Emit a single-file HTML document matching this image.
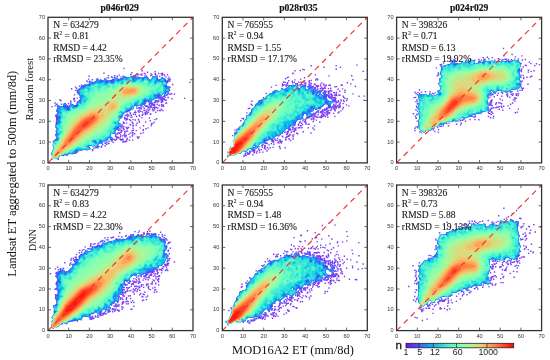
<!DOCTYPE html><html><head><meta charset="utf-8"><style>html,body{margin:0;padding:0;background:#fff;}svg{display:block}</style></head><body>
<svg width="550" height="360" viewBox="0 0 550 360">
<rect width="550" height="360" fill="#fff"/>
<defs><filter id="bl" x="-5%" y="-5%" width="110%" height="110%"><feGaussianBlur stdDeviation="0.45"/></filter><linearGradient id="cb" x1="0" x2="1" y1="0" y2="0"><stop offset="0.00" stop-color="#8000ff"/><stop offset="0.10" stop-color="#4e4dfc"/><stop offset="0.20" stop-color="#1996f3"/><stop offset="0.30" stop-color="#18cde4"/><stop offset="0.40" stop-color="#4df3ce"/><stop offset="0.50" stop-color="#80ffb4"/><stop offset="0.60" stop-color="#b2f396"/><stop offset="0.70" stop-color="#e6cd73"/><stop offset="0.80" stop-color="#ff964f"/><stop offset="0.90" stop-color="#ff4d27"/><stop offset="1.00" stop-color="#ff0000"/></linearGradient></defs>
<g filter="url(#bl)">
<path fill="#5a58f2" d="M165.4 94.4h1.4v1.4h-1.4zM119.5 124.7h1.4v1.4h-1.4zM119.2 127.5h1.4v1.4h-1.4zM127.1 113.9h1.4v1.4h-1.4zM104.7 142.6h1.4v1.4h-1.4zM94.9 146.8h1.4v1.4h-1.4zM154.7 100.1h1.4v1.4h-1.4zM105.1 142.4h1.4v1.4h-1.4zM109.7 139.1h1.4v1.4h-1.4zM154.5 101.3h1.4v1.4h-1.4zM114.9 133.9h1.4v1.4h-1.4zM97.4 145.5h1.4v1.4h-1.4zM145.6 105.3h1.4v1.4h-1.4zM138.9 107.2h1.4v1.4h-1.4zM158.3 98.3h1.4v1.4h-1.4zM104.3 142.4h1.4v1.4h-1.4zM148.6 103.8h1.4v1.4h-1.4zM140.3 106.1h1.4v1.4h-1.4zM159.0 97.5h1.4v1.4h-1.4zM116.2 133.2h1.4v1.4h-1.4zM160.3 96.4h1.4v1.4h-1.4zM108.1 140.8h1.4v1.4h-1.4zM166.8 93.8h1.4v1.4h-1.4zM106.1 141.4h1.4v1.4h-1.4zM166.0 93.9h1.4v1.4h-1.4zM111.0 140.0h1.4v1.4h-1.4zM161.7 97.1h1.4v1.4h-1.4zM116.8 133.4h1.4v1.4h-1.4zM124.6 114.7h1.4v1.4h-1.4zM93.3 147.6h1.4v1.4h-1.4zM98.4 145.9h1.4v1.4h-1.4zM160.2 97.1h1.4v1.4h-1.4zM129.4 111.9h1.4v1.4h-1.4zM145.1 105.8h1.4v1.4h-1.4zM161.0 97.2h1.4v1.4h-1.4zM118.1 129.6h1.4v1.4h-1.4zM124.5 114.8h1.4v1.4h-1.4zM114.9 135.2h1.4v1.4h-1.4zM154.3 101.8h1.4v1.4h-1.4zM162.7 95.7h1.4v1.4h-1.4zM111.8 138.9h1.4v1.4h-1.4zM144.1 104.5h1.4v1.4h-1.4zM150.4 103.2h1.4v1.4h-1.4zM167.7 93.2h1.4v1.4h-1.4zM123.9 116.7h1.4v1.4h-1.4zM140.3 107.4h1.4v1.4h-1.4zM142.5 106.2h1.4v1.4h-1.4zM118.5 129.6h1.4v1.4h-1.4zM105.0 142.3h1.4v1.4h-1.4zM120.3 126.1h1.4v1.4h-1.4zM138.4 107.0h1.4v1.4h-1.4zM160.1 98.1h1.4v1.4h-1.4zM117.0 132.7h1.4v1.4h-1.4zM111.0 140.0h1.4v1.4h-1.4zM153.5 102.1h1.4v1.4h-1.4zM114.8 135.8h1.4v1.4h-1.4zM167.4 92.8h1.4v1.4h-1.4zM95.3 146.9h1.4v1.4h-1.4zM160.5 96.7h1.4v1.4h-1.4zM155.4 99.9h1.4v1.4h-1.4zM91.8 148.9h1.4v1.4h-1.4zM96.6 145.7h1.4v1.4h-1.4zM110.6 138.5h1.4v1.4h-1.4zM126.4 113.6h1.4v1.4h-1.4zM166.0 94.5h1.4v1.4h-1.4zM96.2 146.8h1.4v1.4h-1.4zM149.1 103.1h1.4v1.4h-1.4zM161.9 96.6h1.4v1.4h-1.4zM102.1 143.8h1.4v1.4h-1.4zM155.0 100.9h1.4v1.4h-1.4zM117.7 129.1h1.4v1.4h-1.4zM145.7 75.6h1.4v1.4h-1.4zM155.2 74.2h1.4v1.4h-1.4zM169.3 86.5h1.4v1.4h-1.4zM168.9 89.9h1.4v1.4h-1.4zM158.9 75.7h1.4v1.4h-1.4zM113.8 76.8h1.4v1.4h-1.4zM56.4 103.5h1.4v1.4h-1.4zM155.4 101.1h1.4v1.4h-1.4zM163.5 95.7h1.4v1.4h-1.4zM148.6 103.4h1.4v1.4h-1.4zM161.3 74.5h1.4v1.4h-1.4zM153.8 101.8h1.4v1.4h-1.4zM74.0 100.5h1.4v1.4h-1.4zM161.6 74.1h1.4v1.4h-1.4zM70.2 102.6h1.4v1.4h-1.4zM123.6 76.3h1.4v1.4h-1.4zM152.6 75.9h1.4v1.4h-1.4zM96.5 77.9h1.4v1.4h-1.4zM120.2 76.4h1.4v1.4h-1.4zM87.2 81.2h1.4v1.4h-1.4zM75.2 89.7h1.4v1.4h-1.4zM63.5 103.2h1.4v1.4h-1.4zM122.6 75.8h1.4v1.4h-1.4zM97.4 78.8h1.4v1.4h-1.4zM144.2 75.3h1.4v1.4h-1.4zM141.2 74.6h1.4v1.4h-1.4zM164.1 94.3h1.4v1.4h-1.4zM145.5 105.7h1.4v1.4h-1.4zM150.2 102.6h1.4v1.4h-1.4zM67.8 103.1h1.4v1.4h-1.4zM130.6 75.5h1.4v1.4h-1.4zM168.3 78.3h1.4v1.4h-1.4zM116.5 76.1h1.4v1.4h-1.4zM107.9 77.2h1.4v1.4h-1.4zM114.4 76.9h1.4v1.4h-1.4zM111.7 76.8h1.4v1.4h-1.4zM156.6 75.2h1.4v1.4h-1.4zM167.7 92.6h1.4v1.4h-1.4zM168.2 80.0h1.4v1.4h-1.4zM168.5 89.0h1.4v1.4h-1.4zM130.4 75.8h1.4v1.4h-1.4zM55.5 103.7h1.4v1.4h-1.4zM106.3 77.2h1.4v1.4h-1.4zM139.1 107.2h1.4v1.4h-1.4zM104.1 78.0h1.4v1.4h-1.4zM63.4 103.7h1.4v1.4h-1.4zM64.7 103.0h1.4v1.4h-1.4zM138.0 107.4h1.4v1.4h-1.4zM163.0 95.4h1.4v1.4h-1.4zM168.8 87.4h1.4v1.4h-1.4zM89.0 80.6h1.4v1.4h-1.4zM168.8 86.8h1.4v1.4h-1.4zM156.8 100.1h1.4v1.4h-1.4zM75.4 89.8h1.4v1.4h-1.4zM64.1 102.9h1.4v1.4h-1.4zM91.6 79.0h1.4v1.4h-1.4zM95.7 79.3h1.4v1.4h-1.4zM124.7 76.2h1.4v1.4h-1.4zM146.0 75.9h1.4v1.4h-1.4zM64.4 103.0h1.4v1.4h-1.4zM167.4 78.2h1.4v1.4h-1.4zM168.9 86.9h1.4v1.4h-1.4zM75.9 87.9h1.4v1.4h-1.4zM60.9 103.5h1.4v1.4h-1.4zM79.0 85.5h1.4v1.4h-1.4zM76.0 87.6h1.4v1.4h-1.4zM133.2 75.1h1.4v1.4h-1.4zM150.4 102.6h1.4v1.4h-1.4zM169.3 78.9h1.4v1.4h-1.4zM80.8 84.4h1.4v1.4h-1.4zM169.5 78.5h1.4v1.4h-1.4zM150.1 74.9h1.4v1.4h-1.4zM54.4 105.2h1.4v1.4h-1.4zM165.3 76.4h1.4v1.4h-1.4zM136.2 107.6h1.4v1.4h-1.4zM169.1 80.4h1.4v1.4h-1.4zM139.3 107.7h1.4v1.4h-1.4zM89.1 81.0h1.4v1.4h-1.4zM160.6 96.8h1.4v1.4h-1.4zM163.9 74.9h1.4v1.4h-1.4zM70.0 102.2h1.4v1.4h-1.4zM79.2 96.7h1.4v1.4h-1.4zM151.7 103.3h1.4v1.4h-1.4zM122.3 75.6h1.4v1.4h-1.4zM110.8 76.1h1.4v1.4h-1.4zM167.9 92.2h1.4v1.4h-1.4zM77.3 93.3h1.4v1.4h-1.4z"/>
<path fill="#7e3cf4" d="M126.8 130.4h1.4v1.4h-1.4zM115.8 138.6h1.4v1.4h-1.4zM116.6 137.0h1.4v1.4h-1.4zM141.8 111.3h1.4v1.4h-1.4zM121.7 124.4h1.4v1.4h-1.4zM120.4 139.6h1.4v1.4h-1.4zM135.2 111.9h1.4v1.4h-1.4zM122.9 141.0h1.4v1.4h-1.4zM149.3 107.0h1.4v1.4h-1.4zM154.4 106.5h1.4v1.4h-1.4zM144.4 111.6h1.4v1.4h-1.4zM146.3 109.3h1.4v1.4h-1.4zM125.8 117.7h1.4v1.4h-1.4zM121.4 125.6h1.4v1.4h-1.4zM139.5 127.2h1.4v1.4h-1.4zM116.0 136.3h1.4v1.4h-1.4zM138.4 136.3h1.4v1.4h-1.4zM142.8 125.1h1.4v1.4h-1.4zM141.3 117.2h1.4v1.4h-1.4zM138.5 120.4h1.4v1.4h-1.4zM144.7 113.8h1.4v1.4h-1.4zM143.5 107.6h1.4v1.4h-1.4zM149.8 105.7h1.4v1.4h-1.4zM138.6 114.6h1.4v1.4h-1.4zM126.8 115.8h1.4v1.4h-1.4zM122.8 122.7h1.4v1.4h-1.4zM120.8 129.4h1.4v1.4h-1.4zM138.3 111.6h1.4v1.4h-1.4zM132.4 125.4h1.4v1.4h-1.4zM122.2 141.3h1.4v1.4h-1.4zM158.4 104.4h1.4v1.4h-1.4zM142.4 132.2h1.4v1.4h-1.4zM146.0 113.0h1.4v1.4h-1.4zM159.9 109.8h1.4v1.4h-1.4zM134.5 110.4h1.4v1.4h-1.4zM121.2 127.2h1.4v1.4h-1.4zM132.8 129.5h1.4v1.4h-1.4zM129.7 132.2h1.4v1.4h-1.4zM161.9 101.0h1.4v1.4h-1.4zM119.9 135.6h1.4v1.4h-1.4zM158.8 104.9h1.4v1.4h-1.4zM153.2 121.9h1.4v1.4h-1.4zM120.9 139.1h1.4v1.4h-1.4zM139.0 115.3h1.4v1.4h-1.4zM108.1 142.8h1.4v1.4h-1.4zM156.0 106.8h1.4v1.4h-1.4zM126.1 117.8h1.4v1.4h-1.4zM164.9 99.7h1.4v1.4h-1.4zM142.2 113.6h1.4v1.4h-1.4zM127.9 126.8h1.4v1.4h-1.4zM160.9 103.7h1.4v1.4h-1.4zM152.4 110.0h1.4v1.4h-1.4zM117.2 137.2h1.4v1.4h-1.4zM132.0 139.4h1.4v1.4h-1.4zM148.8 108.7h1.4v1.4h-1.4zM132.3 122.5h1.4v1.4h-1.4zM132.3 127.5h1.4v1.4h-1.4zM126.2 128.0h1.4v1.4h-1.4zM147.6 106.2h1.4v1.4h-1.4zM154.3 118.9h1.4v1.4h-1.4zM124.3 136.1h1.4v1.4h-1.4zM151.4 123.2h1.4v1.4h-1.4zM138.3 109.8h1.4v1.4h-1.4zM124.4 131.4h1.4v1.4h-1.4zM126.1 118.9h1.4v1.4h-1.4zM133.9 133.0h1.4v1.4h-1.4zM147.2 127.2h1.4v1.4h-1.4zM123.2 125.8h1.4v1.4h-1.4zM146.7 105.3h1.4v1.4h-1.4zM150.9 105.2h1.4v1.4h-1.4zM150.3 105.2h1.4v1.4h-1.4zM162.2 109.9h1.4v1.4h-1.4zM153.9 104.1h1.4v1.4h-1.4zM130.7 114.5h1.4v1.4h-1.4zM129.9 124.0h1.4v1.4h-1.4zM117.8 136.8h1.4v1.4h-1.4zM140.1 132.8h1.4v1.4h-1.4zM132.8 113.7h1.4v1.4h-1.4zM150.6 125.2h1.4v1.4h-1.4zM112.5 141.5h1.4v1.4h-1.4zM111.3 139.9h1.4v1.4h-1.4zM150.7 123.6h1.4v1.4h-1.4zM158.0 100.2h1.4v1.4h-1.4zM131.5 121.6h1.4v1.4h-1.4zM132.4 118.9h1.4v1.4h-1.4zM124.1 135.8h1.4v1.4h-1.4zM124.0 118.1h1.4v1.4h-1.4zM132.3 132.1h1.4v1.4h-1.4zM101.0 145.6h1.4v1.4h-1.4zM119.3 137.6h1.4v1.4h-1.4zM123.5 122.5h1.4v1.4h-1.4zM159.0 109.8h1.4v1.4h-1.4zM160.2 98.7h1.4v1.4h-1.4zM161.3 98.3h1.4v1.4h-1.4zM125.8 122.4h1.4v1.4h-1.4zM131.4 116.4h1.4v1.4h-1.4zM124.7 117.8h1.4v1.4h-1.4zM152.2 106.9h1.4v1.4h-1.4zM113.9 139.2h1.4v1.4h-1.4zM129.5 123.8h1.4v1.4h-1.4zM131.6 132.6h1.4v1.4h-1.4zM132.5 124.4h1.4v1.4h-1.4zM125.3 140.6h1.4v1.4h-1.4zM146.5 112.5h1.4v1.4h-1.4zM164.3 96.9h1.4v1.4h-1.4zM117.0 136.4h1.4v1.4h-1.4zM129.3 136.4h1.4v1.4h-1.4zM125.5 130.6h1.4v1.4h-1.4zM140.8 108.2h1.4v1.4h-1.4zM125.4 134.5h1.4v1.4h-1.4zM157.1 107.4h1.4v1.4h-1.4zM167.7 96.8h1.4v1.4h-1.4zM123.2 129.2h1.4v1.4h-1.4zM126.4 137.5h1.4v1.4h-1.4zM147.7 111.7h1.4v1.4h-1.4zM135.9 115.8h1.4v1.4h-1.4zM119.8 131.6h1.4v1.4h-1.4zM152.9 106.9h1.4v1.4h-1.4zM145.2 128.0h1.4v1.4h-1.4zM144.9 121.3h1.4v1.4h-1.4zM125.6 126.7h1.4v1.4h-1.4zM142.0 113.7h1.4v1.4h-1.4zM139.0 109.6h1.4v1.4h-1.4zM154.5 107.2h1.4v1.4h-1.4zM97.1 147.1h1.4v1.4h-1.4zM138.6 121.3h1.4v1.4h-1.4zM134.7 113.8h1.4v1.4h-1.4zM150.1 113.3h1.4v1.4h-1.4zM129.9 119.9h1.4v1.4h-1.4zM135.6 129.9h1.4v1.4h-1.4zM150.1 106.7h1.4v1.4h-1.4zM154.0 107.5h1.4v1.4h-1.4zM137.8 118.8h1.4v1.4h-1.4zM157.0 109.8h1.4v1.4h-1.4zM135.5 124.6h1.4v1.4h-1.4zM167.2 96.7h1.4v1.4h-1.4zM120.3 131.7h1.4v1.4h-1.4zM122.3 139.0h1.4v1.4h-1.4zM125.1 141.2h1.4v1.4h-1.4zM128.8 139.5h1.4v1.4h-1.4zM124.0 133.0h1.4v1.4h-1.4zM165.7 99.4h1.4v1.4h-1.4zM165.9 102.3h1.4v1.4h-1.4zM91.9 149.8h1.4v1.4h-1.4zM153.7 105.1h1.4v1.4h-1.4zM146.1 110.9h1.4v1.4h-1.4zM151.2 122.8h1.4v1.4h-1.4zM120.5 131.4h1.4v1.4h-1.4zM141.8 111.3h1.4v1.4h-1.4zM136.7 136.3h1.4v1.4h-1.4zM137.4 110.5h1.4v1.4h-1.4zM148.7 117.3h1.4v1.4h-1.4zM131.4 130.1h1.4v1.4h-1.4zM128.3 133.7h1.4v1.4h-1.4zM161.1 105.5h1.4v1.4h-1.4zM142.6 129.1h1.4v1.4h-1.4zM143.3 109.7h1.4v1.4h-1.4zM126.4 138.1h1.4v1.4h-1.4zM160.6 101.6h1.4v1.4h-1.4zM129.7 113.0h1.4v1.4h-1.4zM149.6 113.5h1.4v1.4h-1.4zM118.7 132.6h1.4v1.4h-1.4zM100.6 146.4h1.4v1.4h-1.4zM124.2 135.2h1.4v1.4h-1.4zM117.8 132.0h1.4v1.4h-1.4zM113.2 138.7h1.4v1.4h-1.4zM147.3 107.4h1.4v1.4h-1.4zM125.6 135.2h1.4v1.4h-1.4zM137.3 137.5h1.4v1.4h-1.4zM130.1 116.4h1.4v1.4h-1.4zM162.7 98.7h1.4v1.4h-1.4zM144.5 113.0h1.4v1.4h-1.4zM140.1 110.7h1.4v1.4h-1.4zM151.8 108.6h1.4v1.4h-1.4zM155.9 118.0h1.4v1.4h-1.4zM122.7 121.4h1.4v1.4h-1.4zM115.8 136.8h1.4v1.4h-1.4zM160.7 100.0h1.4v1.4h-1.4zM122.7 127.5h1.4v1.4h-1.4zM164.4 96.3h1.4v1.4h-1.4zM163.2 98.1h1.4v1.4h-1.4zM121.2 130.1h1.4v1.4h-1.4zM136.4 122.5h1.4v1.4h-1.4zM114.9 139.6h1.4v1.4h-1.4zM104.5 145.0h1.4v1.4h-1.4zM107.5 142.8h1.4v1.4h-1.4zM129.1 119.0h1.4v1.4h-1.4zM125.4 119.4h1.4v1.4h-1.4zM162.8 105.5h1.4v1.4h-1.4zM122.0 138.2h1.4v1.4h-1.4zM105.9 143.7h1.4v1.4h-1.4zM132.1 124.5h1.4v1.4h-1.4zM163.9 99.0h1.4v1.4h-1.4zM127.3 126.8h1.4v1.4h-1.4zM141.7 114.5h1.4v1.4h-1.4zM124.5 135.7h1.4v1.4h-1.4zM119.8 129.4h1.4v1.4h-1.4zM126.2 138.9h1.4v1.4h-1.4zM123.5 128.7h1.4v1.4h-1.4zM160.8 108.6h1.4v1.4h-1.4zM134.6 119.3h1.4v1.4h-1.4zM126.8 128.0h1.4v1.4h-1.4zM126.9 118.6h1.4v1.4h-1.4zM144.9 111.9h1.4v1.4h-1.4zM162.1 97.6h1.4v1.4h-1.4zM126.0 140.4h1.4v1.4h-1.4zM134.4 111.9h1.4v1.4h-1.4zM153.3 109.6h1.4v1.4h-1.4zM151.2 103.7h1.4v1.4h-1.4zM144.5 109.4h1.4v1.4h-1.4zM150.2 106.6h1.4v1.4h-1.4zM154.0 108.0h1.4v1.4h-1.4zM123.0 140.7h1.4v1.4h-1.4zM132.1 134.2h1.4v1.4h-1.4zM155.1 111.6h1.4v1.4h-1.4zM157.1 101.3h1.4v1.4h-1.4zM123.8 131.2h1.4v1.4h-1.4zM164.3 96.3h1.4v1.4h-1.4zM119.6 138.7h1.4v1.4h-1.4zM162.7 104.2h1.4v1.4h-1.4zM123.2 134.4h1.4v1.4h-1.4zM164.9 102.4h1.4v1.4h-1.4zM133.7 111.9h1.4v1.4h-1.4zM156.5 103.5h1.4v1.4h-1.4zM119.9 133.8h1.4v1.4h-1.4zM148.0 109.8h1.4v1.4h-1.4zM131.6 135.3h1.4v1.4h-1.4zM128.2 115.0h1.4v1.4h-1.4zM162.0 99.9h1.4v1.4h-1.4zM126.2 114.7h1.4v1.4h-1.4zM124.5 141.0h1.4v1.4h-1.4zM161.0 104.1h1.4v1.4h-1.4zM149.5 120.0h1.4v1.4h-1.4zM153.3 121.8h1.4v1.4h-1.4zM123.0 122.3h1.4v1.4h-1.4zM121.9 135.2h1.4v1.4h-1.4zM142.7 129.8h1.4v1.4h-1.4zM147.7 105.9h1.4v1.4h-1.4zM161.7 98.8h1.4v1.4h-1.4zM154.6 72.9h1.4v1.4h-1.4zM152.5 103.6h1.4v1.4h-1.4zM143.6 72.7h1.4v1.4h-1.4zM116.6 75.4h1.4v1.4h-1.4zM131.2 71.9h1.4v1.4h-1.4zM73.9 94.2h1.4v1.4h-1.4zM88.4 75.6h1.4v1.4h-1.4zM144.8 73.4h1.4v1.4h-1.4zM70.9 88.1h1.4v1.4h-1.4zM74.8 86.4h1.4v1.4h-1.4zM152.5 104.7h1.4v1.4h-1.4zM150.4 73.3h1.4v1.4h-1.4zM163.4 73.7h1.4v1.4h-1.4zM70.2 100.6h1.4v1.4h-1.4zM118.6 74.4h1.4v1.4h-1.4zM168.3 76.4h1.4v1.4h-1.4zM139.5 73.9h1.4v1.4h-1.4zM170.9 93.0h1.4v1.4h-1.4zM76.7 97.4h1.4v1.4h-1.4zM103.3 72.5h1.4v1.4h-1.4zM158.2 100.4h1.4v1.4h-1.4zM149.3 104.9h1.4v1.4h-1.4zM158.0 72.8h1.4v1.4h-1.4zM73.0 98.3h1.4v1.4h-1.4zM141.6 70.1h1.4v1.4h-1.4zM73.7 97.5h1.4v1.4h-1.4zM169.4 93.5h1.4v1.4h-1.4zM146.8 71.5h1.4v1.4h-1.4zM59.3 99.1h1.4v1.4h-1.4zM86.1 80.3h1.4v1.4h-1.4zM161.7 72.6h1.4v1.4h-1.4zM137.3 74.1h1.4v1.4h-1.4zM141.0 73.2h1.4v1.4h-1.4zM152.0 103.5h1.4v1.4h-1.4zM135.2 74.5h1.4v1.4h-1.4zM113.9 75.1h1.4v1.4h-1.4zM87.9 78.4h1.4v1.4h-1.4zM51.1 105.9h1.4v1.4h-1.4zM73.5 99.0h1.4v1.4h-1.4zM166.8 74.0h1.4v1.4h-1.4zM107.7 74.9h1.4v1.4h-1.4zM150.5 106.3h1.4v1.4h-1.4zM154.6 74.0h1.4v1.4h-1.4zM171.3 98.1h1.4v1.4h-1.4zM136.9 73.3h1.4v1.4h-1.4zM60.3 100.1h1.4v1.4h-1.4zM130.2 73.6h1.4v1.4h-1.4zM54.4 102.3h1.4v1.4h-1.4zM151.3 74.2h1.4v1.4h-1.4zM123.3 67.7h1.4v1.4h-1.4zM160.5 73.0h1.4v1.4h-1.4zM70.1 100.4h1.4v1.4h-1.4zM154.5 71.0h1.4v1.4h-1.4zM172.0 83.8h1.4v1.4h-1.4zM189.2 81.7h1.4v1.4h-1.4zM173.7 93.6h1.4v1.4h-1.4zM184.0 97.7h1.4v1.4h-1.4z"/>
<path fill="#5e35fe" fill-rule="evenodd" d="M58.4,160.3 59.0,160.3 58.4,158.7 58.8,157.7 59.9,156.3 61.5,155.4 62.6,155.6 63.0,156.7 63.3,156.1 65.1,155.2 65.6,155.2 66.6,156.1 69.8,153.8 72.3,154.4 73.9,153.8 76.0,153.7 77.5,152.7 78.6,151.3 79.6,150.8 82.2,150.6 83.7,149.4 86.8,150.5 89.9,149.6 90.7,148.9 90.6,148.3 89.2,146.8 89.4,146.3 91.0,145.3 92.5,146.4 96.2,146.3 97.7,146.9 97.7,145.7 99.3,143.8 100.8,143.4 102.4,144.3 102.7,142.6 103.4,141.8 106.5,141.2 108.5,139.5 108.3,138.5 109.1,137.7 110.1,139.1 114.0,140.0 114.1,139.5 112.7,138.5 112.4,137.4 111.0,136.4 110.8,134.8 111.7,134.1 115.8,133.4 116.0,132.7 115.3,131.7 115.6,130.7 116.4,130.2 117.4,130.2 117.9,129.2 118.8,128.6 119.1,127.0 121.0,126.0 121.5,124.9 121.4,123.9 119.5,123.3 118.8,122.3 118.8,121.8 120.0,119.2 122.2,117.7 123.2,114.5 125.7,112.2 127.2,112.6 128.8,111.4 129.8,111.4 131.4,109.6 133.4,109.2 133.8,108.8 134.1,106.7 135.0,105.8 136.0,105.9 136.8,106.7 136.8,107.3 136.2,108.3 136.6,108.5 137.2,106.7 137.8,106.2 139.7,105.5 141.7,105.8 144.3,104.8 145.9,103.7 146.1,102.6 146.9,101.9 147.9,101.8 149.5,103.4 151.1,103.9 152.1,103.8 152.8,103.1 152.0,102.1 152.0,101.0 153.1,99.7 159.3,98.0 161.2,96.9 161.6,95.3 162.4,94.5 163.5,94.0 165.0,94.6 166.6,93.0 168.7,91.9 169.1,90.6 168.5,88.5 169.2,86.5 167.1,85.8 166.6,84.9 167.1,83.6 168.4,82.8 168.3,81.8 169.4,80.2 169.2,79.2 168.7,79.0 167.1,80.6 166.6,80.6 166.1,80.2 165.6,78.7 164.5,78.6 162.4,77.1 161.4,77.5 160.4,79.0 158.8,79.5 157.9,78.7 157.8,76.6 156.2,76.7 153.1,75.9 152.1,76.7 151.4,79.2 150.0,79.8 148.7,78.7 147.9,77.0 146.4,77.4 144.8,76.8 142.8,77.4 140.2,77.4 138.6,76.4 137.1,76.7 134.0,75.5 132.9,76.1 131.4,76.3 130.3,77.1 127.2,76.9 125.7,77.6 124.1,77.2 121.1,78.1 119.5,79.1 115.8,77.8 114.8,78.5 112.2,79.1 111.2,80.0 109.6,80.0 108.1,80.6 105.5,78.8 102.9,80.3 101.9,80.1 100.8,79.0 99.8,79.8 97.2,79.9 95.1,81.4 92.5,82.0 91.0,81.3 89.9,81.3 89.3,81.8 89.5,82.8 88.9,83.8 86.3,84.6 84.8,84.2 81.7,85.8 80.0,88.0 78.2,89.1 77.0,90.6 77.1,91.7 76.5,92.7 78.0,93.3 78.9,94.3 79.4,95.8 80.4,96.9 80.7,97.9 78.6,100.8 76.8,102.1 76.0,104.9 74.4,105.0 72.3,103.9 70.8,103.9 68.7,105.9 66.6,104.5 64.1,103.6 63.0,105.7 62.0,106.4 60.9,106.4 58.4,105.3 56.2,105.7 57.0,106.7 57.1,107.8 56.1,111.4 57.3,112.5 57.3,113.0 56.8,114.1 55.8,114.5 54.7,115.6 56.1,117.7 55.4,127.0 55.7,128.1 56.7,129.1 56.7,129.6 55.4,131.2 56.0,132.2 56.0,133.3 55.0,134.8 56.6,137.9 56.4,138.5 54.6,139.5 52.6,141.6 53.2,143.7 52.5,145.7 53.7,147.8 51.3,153.5 52.1,157.2 51.2,158.7 51.6,159.2 52.7,159.3 55.2,158.7 57.3,159.3ZM53.3,121.3 53.8,121.3 53.7,120.7 53.2,120.8Z"/>
<path fill="#4062fa" fill-rule="evenodd" d="M58.8,160.3 58.3,158.7 58.6,157.7 59.8,156.1 61.5,155.3 63.5,155.3 65.6,154.8 66.6,155.7 68.0,155.1 69.2,153.7 70.8,153.6 72.3,154.2 73.4,153.6 76.0,153.6 77.3,152.5 77.8,151.5 79.6,150.6 82.2,150.5 83.7,149.2 86.8,150.2 89.9,149.5 90.5,148.3 89.2,147.3 88.6,146.3 91.0,145.2 92.5,146.3 94.6,146.0 97.7,146.5 97.5,145.7 99.3,143.7 100.8,143.2 101.9,143.6 103.9,141.3 106.5,140.9 107.9,139.5 108.3,137.9 109.1,137.3 109.6,137.4 110.1,138.7 113.8,139.8 113.9,139.5 112.4,138.5 112.2,137.5 111.1,136.9 110.6,134.8 111.7,134.0 115.8,133.3 115.1,131.2 115.8,130.2 117.2,129.6 117.0,127.5 117.4,127.0 117.9,127.1 118.4,128.6 118.5,127.5 119.0,127.0 121.0,125.7 121.2,123.9 118.9,123.2 118.6,121.8 120.0,118.9 122.1,117.6 122.7,114.5 125.2,112.3 125.7,111.9 127.2,112.3 127.6,111.9 127.1,110.9 128.3,110.3 129.8,110.4 130.9,108.8 131.4,109.3 132.4,109.5 133.4,109.1 134.2,106.2 135.5,105.0 137.1,106.2 139.7,105.3 141.7,105.5 144.2,104.7 145.6,103.6 146.4,102.1 148.5,101.1 149.1,101.5 149.2,103.1 152.1,103.6 152.6,103.1 151.7,102.1 151.7,101.0 153.6,99.2 157.0,98.4 157.8,97.8 159.1,97.9 161.0,96.9 161.1,95.8 163.0,94.0 164.0,93.9 165.0,94.3 166.6,92.8 168.7,91.7 168.9,90.1 168.3,88.5 168.9,87.0 168.8,86.5 167.1,86.2 166.4,85.4 167.1,83.1 167.5,82.8 164.8,81.3 164.6,80.7 165.5,79.7 165.6,79.1 164.5,79.0 163.1,77.6 162.4,77.4 161.6,77.6 160.4,79.1 158.8,80.2 157.3,79.7 157.1,79.2 157.2,78.1 157.8,77.1 153.1,76.1 152.1,77.1 151.9,78.7 150.5,80.0 149.4,79.7 147.9,77.3 146.4,77.6 144.8,77.0 143.4,77.6 143.3,79.6 142.8,79.4 142.5,77.6 139.7,77.6 138.6,76.9 137.1,76.9 134.0,75.8 132.9,76.4 131.4,76.5 129.8,77.3 127.8,77.0 125.7,77.8 124.6,77.4 123.6,77.6 122.5,78.1 122.2,79.2 121.0,79.6 118.9,79.8 117.5,78.7 115.8,78.0 114.3,79.3 112.6,79.2 113.1,81.3 111.7,82.4 111.2,82.2 110.7,80.4 109.6,80.2 108.1,81.3 107.0,82.7 106.0,82.8 105.5,81.8 105.8,81.3 107.4,80.7 105.5,78.9 102.9,80.6 101.9,80.4 100.8,79.4 99.8,80.0 97.2,80.1 95.1,81.8 93.6,81.7 92.5,82.3 91.0,81.4 89.9,81.4 89.4,81.8 89.8,82.8 89.4,84.2 86.3,84.9 84.8,84.4 83.7,85.2 81.9,85.9 81.7,87.5 80.1,88.2 78.6,90.1 77.5,90.6 76.9,92.7 78.3,93.2 80.9,97.4 80.2,100.5 79.1,100.6 77.0,102.3 76.8,104.1 77.5,105.7 77.0,106.6 75.6,106.7 75.1,105.7 73.4,105.0 72.5,104.1 70.8,104.1 69.0,106.2 68.9,108.3 69.7,109.3 69.2,110.2 68.1,109.9 66.1,107.5 64.6,107.4 63.4,106.2 60.9,106.6 58.9,105.6 56.6,105.7 57.2,106.7 57.2,108.3 56.3,111.0 57.8,111.4 58.4,111.9 58.4,112.5 56.8,114.5 55.8,114.9 55.1,115.6 56.3,116.7 57.8,116.5 58.6,116.6 58.8,117.1 57.8,118.9 56.3,119.6 56.0,121.8 57.3,122.9 57.4,123.4 56.8,123.9 55.8,124.1 55.6,127.0 55.8,127.7 57.3,129.1 57.3,129.6 55.8,130.8 56.2,133.3 55.2,134.8 56.3,137.1 58.0,139.0 57.6,139.5 56.1,139.5 52.9,141.6 52.7,142.1 53.4,143.7 52.6,145.7 53.9,147.3 53.9,147.8 51.5,153.0 52.1,157.2 51.4,158.7 52.7,159.3 55.2,158.6 57.3,159.1ZM76.0,151.5 75.9,150.4 76.5,150.4 76.8,151.5ZM92.5,83.4 92.5,82.4 93.0,82.8ZM94.6,141.7 94.0,141.1 94.6,140.6 95.8,141.6 95.6,141.9ZM100.3,142.0 99.9,141.1 100.3,140.5 100.8,140.4 101.0,141.6ZM133.4,79.5 132.9,78.5 134.0,77.6 134.5,78.1ZM143.8,103.4 143.5,102.6 143.8,101.6 145.4,99.6 145.9,100.0 145.7,100.5 144.7,101.5 144.3,103.4ZM155.2,82.4 155.2,82.0 155.5,82.3ZM158.3,96.9 157.8,96.8 157.5,95.3 158.3,94.4 158.8,94.3 159.8,95.8ZM165.6,91.3 165.6,90.9 166.3,91.1 166.1,91.5ZM100.3,81.8 100.5,80.7 101.3,80.7 101.6,81.8 101.3,82.1ZM165.6,87.0 165.3,86.5 166.1,86.3 166.3,87.0 166.1,87.3ZM66.6,106.7 67.7,107.1 68.4,106.7 68.6,106.2 66.5,104.7 64.1,103.9 63.6,104.7 63.8,105.2 65.6,105.9ZM167.6,80.7 168.1,81.2 168.7,81.0 169.2,80.2 169.2,79.5 168.7,79.1Z"/>
<path fill="#2884f6" fill-rule="evenodd" d="M57.7,159.3 58.4,159.5 58.5,157.7 59.7,156.1 61.5,155.2 64.1,155.0 65.6,154.4 66.6,155.4 67.2,155.4 69.2,153.6 70.8,153.4 72.4,154.1 73.9,152.7 74.5,153.5 75.8,153.5 76.6,152.5 75.2,151.5 76.0,149.8 76.8,149.9 77.5,151.2 79.6,150.5 81.9,150.4 83.7,149.1 86.8,149.9 89.9,149.4 90.4,148.9 90.3,148.3 88.3,146.8 88.1,146.3 88.4,145.7 91.0,145.1 92.5,146.2 94.6,145.9 97.2,146.3 98.4,144.2 99.8,143.2 100.6,143.1 100.8,142.6 99.8,142.0 99.9,140.5 100.8,140.2 101.3,140.5 101.4,141.6 100.8,142.6 100.9,143.1 101.9,143.3 103.4,141.4 105.5,140.4 106.5,140.6 107.0,140.1 108.0,137.9 109.1,137.1 110.3,137.4 110.2,138.5 111.0,139.0 113.8,139.7 111.7,137.5 110.7,136.9 110.4,134.8 111.2,134.0 115.5,133.3 115.6,132.7 115.0,131.2 115.8,130.1 116.8,129.6 116.8,127.0 117.4,126.7 118.4,127.0 121.0,125.6 121.1,123.9 118.9,123.6 118.5,121.8 120.0,118.7 122.1,117.2 122.2,115.1 123.1,113.4 124.1,113.1 126.9,110.4 129.8,109.6 130.9,108.0 131.9,109.3 133.4,109.0 134.0,106.4 135.5,104.5 137.6,105.9 141.2,104.8 141.7,103.5 142.3,103.6 142.3,104.1 141.5,105.2 143.9,104.7 144.1,104.1 143.3,103.5 143.2,102.6 144.8,99.3 145.4,99.1 146.7,100.0 144.9,102.1 144.8,103.7 145.4,103.6 146.4,101.8 148.5,100.6 149.5,101.5 149.5,103.1 151.5,103.6 152.1,103.3 152.3,103.1 151.5,101.5 151.9,100.5 153.6,99.1 156.5,98.4 157.1,97.9 157.4,96.9 157.1,95.3 158.3,94.1 158.8,94.0 160.4,95.7 160.9,95.8 163.0,93.9 165.0,93.9 166.6,92.5 168.7,91.6 168.8,90.1 168.1,88.0 168.7,86.9 168.0,86.5 167.1,86.5 167.1,87.2 168.0,88.0 167.1,88.3 165.6,87.7 164.6,86.5 164.6,85.9 166.1,85.6 166.9,82.8 164.5,81.3 164.5,79.7 162.6,77.6 161.9,77.7 159.7,79.7 159.4,80.7 158.8,80.9 156.7,80.2 156.6,79.2 157.1,77.1 153.1,76.2 152.5,76.6 151.7,79.2 150.0,80.2 149.0,79.6 147.9,77.5 146.4,77.8 144.3,77.2 143.9,77.6 143.8,79.4 142.8,80.2 142.4,78.1 141.7,77.6 138.1,78.1 137.4,77.1 134.0,76.0 133.4,76.4 131.4,76.5 129.8,77.4 127.7,77.1 125.7,78.0 124.6,77.5 123.6,77.6 122.1,79.6 117.9,80.9 117.2,80.7 117.7,79.2 115.8,78.1 114.6,79.7 114.5,81.3 113.8,82.6 111.2,82.7 110.7,82.4 110.2,80.7 109.6,80.6 107.0,83.2 106.0,83.2 105.3,82.3 105.1,81.3 106.8,80.7 106.8,80.2 105.5,79.0 104.9,79.2 103.4,80.6 102.2,80.7 101.9,82.3 101.3,82.5 99.8,82.2 99.6,81.8 100.1,80.2 99.3,80.1 97.2,80.2 96.1,81.3 95.7,82.3 94.1,82.3 92.8,83.9 92.0,83.8 91.7,83.3 92.0,82.3 91.6,81.8 90.5,81.4 89.5,81.8 90.0,83.9 89.9,85.4 89.5,85.9 87.9,84.5 85.8,85.5 84.2,87.4 82.7,86.9 82.2,87.2 81.7,88.1 80.1,88.7 78.0,91.1 77.8,91.7 78.9,92.7 78.9,93.7 80.7,96.3 81.0,97.9 80.6,100.9 80.1,101.4 79.1,101.2 77.2,102.6 77.1,104.1 77.8,105.7 77.2,106.7 75.4,107.0 72.0,104.1 70.8,104.2 69.3,107.3 69.9,109.9 69.2,110.4 67.6,109.9 66.1,108.0 64.6,107.7 63.0,106.5 60.9,106.7 58.9,106.2 58.6,105.7 57.0,105.7 57.4,107.3 57.1,110.4 58.9,111.9 57.3,114.5 55.5,115.6 55.8,116.1 59.4,116.2 59.7,117.1 59.4,118.2 57.8,119.7 56.6,120.3 56.4,121.3 57.9,122.9 57.9,123.4 55.8,124.9 55.7,125.5 55.8,127.3 56.8,127.9 57.7,129.1 57.3,130.0 55.8,131.2 56.5,132.2 56.7,133.8 56.0,135.3 56.4,136.9 57.8,138.1 58.3,139.0 57.8,139.8 54.2,140.7 52.9,142.1 53.4,143.7 52.7,145.7 54.0,147.3 54.0,147.8 51.6,153.0 52.2,157.2 51.4,158.7 52.7,159.2 55.2,158.5ZM58.9,122.1 58.9,121.3 59.4,121.2 59.9,121.8 59.4,122.3ZM80.6,102.7 80.3,102.6 80.6,102.2ZM95.1,142.3 93.7,141.1 94.1,140.5 95.1,140.5 96.2,141.6 96.2,142.6ZM114.3,129.3 114.1,128.6 115.0,128.6 114.8,129.5ZM119.5,116.8 119.5,116.0 120.5,116.6ZM133.4,80.3 132.8,79.7 132.7,78.1 133.4,77.2 134.5,76.8 135.0,78.1ZM155.2,96.4 154.2,95.4 154.2,94.8 155.7,95.3 156.2,95.8ZM165.6,91.8 165.1,91.1 165.3,90.6 166.1,90.4 166.6,91.4 166.1,91.9ZM155.2,82.9 154.9,81.8 155.7,81.6 156.0,82.3 155.7,82.8ZM66.7,106.2 67.2,106.5 67.8,106.2 66.6,105.0 64.6,103.9 63.9,104.1 64.1,104.9 65.6,105.4ZM158.7,97.4 159.3,97.5 160.5,96.9 160.4,96.5 159.9,96.4ZM83.1,85.4 83.2,85.8 84.3,85.4ZM168.3,80.7 169.1,80.2 169.2,79.7 168.7,79.3 168.0,80.2Z"/>
<path fill="#0ea5ef" fill-rule="evenodd" d="M51.5,158.7 52.7,159.1 55.2,158.4 57.8,159.2 58.4,157.7 59.9,155.9 62.0,155.0 64.6,154.6 65.3,154.1 67.2,155.1 69.8,153.3 72.3,153.6 75.5,149.9 76.5,149.3 77.2,149.4 77.4,150.4 78.0,150.9 81.7,150.2 83.7,149.0 86.3,149.7 89.9,149.4 90.0,148.3 87.5,146.3 88.4,145.4 91.0,145.0 93.1,146.1 94.1,145.8 96.7,146.0 99.5,143.1 99.5,141.1 100.2,140.0 101.2,140.0 101.7,140.5 101.9,142.7 105.5,139.9 107.0,139.5 108.1,137.4 110.3,136.4 110.3,134.8 110.7,134.1 115.2,132.7 114.8,131.7 115.2,130.1 113.8,129.2 113.8,128.4 115.8,128.0 116.2,127.0 116.9,126.5 118.9,126.5 121.0,125.3 121.0,124.0 118.9,124.0 118.4,123.4 118.4,121.8 120.6,117.7 118.9,116.8 118.9,116.0 120.0,115.8 121.5,116.5 122.8,113.0 124.1,112.7 126.7,110.0 129.3,109.3 131.4,107.0 131.9,108.9 132.4,109.3 133.4,108.9 133.7,106.7 135.0,103.5 135.9,103.6 136.7,105.2 137.6,105.8 140.6,104.7 141.2,103.6 142.8,102.9 143.3,101.0 144.8,98.8 147.9,100.2 149.0,100.2 150.5,102.6 151.6,100.3 154.2,98.6 156.2,98.2 156.9,97.4 156.8,96.6 154.7,96.8 153.7,94.8 154.2,94.5 156.8,95.0 158.8,93.6 160.9,95.5 162.4,94.1 165.2,92.7 164.8,91.1 165.6,90.1 166.7,90.6 167.0,91.1 166.7,92.2 168.3,91.7 168.8,90.6 168.1,89.0 165.3,88.0 164.1,85.9 164.1,85.4 166.1,85.1 166.6,83.9 166.5,82.8 164.1,81.3 164.0,79.7 163.0,78.3 162.4,78.1 161.4,78.6 160.1,79.7 159.9,81.1 158.8,81.3 156.2,80.5 156.5,77.1 153.1,76.4 152.6,76.6 151.9,79.2 149.5,80.7 147.9,78.2 146.9,78.4 144.8,77.4 144.3,77.6 144.2,79.2 142.8,80.7 141.7,77.9 137.6,78.9 137.2,78.7 137.4,77.6 136.0,76.9 135.6,77.1 135.4,78.7 134.0,81.5 132.5,80.2 132.6,76.6 131.9,76.5 130.3,77.4 126.9,77.6 126.6,78.1 126.8,79.2 126.2,79.5 125.6,78.1 124.8,77.6 124.0,77.6 122.4,79.7 117.9,81.4 117.4,81.4 116.8,80.7 117.3,79.2 117.0,78.7 115.8,78.3 115.2,79.2 114.3,82.7 113.8,83.1 110.7,83.0 110.1,81.5 109.6,81.1 107.0,83.5 106.5,83.6 105.5,83.2 104.4,81.3 103.9,81.2 102.9,81.4 101.9,82.7 99.3,82.8 98.8,81.8 99.4,80.7 98.8,80.2 97.2,80.4 96.5,81.3 96.4,82.3 95.6,82.8 94.1,83.3 93.6,83.9 92.0,84.1 91.0,83.9 91.7,82.3 91.4,81.8 89.6,81.8 90.9,83.9 89.9,86.1 89.4,86.3 87.9,85.3 86.8,85.4 85.8,86.2 84.8,87.7 83.7,88.0 82.7,87.7 80.6,89.1 78.8,91.1 79.5,92.7 79.3,93.7 79.6,94.6 81.4,96.3 80.9,101.5 81.3,102.6 80.6,103.2 79.1,101.9 77.5,102.5 77.4,104.1 78.1,105.7 77.5,106.7 76.0,107.3 75.0,107.3 71.8,104.5 70.8,104.6 69.5,107.8 70.1,109.9 69.2,110.6 67.0,109.9 66.1,109.3 65.8,108.3 64.6,108.1 62.7,106.7 59.9,107.1 59.7,109.3 58.9,109.7 57.8,109.3 59.0,107.8 57.8,106.7 57.8,106.0 57.7,106.2 57.8,110.4 58.9,111.2 59.7,112.5 58.2,113.5 57.2,115.1 57.3,115.6 59.4,115.8 60.5,117.1 60.0,118.7 59.0,119.7 60.5,122.3 58.9,123.0 58.0,123.9 56.3,124.9 55.8,125.9 56.2,127.0 58.0,129.1 57.8,129.9 56.4,131.2 57.7,134.3 56.5,136.4 58.1,137.9 58.6,139.0 57.8,140.1 54.2,141.0 53.1,142.1 53.5,143.7 52.8,145.7 54.0,147.3 54.1,147.8 51.7,153.0 52.2,157.2ZM82.7,96.1 82.4,95.8 82.7,95.6 83.3,95.8ZM95.1,142.7 93.4,141.1 93.7,140.5 95.1,140.4 96.4,141.6 96.7,142.7 95.6,143.1ZM136.6,79.9 136.2,79.7 136.5,79.2 137.1,79.1ZM150.5,99.8 150.2,99.5 150.5,98.9 151.2,99.5ZM155.2,83.2 154.5,81.8 155.7,81.0 156.2,82.3 155.7,83.1ZM161.4,82.0 161.1,81.8 161.2,81.3 162.5,81.3 162.4,81.9ZM60.4,113.2 60.4,112.5 61.1,113.0 60.9,113.5ZM75.4,153.5 76.1,153.0 76.0,152.5 74.9,152.2 74.7,153.0ZM112.7,139.5 113.8,139.5 112.7,139.2ZM111.2,139.0 112.6,139.0 111.2,137.7 110.6,138.5ZM115.5,129.6 116.1,129.6 115.8,128.6ZM57.6,121.8 58.0,121.8 58.1,121.3 57.3,120.7 57.1,121.3ZM64.4,104.7 65.2,104.7 64.6,104.0 64.0,104.1ZM142.7,104.7 143.3,104.7 143.3,104.2ZM145.3,102.6 145.9,102.1 146.0,101.5ZM104.3,80.2 105.0,80.7 106.6,80.2 105.5,79.1 104.4,79.7ZM168.4,80.2 168.8,80.2 168.7,79.6Z"/>
<path fill="#0dc2e8" fill-rule="evenodd" d="M51.6,158.7 53.2,159.0 55.2,158.4 57.8,159.0 58.2,157.7 59.9,155.8 62.0,154.8 64.1,154.5 65.1,153.8 67.2,154.5 69.2,153.0 72.3,153.0 75.4,149.6 77.0,148.7 77.7,148.9 78.0,150.5 81.1,149.3 82.2,149.5 83.7,148.9 86.3,149.4 89.6,149.4 90.0,148.9 89.6,148.3 86.7,146.8 86.8,146.3 88.4,145.1 91.0,144.9 93.1,146.0 96.8,145.7 97.7,144.2 99.1,143.1 99.4,140.5 99.8,140.0 100.8,139.7 101.7,140.0 102.4,141.8 104.5,140.5 108.6,136.6 110.1,135.9 110.1,134.8 110.7,133.8 113.3,133.3 114.2,132.7 114.6,130.7 113.3,128.6 115.0,127.5 115.3,126.4 118.9,126.1 120.9,124.9 120.5,124.4 118.9,124.7 118.2,123.9 118.2,121.8 119.3,120.3 119.6,118.7 120.0,118.2 119.9,117.7 118.5,116.6 118.6,116.1 119.5,115.5 121.1,115.6 122.6,112.6 124.1,112.4 126.1,110.4 126.7,108.9 127.8,109.5 128.8,109.2 131.4,106.2 132.1,106.7 131.9,108.3 132.2,108.8 133.2,108.8 133.6,106.2 135.0,103.0 137.6,102.7 137.8,103.1 136.8,104.7 137.6,105.5 140.0,104.7 141.2,103.3 142.5,102.6 142.8,101.0 144.8,98.4 148.5,99.7 150.5,98.2 151.1,98.3 152.1,99.5 152.6,99.4 154.4,97.9 153.5,95.3 153.6,94.4 156.8,94.6 158.8,93.2 160.9,95.2 164.3,92.2 164.3,91.1 165.0,89.8 166.1,89.8 167.6,91.6 168.6,91.1 168.7,90.1 168.1,89.3 165.0,88.8 163.3,84.9 163.5,84.6 165.0,85.1 165.9,84.9 166.5,83.9 166.2,82.8 163.5,81.3 163.6,79.7 162.4,78.6 160.9,79.3 160.4,80.2 160.9,80.9 162.4,80.8 163.5,81.3 162.4,82.4 156.8,81.2 156.4,82.8 155.2,83.5 154.3,81.8 155.8,80.2 156.1,77.6 155.8,77.1 153.6,76.6 153.0,76.6 152.7,77.1 152.5,78.7 150.6,80.7 150.4,81.8 150.0,81.9 147.1,79.2 144.8,77.7 144.2,79.7 142.8,81.2 142.1,80.7 141.9,78.7 141.2,78.2 137.6,79.4 136.6,80.6 134.0,82.0 132.0,80.7 132.1,78.1 131.4,77.0 128.8,77.8 128.3,78.1 128.3,78.7 126.2,80.1 125.1,79.2 124.9,78.1 124.1,78.0 123.7,79.2 122.9,79.7 117.9,81.8 116.7,81.3 116.5,80.2 116.9,79.2 116.6,78.7 115.8,78.6 114.5,82.8 113.2,83.6 110.4,83.3 109.6,81.7 108.6,82.2 107.0,83.9 105.2,83.9 104.6,82.3 103.9,81.8 101.9,83.1 100.3,83.1 99.3,83.5 96.7,82.7 93.6,84.3 91.0,84.6 89.9,86.5 89.4,86.7 87.9,85.8 86.8,85.9 84.8,88.2 81.1,89.2 79.4,91.1 80.2,92.2 79.8,94.3 81.1,95.2 83.2,95.2 84.1,96.3 83.2,97.3 82.2,97.0 81.9,97.4 81.9,98.9 81.3,101.5 81.5,103.1 80.6,103.6 78.6,102.4 77.7,103.1 78.4,106.2 76.5,107.4 73.4,108.1 72.3,107.3 71.3,105.1 69.7,107.8 70.3,109.3 69.8,110.6 68.7,110.7 65.1,110.1 64.4,108.8 62.5,107.1 60.9,107.5 60.5,109.9 59.4,110.4 59.9,111.6 61.3,112.5 61.5,113.5 60.9,114.0 59.9,113.2 58.9,113.2 57.8,115.1 59.9,115.5 61.1,117.1 59.8,120.3 61.0,122.3 59.1,123.4 58.4,124.4 56.7,124.9 56.1,126.0 58.3,129.1 58.0,130.1 56.9,131.2 57.5,132.7 58.8,134.3 56.8,136.4 58.4,137.9 58.8,139.0 57.8,140.4 55.2,141.2 54.2,141.2 53.3,142.1 53.6,143.7 52.9,145.7 54.1,147.8 51.8,153.0 52.3,157.2ZM84.2,101.3 84.1,100.5 84.8,100.1 85.2,100.5 85.1,101.0 84.8,101.5ZM95.1,143.3 92.8,141.1 93.0,140.5 95.1,140.2 96.3,141.1 96.9,142.1 96.9,143.1 95.6,143.5ZM114.8,122.9 114.7,122.3 115.6,121.8 115.8,122.9 115.3,123.2ZM121.5,83.6 121.3,83.3 121.5,82.4 122.6,82.3 122.4,83.3ZM111.6,139.0 112.3,139.0 111.2,138.3ZM155.6,97.9 156.3,97.4 155.7,97.4ZM89.9,82.3 90.5,82.8 91.3,82.3 91.2,81.8 90.5,81.6 89.8,81.8ZM97.2,81.3 97.7,81.6 97.9,81.3ZM105.1,80.2 106.1,80.2 106.1,79.7 105.5,79.2 104.8,79.7ZM136.0,78.1 136.6,78.3 136.8,77.6 136.0,77.6Z"/>
<path fill="#27dade" fill-rule="evenodd" d="M51.7,158.7 53.2,159.0 55.2,158.3 57.8,158.8 58.0,157.7 59.4,156.0 61.5,154.9 64.1,154.3 65.1,153.5 67.7,153.8 68.7,152.4 71.8,152.9 75.3,149.4 77.5,148.0 81.1,148.2 82.2,149.1 83.7,148.7 88.9,149.0 89.5,148.9 89.0,148.3 87.9,147.5 86.3,147.2 86.1,146.8 86.3,146.1 87.9,145.0 91.0,144.8 93.1,145.9 94.6,145.3 95.6,145.7 96.7,145.5 97.3,144.7 97.2,144.0 95.1,143.9 94.1,142.3 92.5,141.5 92.2,140.5 94.6,140.0 95.6,140.2 96.9,141.6 97.7,143.3 98.8,143.0 99.1,140.5 99.8,139.7 101.9,139.7 102.4,140.9 102.9,141.0 103.9,140.5 106.5,137.7 109.7,135.9 110.0,134.3 110.7,133.4 112.5,133.3 113.3,132.7 114.2,130.7 113.0,128.6 114.4,127.5 115.1,126.0 118.3,125.5 117.8,124.4 117.7,122.3 119.1,120.3 119.4,118.2 118.4,117.1 118.3,116.1 118.9,115.5 121.0,115.0 122.0,113.5 121.5,112.5 119.5,112.6 119.5,111.9 121.0,111.5 123.1,112.2 124.1,112.1 125.7,110.4 126.2,108.5 126.7,108.1 127.8,108.8 128.8,108.7 130.3,107.4 131.4,105.5 131.9,105.5 132.7,106.7 132.2,108.3 132.9,108.7 133.4,108.3 133.1,106.7 134.5,103.0 135.0,102.5 136.6,102.5 137.2,102.1 137.6,101.0 138.1,101.0 138.4,102.6 137.4,104.7 138.1,105.2 139.5,104.7 142.5,102.1 142.2,99.6 143.3,99.9 144.8,98.0 146.4,98.9 148.5,99.3 149.1,98.9 150.3,96.3 151.1,95.7 151.3,96.3 150.8,96.9 151.0,97.4 152.6,98.9 153.5,97.9 153.6,96.3 153.1,94.8 153.6,94.1 156.4,94.3 158.8,92.6 160.9,92.2 159.9,92.8 159.7,93.7 160.4,94.7 161.4,94.7 163.4,92.7 163.5,91.1 164.4,89.6 163.5,85.9 162.3,84.4 162.4,83.5 165.6,84.8 166.1,84.4 166.3,83.3 164.0,81.8 163.5,81.8 162.4,83.2 160.4,82.1 157.3,81.8 156.4,83.3 155.2,83.8 154.7,83.6 153.9,81.8 154.2,81.1 155.3,80.2 155.6,78.1 155.2,77.6 154.2,78.4 153.1,78.6 151.8,80.2 151.2,81.8 150.0,82.6 145.4,78.5 142.8,81.6 141.6,81.3 141.8,79.2 141.2,78.5 137.8,79.7 135.5,81.8 133.4,82.3 131.7,81.3 131.5,80.2 131.9,78.7 131.4,77.6 130.9,77.5 129.3,78.1 128.8,79.4 127.8,79.6 126.7,80.5 124.1,79.6 121.5,80.9 119.5,81.2 117.9,82.2 116.9,81.9 116.2,81.3 115.9,80.2 116.4,79.2 115.8,79.2 115.7,80.7 114.8,82.8 114.3,83.6 113.2,84.0 110.1,83.6 109.1,82.4 108.1,83.2 107.6,84.2 105.0,84.9 103.9,84.4 104.5,83.3 103.9,82.3 102.4,83.5 100.8,83.3 99.3,84.2 96.2,83.3 94.1,84.6 91.4,84.9 89.9,86.8 86.8,86.4 85.5,88.0 83.2,89.7 81.1,89.7 80.0,90.6 80.0,91.1 81.0,92.2 80.3,93.7 80.4,94.3 81.1,94.6 82.7,94.5 85.1,96.3 81.9,100.5 81.7,103.5 80.6,104.0 79.1,103.1 78.2,103.1 78.0,104.1 78.6,105.2 78.7,106.2 74.4,108.4 72.9,108.4 71.3,106.7 70.8,106.7 70.0,107.8 70.5,109.9 69.2,110.9 65.1,110.6 63.3,109.3 62.5,108.1 61.8,107.8 61.3,108.3 61.3,109.9 60.4,111.4 61.7,112.5 61.5,114.3 60.9,114.7 60.4,114.4 59.4,113.4 58.4,114.2 58.4,114.9 60.4,115.2 61.6,117.1 60.2,120.3 61.4,122.3 61.1,122.9 59.4,123.7 58.9,125.4 57.8,124.8 57.3,124.9 56.4,126.0 58.7,129.1 58.4,130.1 57.3,131.2 57.8,132.6 58.4,133.1 59.9,132.4 60.3,132.7 58.9,135.2 57.4,136.4 59.0,138.5 58.4,140.3 55.8,141.4 54.2,141.4 53.5,142.1 53.6,144.2 53.0,145.7 54.0,146.8 54.2,147.8 51.9,153.0 52.4,157.2ZM55.2,143.7 55.8,143.3 56.1,143.7 55.8,144.2ZM84.2,102.7 83.6,100.5 84.2,99.7 85.3,99.7 85.6,101.0 84.8,102.6ZM88.9,90.4 86.9,88.0 87.0,87.5 87.9,87.4 89.6,89.1 89.4,89.9ZM110.7,131.9 110.7,131.4 111.2,131.4 111.2,131.9ZM115.8,124.0 113.8,122.9 115.3,121.4 116.2,121.8 116.3,123.9ZM121.5,84.0 120.8,83.3 121.5,81.8 123.4,81.8 123.4,82.3 122.6,83.6ZM78.5,149.9 79.1,149.9 79.6,149.2 78.6,149.4ZM167.4,90.6 168.1,90.9 168.1,89.7 166.6,89.3 166.3,89.6ZM90.4,82.3 91.0,81.8 89.9,81.8ZM161.3,80.2 163.0,80.4 163.1,79.7 162.4,79.1 161.4,79.7Z"/>
<path fill="#40ecd4" fill-rule="evenodd" d="M51.8,158.7 53.2,158.9 55.2,158.2 57.3,158.6 59.4,155.8 64.0,154.1 65.1,153.2 67.7,153.3 68.7,151.9 70.3,152.5 71.8,152.4 73.4,150.7 77.5,147.4 81.1,147.6 82.2,148.5 87.9,148.5 88.1,148.3 87.6,147.8 86.3,147.8 85.8,147.3 85.8,146.3 86.3,145.6 88.4,144.6 91.5,144.8 93.1,145.7 94.4,144.7 94.1,142.7 92.5,142.4 92.0,141.7 91.8,140.5 92.5,139.9 95.6,139.9 98.2,142.8 98.8,141.9 98.8,140.0 99.3,139.6 100.3,139.2 102.4,139.3 104.4,138.9 104.9,138.5 104.6,137.4 104.9,136.9 107.0,137.0 109.3,135.3 110.3,133.3 110.0,131.2 110.3,130.7 111.2,130.6 111.8,131.2 112.1,131.7 111.7,132.9 112.4,132.7 112.5,132.2 113.8,131.2 113.7,130.1 112.4,128.6 114.3,127.1 114.8,125.8 116.5,124.9 114.8,123.8 113.2,123.5 112.9,122.9 115.3,121.1 116.8,121.8 116.9,123.2 117.1,121.8 118.9,120.3 119.0,118.2 118.2,117.1 118.1,116.1 118.9,115.3 121.0,114.5 121.7,113.5 121.5,112.9 121.0,112.8 119.4,113.0 119.1,112.5 119.5,111.5 121.5,111.1 123.1,112.0 123.7,111.9 125.2,110.4 125.5,108.8 126.2,107.8 126.7,107.5 128.8,107.9 129.8,107.6 130.4,106.7 130.9,104.8 131.4,104.4 132.9,105.6 133.7,104.7 134.3,102.6 136.0,101.8 138.1,99.9 139.2,100.5 138.9,102.6 137.9,104.1 138.0,104.7 138.6,104.8 140.0,104.1 140.7,103.1 142.0,102.1 141.7,99.5 143.3,99.2 144.8,97.5 145.4,97.5 146.9,98.8 148.5,98.8 149.6,95.8 151.6,94.8 152.1,95.3 152.6,97.9 153.2,96.3 152.7,94.8 153.1,93.8 156.0,93.7 158.4,92.2 160.9,91.5 161.4,92.7 160.1,93.7 160.9,94.6 161.4,94.4 163.0,92.7 163.4,89.6 163.3,86.5 163.0,85.7 161.8,84.9 161.9,83.3 160.4,82.4 158.3,83.0 157.8,82.8 154.7,84.9 154.2,84.9 153.9,84.4 154.2,83.3 153.5,81.3 154.7,79.9 154.2,79.3 153.0,79.7 152.2,81.8 147.9,84.4 147.7,83.9 148.8,82.8 148.8,81.8 145.9,79.3 145.4,79.3 142.8,82.0 139.7,81.8 139.3,81.3 140.2,79.7 141.2,80.2 141.2,79.0 140.2,79.7 138.1,79.9 135.5,82.3 133.4,82.6 131.4,81.6 131.0,80.2 131.6,78.7 130.9,77.8 130.3,77.9 129.7,78.1 129.3,79.6 128.4,80.2 128.7,81.3 128.3,82.2 127.3,82.3 127.0,81.3 124.1,80.1 123.5,80.7 124.0,82.3 122.1,84.2 120.7,83.9 120.4,83.3 120.8,81.8 120.5,81.4 119.5,81.7 117.9,82.9 117.4,82.9 115.8,81.6 114.4,83.9 113.2,84.4 110.1,83.9 109.1,83.0 108.6,83.1 108.0,84.4 108.1,85.4 109.1,86.5 108.6,86.9 107.6,86.6 108.0,85.4 107.0,84.9 105.0,85.3 103.4,85.1 101.9,85.6 100.9,85.4 101.8,84.4 100.8,83.8 99.9,84.9 100.4,85.4 100.6,87.0 100.4,88.0 99.8,88.6 99.2,88.5 98.2,86.5 98.7,84.9 96.7,83.5 94.1,85.1 91.5,85.3 90.5,86.8 89.0,87.5 90.4,89.1 90.1,90.1 88.4,91.9 87.7,91.1 87.9,89.6 86.3,88.3 84.2,89.3 83.7,90.6 84.2,92.2 82.9,93.7 86.0,96.3 85.5,97.9 84.1,98.9 85.8,99.1 87.4,97.8 87.7,98.4 87.4,99.4 86.5,100.0 85.1,103.1 83.6,103.1 82.7,100.2 82.1,101.0 82.1,103.6 80.6,104.5 79.1,103.8 78.8,104.1 79.2,105.7 78.6,106.7 73.9,108.9 72.3,108.5 71.3,107.2 70.8,107.2 70.2,107.8 70.8,109.9 69.8,111.0 67.2,111.3 65.1,111.0 63.5,110.2 62.1,112.5 61.4,115.6 61.9,117.7 60.4,120.3 61.8,122.3 61.6,122.9 59.9,123.8 59.7,124.4 60.9,126.5 59.4,127.6 57.8,125.1 56.9,125.5 56.7,126.0 59.1,128.6 58.6,130.7 57.9,131.2 58.1,132.2 58.9,132.5 59.8,131.2 60.9,130.9 61.6,131.2 61.6,131.7 58.5,136.4 59.2,139.0 58.4,140.7 53.8,142.1 53.9,143.7 53.1,145.7 54.1,146.8 54.4,147.8 53.2,150.9 52.1,152.5 52.1,153.5 53.0,154.1 52.2,155.1 52.4,157.2ZM55.2,144.2 54.8,143.7 54.9,143.1 55.8,142.8 56.3,143.3 56.3,144.2ZM71.3,151.0 71.1,150.4 72.0,150.4 72.1,150.9ZM91.0,89.1 90.7,89.1 91.5,88.2 92.0,88.3 91.8,89.1ZM157.3,90.3 157.2,89.6 158.0,89.6ZM158.8,89.0 158.8,88.0 159.3,87.9 159.3,88.6ZM95.4,145.2 96.2,145.4 96.9,144.7 96.2,144.3 95.3,144.7ZM132.7,108.3 133.0,108.3 132.9,107.5ZM81.4,91.7 82.2,91.8 82.5,91.1 81.7,90.0 80.6,90.6ZM165.0,84.4 165.7,84.4 166.0,83.3 164.0,82.1 163.5,82.2 163.3,83.3Z"/>
<path fill="#58f8c9" fill-rule="evenodd" d="M52.0,158.7 53.2,158.9 55.2,158.1 57.3,158.1 59.4,155.7 63.6,154.1 64.6,153.2 67.2,153.1 68.7,151.6 70.9,152.0 70.2,150.4 70.8,149.9 73.4,149.8 77.5,146.9 81.1,147.2 82.7,148.0 84.8,147.9 85.2,146.3 84.3,145.2 84.3,144.7 84.8,144.3 86.8,144.9 88.4,144.0 89.4,144.7 91.5,144.6 93.2,145.2 93.3,144.7 92.0,142.7 91.4,141.1 92.0,139.8 95.6,139.3 97.2,138.3 98.8,139.1 99.8,138.1 101.3,138.7 103.8,138.5 104.0,137.9 103.5,137.4 102.4,137.5 101.9,136.9 103.9,135.1 105.0,136.1 107.3,136.4 109.0,134.8 109.8,132.7 109.1,131.8 107.6,132.0 107.3,131.2 107.6,130.8 110.1,129.5 111.2,129.8 112.7,131.1 113.2,131.0 113.2,130.1 111.7,129.1 111.5,127.0 111.7,126.7 112.7,127.4 113.8,127.1 114.2,126.0 115.3,124.9 114.8,124.2 113.8,124.2 112.7,123.6 112.4,122.3 114.8,120.9 116.9,121.0 118.4,120.2 118.6,118.2 117.8,117.1 117.9,116.1 118.9,115.0 121.0,114.1 121.3,113.5 121.0,113.2 119.5,113.4 118.8,113.0 118.7,112.5 119.5,111.2 121.5,110.8 123.6,111.7 124.6,109.9 124.6,108.6 124.1,107.7 125.2,107.3 125.7,106.5 128.8,107.4 129.8,107.3 130.2,105.7 129.4,104.1 129.8,103.6 131.4,102.7 132.1,104.1 132.9,104.7 133.4,104.2 134.0,102.3 138.1,99.3 139.1,99.6 139.8,100.5 139.6,101.5 140.0,102.6 138.6,103.5 138.4,104.1 139.6,104.1 140.2,102.7 141.6,101.5 141.4,100.0 141.6,98.9 143.3,98.4 145.9,96.5 148.5,96.1 151.1,94.0 152.1,93.7 152.1,91.7 152.6,90.9 153.6,90.8 153.9,91.1 153.6,92.7 153.9,93.2 155.2,93.2 155.9,92.2 156.2,89.5 157.9,88.5 159.4,85.9 161.4,84.3 161.4,83.3 160.4,82.8 158.3,84.1 156.8,84.0 154.7,85.9 152.3,84.9 153.0,83.9 153.1,82.8 151.6,82.7 149.1,84.4 147.9,86.0 147.1,83.9 148.4,82.3 145.9,79.7 144.3,80.6 142.8,82.4 139.1,82.2 138.6,80.2 137.6,80.6 136.0,82.5 134.0,82.9 131.9,82.7 131.3,82.3 130.4,80.2 131.1,78.7 130.3,78.3 130.0,78.7 130.2,79.7 129.3,80.4 129.0,81.8 128.3,82.7 127.2,82.8 124.6,80.7 124.2,82.8 122.1,84.5 120.5,84.3 119.5,83.3 116.9,84.0 116.5,82.8 115.8,82.3 114.3,84.4 112.7,85.0 111.7,84.3 110.1,84.3 109.1,83.6 108.6,83.7 108.6,84.6 109.8,86.5 109.6,87.0 109.1,87.4 106.5,87.5 106.2,85.9 102.9,86.0 101.3,86.8 100.0,89.1 99.9,90.1 99.3,90.4 97.7,89.6 98.0,88.5 97.7,87.6 96.7,87.6 95.9,87.0 96.4,85.9 97.8,85.4 98.0,84.9 97.2,84.1 96.2,84.2 95.6,85.7 94.1,86.5 92.0,85.7 91.5,86.8 93.5,88.5 93.3,89.1 89.6,91.7 89.8,92.7 89.4,93.2 87.4,92.2 86.3,92.9 84.8,92.9 84.0,93.7 84.5,94.8 86.8,95.6 86.6,96.9 87.9,97.1 88.3,97.9 88.1,99.5 85.9,102.1 85.4,103.6 83.8,104.1 83.7,105.5 82.2,105.0 80.1,105.4 79.3,106.7 74.4,109.2 72.3,109.1 71.3,107.7 70.8,107.7 70.6,108.3 71.5,109.3 71.3,109.9 70.3,111.0 68.2,111.7 67.3,113.0 66.1,111.7 64.1,111.1 62.5,112.5 62.2,114.5 62.8,116.1 62.3,118.2 60.8,120.3 62.3,122.9 60.3,124.4 61.7,126.0 61.8,126.5 61.2,128.6 59.9,129.0 59.4,129.6 59.4,130.2 59.9,130.5 61.5,130.4 62.1,131.2 62.1,131.7 59.7,134.8 59.1,136.4 59.5,139.0 58.4,141.1 56.0,142.1 56.5,144.2 55.8,144.7 54.2,143.8 53.4,145.2 54.5,147.8 53.4,150.9 52.3,152.5 52.2,153.0 53.2,153.4 53.3,154.1 52.3,155.6 52.5,157.2ZM63.5,117.8 64.1,117.0 64.7,117.1 64.6,117.9 64.1,118.1ZM87.9,143.5 87.4,142.6 87.9,142.0 88.4,143.1ZM93.6,90.9 93.6,90.0 94.3,90.6ZM113.8,87.5 112.2,86.5 112.7,85.7 114.3,86.6 114.3,87.3ZM137.6,84.3 137.6,83.6 138.1,83.6 138.1,84.2ZM87.4,95.5 87.0,95.3 87.9,94.3 88.4,93.9 88.8,94.3 88.4,95.4ZM54.2,142.6 54.7,142.6 54.7,142.2ZM97.7,141.6 98.2,141.8 98.3,141.1 97.2,139.9 97.1,140.5ZM57.3,126.5 57.8,126.8 58.2,126.5 57.8,125.5 57.3,125.5ZM161.9,92.2 162.4,92.6 162.6,92.2 162.9,89.6 162.7,88.0 163.0,86.5 162.4,85.8 161.4,87.0 160.4,87.1 159.8,89.1 158.5,90.1 158.0,91.1 159.3,91.6 161.4,91.1ZM84.6,91.1 84.8,91.5 85.8,90.9 86.8,91.0 87.4,90.5 87.4,89.6 86.8,89.0 85.8,89.0 84.5,90.1ZM165.0,83.9 165.6,84.0 165.4,83.3 164.0,82.4 163.6,82.8 163.8,83.3Z"/>
<path fill="#72febb" fill-rule="evenodd" d="M52.2,158.7 56.8,158.0 58.4,156.9 59.4,155.6 63.2,154.1 64.6,152.9 67.2,152.8 68.2,151.6 69.7,150.9 69.6,150.4 70.3,149.7 74.9,148.5 77.5,146.4 79.1,146.1 80.6,146.8 82.7,146.8 84.2,143.8 86.8,144.2 86.6,141.6 86.8,141.1 87.9,140.6 88.5,140.5 88.8,141.1 89.6,144.2 91.8,144.2 90.8,140.5 91.5,139.6 95.6,138.5 96.7,137.5 98.8,137.9 99.8,136.5 100.8,136.4 102.4,135.7 103.4,134.5 105.4,133.8 106.6,132.2 106.9,130.7 110.1,127.9 110.6,126.0 113.2,125.9 113.8,125.5 113.8,124.9 112.0,123.4 112.1,121.8 114.3,120.6 116.4,120.5 117.9,119.4 118.1,118.2 117.4,116.6 119.5,114.0 118.3,113.0 118.6,111.9 119.5,110.8 121.5,110.3 123.1,111.4 123.6,111.3 123.9,109.9 122.6,107.8 122.7,107.3 124.3,105.7 127.2,103.4 129.8,102.7 131.9,100.9 132.4,102.2 132.9,102.5 134.7,101.0 133.1,100.0 134.0,99.1 136.0,100.1 137.6,98.9 139.4,98.9 140.5,100.5 140.4,101.5 140.7,101.7 140.9,99.5 139.7,98.4 140.2,97.5 140.7,97.3 141.7,98.4 142.3,98.4 144.9,96.3 144.6,94.8 145.4,94.7 146.9,95.5 148.9,94.8 150.1,93.7 149.9,92.2 150.0,91.8 150.6,91.7 150.6,90.1 151.0,89.6 151.6,89.3 153.1,89.9 153.9,89.6 154.3,88.5 157.3,87.9 158.4,85.9 160.7,83.9 159.9,83.8 157.8,85.0 156.4,84.9 155.7,86.8 152.6,86.1 151.1,87.4 150.4,87.0 150.1,85.9 151.3,84.4 151.4,83.9 151.1,83.7 149.8,84.9 149.0,86.6 147.4,86.7 146.9,86.1 146.1,83.3 147.2,81.8 145.9,80.3 144.2,81.3 143.9,82.3 145.2,83.3 144.3,84.4 143.3,84.7 140.7,83.2 139.1,83.5 138.5,84.4 137.6,84.7 136.9,83.3 137.1,83.0 138.5,82.8 138.1,80.9 137.4,81.3 136.6,83.0 132.9,83.1 131.9,84.0 131.4,83.7 130.3,81.2 129.8,81.1 129.6,81.8 128.3,83.2 125.2,82.5 122.6,84.8 120.5,84.9 118.4,84.3 116.9,85.0 115.8,84.9 115.3,85.9 115.6,87.0 114.3,88.1 113.2,87.9 111.3,86.5 112.0,85.4 111.7,84.7 110.0,84.9 110.4,87.0 109.6,87.8 107.6,87.8 106.6,88.5 107.2,89.6 106.5,90.6 105.5,90.4 102.9,88.8 102.4,87.7 101.9,87.5 100.6,89.1 100.3,90.9 97.2,91.3 96.6,89.1 95.6,88.2 95.1,88.4 94.6,89.1 95.4,91.1 95.1,91.5 93.6,92.2 93.1,92.7 92.9,93.7 89.9,94.0 88.8,96.3 90.7,96.9 90.2,98.4 90.5,100.2 88.9,100.3 87.9,102.0 86.8,102.1 86.3,103.7 85.3,104.8 83.7,107.6 81.7,108.4 80.1,107.5 78.6,107.4 76.0,109.1 74.9,109.6 72.9,109.7 68.9,111.9 68.2,113.5 67.7,113.9 66.1,114.0 64.6,113.0 63.5,112.8 63.0,112.8 62.5,113.3 63.0,114.8 64.6,115.7 65.6,115.7 66.1,117.7 65.6,118.3 62.0,119.2 61.1,120.3 62.6,121.8 63.0,122.9 62.7,123.9 61.6,124.4 62.5,126.0 62.9,128.1 62.9,128.6 62.1,129.6 62.6,131.7 61.7,133.3 59.9,135.1 59.8,139.0 58.4,141.6 56.8,142.3 56.9,143.7 56.3,145.0 54.2,144.4 53.7,145.0 53.6,145.7 54.5,146.8 54.7,147.8 53.3,151.5 52.6,152.5 53.4,154.1 52.4,155.6 52.5,157.2ZM98.2,135.6 97.9,135.3 98.2,134.8 99.0,135.3ZM101.9,134.4 101.3,133.8 101.9,133.1 102.3,133.8ZM121.0,107.5 120.5,107.3 120.5,106.7 121.2,106.7 121.4,107.3ZM127.6,106.7 129.3,107.1 129.8,106.7 129.8,106.1 129.3,105.4 127.2,105.0 126.5,105.7ZM85.2,94.8 86.3,94.9 87.3,93.7 86.8,93.3 85.1,93.7 84.8,94.3ZM154.5,92.2 154.7,92.5 155.2,92.2 155.2,90.1 154.5,90.1 155.1,91.1ZM158.8,91.1 159.9,91.3 160.9,90.3 161.9,90.4 162.5,89.1 161.9,87.7 160.5,88.0 160.4,89.6 159.0,90.1 158.6,90.6ZM104.9,88.0 105.5,88.4 106.0,88.0 105.5,87.4 104.9,87.5ZM115.6,83.9 115.8,84.2 115.8,83.2Z"/>
<path fill="#8cfead" fill-rule="evenodd" d="M52.5,158.7 57.3,157.5 59.1,155.6 63.0,153.9 64.6,152.6 67.1,152.5 69.8,149.7 75.0,147.8 77.0,145.9 79.9,144.7 80.6,143.4 81.7,143.3 82.7,143.9 85.3,142.9 85.7,142.6 85.2,141.1 85.8,140.2 86.8,139.7 89.4,139.5 90.1,138.5 92.7,136.9 93.6,135.9 95.6,135.8 97.7,133.9 99.8,133.6 101.3,132.1 101.9,131.9 103.4,132.7 103.9,132.2 103.3,130.1 103.9,129.2 105.5,128.5 106.0,129.7 106.5,129.8 108.1,128.6 109.1,124.9 111.8,120.8 111.6,118.7 112.0,118.2 115.3,116.3 116.4,117.9 116.9,117.9 117.0,116.6 118.0,114.5 117.2,113.0 120.5,109.3 120.5,108.3 119.9,106.7 120.5,106.0 122.1,106.1 123.1,104.7 125.2,104.3 126.5,103.1 127.3,101.5 129.8,101.6 130.6,100.0 133.4,98.6 134.5,98.5 136.0,99.1 138.3,97.9 138.9,97.4 137.8,96.9 137.5,96.3 138.0,95.8 140.7,96.1 141.2,96.3 141.7,97.5 142.2,97.6 142.3,93.2 142.8,92.9 144.3,93.6 145.9,93.8 148.5,92.9 149.3,89.1 147.9,87.6 146.9,87.3 145.9,86.2 144.8,86.1 144.0,85.4 142.6,85.4 141.2,86.2 140.6,85.9 139.7,84.5 137.6,85.1 135.5,83.5 133.4,83.6 131.9,84.6 129.8,83.0 128.3,83.8 125.2,83.7 123.6,85.1 120.0,85.7 118.4,85.6 117.4,88.3 115.3,88.3 114.3,89.1 111.7,87.8 109.1,88.7 108.1,88.2 107.6,88.7 109.0,89.6 107.3,91.7 101.9,92.1 100.3,93.4 99.3,92.2 97.7,93.4 96.7,92.8 95.6,94.0 94.6,94.3 94.1,96.3 91.0,98.4 91.7,100.5 90.2,103.1 89.8,103.6 87.9,104.1 85.3,106.2 85.1,108.3 83.2,109.3 81.1,109.5 79.6,110.6 77.0,109.5 76.6,109.9 76.6,111.4 76.0,111.9 73.4,112.2 71.8,113.2 69.8,113.5 69.2,114.8 67.2,115.2 67.0,118.2 66.0,119.7 66.2,121.8 65.6,122.7 64.1,122.9 63.9,123.9 63.1,124.9 64.2,126.5 64.7,128.1 63.4,130.1 63.2,132.7 62.3,134.3 60.4,135.3 60.4,138.5 58.9,141.6 57.3,142.7 56.5,146.8 56.1,146.8 55.2,145.3 54.2,145.5 54.9,147.8 53.0,152.5 53.6,154.1 52.5,155.6ZM89.9,142.1 90.5,142.4 90.5,142.0ZM111.2,124.9 112.1,124.9 112.1,124.4 111.2,123.9 110.8,124.4ZM114.7,119.7 115.9,119.7 115.3,119.1 114.7,119.2ZM122.8,110.4 123.1,110.7 123.3,110.4 123.1,109.5 122.6,109.7ZM127.5,106.2 128.3,106.5 129.1,106.2 127.8,105.6 127.4,105.7ZM159.2,90.6 160.0,90.6 159.9,90.3ZM95.5,90.1 96.2,90.5 96.3,90.1 95.6,89.0 95.2,89.6ZM161.7,89.1 161.9,88.7 161.4,88.4Z"/>
<path fill="#a6f89d" fill-rule="evenodd" d="M52.5,158.2 53.2,158.7 57.3,157.3 58.9,155.6 63.3,153.5 64.6,152.3 67.1,152.0 69.8,149.3 74.4,147.1 76.0,145.3 77.9,144.7 79.6,141.8 80.6,141.7 81.7,142.1 82.7,141.9 85.3,139.6 86.3,137.3 90.5,137.0 93.1,134.9 97.0,133.3 99.3,131.7 102.9,128.2 105.1,127.0 108.3,123.9 110.0,120.8 110.1,118.2 112.3,116.6 112.7,114.5 115.3,113.4 118.2,110.9 119.3,108.3 119.5,106.2 120.9,103.6 122.1,103.0 123.6,103.5 124.3,103.1 124.3,102.6 123.3,101.5 124.9,100.0 126.2,99.6 128.3,99.9 129.8,98.5 131.9,98.6 134.0,97.7 136.0,97.5 136.8,95.8 137.5,95.3 140.6,94.8 142.2,91.8 143.8,91.3 144.3,90.6 144.2,89.6 143.0,87.5 141.2,87.2 139.1,86.1 137.1,85.5 135.5,84.4 131.9,85.2 130.3,84.8 126.7,85.0 119.5,86.8 117.4,89.6 115.8,89.4 111.9,91.1 111.1,92.7 108.2,96.3 104.8,98.9 99.8,101.2 93.1,103.6 89.1,105.7 87.9,107.7 84.5,110.4 82.2,110.5 80.6,111.6 79.1,112.1 77.1,114.5 76.0,114.8 74.9,115.7 71.3,116.3 69.0,119.2 68.9,120.8 68.0,122.3 67.9,123.9 66.5,128.6 64.8,130.7 64.8,132.2 63.7,134.8 60.4,139.5 59.2,142.1 57.8,143.7 56.8,147.4 55.2,148.0 54.2,149.5 54.1,151.5 53.5,152.5 53.8,154.1 52.7,155.6Z"/>
<path fill="#c0eb8d" fill-rule="evenodd" d="M52.6,158.2 53.2,158.5 57.2,157.2 58.9,155.3 62.8,153.5 64.1,152.3 66.3,151.5 73.9,145.8 75.4,144.2 77.0,143.8 79.6,140.7 81.7,140.6 83.7,139.3 85.8,136.3 88.3,135.9 91.5,133.8 102.4,125.5 108.0,120.3 109.3,117.1 111.1,115.6 111.7,113.9 113.8,113.0 117.4,110.6 119.7,103.6 121.3,100.5 125.4,98.4 127.8,98.3 129.3,97.6 131.9,97.4 134.5,96.6 136.2,95.3 139.2,94.3 140.4,92.7 140.7,91.1 139.7,87.9 136.6,86.0 134.5,85.5 123.5,86.5 120.0,88.9 117.9,91.1 115.3,91.7 112.3,97.4 104.4,103.5 101.9,104.7 97.2,105.8 89.9,108.4 87.9,110.1 80.6,113.7 75.4,117.7 71.4,121.8 68.7,125.6 66.1,131.1 65.9,132.7 63.4,137.4 60.9,139.9 60.2,142.1 58.1,145.2 56.8,148.3 55.2,148.8 54.7,149.4 53.9,154.1 52.9,155.6Z"/>
<path fill="#d9da7d" fill-rule="evenodd" d="M52.9,158.2 53.7,158.3 57.7,156.7 58.9,155.1 60.5,154.6 66.6,149.7 69.8,147.8 74.3,143.7 77.5,141.4 79.6,139.3 81.1,138.9 84.8,135.3 91.0,131.3 100.0,124.4 104.9,119.7 107.7,116.1 110.1,114.3 113.5,110.9 116.4,110.1 118.4,104.7 116.9,100.6 114.8,100.1 112.2,100.8 109.1,102.7 105.5,106.5 103.9,107.5 98.8,108.2 90.5,110.2 79.6,116.6 72.9,123.3 67.3,131.2 66.7,133.3 58.9,145.5 57.5,148.3 55.1,150.4 54.0,154.6 53.1,155.6ZM122.4,96.9 126.2,97.0 130.3,96.3 137.0,94.3 137.8,93.7 138.8,92.2 139.1,90.6 138.7,89.1 136.6,87.0 134.0,86.1 130.3,86.7 124.1,86.8 120.0,90.4 119.2,92.2 119.3,93.7 120.0,95.3 121.0,96.3Z"/>
<path fill="#f2c26b" fill-rule="evenodd" d="M53.1,157.7 53.2,158.0 53.7,158.0 57.2,156.7 58.4,154.9 60.3,154.1 67.7,147.4 69.2,146.9 71.3,145.4 72.9,143.4 74.9,142.2 76.3,140.5 77.5,140.0 80.1,137.7 83.7,134.0 90.5,129.7 98.2,123.7 103.8,116.6 104.3,114.5 103.7,112.5 102.4,111.4 100.3,110.8 92.0,111.4 89.9,112.2 80.8,117.7 73.9,124.4 68.2,132.2 63.8,139.5 62.8,142.1 59.5,146.3 57.8,149.3 54.7,153.0 54.2,154.6 53.2,155.9ZM109.5,111.4 110.7,111.3 111.8,110.4 114.8,109.2 116.8,106.7 116.9,105.5 115.3,102.9 113.8,102.6 111.9,103.1 110.3,104.1 108.9,105.7 108.0,107.8 107.9,109.3 108.3,110.4ZM123.7,95.3 126.2,95.6 135.5,93.9 137.4,92.2 137.8,90.6 137.5,89.6 136.0,87.7 134.0,86.9 130.3,87.7 128.3,87.3 126.2,87.7 124.5,87.5 123.2,88.5 121.1,91.7 121.8,93.7Z"/>
<path fill="#ffa558" fill-rule="evenodd" d="M53.6,157.2 53.7,157.5 55.3,156.7 57.3,154.1 58.5,153.5 64.9,148.3 66.1,146.4 68.2,145.9 69.2,145.0 70.8,144.4 72.3,142.6 74.3,141.6 75.4,139.9 78.1,137.9 82.7,133.0 89.9,128.3 97.2,122.5 98.6,120.8 99.6,118.2 99.7,116.1 98.8,114.5 96.2,113.1 94.1,112.7 92.0,113.0 82.7,117.9 79.4,120.8 74.9,125.2 67.3,135.9 64.7,140.0 63.1,143.7 60.5,146.8 59.9,148.9 57.3,151.4 54.8,155.1 53.7,156.1ZM111.3,108.8 112.7,108.6 113.3,107.2 114.9,106.2 114.7,105.7 112.7,105.2 111.7,105.8 110.9,107.3ZM123.9,93.7 125.7,94.2 134.5,92.9 136.1,91.7 136.3,90.1 135.8,89.1 135.0,88.4 133.4,88.2 129.8,88.8 127.8,88.2 124.1,89.6 122.7,91.7 123.0,92.7Z"/>
<path fill="#ff8444" fill-rule="evenodd" d="M63.0,148.3 64.1,147.8 65.1,145.6 67.2,145.1 68.2,144.2 70.3,143.2 71.8,141.6 73.7,140.5 81.7,132.1 89.4,127.1 96.3,121.3 97.6,118.7 97.5,117.1 96.6,115.6 94.6,114.4 92.0,114.6 83.7,118.7 79.6,122.3 75.6,126.5 65.1,141.7 62.2,147.3 62.2,147.8ZM128.5,91.7 132.1,91.1 133.3,90.6 133.2,90.1 130.9,89.9 129.1,90.6Z"/>
<path fill="#ff5f30" fill-rule="evenodd" d="M67.1,142.1 67.2,142.6 70.3,141.1 80.6,130.9 89.2,125.5 95.1,119.5 95.6,118.2 95.1,117.0 94.1,116.4 92.5,116.5 85.8,119.2 83.3,120.8 77.0,127.3Z"/>
<path fill="#ff3b1e" fill-rule="evenodd" d="M81.3,127.0 82.2,127.2 83.7,126.7 87.4,124.7 89.2,122.3 89.4,121.1 88.9,120.7 87.4,120.8 84.8,121.8 81.9,124.9 81.1,126.5Z"/>
</g>
<line x1="48.0" y1="162.9" x2="193.0" y2="17.3" stroke="#f33535" stroke-width="1.2" stroke-dasharray="5.6 4.5"/>
<rect x="48.0" y="17.3" width="145.0" height="145.6" fill="none" stroke="#333" stroke-width="1.3"/>
<path stroke="#444" stroke-width="0.8" fill="none" d="M68.7 162.9v-3M68.7 17.3v3M48.0 142.1h3M193.0 142.1h-3M89.4 162.9v-3M89.4 17.3v3M48.0 121.3h3M193.0 121.3h-3M110.1 162.9v-3M110.1 17.3v3M48.0 100.5h3M193.0 100.5h-3M130.9 162.9v-3M130.9 17.3v3M48.0 79.7h3M193.0 79.7h-3M151.6 162.9v-3M151.6 17.3v3M48.0 58.9h3M193.0 58.9h-3M172.3 162.9v-3M172.3 17.3v3M48.0 38.1h3M193.0 38.1h-3"/>
<g font-family="Liberation Sans, sans-serif" font-size="5.6" fill="#333"><text x="45.0" y="164.4" text-anchor="end">0</text><text x="48.0" y="170.4" text-anchor="middle">0</text><text x="45.0" y="143.6" text-anchor="end">10</text><text x="68.7" y="170.4" text-anchor="middle">10</text><text x="45.0" y="122.8" text-anchor="end">20</text><text x="89.4" y="170.4" text-anchor="middle">20</text><text x="45.0" y="102.0" text-anchor="end">30</text><text x="110.1" y="170.4" text-anchor="middle">30</text><text x="45.0" y="81.2" text-anchor="end">40</text><text x="130.9" y="170.4" text-anchor="middle">40</text><text x="45.0" y="60.4" text-anchor="end">50</text><text x="151.6" y="170.4" text-anchor="middle">50</text><text x="45.0" y="39.6" text-anchor="end">60</text><text x="172.3" y="170.4" text-anchor="middle">60</text><text x="45.0" y="18.8" text-anchor="end">70</text><text x="193.0" y="170.4" text-anchor="middle">70</text></g>
<g font-family="Liberation Serif, serif" font-size="9.5" fill="#1a1a1a" stroke="#1a1a1a" stroke-width="0.12"><text x="53.2" y="27.9">N = 634279</text><text x="53.2" y="39.2">R<tspan font-size="5.4" dy="-3.8">2</tspan><tspan dy="3.8"> = 0.81</tspan></text><text x="53.2" y="50.5">RMSD = 4.42</text><text x="53.2" y="61.8">rRMSD = 23.35%</text></g>
<text x="119.7" y="10.7" text-anchor="middle" font-family="Liberation Serif, serif" font-weight="bold" font-size="9.6" fill="#111" stroke="#111" stroke-width="0.15">p046r029</text>
<g filter="url(#bl)">
<path fill="#5a58f2" d="M329.8 106.8h1.4v1.4h-1.4zM266.7 142.8h1.4v1.4h-1.4zM328.0 107.0h1.4v1.4h-1.4zM270.9 139.3h1.4v1.4h-1.4zM288.2 129.1h1.4v1.4h-1.4zM321.5 110.3h1.4v1.4h-1.4zM329.3 96.7h1.4v1.4h-1.4zM325.9 107.2h1.4v1.4h-1.4zM249.6 150.8h1.4v1.4h-1.4zM315.7 111.6h1.4v1.4h-1.4zM271.1 138.8h1.4v1.4h-1.4zM316.6 110.8h1.4v1.4h-1.4zM328.3 106.3h1.4v1.4h-1.4zM246.5 152.1h1.4v1.4h-1.4zM293.3 125.1h1.4v1.4h-1.4zM293.8 124.4h1.4v1.4h-1.4zM288.9 128.7h1.4v1.4h-1.4zM274.2 138.6h1.4v1.4h-1.4zM262.2 143.8h1.4v1.4h-1.4zM253.5 149.2h1.4v1.4h-1.4zM320.4 90.6h1.4v1.4h-1.4zM310.7 113.4h1.4v1.4h-1.4zM313.9 113.4h1.4v1.4h-1.4zM328.5 106.9h1.4v1.4h-1.4zM310.0 114.3h1.4v1.4h-1.4zM244.7 153.4h1.4v1.4h-1.4zM284.8 131.3h1.4v1.4h-1.4zM307.2 115.4h1.4v1.4h-1.4zM326.1 95.1h1.4v1.4h-1.4zM333.7 104.8h1.4v1.4h-1.4zM251.4 150.3h1.4v1.4h-1.4zM279.7 133.9h1.4v1.4h-1.4zM291.5 126.4h1.4v1.4h-1.4zM324.9 109.2h1.4v1.4h-1.4zM313.0 112.4h1.4v1.4h-1.4zM323.2 91.9h1.4v1.4h-1.4zM265.7 142.6h1.4v1.4h-1.4zM326.0 108.5h1.4v1.4h-1.4zM333.1 103.9h1.4v1.4h-1.4zM253.1 148.8h1.4v1.4h-1.4zM324.2 93.4h1.4v1.4h-1.4zM292.2 126.8h1.4v1.4h-1.4zM265.4 142.5h1.4v1.4h-1.4zM310.5 114.7h1.4v1.4h-1.4zM326.5 94.0h1.4v1.4h-1.4zM326.3 95.2h1.4v1.4h-1.4zM258.1 146.2h1.4v1.4h-1.4zM249.0 150.6h1.4v1.4h-1.4zM328.1 95.1h1.4v1.4h-1.4zM332.4 99.5h1.4v1.4h-1.4zM309.8 115.4h1.4v1.4h-1.4zM244.8 152.6h1.4v1.4h-1.4zM302.2 120.0h1.4v1.4h-1.4zM329.9 97.7h1.4v1.4h-1.4zM287.6 130.3h1.4v1.4h-1.4zM315.1 112.3h1.4v1.4h-1.4zM258.2 145.9h1.4v1.4h-1.4zM303.2 118.6h1.4v1.4h-1.4zM324.9 93.0h1.4v1.4h-1.4zM332.1 105.7h1.4v1.4h-1.4zM274.2 138.2h1.4v1.4h-1.4zM329.6 106.0h1.4v1.4h-1.4zM322.3 92.2h1.4v1.4h-1.4zM328.0 96.2h1.4v1.4h-1.4zM330.5 97.7h1.4v1.4h-1.4zM299.7 120.7h1.4v1.4h-1.4zM328.7 95.5h1.4v1.4h-1.4zM305.7 117.4h1.4v1.4h-1.4zM333.1 99.7h1.4v1.4h-1.4zM332.1 100.6h1.4v1.4h-1.4zM277.6 135.0h1.4v1.4h-1.4zM326.6 94.8h1.4v1.4h-1.4zM261.3 145.1h1.4v1.4h-1.4zM311.2 114.6h1.4v1.4h-1.4zM324.6 94.1h1.4v1.4h-1.4zM312.0 113.5h1.4v1.4h-1.4zM328.6 96.0h1.4v1.4h-1.4zM324.3 108.3h1.4v1.4h-1.4zM325.2 94.3h1.4v1.4h-1.4zM271.7 138.7h1.4v1.4h-1.4zM262.4 143.8h1.4v1.4h-1.4zM294.3 124.0h1.4v1.4h-1.4zM254.2 149.2h1.4v1.4h-1.4zM261.0 144.7h1.4v1.4h-1.4zM326.9 94.5h1.4v1.4h-1.4zM271.9 139.6h1.4v1.4h-1.4zM306.3 116.8h1.4v1.4h-1.4zM318.0 110.0h1.4v1.4h-1.4zM328.6 107.2h1.4v1.4h-1.4zM319.1 90.1h1.4v1.4h-1.4zM253.0 150.0h1.4v1.4h-1.4zM298.9 122.0h1.4v1.4h-1.4zM299.4 121.3h1.4v1.4h-1.4zM328.4 106.1h1.4v1.4h-1.4zM326.5 107.7h1.4v1.4h-1.4zM309.7 114.7h1.4v1.4h-1.4zM264.4 142.9h1.4v1.4h-1.4zM261.5 145.1h1.4v1.4h-1.4zM313.0 113.0h1.4v1.4h-1.4zM322.2 108.9h1.4v1.4h-1.4zM330.8 98.0h1.4v1.4h-1.4zM305.6 117.6h1.4v1.4h-1.4zM317.3 110.7h1.4v1.4h-1.4zM324.0 93.9h1.4v1.4h-1.4zM306.6 117.3h1.4v1.4h-1.4zM323.8 92.8h1.4v1.4h-1.4zM251.7 149.3h1.4v1.4h-1.4zM284.0 131.7h1.4v1.4h-1.4zM278.3 135.0h1.4v1.4h-1.4zM295.1 84.3h1.4v1.4h-1.4zM231.9 134.9h1.4v1.4h-1.4zM243.0 117.7h1.4v1.4h-1.4zM251.4 104.5h1.4v1.4h-1.4zM243.0 118.4h1.4v1.4h-1.4zM302.8 84.7h1.4v1.4h-1.4zM240.1 120.1h1.4v1.4h-1.4zM285.6 84.8h1.4v1.4h-1.4zM292.6 84.4h1.4v1.4h-1.4zM234.0 132.3h1.4v1.4h-1.4zM236.4 128.6h1.4v1.4h-1.4zM248.9 107.6h1.4v1.4h-1.4zM285.5 85.6h1.4v1.4h-1.4zM262.8 96.9h1.4v1.4h-1.4zM246.1 112.2h1.4v1.4h-1.4zM234.2 129.4h1.4v1.4h-1.4zM258.1 100.5h1.4v1.4h-1.4zM241.5 117.8h1.4v1.4h-1.4zM290.7 85.1h1.4v1.4h-1.4zM309.5 87.0h1.4v1.4h-1.4zM304.7 85.6h1.4v1.4h-1.4zM301.6 84.1h1.4v1.4h-1.4zM297.3 84.8h1.4v1.4h-1.4zM299.3 84.5h1.4v1.4h-1.4zM300.1 84.0h1.4v1.4h-1.4zM296.7 83.7h1.4v1.4h-1.4zM287.3 84.8h1.4v1.4h-1.4zM329.2 96.0h1.4v1.4h-1.4zM317.4 110.1h1.4v1.4h-1.4zM330.3 97.4h1.4v1.4h-1.4zM324.1 93.4h1.4v1.4h-1.4zM326.3 108.4h1.4v1.4h-1.4zM321.4 109.9h1.4v1.4h-1.4zM330.9 98.0h1.4v1.4h-1.4zM329.6 105.6h1.4v1.4h-1.4zM320.0 110.9h1.4v1.4h-1.4zM327.5 95.2h1.4v1.4h-1.4zM322.7 92.6h1.4v1.4h-1.4zM331.6 106.0h1.4v1.4h-1.4zM313.7 113.0h1.4v1.4h-1.4zM331.4 98.4h1.4v1.4h-1.4zM326.4 107.9h1.4v1.4h-1.4zM309.3 115.3h1.4v1.4h-1.4zM316.4 88.8h1.4v1.4h-1.4zM323.5 93.7h1.4v1.4h-1.4zM327.7 106.8h1.4v1.4h-1.4zM310.4 115.2h1.4v1.4h-1.4zM307.0 86.1h1.4v1.4h-1.4zM316.6 111.0h1.4v1.4h-1.4zM323.9 109.5h1.4v1.4h-1.4zM319.2 90.4h1.4v1.4h-1.4zM319.7 91.5h1.4v1.4h-1.4zM330.9 97.5h1.4v1.4h-1.4zM328.0 96.5h1.4v1.4h-1.4zM314.1 87.9h1.4v1.4h-1.4zM319.0 90.6h1.4v1.4h-1.4zM322.8 91.7h1.4v1.4h-1.4zM332.4 105.4h1.4v1.4h-1.4zM308.9 115.8h1.4v1.4h-1.4zM309.3 115.1h1.4v1.4h-1.4zM310.2 115.4h1.4v1.4h-1.4zM313.7 88.4h1.4v1.4h-1.4zM305.1 84.9h1.4v1.4h-1.4zM333.6 104.9h1.4v1.4h-1.4zM333.3 103.9h1.4v1.4h-1.4zM308.3 115.7h1.4v1.4h-1.4zM332.1 99.5h1.4v1.4h-1.4zM332.5 100.6h1.4v1.4h-1.4zM314.6 87.8h1.4v1.4h-1.4zM326.7 95.1h1.4v1.4h-1.4zM318.1 90.5h1.4v1.4h-1.4zM309.5 85.5h1.4v1.4h-1.4zM323.8 109.7h1.4v1.4h-1.4zM329.0 97.1h1.4v1.4h-1.4zM333.3 103.6h1.4v1.4h-1.4zM310.5 86.6h1.4v1.4h-1.4zM313.2 88.6h1.4v1.4h-1.4zM310.5 86.2h1.4v1.4h-1.4zM311.9 114.2h1.4v1.4h-1.4zM314.9 89.6h1.4v1.4h-1.4zM332.7 99.4h1.4v1.4h-1.4zM313.8 88.0h1.4v1.4h-1.4zM317.3 90.6h1.4v1.4h-1.4z"/>
<path fill="#7e3cf4" d="M312.2 127.3h1.4v1.4h-1.4zM288.1 135.1h1.4v1.4h-1.4zM305.3 121.4h1.4v1.4h-1.4zM334.4 104.9h1.4v1.4h-1.4zM337.5 112.2h1.4v1.4h-1.4zM335.1 97.8h1.4v1.4h-1.4zM294.0 128.4h1.4v1.4h-1.4zM243.2 155.7h1.4v1.4h-1.4zM253.0 151.1h1.4v1.4h-1.4zM292.7 127.3h1.4v1.4h-1.4zM321.5 113.3h1.4v1.4h-1.4zM342.4 95.4h1.4v1.4h-1.4zM295.3 127.3h1.4v1.4h-1.4zM285.4 138.7h1.4v1.4h-1.4zM313.8 125.2h1.4v1.4h-1.4zM267.7 148.4h1.4v1.4h-1.4zM333.7 108.6h1.4v1.4h-1.4zM287.3 132.0h1.4v1.4h-1.4zM333.0 91.9h1.4v1.4h-1.4zM266.8 146.8h1.4v1.4h-1.4zM268.3 144.2h1.4v1.4h-1.4zM293.1 134.2h1.4v1.4h-1.4zM320.1 116.9h1.4v1.4h-1.4zM335.3 103.4h1.4v1.4h-1.4zM287.1 130.9h1.4v1.4h-1.4zM326.9 110.7h1.4v1.4h-1.4zM297.7 127.1h1.4v1.4h-1.4zM317.1 88.3h1.4v1.4h-1.4zM249.4 152.1h1.4v1.4h-1.4zM288.1 137.9h1.4v1.4h-1.4zM333.0 112.7h1.4v1.4h-1.4zM278.2 142.4h1.4v1.4h-1.4zM328.5 90.3h1.4v1.4h-1.4zM333.0 97.1h1.4v1.4h-1.4zM326.0 111.1h1.4v1.4h-1.4zM253.9 150.4h1.4v1.4h-1.4zM330.0 87.6h1.4v1.4h-1.4zM305.0 122.7h1.4v1.4h-1.4zM286.6 132.9h1.4v1.4h-1.4zM245.5 154.7h1.4v1.4h-1.4zM243.3 155.2h1.4v1.4h-1.4zM286.3 133.9h1.4v1.4h-1.4zM293.9 128.8h1.4v1.4h-1.4zM300.7 125.2h1.4v1.4h-1.4zM260.5 148.9h1.4v1.4h-1.4zM337.5 106.4h1.4v1.4h-1.4zM319.7 88.0h1.4v1.4h-1.4zM334.4 110.0h1.4v1.4h-1.4zM264.5 146.1h1.4v1.4h-1.4zM270.6 142.9h1.4v1.4h-1.4zM288.7 134.4h1.4v1.4h-1.4zM271.3 140.9h1.4v1.4h-1.4zM322.9 114.0h1.4v1.4h-1.4zM334.2 100.3h1.4v1.4h-1.4zM320.8 116.9h1.4v1.4h-1.4zM335.1 105.4h1.4v1.4h-1.4zM319.1 121.3h1.4v1.4h-1.4zM313.9 115.6h1.4v1.4h-1.4zM307.9 117.0h1.4v1.4h-1.4zM248.6 153.3h1.4v1.4h-1.4zM323.7 111.9h1.4v1.4h-1.4zM284.9 137.1h1.4v1.4h-1.4zM289.3 129.4h1.4v1.4h-1.4zM329.0 112.0h1.4v1.4h-1.4zM292.4 136.1h1.4v1.4h-1.4zM312.5 120.9h1.4v1.4h-1.4zM252.8 150.2h1.4v1.4h-1.4zM321.4 116.0h1.4v1.4h-1.4zM256.0 152.3h1.4v1.4h-1.4zM324.5 87.6h1.4v1.4h-1.4zM331.3 108.2h1.4v1.4h-1.4zM286.7 132.7h1.4v1.4h-1.4zM286.1 136.0h1.4v1.4h-1.4zM286.5 132.4h1.4v1.4h-1.4zM244.3 154.2h1.4v1.4h-1.4zM245.4 154.9h1.4v1.4h-1.4zM334.5 99.7h1.4v1.4h-1.4zM321.1 111.0h1.4v1.4h-1.4zM264.0 145.2h1.4v1.4h-1.4zM272.6 141.3h1.4v1.4h-1.4zM290.5 131.6h1.4v1.4h-1.4zM305.4 123.4h1.4v1.4h-1.4zM248.5 152.3h1.4v1.4h-1.4zM333.5 99.1h1.4v1.4h-1.4zM304.5 120.1h1.4v1.4h-1.4zM301.3 127.1h1.4v1.4h-1.4zM305.0 118.9h1.4v1.4h-1.4zM334.2 101.0h1.4v1.4h-1.4zM272.5 139.8h1.4v1.4h-1.4zM325.6 84.6h1.4v1.4h-1.4zM278.6 145.7h1.4v1.4h-1.4zM299.2 127.0h1.4v1.4h-1.4zM289.4 133.8h1.4v1.4h-1.4zM331.1 94.6h1.4v1.4h-1.4zM308.5 123.4h1.4v1.4h-1.4zM327.9 91.7h1.4v1.4h-1.4zM324.9 115.8h1.4v1.4h-1.4zM290.1 129.3h1.4v1.4h-1.4zM323.0 87.9h1.4v1.4h-1.4zM253.3 150.1h1.4v1.4h-1.4zM284.9 139.0h1.4v1.4h-1.4zM263.8 147.6h1.4v1.4h-1.4zM311.3 115.4h1.4v1.4h-1.4zM297.7 124.6h1.4v1.4h-1.4zM321.8 87.7h1.4v1.4h-1.4zM289.2 134.3h1.4v1.4h-1.4zM258.7 149.6h1.4v1.4h-1.4zM286.8 135.7h1.4v1.4h-1.4zM300.9 122.5h1.4v1.4h-1.4zM261.7 146.3h1.4v1.4h-1.4zM318.4 116.5h1.4v1.4h-1.4zM334.6 99.0h1.4v1.4h-1.4zM247.1 153.0h1.4v1.4h-1.4zM253.8 152.0h1.4v1.4h-1.4zM278.1 140.7h1.4v1.4h-1.4zM292.3 130.4h1.4v1.4h-1.4zM297.8 123.6h1.4v1.4h-1.4zM247.1 153.6h1.4v1.4h-1.4zM292.4 138.3h1.4v1.4h-1.4zM338.3 111.4h1.4v1.4h-1.4zM313.5 128.8h1.4v1.4h-1.4zM317.3 114.1h1.4v1.4h-1.4zM327.1 116.6h1.4v1.4h-1.4zM325.6 113.4h1.4v1.4h-1.4zM279.1 146.3h1.4v1.4h-1.4zM264.0 146.1h1.4v1.4h-1.4zM293.8 130.6h1.4v1.4h-1.4zM330.0 89.4h1.4v1.4h-1.4zM291.8 134.4h1.4v1.4h-1.4zM340.2 99.3h1.4v1.4h-1.4zM338.8 105.8h1.4v1.4h-1.4zM328.0 92.8h1.4v1.4h-1.4zM289.9 139.9h1.4v1.4h-1.4zM274.7 139.3h1.4v1.4h-1.4zM269.5 147.1h1.4v1.4h-1.4zM334.4 96.8h1.4v1.4h-1.4zM339.3 104.7h1.4v1.4h-1.4zM313.1 114.1h1.4v1.4h-1.4zM326.6 112.9h1.4v1.4h-1.4zM272.5 146.7h1.4v1.4h-1.4zM329.4 109.4h1.4v1.4h-1.4zM277.2 141.9h1.4v1.4h-1.4zM336.8 104.9h1.4v1.4h-1.4zM264.5 144.9h1.4v1.4h-1.4zM320.8 86.8h1.4v1.4h-1.4zM262.2 151.4h1.4v1.4h-1.4zM286.7 136.4h1.4v1.4h-1.4zM279.8 141.3h1.4v1.4h-1.4zM310.3 132.3h1.4v1.4h-1.4zM328.3 84.6h1.4v1.4h-1.4zM335.6 93.2h1.4v1.4h-1.4zM334.0 94.8h1.4v1.4h-1.4zM334.4 86.1h1.4v1.4h-1.4zM279.5 139.8h1.4v1.4h-1.4zM334.6 109.2h1.4v1.4h-1.4zM337.9 106.8h1.4v1.4h-1.4zM302.5 131.0h1.4v1.4h-1.4zM256.4 150.5h1.4v1.4h-1.4zM329.1 91.1h1.4v1.4h-1.4zM252.2 154.0h1.4v1.4h-1.4zM281.3 140.4h1.4v1.4h-1.4zM335.7 101.8h1.4v1.4h-1.4zM334.1 115.7h1.4v1.4h-1.4zM327.9 111.7h1.4v1.4h-1.4zM279.2 138.9h1.4v1.4h-1.4zM324.3 90.0h1.4v1.4h-1.4zM301.8 123.9h1.4v1.4h-1.4zM325.9 90.7h1.4v1.4h-1.4zM286.9 131.2h1.4v1.4h-1.4zM315.7 119.4h1.4v1.4h-1.4zM276.3 139.8h1.4v1.4h-1.4zM307.6 127.0h1.4v1.4h-1.4zM280.7 142.3h1.4v1.4h-1.4zM276.9 137.8h1.4v1.4h-1.4zM342.6 106.8h1.4v1.4h-1.4zM279.5 147.9h1.4v1.4h-1.4zM293.5 131.2h1.4v1.4h-1.4zM333.1 107.6h1.4v1.4h-1.4zM307.5 123.7h1.4v1.4h-1.4zM258.9 151.5h1.4v1.4h-1.4zM337.5 88.6h1.4v1.4h-1.4zM338.4 106.8h1.4v1.4h-1.4zM296.0 132.5h1.4v1.4h-1.4zM330.5 96.1h1.4v1.4h-1.4zM285.9 133.6h1.4v1.4h-1.4zM292.0 128.4h1.4v1.4h-1.4zM303.8 121.0h1.4v1.4h-1.4zM264.9 148.6h1.4v1.4h-1.4zM282.0 136.0h1.4v1.4h-1.4zM327.6 91.8h1.4v1.4h-1.4zM288.2 135.6h1.4v1.4h-1.4zM322.0 110.3h1.4v1.4h-1.4zM327.9 90.8h1.4v1.4h-1.4zM295.1 129.3h1.4v1.4h-1.4zM333.8 92.1h1.4v1.4h-1.4zM327.6 109.9h1.4v1.4h-1.4zM310.1 116.2h1.4v1.4h-1.4zM294.6 127.9h1.4v1.4h-1.4zM281.0 140.9h1.4v1.4h-1.4zM281.6 135.4h1.4v1.4h-1.4zM299.7 125.0h1.4v1.4h-1.4zM343.4 100.9h1.4v1.4h-1.4zM273.1 143.5h1.4v1.4h-1.4zM327.7 87.9h1.4v1.4h-1.4zM273.1 141.2h1.4v1.4h-1.4zM328.6 93.9h1.4v1.4h-1.4zM323.0 115.3h1.4v1.4h-1.4zM288.8 138.7h1.4v1.4h-1.4zM297.0 133.0h1.4v1.4h-1.4zM284.5 147.0h1.4v1.4h-1.4zM322.1 88.0h1.4v1.4h-1.4zM334.8 106.5h1.4v1.4h-1.4zM339.0 90.6h1.4v1.4h-1.4zM312.3 114.4h1.4v1.4h-1.4zM335.5 93.3h1.4v1.4h-1.4zM330.6 94.6h1.4v1.4h-1.4zM312.7 118.2h1.4v1.4h-1.4zM258.0 148.3h1.4v1.4h-1.4zM326.6 114.3h1.4v1.4h-1.4zM331.0 93.9h1.4v1.4h-1.4zM266.3 150.3h1.4v1.4h-1.4zM303.7 82.3h1.4v1.4h-1.4zM281.7 85.2h1.4v1.4h-1.4zM247.6 107.9h1.4v1.4h-1.4zM270.7 86.4h1.4v1.4h-1.4zM308.3 81.1h1.4v1.4h-1.4zM265.5 92.8h1.4v1.4h-1.4zM251.2 100.6h1.4v1.4h-1.4zM282.5 84.6h1.4v1.4h-1.4zM281.9 84.1h1.4v1.4h-1.4zM294.9 83.0h1.4v1.4h-1.4zM282.8 81.6h1.4v1.4h-1.4zM305.1 82.5h1.4v1.4h-1.4zM250.5 103.6h1.4v1.4h-1.4zM291.6 80.6h1.4v1.4h-1.4zM275.5 84.7h1.4v1.4h-1.4zM304.0 80.2h1.4v1.4h-1.4zM286.5 82.8h1.4v1.4h-1.4zM286.5 76.9h1.4v1.4h-1.4zM309.3 82.2h1.4v1.4h-1.4zM316.2 77.9h1.4v1.4h-1.4zM323.2 84.3h1.4v1.4h-1.4zM287.7 76.4h1.4v1.4h-1.4zM299.6 69.8h1.4v1.4h-1.4zM296.5 83.0h1.4v1.4h-1.4zM314.7 74.2h1.4v1.4h-1.4zM286.5 83.7h1.4v1.4h-1.4zM287.0 82.1h1.4v1.4h-1.4zM284.8 78.0h1.4v1.4h-1.4zM281.8 83.3h1.4v1.4h-1.4zM314.7 86.8h1.4v1.4h-1.4zM294.3 70.0h1.4v1.4h-1.4zM321.2 82.2h1.4v1.4h-1.4zM292.4 72.4h1.4v1.4h-1.4zM298.1 81.6h1.4v1.4h-1.4zM314.5 83.9h1.4v1.4h-1.4zM300.4 81.6h1.4v1.4h-1.4zM291.9 82.1h1.4v1.4h-1.4zM320.0 85.0h1.4v1.4h-1.4zM316.5 85.5h1.4v1.4h-1.4zM308.6 80.1h1.4v1.4h-1.4zM313.8 83.3h1.4v1.4h-1.4zM319.8 83.4h1.4v1.4h-1.4zM317.8 85.5h1.4v1.4h-1.4zM316.7 86.3h1.4v1.4h-1.4zM302.7 80.9h1.4v1.4h-1.4zM291.9 72.9h1.4v1.4h-1.4zM284.5 81.5h1.4v1.4h-1.4zM284.1 84.0h1.4v1.4h-1.4zM315.8 85.1h1.4v1.4h-1.4zM303.6 69.2h1.4v1.4h-1.4zM317.0 79.1h1.4v1.4h-1.4zM303.8 77.0h1.4v1.4h-1.4zM310.6 82.9h1.4v1.4h-1.4zM288.0 80.0h1.4v1.4h-1.4zM302.2 68.7h1.4v1.4h-1.4zM299.9 78.4h1.4v1.4h-1.4zM294.2 79.2h1.4v1.4h-1.4zM293.6 81.5h1.4v1.4h-1.4zM310.0 85.3h1.4v1.4h-1.4zM328.6 112.0h1.4v1.4h-1.4zM320.2 115.9h1.4v1.4h-1.4zM334.1 100.4h1.4v1.4h-1.4zM330.5 107.0h1.4v1.4h-1.4zM319.8 111.8h1.4v1.4h-1.4zM321.1 89.8h1.4v1.4h-1.4zM330.4 95.8h1.4v1.4h-1.4zM325.8 109.0h1.4v1.4h-1.4zM332.5 106.2h1.4v1.4h-1.4zM330.3 109.8h1.4v1.4h-1.4zM310.6 118.2h1.4v1.4h-1.4zM314.6 83.9h1.4v1.4h-1.4zM304.6 83.9h1.4v1.4h-1.4zM333.4 108.5h1.4v1.4h-1.4zM308.4 83.6h1.4v1.4h-1.4zM334.4 98.8h1.4v1.4h-1.4zM322.9 83.6h1.4v1.4h-1.4zM316.4 85.7h1.4v1.4h-1.4zM332.7 97.4h1.4v1.4h-1.4zM316.4 116.4h1.4v1.4h-1.4zM320.9 87.2h1.4v1.4h-1.4zM333.7 94.4h1.4v1.4h-1.4zM311.3 115.0h1.4v1.4h-1.4zM316.9 85.0h1.4v1.4h-1.4zM309.1 84.5h1.4v1.4h-1.4zM332.9 112.7h1.4v1.4h-1.4zM342.0 108.4h1.4v1.4h-1.4zM336.1 94.8h1.4v1.4h-1.4zM333.7 108.3h1.4v1.4h-1.4zM335.8 106.1h1.4v1.4h-1.4zM314.8 113.4h1.4v1.4h-1.4zM321.4 87.9h1.4v1.4h-1.4zM321.2 111.5h1.4v1.4h-1.4zM310.3 85.3h1.4v1.4h-1.4zM315.2 79.4h1.4v1.4h-1.4zM335.4 107.6h1.4v1.4h-1.4zM328.1 113.2h1.4v1.4h-1.4zM323.7 86.7h1.4v1.4h-1.4zM313.3 117.6h1.4v1.4h-1.4zM324.1 109.6h1.4v1.4h-1.4zM334.8 94.3h1.4v1.4h-1.4zM336.6 101.4h1.4v1.4h-1.4zM313.9 87.3h1.4v1.4h-1.4zM331.6 96.6h1.4v1.4h-1.4zM331.5 94.9h1.4v1.4h-1.4zM322.1 112.8h1.4v1.4h-1.4zM333.2 106.2h1.4v1.4h-1.4zM324.7 91.5h1.4v1.4h-1.4zM324.3 112.2h1.4v1.4h-1.4zM337.1 104.9h1.4v1.4h-1.4zM334.3 97.2h1.4v1.4h-1.4zM323.9 90.8h1.4v1.4h-1.4zM312.5 118.1h1.4v1.4h-1.4zM313.1 119.2h1.4v1.4h-1.4zM320.4 111.6h1.4v1.4h-1.4zM330.9 90.3h1.4v1.4h-1.4zM310.9 118.8h1.4v1.4h-1.4zM322.1 89.7h1.4v1.4h-1.4zM315.5 116.0h1.4v1.4h-1.4zM324.5 85.6h1.4v1.4h-1.4zM324.0 114.8h1.4v1.4h-1.4zM330.4 93.1h1.4v1.4h-1.4zM311.9 86.2h1.4v1.4h-1.4zM310.3 83.2h1.4v1.4h-1.4zM334.3 105.3h1.4v1.4h-1.4zM330.1 89.4h1.4v1.4h-1.4zM326.4 111.6h1.4v1.4h-1.4zM321.7 115.4h1.4v1.4h-1.4zM325.9 113.4h1.4v1.4h-1.4zM320.7 114.7h1.4v1.4h-1.4zM335.4 100.6h1.4v1.4h-1.4zM340.4 100.0h1.4v1.4h-1.4zM344.1 91.5h1.4v1.4h-1.4zM334.6 98.4h1.4v1.4h-1.4zM338.9 103.5h1.4v1.4h-1.4zM312.4 116.5h1.4v1.4h-1.4zM338.3 94.3h1.4v1.4h-1.4zM339.5 102.3h1.4v1.4h-1.4zM316.7 116.7h1.4v1.4h-1.4zM314.7 115.3h1.4v1.4h-1.4zM324.9 91.4h1.4v1.4h-1.4zM343.0 96.6h1.4v1.4h-1.4zM308.5 116.6h1.4v1.4h-1.4zM322.5 110.8h1.4v1.4h-1.4zM334.1 99.4h1.4v1.4h-1.4zM309.9 115.7h1.4v1.4h-1.4zM337.6 99.9h1.4v1.4h-1.4zM329.8 54.4h1.4v1.4h-1.4zM310.5 65.1h1.4v1.4h-1.4zM324.3 111.7h1.4v1.4h-1.4zM341.5 84.5h1.4v1.4h-1.4zM339.6 106.0h1.4v1.4h-1.4zM339.3 94.7h1.4v1.4h-1.4zM345.8 104.2h1.4v1.4h-1.4zM335.9 85.9h1.4v1.4h-1.4zM351.0 75.0h1.4v1.4h-1.4zM338.1 111.3h1.4v1.4h-1.4zM334.7 100.8h1.4v1.4h-1.4zM338.0 101.2h1.4v1.4h-1.4zM323.5 91.9h1.4v1.4h-1.4zM342.5 102.9h1.4v1.4h-1.4zM338.6 103.8h1.4v1.4h-1.4zM335.8 91.7h1.4v1.4h-1.4zM344.4 89.6h1.4v1.4h-1.4zM352.3 93.2h1.4v1.4h-1.4zM312.3 86.6h1.4v1.4h-1.4zM363.4 95.4h1.4v1.4h-1.4zM328.9 90.8h1.4v1.4h-1.4zM340.2 110.2h1.4v1.4h-1.4zM312.6 85.5h1.4v1.4h-1.4zM317.4 85.0h1.4v1.4h-1.4zM328.2 75.2h1.4v1.4h-1.4zM348.2 105.2h1.4v1.4h-1.4zM315.1 78.9h1.4v1.4h-1.4zM335.5 65.0h1.4v1.4h-1.4zM329.5 84.5h1.4v1.4h-1.4zM342.9 99.6h1.4v1.4h-1.4zM344.3 97.7h1.4v1.4h-1.4zM341.9 88.2h1.4v1.4h-1.4zM340.6 84.3h1.4v1.4h-1.4zM323.3 66.6h1.4v1.4h-1.4zM310.6 79.8h1.4v1.4h-1.4zM328.7 84.4h1.4v1.4h-1.4zM363.4 99.7h1.4v1.4h-1.4zM317.8 111.9h1.4v1.4h-1.4zM346.6 98.1h1.4v1.4h-1.4zM346.7 82.0h1.4v1.4h-1.4zM354.7 85.8h1.4v1.4h-1.4zM339.7 66.5h1.4v1.4h-1.4zM345.9 99.8h1.4v1.4h-1.4zM350.0 83.2h1.4v1.4h-1.4zM356.2 64.4h1.4v1.4h-1.4zM362.5 70.7h1.4v1.4h-1.4zM358.3 95.6h1.4v1.4h-1.4zM352.1 79.0h1.4v1.4h-1.4zM335.5 68.6h1.4v1.4h-1.4z"/>
<path fill="#5e35fe" fill-rule="evenodd" d="M226.8,157.2 227.0,157.4 227.8,157.2 229.6,155.2 231.5,156.1 233.2,156.1 235.2,154.7 236.8,154.2 238.9,153.6 240.4,153.9 243.0,151.2 245.6,151.7 247.2,151.2 248.3,149.4 249.2,148.7 250.3,148.7 251.5,149.9 253.9,150.4 254.2,149.9 253.9,148.9 254.3,148.3 256.0,148.8 257.0,148.4 260.1,143.6 265.3,142.9 266.8,140.9 270.5,139.7 272.5,138.5 273.8,138.5 275.6,136.6 278.2,136.0 279.8,134.0 282.8,133.8 283.6,131.7 286.5,129.0 287.6,129.0 288.6,129.6 289.6,129.3 291.5,129.6 289.9,127.5 290.2,127.0 293.8,124.8 295.8,124.1 296.0,122.3 297.9,119.9 302.7,119.2 303.1,118.7 303.3,116.1 304.2,114.0 305.2,113.8 306.2,114.5 306.8,117.1 307.7,117.7 308.8,116.6 310.9,116.1 311.3,115.6 310.9,114.0 311.1,112.5 311.4,111.9 313.4,110.9 314.0,109.2 315.0,109.1 315.5,109.9 316.0,110.0 318.6,108.9 320.7,109.5 320.9,107.8 323.1,106.7 323.9,105.2 325.4,104.3 326.9,104.4 327.8,105.2 327.9,107.8 330.5,106.8 331.1,105.2 330.8,104.1 333.8,102.1 334.7,100.5 329.0,101.0 327.2,98.9 326.4,95.2 324.8,94.5 322.8,94.9 321.7,94.6 320.4,93.2 320.2,91.3 318.1,91.8 316.6,90.4 314.0,90.5 312.9,88.0 312.4,87.6 310.3,87.3 309.3,85.3 308.8,85.2 308.3,85.9 308.5,88.0 307.7,89.0 306.7,89.3 305.9,89.1 305.4,88.0 306.0,85.4 304.6,84.5 303.6,85.6 300.5,86.3 300.0,87.7 298.9,88.4 298.3,87.5 297.9,85.3 296.4,85.9 294.8,85.1 293.8,85.6 290.7,85.6 289.1,84.7 288.1,86.6 285.0,88.8 283.9,89.2 282.4,87.8 281.3,87.8 281.0,90.1 280.3,91.1 278.7,91.2 277.7,90.2 276.2,89.7 275.1,90.1 272.5,91.8 271.5,93.1 269.6,93.2 268.9,94.5 267.4,95.2 266.1,96.3 265.3,98.2 263.2,98.5 261.7,99.6 259.7,100.0 257.0,103.4 255.9,103.6 253.9,107.4 251.1,109.3 251.0,111.9 249.6,112.5 249.4,114.0 248.7,114.6 247.2,114.9 246.4,115.6 246.2,118.2 242.4,123.9 242.3,124.9 238.9,127.0 238.1,129.1 235.8,131.2 235.4,132.7 234.4,134.3 233.8,137.4 234.2,139.0 232.7,141.1 234.0,145.7 232.1,147.2 230.6,146.6 229.8,146.8 229.6,149.9 227.5,152.0 228.0,153.0 227.9,154.6ZM253.9,147.4 253.3,146.8 253.3,146.3 254.4,145.5 255.1,146.3ZM265.3,140.3 264.9,140.0 265.8,139.6 265.8,140.3ZM311.9,91.8 311.2,91.1 311.9,90.6 312.7,91.1ZM317.1,94.8 317.1,94.3 318.1,93.4 318.6,93.2 319.1,93.7 318.1,94.9ZM326.4,102.3 326.1,102.1 326.4,101.9ZM323.9,109.9 324.3,110.1 325.2,109.3 324.8,108.8 324.0,108.8ZM326.3,109.3 327.4,109.5 327.6,108.3ZM331.8,96.9 332.2,96.9 332.1,96.6Z"/>
<path fill="#4062fa" fill-rule="evenodd" d="M226.9,157.2 227.6,157.2 229.6,155.1 231.6,156.1 233.2,156.0 235.2,154.6 236.8,154.1 238.9,153.6 240.4,153.7 243.0,151.0 246.3,151.5 247.3,150.9 248.0,149.4 249.2,148.6 250.3,148.5 251.8,149.8 253.9,150.1 253.6,148.9 253.9,148.3 254.4,147.9 256.5,148.6 260.1,143.3 263.2,143.2 265.4,142.6 265.8,142.1 265.8,141.2 264.2,141.3 264.0,140.5 264.8,139.2 265.8,139.0 266.8,140.6 270.5,139.5 271.5,138.7 274.1,138.1 274.9,136.9 276.2,136.1 278.2,135.8 280.3,133.5 282.5,133.8 283.1,132.2 286.0,129.0 287.0,128.7 288.6,129.3 290.9,129.1 290.1,128.9 289.6,128.1 289.6,127.0 295.1,123.9 295.5,123.4 295.3,121.8 296.9,120.9 297.4,119.9 302.6,119.0 303.1,117.1 303.1,112.4 304.0,113.5 306.7,113.6 307.1,117.1 307.7,117.3 308.8,116.4 311.1,115.6 310.8,114.0 311.0,111.9 311.4,111.5 312.5,111.4 313.2,110.9 313.8,108.8 315.0,108.6 316.0,109.6 317.6,109.3 318.3,108.8 318.6,107.6 322.8,106.8 323.6,105.2 324.8,104.2 327.9,104.0 329.5,105.7 329.7,106.2 329.1,106.7 330.0,106.7 330.6,106.2 330.9,103.6 332.3,103.1 333.6,102.1 334.2,101.0 332.6,100.8 329.0,101.4 327.0,98.9 326.4,96.9 325.9,96.5 324.8,98.2 323.8,98.4 323.5,97.9 323.8,96.7 324.8,96.0 325.9,96.1 326.0,95.3 324.8,94.7 322.2,95.1 320.3,93.2 320.2,91.5 318.1,92.0 317.3,91.7 316.6,90.6 314.0,91.0 313.4,91.7 314.2,93.2 313.6,94.3 312.9,94.3 312.3,92.2 311.2,91.7 310.9,91.1 311.4,90.5 312.9,90.5 313.2,90.1 312.7,88.0 310.3,87.5 309.3,85.6 308.8,85.3 308.5,85.9 308.8,88.5 307.2,89.4 306.2,89.5 305.3,88.5 305.2,87.0 305.8,85.4 304.6,84.7 303.6,85.9 300.6,86.5 298.9,90.1 298.2,89.1 297.9,85.6 296.4,86.1 294.8,85.3 293.8,85.9 290.7,85.8 289.1,85.1 287.9,87.0 284.4,89.3 283.4,89.1 282.4,87.9 281.3,88.0 281.0,90.6 280.3,91.3 278.7,91.4 276.9,90.1 275.4,90.1 272.5,92.1 271.9,93.2 271.0,93.5 269.9,93.2 268.9,94.8 267.4,95.3 266.3,96.3 265.5,98.4 263.2,98.7 261.7,99.8 260.0,100.0 257.0,103.6 256.0,103.9 253.9,107.7 251.3,109.3 251.4,112.5 250.8,112.8 249.7,112.7 250.2,114.0 250.0,114.5 247.2,115.0 246.5,115.6 246.5,118.2 244.6,120.5 242.8,123.9 242.7,124.9 239.7,126.5 238.7,127.5 238.9,129.1 236.2,130.7 235.7,133.3 234.7,133.8 234.5,134.3 234.0,137.4 234.2,139.0 232.8,141.1 234.1,145.7 232.1,147.2 230.1,146.8 229.7,149.9 227.6,152.0 228.1,154.1ZM236.3,133.3 235.9,133.3 236.3,133.0ZM253.9,147.7 253.1,146.8 253.1,146.3 253.9,145.4 254.9,145.4 255.4,146.3ZM261.1,103.2 261.1,102.3 261.7,102.4 261.7,103.2ZM269.4,138.5 268.8,137.9 268.9,137.3 269.6,137.4 269.8,137.9ZM286.5,90.9 286.2,90.6 286.5,90.4 287.2,90.6ZM308.3,111.8 308.3,110.2 308.8,109.7 309.3,109.8 309.3,111.1 308.8,111.8ZM310.9,107.8 310.9,107.2 311.4,107.0 312.3,107.3 312.5,107.8 311.9,108.3ZM317.1,95.6 316.3,94.8 316.4,94.3 317.1,93.5 318.6,92.9 319.4,93.7 319.3,94.3 318.1,95.6ZM325.9,103.0 325.4,102.1 325.9,101.0 326.9,101.5 327.6,102.6 326.9,103.1ZM324.3,109.9 324.9,109.3 324.3,108.8ZM320.1,109.3 320.7,108.8 320.2,108.5 319.8,108.8ZM326.7,109.3 327.4,109.3 327.4,108.6Z"/>
<path fill="#2884f6" fill-rule="evenodd" d="M227.1,157.2 228.0,156.8 228.7,155.6 229.6,155.1 231.6,156.0 233.2,155.9 236.8,154.1 238.9,153.5 240.4,153.6 243.0,150.9 246.1,151.4 247.2,150.9 247.8,149.4 249.2,148.5 250.8,148.6 251.8,149.6 253.4,149.6 253.6,147.8 253.0,146.3 254.4,145.0 254.9,145.0 255.7,146.3 254.5,147.8 256.5,148.5 260.1,143.2 265.3,142.6 265.3,141.6 264.2,141.9 263.7,141.1 264.0,139.5 264.7,139.0 265.8,138.7 267.4,140.3 270.2,139.5 272.5,138.2 274.1,137.9 274.7,136.9 276.2,136.0 277.7,135.9 278.6,135.3 279.8,133.6 282.4,133.6 283.2,131.7 285.5,129.1 287.0,128.7 288.7,129.1 289.2,128.6 289.1,127.5 289.6,126.0 290.1,126.3 291.5,126.0 294.3,123.9 294.8,121.3 295.3,120.8 296.4,120.9 297.4,119.4 299.5,119.5 302.6,118.0 302.8,115.6 302.4,114.0 302.6,112.5 303.1,111.9 304.6,113.2 307.7,113.2 306.9,115.1 307.2,116.9 307.7,117.0 308.8,116.3 311.0,115.6 310.6,114.0 310.9,111.5 311.4,110.9 312.4,111.3 313.1,110.9 313.4,108.6 315.0,108.4 316.3,109.3 317.2,109.3 318.1,108.8 318.6,107.3 322.2,106.6 324.3,104.4 326.6,103.6 325.9,103.4 325.1,102.6 325.4,99.5 327.4,101.7 328.2,102.1 328.2,103.6 330.0,105.7 330.5,105.7 330.7,103.6 332.2,103.1 334.0,101.0 328.6,101.5 327.9,100.0 326.8,98.9 326.4,97.6 325.9,97.6 324.8,99.1 323.2,98.4 323.0,97.9 323.3,95.8 324.4,94.8 322.8,95.3 321.7,94.9 319.9,92.7 320.2,91.6 317.6,92.1 316.6,90.8 316.0,90.7 314.5,91.4 314.1,91.7 314.5,92.7 314.2,93.7 313.4,94.6 312.9,94.6 312.3,92.7 310.7,91.1 311.4,90.3 312.9,90.2 312.9,88.8 312.4,87.9 310.3,87.8 308.8,85.4 308.8,87.6 309.5,88.0 309.6,88.5 307.2,89.5 306.2,89.6 305.5,89.1 304.8,86.5 305.7,86.0 305.8,85.4 304.6,84.8 304.1,85.9 303.6,86.2 301.0,86.5 298.9,90.5 297.7,89.1 297.9,85.8 296.4,86.2 294.8,85.4 293.2,86.2 289.1,85.4 286.3,88.5 284.4,89.6 283.4,89.3 282.4,88.0 281.5,88.0 281.1,90.6 280.3,91.4 278.7,91.5 276.7,90.1 275.6,90.1 272.7,92.2 272.0,93.5 269.9,93.4 269.1,94.8 267.0,95.8 266.2,96.9 266.3,97.9 265.8,98.6 263.2,98.8 262.2,99.7 260.1,100.3 257.0,103.9 256.0,104.0 255.2,106.2 253.9,107.8 251.6,109.3 251.7,112.5 250.7,113.5 250.3,114.9 247.5,115.1 246.6,115.6 246.6,118.2 244.5,120.8 243.1,123.9 243.0,125.1 239.8,126.5 238.8,127.5 239.4,129.1 236.2,130.7 235.8,132.3 236.8,132.6 236.8,133.2 236.3,133.8 235.2,133.6 234.7,134.0 234.0,137.4 234.3,139.0 232.8,141.1 234.1,145.7 233.7,146.4 232.1,147.3 230.1,146.9 229.7,149.9 227.6,152.0 228.2,154.1ZM259.1,104.3 258.6,104.1 259.1,103.9ZM261.1,103.8 260.4,103.1 260.4,102.6 260.6,101.6 261.1,101.4 262.2,102.6 261.8,103.6ZM268.9,138.6 268.6,137.4 268.9,136.8 269.4,136.8 270.2,138.5 269.4,138.9ZM274.6,92.5 274.2,92.2 274.3,91.7 275.3,91.7 275.4,92.2ZM275.6,135.1 275.3,134.3 275.6,133.6 276.2,133.8 276.5,134.8 276.2,135.2ZM285.0,126.6 284.5,126.0 285.0,125.5 285.5,125.6 286.0,126.5ZM292.7,121.9 292.7,120.9 293.1,121.8ZM308.3,112.7 307.9,112.5 307.9,110.4 308.3,109.7 309.3,109.2 309.9,110.4 309.3,111.7ZM310.9,108.5 310.5,107.8 310.9,106.7 313.1,107.3 312.9,108.4ZM313.4,106.9 314.0,105.8 314.3,106.2 314.0,106.7ZM317.1,96.0 316.3,95.3 316.0,94.3 317.1,93.1 318.6,92.8 319.5,93.7 319.5,94.3 318.1,96.0ZM320.7,98.5 319.3,97.9 319.0,97.4 320.7,97.5 321.3,97.9ZM286.0,91.2 285.7,90.6 286.0,90.0 287.8,90.1 287.5,91.1ZM324.2,109.3 324.3,109.7 324.7,109.3 324.3,108.9Z"/>
<path fill="#0ea5ef" fill-rule="evenodd" d="M227.5,157.2 229.6,155.0 231.6,155.9 233.7,155.8 235.2,154.6 238.9,153.5 240.4,153.5 243.0,150.7 245.6,151.3 246.6,151.1 247.5,150.4 247.7,149.3 249.2,148.4 250.8,148.4 251.8,149.5 252.8,149.4 252.9,146.3 254.9,144.5 256.1,146.3 255.0,147.8 256.5,148.4 257.2,146.8 258.4,145.7 260.1,143.0 262.2,142.8 263.2,142.1 263.5,140.0 264.2,138.9 265.8,138.5 267.4,140.0 268.9,139.5 268.3,137.4 268.9,136.4 269.9,136.9 271.0,138.6 274.1,137.5 276.0,135.9 275.0,134.8 275.2,133.3 276.2,133.3 277.2,135.5 278.3,135.3 279.8,133.4 282.3,133.3 282.4,131.7 284.2,130.7 285.0,129.1 286.5,128.5 288.5,128.6 288.6,125.5 289.1,124.5 289.6,124.3 290.4,126.0 291.2,126.0 293.4,123.9 293.6,123.4 292.7,123.0 292.2,122.1 292.1,120.8 292.4,120.3 293.2,120.1 294.3,120.8 296.4,120.0 296.7,119.2 296.3,117.7 298.4,115.4 299.2,115.6 299.2,116.1 298.0,118.2 298.1,118.7 299.5,119.2 302.1,117.7 302.5,115.6 301.8,114.5 302.6,111.9 303.6,111.5 304.6,112.4 307.2,112.3 307.7,109.9 308.8,108.9 309.8,108.7 310.3,106.8 310.9,106.3 312.9,106.4 314.5,105.4 314.5,106.7 313.7,107.8 317.1,109.2 317.8,108.8 318.6,107.1 320.2,107.0 322.2,106.2 322.8,105.0 325.1,103.6 325.0,101.0 324.3,99.5 322.8,98.5 320.7,98.8 319.6,98.4 318.7,97.9 318.1,96.6 316.0,95.5 315.7,94.3 317.4,92.2 316.6,91.1 315.0,92.0 314.1,94.3 312.9,94.8 312.0,92.7 310.4,91.1 310.9,90.2 312.9,89.9 312.4,88.0 306.2,89.9 305.3,89.1 304.6,87.5 303.1,86.4 301.9,86.5 300.5,87.7 299.6,90.1 298.9,91.0 297.4,89.1 297.9,86.2 297.4,86.0 296.4,86.4 294.8,85.7 292.7,86.9 291.7,86.2 289.1,85.8 287.0,87.9 286.5,89.1 287.0,89.5 288.1,89.6 288.3,90.1 288.1,91.0 287.2,91.7 286.0,91.5 285.0,89.9 283.4,89.5 281.9,88.0 281.2,90.6 280.3,91.5 278.7,91.6 275.9,90.1 275.0,90.6 276.0,92.2 274.1,93.6 273.6,93.8 273.1,93.4 272.0,94.0 269.9,93.6 269.4,94.8 267.9,95.3 266.6,96.3 266.3,98.6 265.8,99.0 263.0,98.9 262.0,101.0 262.5,102.6 261.7,104.1 260.1,104.2 258.6,105.0 257.0,104.2 256.0,104.5 255.1,106.7 252.0,109.3 251.9,112.5 251.1,113.5 250.5,115.1 247.7,115.2 246.6,115.7 246.5,118.7 244.6,120.8 243.0,125.6 240.0,126.5 238.9,127.5 239.6,128.6 239.4,129.5 236.3,130.8 236.1,131.7 237.2,132.7 236.3,134.0 234.7,134.2 234.1,137.4 234.4,139.0 232.9,141.1 234.1,145.7 233.7,146.4 232.1,147.3 230.1,147.0 229.8,149.9 227.7,152.0 228.3,153.5 227.2,156.7ZM279.3,131.5 279.3,130.8 280.1,131.2 279.8,131.6ZM286.0,127.1 284.1,126.5 284.1,126.0 285.0,125.0 285.5,125.1 286.2,126.0 286.4,126.5ZM294.3,91.2 294.1,90.6 294.8,90.3 295.2,90.6 294.9,91.1ZM307.2,116.1 307.7,116.5 310.9,115.6 310.5,114.0 310.3,111.1 307.2,114.9ZM312.0,110.9 313.0,110.9 312.9,109.3 312.4,109.1 311.6,109.3ZM329.7,104.7 330.0,104.8 330.4,103.6 332.1,103.0 333.0,102.1 333.1,101.2 329.9,101.5 328.9,102.1 328.7,103.6ZM257.9,103.6 259.6,102.7 259.6,101.8 259.1,101.7ZM326.9,101.0 327.4,101.4 328.1,101.0 327.9,100.2 326.9,99.5 326.5,100.0ZM321.3,97.4 322.2,97.8 322.7,97.4 322.6,95.8 320.2,93.6 319.9,93.7 318.6,96.3ZM319.5,93.2 319.7,93.6 319.8,93.2 319.7,91.6 318.9,92.2ZM308.7,87.0 309.3,87.4 309.6,87.0 309.3,85.9 308.8,85.5ZM304.6,85.4 305.2,85.8 305.5,85.4Z"/>
<path fill="#0dc2e8" fill-rule="evenodd" d="M227.3,156.7 227.5,157.0 228.0,156.7 228.6,155.6 229.6,155.0 231.6,155.9 233.7,155.7 235.2,154.6 238.9,153.4 239.9,153.4 241.5,152.5 243.0,150.6 246.6,151.1 247.4,150.4 247.7,149.0 249.2,148.4 251.2,148.3 252.3,149.1 253.0,145.7 254.9,143.7 255.6,145.2 256.7,146.3 255.3,147.8 256.5,148.4 256.9,147.3 256.7,146.8 258.2,145.7 260.0,142.6 262.2,142.5 262.6,142.1 263.2,139.5 263.7,139.0 265.8,138.0 267.4,139.6 268.3,139.5 268.1,136.9 268.9,136.0 269.9,136.6 271.0,138.4 272.6,137.9 272.8,137.4 271.5,135.3 272.5,134.5 274.1,136.9 275.1,136.4 275.3,135.9 274.8,134.8 274.6,132.7 276.2,132.8 277.2,134.8 277.7,135.2 278.6,134.8 279.8,133.1 281.3,133.2 281.7,132.7 281.9,131.0 282.4,130.3 283.9,130.7 284.4,130.1 284.8,128.6 286.5,128.1 283.7,126.5 285.0,124.2 285.5,124.0 286.0,124.7 286.9,126.5 286.8,127.5 287.1,128.1 287.7,128.1 288.6,124.4 288.3,123.4 288.6,122.7 290.1,122.0 290.0,123.9 291.2,124.8 291.9,123.9 291.5,121.3 292.2,120.0 293.2,119.7 294.8,120.1 295.6,119.7 295.5,118.2 296.0,117.1 298.4,115.0 300.0,115.1 301.5,114.0 302.3,111.9 303.1,111.2 306.8,111.9 307.3,109.9 308.2,108.8 309.4,108.3 310.3,106.2 310.9,105.9 312.4,106.2 314.5,105.0 314.9,105.7 315.0,107.8 317.1,109.0 317.6,108.8 318.1,106.9 320.2,106.8 321.8,105.7 322.3,104.7 323.8,104.3 324.6,103.6 324.8,101.5 323.9,99.5 322.5,98.9 320.7,100.2 320.9,99.5 318.6,98.2 315.5,95.4 315.3,94.3 315.9,92.7 315.5,92.6 314.0,94.7 312.9,95.0 312.2,94.3 311.8,92.7 310.2,91.1 310.8,89.6 309.3,89.4 305.7,90.3 304.6,88.0 302.6,86.7 300.6,88.0 299.5,91.1 298.9,91.6 297.1,89.1 297.4,86.5 296.4,86.6 295.3,86.1 292.7,87.4 291.2,86.4 289.1,86.3 287.1,88.5 287.6,89.2 288.6,87.9 289.4,88.5 288.4,91.1 287.0,92.0 286.0,91.9 285.0,90.6 282.4,88.8 280.3,91.6 278.2,91.6 276.2,90.3 275.3,90.6 276.6,92.2 274.7,93.2 274.1,94.2 272.0,94.5 270.4,93.7 269.4,95.1 267.9,95.5 266.8,96.3 266.7,98.4 266.3,99.0 265.8,99.3 264.2,98.9 263.2,99.2 262.7,103.1 262.2,104.2 258.6,105.3 256.5,105.2 255.4,106.7 252.5,109.3 252.6,110.4 252.1,111.4 252.1,112.5 250.8,115.3 250.3,115.5 247.2,115.5 246.6,115.9 246.8,118.7 244.6,121.0 243.9,124.4 243.0,126.0 241.5,126.0 240.2,126.5 239.3,127.5 239.9,128.6 239.6,129.6 236.8,130.5 236.3,131.0 236.3,131.7 237.3,132.2 237.4,132.7 236.3,134.2 235.2,134.1 234.7,134.5 234.1,137.4 234.5,139.0 233.0,141.1 234.1,145.7 233.7,146.5 232.1,147.3 230.1,147.1 229.9,149.9 227.7,152.0 228.3,153.5ZM277.7,127.3 277.5,126.5 277.7,126.0 278.2,126.5ZM279.3,132.0 278.7,131.2 278.6,130.1 278.0,129.6 278.2,128.9 278.8,130.1 280.3,130.6 280.7,131.2 280.3,131.8ZM285.0,123.6 284.0,122.9 283.9,122.3 284.4,122.2 286.7,122.9 287.1,123.4ZM294.3,91.4 293.8,90.6 294.1,90.1 294.8,90.0 295.4,90.6 295.2,91.1ZM307.7,92.4 307.7,92.0 308.0,92.2ZM314.5,99.9 314.1,99.5 314.5,98.5 315.1,99.5ZM315.0,98.2 314.7,97.4 315.5,96.7 316.0,97.4ZM298.7,118.2 298.9,118.5 300.0,117.7 301.7,117.1 302.1,116.6 302.1,115.5 300.0,115.9ZM307.6,116.1 310.9,115.6 309.8,112.3 308.7,114.0 307.4,115.1ZM312.3,110.4 312.4,110.7 312.9,110.4 312.4,109.8ZM329.2,103.6 329.5,103.9 332.1,102.7 332.5,102.1 332.1,101.6 329.5,102.0 329.0,103.1ZM327.3,101.0 327.9,100.5 327.4,99.9 327.0,100.0 326.9,100.5ZM320.8,96.9 322.2,96.9 322.2,96.3 321.2,94.9 320.2,94.4 319.2,95.8 319.4,96.3ZM311.0,89.6 312.9,89.6 312.4,88.4ZM308.7,86.5 309.3,87.0 309.0,85.9 308.8,85.8Z"/>
<path fill="#27dade" fill-rule="evenodd" d="M227.4,156.7 228.0,156.5 229.6,154.9 231.6,155.8 233.7,155.7 235.2,154.5 239.9,153.3 241.5,152.4 243.0,150.4 246.8,150.9 247.2,150.4 247.4,148.9 249.7,148.1 252.3,148.0 252.9,145.7 255.4,143.0 255.8,143.1 255.9,145.2 257.5,146.0 258.0,145.6 259.6,142.4 262.2,142.0 262.6,141.1 262.5,139.0 264.8,138.1 265.8,136.9 266.7,137.4 267.4,139.1 267.9,139.1 267.6,136.9 268.4,135.4 269.9,136.1 271.0,138.0 272.1,137.9 272.2,136.9 271.0,135.3 272.0,133.8 271.9,133.3 271.0,132.7 271.2,132.2 272.0,131.8 276.7,132.1 277.2,134.3 278.2,134.8 278.7,134.3 279.1,132.7 277.5,130.1 276.7,127.5 276.7,126.5 277.7,125.0 278.2,125.0 278.9,126.0 278.3,128.1 279.1,129.6 279.8,130.0 280.8,129.7 281.3,128.0 281.9,127.4 282.9,127.4 284.0,124.9 284.0,123.9 283.1,122.9 283.9,121.3 286.0,121.6 287.6,120.2 290.7,120.8 292.7,119.3 294.8,119.5 295.3,117.0 296.9,116.2 298.4,114.5 300.0,114.6 301.0,114.0 302.6,111.2 303.6,110.7 305.2,110.9 306.3,109.3 309.3,107.8 309.3,106.9 306.5,105.7 306.4,105.2 307.7,105.1 309.3,106.4 310.9,105.4 312.4,105.8 314.5,104.7 315.1,105.2 315.2,107.3 317.1,108.7 317.6,108.3 317.7,106.7 318.1,106.4 319.7,106.6 322.2,104.1 323.3,104.2 324.1,103.6 324.5,101.5 323.8,100.0 323.3,99.4 322.5,99.5 321.4,101.0 321.7,102.9 320.2,104.4 319.7,104.3 319.1,103.5 318.0,103.1 317.7,102.1 319.7,101.9 320.0,99.5 317.1,97.4 315.9,98.9 316.0,100.2 317.1,100.5 317.1,101.5 315.5,102.4 315.3,101.5 315.9,100.5 314.0,100.3 312.9,98.4 314.0,97.7 314.9,96.3 315.0,95.1 314.5,94.6 313.4,95.2 312.4,94.9 311.5,92.7 310.1,91.7 309.8,89.8 308.6,90.1 308.8,92.5 308.3,93.5 307.7,93.5 306.9,92.2 307.7,90.6 307.2,90.4 305.7,90.9 303.6,89.8 303.2,89.6 303.4,88.0 302.6,87.2 302.1,87.3 301.0,88.0 299.9,90.6 299.9,91.1 300.7,92.2 298.9,93.8 298.4,91.7 296.8,89.1 296.4,87.0 295.3,86.3 294.8,86.4 293.2,87.9 291.7,87.8 291.2,86.9 290.3,86.5 289.6,86.5 289.1,87.0 290.1,88.3 293.2,88.5 294.0,89.6 295.3,90.0 295.5,91.1 294.8,91.6 293.8,91.4 293.2,90.2 291.7,89.9 290.1,88.9 289.2,89.6 288.8,91.1 288.1,92.0 286.0,92.3 282.4,89.4 280.3,91.7 278.7,92.0 277.2,91.6 277.3,92.2 275.0,93.2 274.1,95.0 273.1,95.2 271.0,96.9 270.6,95.8 271.3,94.8 270.5,94.2 269.9,95.3 267.9,95.8 267.2,96.3 267.0,98.4 265.8,99.7 264.2,99.3 263.5,99.5 263.2,102.6 262.2,104.6 258.6,105.6 257.0,105.5 253.5,108.8 253.0,109.3 252.9,110.9 252.4,111.4 252.2,113.0 250.8,115.7 247.2,115.6 246.7,116.1 247.0,118.7 244.6,121.3 244.3,124.4 243.0,126.4 241.5,126.2 240.5,126.5 239.9,127.5 240.2,128.6 239.9,129.6 238.9,130.3 236.8,130.6 236.4,131.2 237.6,132.2 237.6,132.7 236.8,134.0 236.3,134.4 235.2,134.3 234.8,134.8 234.2,137.4 234.5,139.0 233.0,141.1 234.2,145.7 233.7,146.5 232.1,147.4 230.1,147.1 229.9,149.9 227.8,152.0 228.4,153.5ZM268.9,134.1 268.9,132.7 269.4,132.4 270.4,132.7 269.4,134.0ZM285.0,95.4 284.4,95.0 282.9,95.2 282.4,94.3 282.8,93.2 284.4,92.2 285.2,92.7 285.0,93.3 284.4,93.5 284.4,94.1 285.5,94.0 286.4,94.8 286.0,95.7ZM291.7,93.4 291.6,92.7 292.2,92.4 293.3,93.2 292.2,93.6ZM302.6,94.8 301.9,94.3 302.0,93.7 303.1,92.6 303.6,94.3 303.4,94.8ZM304.6,108.5 304.1,107.8 304.6,107.7 305.2,108.3ZM304.6,99.2 304.3,98.9 304.6,98.5 305.3,98.9ZM255.7,147.8 256.5,148.0 256.6,147.3 256.0,147.3ZM273.9,135.3 274.1,135.8 274.3,135.3 274.4,133.8 273.6,133.2 273.1,133.8ZM283.9,130.1 283.9,127.9 283.4,128.1 283.0,129.1 283.4,130.0ZM287.1,126.0 287.6,126.2 287.9,124.9 288.0,124.4 287.6,124.2 286.7,124.9ZM290.5,123.4 290.7,123.7 291.2,123.6 291.2,122.6ZM300.3,116.6 301.0,116.9 301.6,116.1ZM307.6,115.6 308.3,115.8 310.2,115.1 309.3,114.4 307.8,115.1ZM329.5,103.1 330.0,103.2 331.6,102.1 329.9,102.1ZM320.1,96.3 321.4,96.3 321.2,95.3 320.7,94.9 320.2,95.0 319.7,95.8ZM303.7,88.5 304.1,88.9 304.4,88.5Z"/>
<path fill="#40ecd4" fill-rule="evenodd" d="M227.5,156.1 228.0,156.4 229.6,154.9 231.6,155.8 233.7,155.6 235.2,154.4 239.9,153.1 241.5,152.2 242.5,150.5 243.0,150.3 246.6,150.9 247.1,150.4 247.2,148.8 249.2,148.1 252.0,147.8 252.7,145.7 254.7,143.1 255.4,142.7 256.0,142.6 256.4,143.1 255.8,144.2 256.0,144.9 256.5,145.4 257.5,145.6 258.2,143.7 257.9,142.6 259.6,141.7 261.7,141.7 261.7,139.0 262.1,138.5 264.4,137.9 264.8,136.8 267.1,135.9 267.5,134.8 267.0,133.3 267.4,132.0 270.5,131.2 273.6,131.3 274.6,130.8 276.4,130.7 276.2,126.5 277.6,123.9 279.8,124.7 281.3,124.9 282.4,125.5 283.4,124.9 282.4,122.9 283.1,121.3 283.9,120.5 285.5,121.1 286.0,120.9 286.6,120.3 286.6,119.2 287.0,119.0 289.6,120.3 290.7,120.3 292.2,119.1 294.3,118.8 294.4,116.6 294.8,116.2 296.9,115.8 297.5,114.5 296.4,112.2 294.8,112.3 294.2,111.9 294.3,111.4 295.3,111.1 297.9,111.4 298.6,111.9 298.9,113.5 299.4,114.0 300.5,113.8 301.7,111.4 304.0,109.9 304.2,109.3 302.0,106.7 301.9,106.2 302.6,105.7 303.6,105.8 305.7,107.9 306.7,108.3 307.6,107.3 307.2,106.6 305.4,105.7 305.7,104.6 307.7,104.2 309.3,105.3 310.9,104.4 312.4,104.9 313.4,103.9 315.1,104.7 315.5,105.2 315.5,107.0 317.1,108.3 317.2,106.7 316.2,105.2 316.6,104.2 318.0,105.7 319.1,106.2 319.7,106.2 319.9,105.7 318.6,103.8 317.1,103.6 316.6,103.9 315.0,102.9 314.3,101.0 313.3,100.5 311.9,98.9 312.4,97.6 314.2,96.9 314.5,95.5 312.4,95.3 311.0,92.7 309.8,91.8 309.0,93.7 307.7,94.4 306.1,91.7 304.6,90.7 302.5,90.1 302.6,88.2 301.9,88.0 300.7,90.1 303.8,92.2 304.5,94.8 305.6,96.3 305.0,97.4 307.2,99.2 309.3,98.8 310.0,99.5 309.3,100.4 307.6,100.5 306.7,101.7 306.2,101.7 306.2,100.0 304.1,99.6 302.1,97.9 302.4,95.8 301.0,93.9 300.5,93.8 298.4,95.4 297.9,94.9 297.6,93.7 298.0,92.2 296.5,89.1 296.0,87.0 295.3,86.6 294.5,87.0 293.9,88.0 294.3,89.2 295.7,90.1 295.7,91.1 293.5,92.2 293.9,93.2 293.8,93.8 293.2,94.0 291.7,94.0 290.7,93.2 290.8,92.7 291.7,92.0 293.2,91.9 292.8,90.6 291.7,90.6 289.6,89.7 289.4,92.2 286.1,93.2 286.8,94.8 286.5,95.8 286.0,96.2 283.9,95.8 281.9,96.1 281.3,94.9 279.3,94.6 278.7,94.3 278.8,93.7 279.7,93.2 280.8,92.7 282.4,92.6 283.5,91.7 283.4,90.6 282.4,89.8 280.3,92.0 275.4,93.2 275.0,93.7 275.1,94.6 276.7,94.7 277.2,95.8 275.6,97.7 274.6,97.5 274.1,96.6 273.1,96.3 271.0,97.7 269.7,95.8 267.9,96.1 267.4,96.9 267.3,98.4 266.3,99.6 265.3,100.2 264.1,100.0 263.2,105.1 261.7,105.3 260.1,106.0 257.0,105.9 256.1,107.3 256.6,108.3 256.0,109.6 255.5,109.3 255.7,107.8 254.9,107.8 254.4,108.2 251.2,115.6 250.3,116.2 247.7,115.9 247.0,116.1 247.4,118.7 245.0,120.8 244.7,124.4 243.2,126.5 240.8,126.5 240.4,127.0 240.6,128.6 240.1,129.6 238.9,130.5 237.3,130.7 236.8,131.1 237.8,132.2 237.8,132.7 236.8,134.2 235.1,134.8 234.3,137.4 234.6,139.0 233.1,141.1 234.2,145.7 234.0,146.3 232.1,147.4 230.1,147.2 230.0,149.9 227.8,152.0 228.5,153.5ZM270.5,99.5 269.8,98.9 270.5,98.2 270.8,98.9ZM273.1,129.2 272.5,128.6 272.8,127.0 273.6,126.3 273.5,128.6ZM279.8,123.2 279.2,122.3 279.8,121.8 280.3,122.0 280.7,122.9ZM283.9,119.0 283.6,118.7 284.2,117.7 285.0,117.0 285.5,117.2 285.5,118.5ZM290.7,117.5 289.9,115.6 290.1,115.1 290.7,115.1 291.8,116.6ZM293.8,115.2 293.4,114.5 294.3,114.5 294.3,115.1ZM295.3,108.4 295.8,107.0 297.4,107.3 296.9,108.5 295.8,108.8ZM299.5,102.3 298.8,101.5 298.9,101.2 299.8,101.5 300.0,102.1ZM300.0,108.9 300.2,107.3 301.2,107.3 301.0,109.3ZM273.6,125.8 272.7,124.9 272.8,124.4 274.1,123.9 274.7,124.4 274.6,124.9ZM293.8,96.0 293.8,95.3 294.6,95.3 294.6,95.8ZM270.9,137.4 271.5,137.8 271.9,137.4 271.0,136.3ZM277.6,134.3 278.2,134.4 278.6,133.8 278.4,132.2 277.7,131.8 277.2,133.3ZM279.2,129.1 279.8,129.5 280.3,129.3 280.7,128.6 281.2,126.5 280.3,125.6 278.8,128.1ZM322.7,103.1 323.3,103.6 324.1,102.1 324.0,101.0 323.3,99.9 322.8,100.0 322.2,101.0ZM318.2,101.0 319.3,101.0 319.1,99.3 318.1,99.2 317.9,99.5ZM290.1,87.5 290.3,87.0 290.0,87.0Z"/>
<path fill="#58f8c9" fill-rule="evenodd" d="M227.9,156.1 229.6,154.8 231.6,155.7 232.7,155.3 233.7,155.5 235.2,154.4 239.8,153.0 241.5,152.0 242.5,150.3 246.6,150.6 246.8,148.9 247.2,148.6 251.8,147.6 252.5,145.7 254.9,142.6 258.6,141.8 260.1,140.0 260.6,139.9 260.7,139.0 259.6,138.4 259.6,137.4 260.6,137.3 261.1,138.5 263.1,137.4 263.5,136.9 262.8,135.9 262.9,135.3 263.7,134.7 264.2,134.6 265.3,135.8 266.3,135.7 266.6,134.8 266.0,133.3 266.8,131.6 269.4,130.8 269.9,129.5 271.5,130.5 273.3,130.7 273.7,130.1 272.5,129.9 271.6,129.1 271.8,127.5 270.7,126.5 271.0,125.9 271.5,126.0 272.5,123.9 273.6,123.4 274.6,123.6 275.5,124.4 275.6,125.6 276.5,124.9 277.0,123.4 278.4,122.9 279.8,121.2 280.3,121.1 281.9,122.1 282.6,120.8 282.7,119.7 280.3,118.8 280.3,118.2 281.7,117.7 282.9,117.8 283.9,117.2 284.3,116.6 283.9,115.0 284.4,114.9 285.5,115.9 286.0,115.9 286.8,115.1 287.0,113.3 288.6,114.9 290.2,114.0 291.2,112.5 292.7,112.4 294.7,109.3 295.3,104.7 297.9,103.8 298.9,106.7 299.5,106.8 300.7,106.2 301.5,105.0 302.6,104.7 303.9,103.1 305.0,101.0 304.9,100.5 302.1,99.2 301.4,98.4 301.0,95.2 300.5,95.0 297.9,96.4 296.9,93.7 297.0,91.1 296.4,89.8 296.1,91.1 294.3,92.2 294.2,92.7 295.4,95.8 294.8,96.6 292.2,98.3 291.7,98.4 291.3,97.9 291.2,96.9 291.7,96.2 292.7,96.3 292.7,95.0 289.1,93.0 287.0,93.2 286.7,93.7 287.1,95.3 286.5,96.4 286.0,96.7 283.4,96.6 281.9,97.4 280.8,98.9 279.6,97.4 280.8,96.9 281.1,96.3 280.8,95.3 280.3,95.2 278.2,95.7 277.8,96.9 278.2,97.9 277.7,99.0 277.2,99.2 275.6,98.3 272.0,97.4 271.0,99.9 270.5,100.3 269.3,99.5 269.3,98.4 270.1,97.4 269.7,96.3 268.9,96.0 268.1,96.3 267.7,98.4 264.9,101.0 263.9,103.1 264.2,105.2 263.7,106.2 261.7,106.0 260.1,107.4 259.6,107.4 259.1,106.4 257.5,106.2 257.0,106.6 257.5,110.0 256.0,110.4 254.4,110.2 252.9,113.4 251.8,114.5 251.7,115.6 250.8,116.5 247.7,116.2 247.2,116.6 247.7,118.7 247.1,119.7 245.1,121.3 245.1,124.4 243.0,126.9 241.5,126.6 240.9,126.8 240.4,129.6 237.7,131.2 238.1,132.2 237.7,133.3 236.8,134.5 235.2,135.0 234.4,137.4 234.7,139.0 233.1,141.1 234.0,146.3 232.1,147.5 230.1,147.3 230.1,149.9 227.9,152.0 228.5,153.5ZM261.7,136.1 261.5,135.9 262.0,135.9ZM265.8,102.1 266.3,101.6 267.4,101.8 268.4,101.2 269.0,101.5 268.4,102.3 266.3,102.6ZM294.8,103.1 294.3,103.1 294.1,102.6 294.3,101.5 295.4,99.5 296.4,98.7 296.9,99.2 297.2,100.5ZM299.5,103.2 298.9,103.1 297.6,101.5 297.5,101.0 297.9,100.6 299.5,100.2 300.8,101.0 300.8,102.6ZM256.9,145.2 257.3,144.2 257.0,143.5 256.2,144.2 256.2,144.7ZM275.1,130.1 275.6,130.2 276.0,129.6 275.6,127.0 275.1,126.3 274.0,128.1 274.3,129.6ZM279.4,128.6 279.8,128.9 280.0,128.6 279.8,127.9ZM285.1,120.3 285.7,120.3 285.5,119.7 285.1,119.7ZM289.5,119.7 290.6,119.7 291.3,118.7 289.1,118.7 288.8,119.2ZM287.2,118.2 288.1,118.4 289.1,118.0 289.6,117.4 289.6,116.6 288.6,115.7 288.1,115.8 286.5,117.1 286.5,117.7ZM291.5,118.2 291.7,118.5 293.2,118.2 293.3,116.6ZM295.5,115.6 296.4,115.6 296.8,115.1 295.8,113.4 295.0,114.0ZM298.7,110.9 299.5,111.4 300.1,110.4 299.5,109.2 298.4,108.3 295.6,109.9ZM305.6,107.3 306.2,107.7 307.0,107.3 306.2,106.5 305.4,106.7ZM308.7,104.1 309.3,104.6 309.8,104.1 310.3,102.5 311.9,104.0 312.9,103.0 314.0,103.1 314.0,102.2 313.4,101.5 311.8,101.0 310.9,100.0 309.8,100.8 307.7,101.0 307.2,102.2 306.0,103.1 306.7,103.7 307.5,103.1 308.3,103.1ZM322.8,102.1 323.3,102.3 323.8,101.5 323.3,100.7 322.7,101.0ZM307.1,98.4 307.7,98.6 309.3,97.9 309.3,96.5 310.3,95.8 310.9,95.8 310.2,97.4 310.9,98.3 312.4,97.0 313.7,96.9 314.0,95.8 312.4,95.7 311.4,94.6 309.8,94.3 308.3,95.0 307.2,94.8 305.7,92.0 304.6,91.3 304.3,91.7 304.6,93.2 306.7,96.9ZM276.7,94.3 277.7,94.6 277.8,93.2 275.6,93.4 275.6,94.2ZM281.9,91.7 282.8,91.7 282.9,90.6 282.1,90.6ZM290.6,91.7 291.0,91.1 290.6,91.1ZM295.7,89.6 296.1,89.6 295.9,87.5 295.3,86.9 294.8,87.0 294.4,88.0 294.6,89.1Z"/>
<path fill="#72febb" fill-rule="evenodd" d="M231.5,155.6 232.1,155.2 233.7,155.4 235.2,154.3 239.5,153.0 241.5,151.9 242.5,150.1 246.6,150.4 246.5,148.9 247.2,148.4 251.8,147.3 252.0,146.3 254.4,142.6 256.3,141.6 257.0,140.0 257.5,139.7 258.6,140.4 258.9,140.0 259.1,139.5 258.7,137.4 260.6,135.0 262.2,134.3 263.6,132.7 266.8,130.9 268.7,130.7 269.0,130.1 268.4,129.1 268.5,128.6 268.9,127.0 269.9,125.5 273.1,123.0 275.6,123.2 276.1,122.9 275.4,120.8 277.2,119.6 277.8,117.7 279.8,116.8 280.3,115.9 280.8,115.8 282.9,116.8 283.3,116.6 282.9,115.1 285.0,111.3 286.5,112.0 287.6,111.4 287.8,108.8 286.0,107.5 284.9,107.3 284.9,106.7 286.0,106.9 288.6,105.2 290.1,103.1 290.4,102.1 290.1,101.5 289.1,100.9 288.1,101.9 287.6,101.9 287.2,101.0 290.3,98.4 290.4,97.9 289.6,96.9 291.2,95.3 291.1,94.8 289.1,93.5 287.4,93.7 287.5,95.8 286.6,97.4 287.8,98.4 287.8,98.9 287.0,99.4 285.8,98.9 285.0,97.4 284.4,97.2 282.4,97.8 280.8,100.1 279.3,98.5 278.7,98.6 277.7,99.8 275.1,98.7 273.8,98.9 273.6,99.6 273.1,98.9 272.0,98.7 271.8,100.0 272.7,100.5 272.0,101.4 267.9,103.4 266.9,104.7 265.3,105.3 264.2,106.8 262.2,106.7 260.1,108.5 258.6,108.4 258.1,108.8 258.6,110.4 258.0,110.9 254.4,111.2 253.8,112.5 255.5,114.5 255.1,115.1 253.4,115.6 251.3,116.8 250.3,117.9 248.7,118.3 247.7,120.4 246.2,121.3 245.6,122.9 245.7,124.4 245.4,124.9 243.0,127.3 241.5,127.1 240.8,129.6 238.6,131.2 237.9,133.3 236.8,134.7 235.6,135.3 234.7,136.8 234.8,139.0 233.2,141.1 234.1,146.3 232.1,147.5 230.4,147.3 230.2,149.9 227.9,152.0 228.6,153.5 228.3,155.1 228.5,155.3 230.1,154.7ZM274.9,128.6 275.1,129.1 275.2,128.6 275.1,127.4 274.6,127.5ZM276.9,122.3 277.7,122.5 278.2,122.1 279.0,120.8 278.7,120.3 277.2,120.6 276.6,121.8ZM248.2,117.7 248.5,117.1 248.2,117.0ZM287.6,117.1 288.7,117.1 288.1,116.9ZM288.3,113.0 289.6,113.3 291.5,111.4 291.6,110.9 290.1,109.3 290.9,108.3 292.2,107.8 293.2,109.3 294.3,108.7 294.3,107.2 293.2,106.7 294.3,105.3 294.4,104.1 293.2,103.3 291.3,106.2 289.1,105.6 288.6,106.2 288.1,107.8 289.4,108.8 289.5,109.3 289.1,110.9 288.1,112.3ZM299.4,105.7 300.1,105.7 300.4,104.1 299.5,104.2ZM301.1,103.6 302.1,103.8 302.6,102.6 302.1,102.5ZM292.1,102.6 293.2,102.8 293.4,102.1 292.2,100.8 290.8,101.5 291.0,102.1ZM308.4,102.6 309.3,102.5 309.6,102.1 309.4,101.5 308.0,101.5 307.8,102.1ZM266.6,100.5 267.4,100.8 268.0,100.5 268.5,100.0 268.4,99.1 267.4,99.1ZM292.9,100.0 294.3,100.1 294.7,98.9 294.3,98.1 293.2,98.1 292.4,98.9 292.1,99.5ZM297.7,99.5 298.4,99.9 299.0,99.5 298.4,98.2 297.9,98.4ZM300.4,99.5 300.8,99.5 300.5,99.2ZM268.6,97.4 269.4,97.5 269.4,96.7 268.9,96.4 268.4,96.9ZM296.2,95.3 296.6,95.3 296.9,94.8 295.8,93.9 295.5,94.3ZM294.9,93.2 295.3,93.7 295.8,93.5 296.3,92.2 295.8,91.8 294.8,92.2ZM294.8,88.5 295.3,89.1 295.6,88.5 295.3,87.3 294.8,87.5Z"/>
<path fill="#8cfead" fill-rule="evenodd" d="M228.4,155.1 230.1,154.6 231.6,155.4 232.1,155.1 233.7,155.3 235.2,154.3 237.9,153.5 241.5,151.7 242.5,150.0 246.1,150.3 246.6,148.4 251.3,146.9 253.7,142.6 255.7,141.1 259.7,134.8 266.3,128.7 269.1,124.9 272.5,122.3 276.9,117.1 278.3,116.1 280.3,112.5 281.9,111.6 283.5,111.4 283.8,110.9 282.9,109.3 283.3,107.8 283.2,106.2 282.0,103.1 278.7,100.8 277.3,101.5 277.2,102.6 276.4,102.6 276.5,102.1 277.1,101.5 275.1,100.0 273.1,102.3 269.4,103.6 268.6,104.7 264.8,107.3 262.2,108.2 260.3,111.4 257.6,112.5 256.6,113.5 256.3,115.1 254.4,116.2 253.4,117.5 252.9,117.8 251.8,117.7 250.8,119.1 249.2,119.2 249.1,120.8 246.2,124.9 243.5,127.5 242.0,128.3 241.3,129.6 238.9,131.6 238.1,133.3 234.9,136.9 234.9,139.0 233.3,141.1 234.1,146.3 232.1,147.6 230.6,147.4 230.3,147.8 230.2,149.9 228.0,152.0 228.7,153.5ZM286.3,110.9 286.7,110.9 286.5,110.4ZM289.8,107.3 290.5,107.3 290.1,107.0ZM286.6,104.1 287.0,104.7 287.6,104.6 288.2,103.6 287.8,103.1 287.0,103.0 286.6,103.1ZM282.1,99.5 282.4,99.8 283.4,99.7 283.9,98.9 282.9,98.3ZM293.2,98.9 293.8,99.3 294.0,98.9 293.8,98.5ZM288.4,95.3 288.6,95.6 289.3,94.8 288.6,94.2 288.1,94.3Z"/>
<path fill="#a6f89d" fill-rule="evenodd" d="M231.1,155.1 233.7,155.2 234.7,154.4 237.8,153.5 241.5,151.6 242.5,149.8 246.1,149.9 246.4,148.3 248.7,147.3 256.3,138.5 259.4,133.8 273.4,118.7 278.6,111.9 279.3,110.4 279.7,107.8 279.5,106.2 278.7,105.1 274.6,104.0 271.5,104.5 263.7,109.5 258.7,113.5 257.5,115.1 246.4,126.0 239.4,132.0 236.3,136.0 235.2,136.9 234.9,137.4 235.0,139.0 233.5,141.1 234.3,142.6 234.0,143.1 234.2,146.3 232.1,147.6 230.6,147.5 230.3,149.9 228.0,152.0 228.8,153.5 228.5,155.1 230.1,154.6Z"/>
<path fill="#c0eb8d" fill-rule="evenodd" d="M233.6,155.1 241.3,151.5 242.5,149.7 244.6,149.9 245.6,149.6 246.1,148.2 247.5,147.3 250.4,144.2 255.4,138.1 258.6,133.3 270.4,119.7 273.6,115.6 276.8,109.3 276.7,108.1 275.6,106.8 274.1,106.2 268.9,108.1 260.5,113.5 247.4,126.5 238.4,134.0 236.5,136.4 235.2,137.2 235.0,139.5 233.6,141.1 233.7,141.7 234.5,142.1 234.6,142.6 234.0,143.7 234.2,146.3 232.1,147.7 230.6,147.6 230.4,149.9 228.1,152.0 228.8,153.5 228.5,154.6Z"/>
<path fill="#d9da7d" fill-rule="evenodd" d="M228.8,154.6 230.1,154.4 233.7,154.9 241.1,151.5 242.5,149.5 244.8,149.4 246.1,147.3 252.4,140.5 257.5,133.0 269.3,118.7 271.9,114.0 272.3,111.9 271.9,110.9 270.5,110.3 268.4,110.5 264.2,112.4 261.1,114.5 248.2,127.0 235.6,137.4 235.1,139.5 233.7,141.1 234.9,142.6 234.1,143.7 234.3,146.3 232.1,147.7 230.5,147.8 230.2,150.4 228.2,152.0 228.8,153.0Z"/>
<path fill="#f2c26b" fill-rule="evenodd" d="M229.0,154.6 230.1,154.3 233.7,154.7 237.3,153.3 240.9,151.3 242.0,149.6 244.1,148.9 245.6,146.4 251.8,139.6 257.0,131.9 266.4,120.3 268.4,116.1 268.4,114.7 267.9,114.0 265.8,113.9 261.7,115.6 248.2,128.2 236.0,137.9 235.3,139.5 234.0,141.1 235.0,142.6 234.2,143.7 234.4,146.3 232.7,147.6 230.6,148.0 230.3,150.4 228.3,152.0 228.9,153.0Z"/>
<path fill="#ffa558" fill-rule="evenodd" d="M229.0,154.1 233.7,154.4 237.7,153.0 240.9,151.0 241.5,149.9 243.4,148.3 252.2,137.4 256.2,131.2 261.7,123.9 264.9,118.7 264.8,117.7 264.4,117.1 263.2,117.1 259.6,119.4 247.4,130.1 239.4,136.7 236.3,138.7 234.2,141.1 235.2,142.6 234.2,144.2 234.5,146.3 232.7,147.6 230.6,148.3 230.5,150.4 228.4,152.0 229.0,153.0Z"/>
<path fill="#ff8444" fill-rule="evenodd" d="M229.1,154.1 233.7,154.1 237.3,153.0 240.4,150.7 246.1,143.1 248.2,141.2 251.6,136.4 257.1,127.0 257.7,125.5 257.6,124.4 256.0,124.8 253.9,126.7 250.8,128.4 239.9,137.6 234.7,141.0 235.4,142.6 234.4,144.2 234.5,146.3 233.7,147.1 230.8,148.3 230.6,150.4 228.5,152.0Z"/>
<path fill="#ff5f30" fill-rule="evenodd" d="M229.5,154.1 233.2,154.0 236.6,153.0 238.1,152.0 240.4,149.4 245.3,142.6 247.7,140.3 250.9,134.8 251.8,132.2 251.6,131.2 250.3,131.1 240.4,138.4 235.8,141.4 235.7,142.6 234.6,144.2 234.6,146.3 233.2,147.5 231.0,148.3 230.9,150.4 228.7,152.0Z"/>
<path fill="#ff3b1e" fill-rule="evenodd" d="M229.5,153.5 230.1,153.8 233.2,153.7 236.4,152.5 246.3,140.0 247.2,136.4 243.0,137.8 238.9,141.2 236.3,142.5 234.7,144.2 234.9,145.7 234.5,146.8 231.6,148.4 231.1,148.8 231.0,150.9 228.9,152.0Z"/>
<path fill="#ff1309" fill-rule="evenodd" d="M229.9,153.5 232.8,153.5 234.4,152.5 235.2,151.2 238.9,147.8 240.0,145.7 241.9,143.7 242.3,142.6 242.0,141.7 240.9,141.8 235.2,144.7 234.7,146.8 231.6,148.9 231.3,151.5 230.1,151.5 229.2,152.0Z"/>
</g>
<line x1="222.3" y1="162.9" x2="367.3" y2="17.3" stroke="#f33535" stroke-width="1.2" stroke-dasharray="5.6 4.5"/>
<rect x="222.3" y="17.3" width="145.0" height="145.6" fill="none" stroke="#333" stroke-width="1.3"/>
<path stroke="#444" stroke-width="0.8" fill="none" d="M243.0 162.9v-3M243.0 17.3v3M222.3 142.1h3M367.3 142.1h-3M263.7 162.9v-3M263.7 17.3v3M222.3 121.3h3M367.3 121.3h-3M284.4 162.9v-3M284.4 17.3v3M222.3 100.5h3M367.3 100.5h-3M305.2 162.9v-3M305.2 17.3v3M222.3 79.7h3M367.3 79.7h-3M325.9 162.9v-3M325.9 17.3v3M222.3 58.9h3M367.3 58.9h-3M346.6 162.9v-3M346.6 17.3v3M222.3 38.1h3M367.3 38.1h-3"/>
<g font-family="Liberation Sans, sans-serif" font-size="5.6" fill="#333"><text x="219.3" y="164.4" text-anchor="end">0</text><text x="222.3" y="170.4" text-anchor="middle">0</text><text x="219.3" y="143.6" text-anchor="end">10</text><text x="243.0" y="170.4" text-anchor="middle">10</text><text x="219.3" y="122.8" text-anchor="end">20</text><text x="263.7" y="170.4" text-anchor="middle">20</text><text x="219.3" y="102.0" text-anchor="end">30</text><text x="284.4" y="170.4" text-anchor="middle">30</text><text x="219.3" y="81.2" text-anchor="end">40</text><text x="305.2" y="170.4" text-anchor="middle">40</text><text x="219.3" y="60.4" text-anchor="end">50</text><text x="325.9" y="170.4" text-anchor="middle">50</text><text x="219.3" y="39.6" text-anchor="end">60</text><text x="346.6" y="170.4" text-anchor="middle">60</text><text x="219.3" y="18.8" text-anchor="end">70</text><text x="367.3" y="170.4" text-anchor="middle">70</text></g>
<g font-family="Liberation Serif, serif" font-size="9.5" fill="#1a1a1a" stroke="#1a1a1a" stroke-width="0.12"><text x="227.5" y="27.9">N = 765955</text><text x="227.5" y="39.2">R<tspan font-size="5.4" dy="-3.8">2</tspan><tspan dy="3.8"> = 0.94</tspan></text><text x="227.5" y="50.5">RMSD = 1.55</text><text x="227.5" y="61.8">rRMSD = 17.17%</text></g>
<text x="298.4" y="10.7" text-anchor="middle" font-family="Liberation Serif, serif" font-weight="bold" font-size="9.6" fill="#111" stroke="#111" stroke-width="0.15">p028r035</text>
<g filter="url(#bl)">
<path fill="#5a58f2" d="M461.6 119.5h1.4v1.4h-1.4zM437.9 82.8h1.4v1.4h-1.4zM488.1 58.0h1.4v1.4h-1.4zM437.4 74.7h1.4v1.4h-1.4zM416.5 120.4h1.4v1.4h-1.4zM439.6 64.1h1.4v1.4h-1.4zM416.1 113.6h1.4v1.4h-1.4zM437.3 90.5h1.4v1.4h-1.4zM494.1 59.6h1.4v1.4h-1.4zM489.0 104.3h1.4v1.4h-1.4zM501.4 91.7h1.4v1.4h-1.4zM474.7 115.7h1.4v1.4h-1.4zM431.8 92.8h1.4v1.4h-1.4zM517.7 58.3h1.4v1.4h-1.4zM478.1 58.8h1.4v1.4h-1.4zM520.8 70.9h1.4v1.4h-1.4zM509.8 91.1h1.4v1.4h-1.4zM489.2 96.7h1.4v1.4h-1.4zM459.6 120.1h1.4v1.4h-1.4zM462.4 119.1h1.4v1.4h-1.4zM519.8 84.7h1.4v1.4h-1.4zM452.0 60.6h1.4v1.4h-1.4zM521.0 68.6h1.4v1.4h-1.4zM417.0 94.1h1.4v1.4h-1.4zM520.4 74.4h1.4v1.4h-1.4zM416.7 103.0h1.4v1.4h-1.4zM448.4 122.4h1.4v1.4h-1.4zM501.2 59.5h1.4v1.4h-1.4zM494.7 92.0h1.4v1.4h-1.4zM472.4 59.9h1.4v1.4h-1.4zM502.2 58.7h1.4v1.4h-1.4zM452.5 60.9h1.4v1.4h-1.4zM472.4 116.0h1.4v1.4h-1.4zM511.4 90.9h1.4v1.4h-1.4zM520.1 83.3h1.4v1.4h-1.4zM442.3 125.4h1.4v1.4h-1.4zM437.8 73.6h1.4v1.4h-1.4zM489.1 102.2h1.4v1.4h-1.4zM520.0 85.5h1.4v1.4h-1.4zM451.9 61.9h1.4v1.4h-1.4zM440.4 65.5h1.4v1.4h-1.4zM520.4 76.4h1.4v1.4h-1.4zM432.9 93.2h1.4v1.4h-1.4zM455.2 120.6h1.4v1.4h-1.4zM480.6 59.4h1.4v1.4h-1.4zM450.2 60.8h1.4v1.4h-1.4zM474.6 115.3h1.4v1.4h-1.4zM418.9 93.0h1.4v1.4h-1.4zM484.3 58.5h1.4v1.4h-1.4zM488.7 104.6h1.4v1.4h-1.4zM507.8 59.0h1.4v1.4h-1.4zM487.6 111.5h1.4v1.4h-1.4zM416.9 100.8h1.4v1.4h-1.4zM419.2 131.0h1.4v1.4h-1.4zM446.2 122.9h1.4v1.4h-1.4zM457.2 120.3h1.4v1.4h-1.4zM504.3 58.5h1.4v1.4h-1.4zM493.2 91.5h1.4v1.4h-1.4zM505.7 58.5h1.4v1.4h-1.4zM510.2 91.4h1.4v1.4h-1.4zM520.7 68.3h1.4v1.4h-1.4zM434.4 92.2h1.4v1.4h-1.4zM437.1 126.9h1.4v1.4h-1.4zM489.5 103.4h1.4v1.4h-1.4zM465.2 60.3h1.4v1.4h-1.4zM455.2 60.9h1.4v1.4h-1.4zM500.8 91.6h1.4v1.4h-1.4zM474.1 59.6h1.4v1.4h-1.4zM416.9 110.5h1.4v1.4h-1.4zM519.8 80.9h1.4v1.4h-1.4zM416.4 114.3h1.4v1.4h-1.4zM520.4 62.8h1.4v1.4h-1.4zM440.8 63.8h1.4v1.4h-1.4zM454.6 59.7h1.4v1.4h-1.4zM494.2 92.5h1.4v1.4h-1.4zM437.6 72.2h1.4v1.4h-1.4zM474.0 116.6h1.4v1.4h-1.4zM439.2 125.7h1.4v1.4h-1.4zM417.1 126.1h1.4v1.4h-1.4zM510.9 59.1h1.4v1.4h-1.4zM501.9 92.5h1.4v1.4h-1.4zM416.1 106.7h1.4v1.4h-1.4zM497.6 58.1h1.4v1.4h-1.4zM415.9 105.4h1.4v1.4h-1.4zM416.1 99.3h1.4v1.4h-1.4zM420.8 131.8h1.4v1.4h-1.4zM417.1 127.2h1.4v1.4h-1.4zM440.5 125.5h1.4v1.4h-1.4zM520.7 87.0h1.4v1.4h-1.4zM514.1 58.4h1.4v1.4h-1.4zM432.7 129.2h1.4v1.4h-1.4zM483.6 58.8h1.4v1.4h-1.4zM461.3 119.6h1.4v1.4h-1.4zM415.6 117.7h1.4v1.4h-1.4zM442.7 123.8h1.4v1.4h-1.4zM490.7 92.2h1.4v1.4h-1.4zM490.0 100.5h1.4v1.4h-1.4zM491.3 93.4h1.4v1.4h-1.4zM506.7 92.5h1.4v1.4h-1.4zM489.7 93.9h1.4v1.4h-1.4zM509.7 91.7h1.4v1.4h-1.4zM516.9 90.3h1.4v1.4h-1.4zM505.4 91.6h1.4v1.4h-1.4zM489.5 109.6h1.4v1.4h-1.4zM490.0 104.3h1.4v1.4h-1.4zM519.3 89.7h1.4v1.4h-1.4zM497.5 92.5h1.4v1.4h-1.4zM488.7 109.8h1.4v1.4h-1.4zM488.5 110.4h1.4v1.4h-1.4zM493.2 91.8h1.4v1.4h-1.4zM490.3 94.9h1.4v1.4h-1.4zM521.3 80.2h1.4v1.4h-1.4zM520.2 83.6h1.4v1.4h-1.4zM520.6 69.9h1.4v1.4h-1.4zM521.0 81.1h1.4v1.4h-1.4z"/>
<path fill="#7e3cf4" d="M415.3 117.0h1.4v1.4h-1.4zM489.9 117.0h1.4v1.4h-1.4zM502.8 47.7h1.4v1.4h-1.4zM415.3 109.1h1.4v1.4h-1.4zM522.6 74.9h1.4v1.4h-1.4zM413.4 96.9h1.4v1.4h-1.4zM417.2 91.9h1.4v1.4h-1.4zM464.8 120.6h1.4v1.4h-1.4zM429.3 91.0h1.4v1.4h-1.4zM478.1 119.1h1.4v1.4h-1.4zM412.8 113.0h1.4v1.4h-1.4zM469.6 58.1h1.4v1.4h-1.4zM447.8 125.1h1.4v1.4h-1.4zM490.1 108.5h1.4v1.4h-1.4zM420.9 91.4h1.4v1.4h-1.4zM487.7 115.8h1.4v1.4h-1.4zM486.6 56.6h1.4v1.4h-1.4zM415.2 101.2h1.4v1.4h-1.4zM435.7 67.2h1.4v1.4h-1.4zM491.5 105.1h1.4v1.4h-1.4zM469.3 118.8h1.4v1.4h-1.4zM510.6 93.5h1.4v1.4h-1.4zM488.1 112.7h1.4v1.4h-1.4zM442.9 62.3h1.4v1.4h-1.4zM450.7 60.1h1.4v1.4h-1.4zM490.4 102.1h1.4v1.4h-1.4zM436.5 75.2h1.4v1.4h-1.4zM455.9 123.5h1.4v1.4h-1.4zM420.8 91.4h1.4v1.4h-1.4zM415.5 126.2h1.4v1.4h-1.4zM521.5 89.6h1.4v1.4h-1.4zM528.7 61.5h1.4v1.4h-1.4zM434.2 130.8h1.4v1.4h-1.4zM506.1 94.0h1.4v1.4h-1.4zM414.9 96.7h1.4v1.4h-1.4zM514.8 56.2h1.4v1.4h-1.4zM503.2 55.0h1.4v1.4h-1.4zM453.5 59.5h1.4v1.4h-1.4zM521.2 55.2h1.4v1.4h-1.4zM460.0 124.2h1.4v1.4h-1.4zM414.2 91.5h1.4v1.4h-1.4zM415.4 93.1h1.4v1.4h-1.4zM453.3 58.8h1.4v1.4h-1.4zM490.6 107.6h1.4v1.4h-1.4zM474.3 118.9h1.4v1.4h-1.4zM491.3 107.5h1.4v1.4h-1.4zM414.3 127.6h1.4v1.4h-1.4zM491.6 56.9h1.4v1.4h-1.4zM492.1 93.8h1.4v1.4h-1.4zM496.1 106.5h1.4v1.4h-1.4zM493.0 107.0h1.4v1.4h-1.4zM495.7 102.0h1.4v1.4h-1.4zM418.8 89.3h1.4v1.4h-1.4zM448.6 57.4h1.4v1.4h-1.4zM482.6 57.1h1.4v1.4h-1.4zM490.1 102.5h1.4v1.4h-1.4zM414.2 129.8h1.4v1.4h-1.4zM437.9 128.9h1.4v1.4h-1.4zM460.6 122.6h1.4v1.4h-1.4zM414.6 115.4h1.4v1.4h-1.4zM490.5 110.9h1.4v1.4h-1.4zM437.7 131.4h1.4v1.4h-1.4zM511.4 53.8h1.4v1.4h-1.4zM424.8 91.0h1.4v1.4h-1.4zM522.9 77.9h1.4v1.4h-1.4zM514.1 96.9h1.4v1.4h-1.4zM497.6 106.4h1.4v1.4h-1.4zM493.0 115.7h1.4v1.4h-1.4zM490.9 101.1h1.4v1.4h-1.4zM490.6 113.9h1.4v1.4h-1.4zM516.0 93.8h1.4v1.4h-1.4zM490.9 99.6h1.4v1.4h-1.4zM491.2 111.5h1.4v1.4h-1.4zM514.3 98.3h1.4v1.4h-1.4zM498.2 102.1h1.4v1.4h-1.4zM501.7 99.4h1.4v1.4h-1.4zM501.0 103.0h1.4v1.4h-1.4zM512.0 94.6h1.4v1.4h-1.4zM517.4 94.9h1.4v1.4h-1.4zM499.5 98.3h1.4v1.4h-1.4zM517.9 92.7h1.4v1.4h-1.4zM512.7 99.0h1.4v1.4h-1.4zM491.7 93.6h1.4v1.4h-1.4zM509.1 96.6h1.4v1.4h-1.4zM496.7 94.6h1.4v1.4h-1.4zM489.4 112.9h1.4v1.4h-1.4zM517.6 93.1h1.4v1.4h-1.4zM515.4 93.3h1.4v1.4h-1.4zM499.7 102.4h1.4v1.4h-1.4zM508.9 107.7h1.4v1.4h-1.4zM492.2 112.7h1.4v1.4h-1.4zM516.5 111.6h1.4v1.4h-1.4zM506.8 95.8h1.4v1.4h-1.4zM507.4 105.2h1.4v1.4h-1.4zM514.6 112.1h1.4v1.4h-1.4zM498.5 108.5h1.4v1.4h-1.4zM502.1 109.5h1.4v1.4h-1.4zM501.2 95.6h1.4v1.4h-1.4zM501.3 106.8h1.4v1.4h-1.4zM515.5 97.7h1.4v1.4h-1.4zM502.9 105.6h1.4v1.4h-1.4zM517.7 108.4h1.4v1.4h-1.4zM492.7 117.4h1.4v1.4h-1.4zM495.1 103.6h1.4v1.4h-1.4zM509.9 103.6h1.4v1.4h-1.4zM514.2 100.4h1.4v1.4h-1.4zM512.4 93.0h1.4v1.4h-1.4zM491.4 99.2h1.4v1.4h-1.4zM490.4 104.1h1.4v1.4h-1.4zM493.5 96.0h1.4v1.4h-1.4zM498.7 105.9h1.4v1.4h-1.4zM500.6 105.5h1.4v1.4h-1.4zM511.7 94.4h1.4v1.4h-1.4zM490.9 100.3h1.4v1.4h-1.4zM507.0 94.4h1.4v1.4h-1.4zM495.2 107.1h1.4v1.4h-1.4zM492.4 93.7h1.4v1.4h-1.4zM512.0 102.3h1.4v1.4h-1.4zM515.6 94.5h1.4v1.4h-1.4zM527.6 71.4h1.4v1.4h-1.4zM524.7 64.6h1.4v1.4h-1.4zM527.3 83.5h1.4v1.4h-1.4zM522.7 87.5h1.4v1.4h-1.4zM523.0 76.9h1.4v1.4h-1.4zM525.7 64.9h1.4v1.4h-1.4zM531.1 75.6h1.4v1.4h-1.4zM529.6 76.3h1.4v1.4h-1.4zM527.8 69.5h1.4v1.4h-1.4zM533.3 70.0h1.4v1.4h-1.4zM522.6 66.3h1.4v1.4h-1.4zM530.2 62.9h1.4v1.4h-1.4zM521.7 88.1h1.4v1.4h-1.4zM524.6 58.8h1.4v1.4h-1.4zM535.7 63.1h1.4v1.4h-1.4zM538.8 63.9h1.4v1.4h-1.4zM534.1 64.9h1.4v1.4h-1.4zM530.4 70.7h1.4v1.4h-1.4zM521.7 59.3h1.4v1.4h-1.4zM526.3 76.6h1.4v1.4h-1.4zM539.1 88.2h1.4v1.4h-1.4z"/>
<path fill="#5e35fe" fill-rule="evenodd" d="M423.3,132.2 424.0,132.7 425.1,132.2 425.8,130.7 427.2,129.6 428.2,129.7 429.7,130.6 430.8,130.5 431.8,130.0 433.4,128.5 434.6,128.6 434.9,127.0 435.4,126.6 437.5,126.8 440.1,125.1 441.1,125.0 443.7,123.9 444.8,124.1 447.9,121.8 451.5,122.2 454.1,121.2 457.3,120.8 459.8,119.5 462.4,117.4 463.1,117.7 463.7,119.2 464.4,119.6 466.0,118.1 468.1,117.5 469.1,116.8 471.7,116.9 473.2,114.4 474.8,115.2 475.4,115.1 476.4,113.9 477.9,114.3 480.0,113.5 481.0,113.8 483.1,111.9 484.1,112.0 486.2,111.2 488.3,111.1 489.5,108.8 488.3,107.3 488.6,104.1 487.7,100.0 488.6,98.4 488.5,96.9 489.0,95.8 490.9,94.4 491.2,93.7 490.4,92.2 490.8,91.1 491.9,91.0 493.9,92.7 495.0,93.1 497.1,91.3 499.7,90.5 501.2,91.2 502.2,91.0 503.3,91.5 507.9,92.0 510.5,90.8 511.6,89.8 514.7,90.0 516.2,89.3 517.8,89.4 519.6,88.0 520.3,86.5 519.8,83.9 521.0,81.3 519.8,79.7 520.7,76.6 519.4,72.9 520.6,70.9 519.7,68.8 521.1,65.1 520.6,63.1 517.8,59.7 517.3,59.8 516.2,60.8 513.6,60.0 511.0,60.8 506.4,60.3 505.4,60.9 503.3,60.7 500.7,61.7 498.1,60.7 495.0,61.8 492.4,60.6 489.3,60.7 487.7,61.1 484.6,60.5 483.1,59.4 482.5,62.0 481.5,62.1 480.0,60.5 478.9,60.4 478.3,61.0 478.3,62.0 477.9,62.5 475.3,63.8 474.6,63.1 474.7,61.5 474.4,61.0 473.2,60.1 470.7,59.2 469.1,61.2 467.5,61.4 465.5,62.7 464.4,62.6 462.4,61.4 460.3,63.2 458.7,63.7 457.2,63.0 455.6,63.3 454.1,61.8 453.0,61.7 451.5,62.2 450.5,63.6 445.3,65.3 442.3,65.7 441.1,67.4 440.7,71.4 439.9,72.4 439.8,74.5 441.3,76.1 441.3,76.6 440.4,78.1 439.6,78.6 439.1,78.5 438.8,79.2 439.6,81.8 438.6,84.4 439.4,85.9 440.5,87.0 440.7,88.0 439.3,90.6 437.5,90.7 437.1,91.1 438.0,92.7 437.7,93.7 436.0,94.8 432.9,95.9 431.3,94.0 429.7,93.3 428.8,93.7 428.7,95.5 428.2,95.6 426.6,94.4 421.5,94.4 419.9,93.9 418.7,94.8 418.0,96.3 418.7,99.5 419.9,101.5 418.9,102.9 417.7,103.6 418.1,105.7 417.5,108.8 419.1,110.4 418.9,111.9 418.0,113.5 418.9,115.1 419.1,117.1 418.9,119.2 418.0,120.8 418.5,122.9 418.5,126.5 419.6,130.1 422.5,131.3Z"/>
<path fill="#4062fa" fill-rule="evenodd" d="M423.4,132.2 424.0,132.5 424.9,132.2 425.7,130.7 427.2,129.5 428.2,129.6 429.7,130.5 430.8,130.4 431.8,129.9 433.4,128.3 434.4,128.4 434.8,127.0 435.4,126.5 437.5,126.7 440.1,124.7 441.1,124.8 443.7,123.6 446.3,123.0 447.9,121.7 451.5,122.1 454.1,120.9 457.2,120.7 459.8,119.4 462.4,117.3 463.3,117.7 463.9,119.2 464.4,119.4 466.0,117.9 468.4,117.1 469.6,115.4 470.1,115.5 471.0,116.6 471.7,116.7 472.4,115.1 473.2,114.2 473.8,114.2 474.8,115.0 476.4,113.6 477.9,114.1 479.5,113.2 481.0,113.6 482.6,111.9 484.1,111.8 485.7,111.0 488.3,110.9 489.3,108.8 488.1,107.3 488.4,104.1 487.6,100.0 488.5,98.4 488.3,97.1 487.9,96.9 489.3,95.0 490.9,94.3 491.0,93.2 490.1,91.7 490.9,90.9 492.4,90.9 493.4,92.2 495.0,92.9 497.6,90.8 499.7,90.3 503.3,91.3 507.9,91.8 510.5,90.7 512.1,89.4 514.2,89.8 515.7,89.2 518.3,89.1 520.0,87.0 520.0,85.4 519.5,83.9 520.7,81.3 519.6,79.7 520.5,76.6 519.2,72.9 519.5,71.9 520.4,70.9 519.4,68.8 520.9,64.6 520.4,63.1 518.9,61.0 517.8,59.9 517.3,59.9 516.2,61.2 513.6,60.2 509.0,61.5 508.9,61.0 506.9,60.7 505.9,61.5 503.3,60.8 500.7,61.8 498.1,60.9 497.1,61.0 496.0,61.8 494.5,62.0 492.4,60.7 487.7,61.3 484.6,60.7 483.6,59.8 483.1,60.1 483.0,61.0 483.1,61.7 484.2,62.5 484.1,63.4 483.6,63.5 482.6,62.4 480.9,62.0 479.5,60.4 478.8,61.0 479.3,62.0 479.1,62.5 475.3,63.9 474.5,63.6 474.6,61.5 474.3,61.1 473.2,60.2 472.2,60.2 470.7,59.4 469.1,61.5 467.6,61.5 465.5,62.8 464.4,62.8 462.4,61.5 459.3,63.9 456.7,63.6 456.1,64.6 455.1,64.9 454.6,64.6 455.1,63.1 454.1,62.0 453.0,61.9 451.5,62.4 450.5,63.9 448.4,64.6 447.4,64.6 443.7,65.9 442.6,65.7 441.6,66.7 441.3,67.7 441.9,69.3 441.1,70.0 440.9,71.4 440.1,72.4 440.0,74.5 441.5,76.1 441.5,76.6 440.6,78.1 439.6,78.8 439.1,78.8 439.0,79.2 439.9,81.8 438.9,83.3 438.8,84.4 439.6,85.9 440.7,87.0 440.9,88.0 439.5,90.6 439.1,91.0 437.3,91.1 438.1,92.7 437.9,93.7 436.0,95.0 434.4,95.3 432.9,96.1 432.3,95.8 431.4,94.3 429.7,93.4 429.0,93.7 429.3,95.8 428.7,96.3 426.6,94.6 421.5,94.6 419.9,94.1 418.3,95.8 418.9,99.5 420.1,101.5 418.0,103.6 418.3,105.7 417.7,108.3 417.8,109.0 418.9,109.6 419.2,110.4 419.1,111.9 418.2,113.5 419.1,115.1 419.3,117.1 419.1,119.2 418.1,120.8 418.7,122.9 418.6,126.5 419.7,130.1 422.5,131.1ZM439.6,94.5 440.1,93.4 440.6,93.7 440.1,94.6ZM469.1,62.6 469.1,61.7 469.6,62.5ZM489.8,63.6 489.5,63.1 489.8,62.5 490.3,62.7 490.3,63.5Z"/>
<path fill="#2884f6" fill-rule="evenodd" d="M423.5,132.2 424.0,132.5 424.8,132.2 426.0,130.1 427.2,129.4 428.2,129.5 429.7,130.4 430.8,130.3 432.0,129.6 432.9,128.4 434.4,128.2 434.7,127.0 435.4,126.5 437.5,126.6 440.1,124.3 441.7,124.5 444.4,122.9 446.3,122.9 447.9,121.6 452.0,121.9 453.0,121.3 453.0,120.2 454.6,120.9 457.2,120.6 459.8,119.3 462.4,117.2 463.5,117.7 464.4,119.3 466.0,117.8 468.3,117.1 468.9,115.6 469.6,115.1 471.7,116.4 472.6,114.5 473.2,114.1 474.3,114.2 474.8,114.7 476.9,113.4 477.9,114.0 479.5,113.0 481.0,113.5 482.6,111.7 484.1,111.7 485.7,110.8 488.1,110.9 489.2,108.8 488.0,107.3 488.3,104.1 487.5,100.0 488.4,98.4 488.3,97.6 487.3,96.9 489.2,94.8 490.9,94.1 490.9,93.2 490.0,91.7 490.9,90.8 492.4,90.7 493.6,92.2 495.0,92.8 497.1,90.9 499.1,90.3 501.7,90.6 503.3,91.2 507.9,91.7 510.4,90.6 512.1,89.1 514.2,89.7 516.2,89.0 518.3,89.1 519.3,88.0 520.1,86.5 519.4,83.9 520.5,81.3 519.5,79.2 520.4,76.6 519.6,75.0 518.9,72.4 520.3,70.9 519.9,69.9 519.3,70.2 518.6,71.4 518.8,71.9 518.3,72.1 517.8,70.3 519.9,67.9 520.9,65.1 520.4,63.4 518.8,61.0 517.8,60.0 517.1,60.5 516.8,61.5 516.2,61.5 514.2,60.3 513.1,60.3 510.0,61.7 509.5,62.5 509.0,62.6 508.2,61.0 507.4,60.9 505.9,61.8 503.3,60.9 500.7,61.9 498.6,61.0 497.6,61.0 496.0,61.9 494.5,62.2 492.4,60.8 487.7,61.4 486.2,60.8 484.6,60.8 483.6,59.9 483.1,61.0 484.5,62.5 484.1,63.7 480.6,62.0 480.0,60.9 479.5,60.8 479.2,61.0 479.8,62.0 479.5,62.6 475.3,64.0 474.3,63.6 474.3,61.2 473.2,60.3 472.2,60.2 470.7,59.5 469.5,61.5 470.1,62.5 469.6,63.1 469.0,63.1 468.1,61.6 465.0,63.0 462.4,61.6 459.8,63.8 457.7,63.7 455.1,65.2 454.1,64.6 454.8,63.1 454.5,62.5 453.9,62.0 453.0,61.9 451.5,62.5 451.1,63.6 448.9,64.8 447.4,64.8 443.7,66.0 442.7,65.7 441.5,67.2 442.2,69.3 441.1,70.4 440.1,73.5 440.1,74.6 441.2,75.5 441.6,76.6 440.6,78.3 439.1,79.2 440.0,81.8 439.0,83.3 438.8,84.4 440.8,87.0 441.0,88.0 439.6,90.8 437.4,91.1 438.2,92.7 438.0,93.7 436.0,95.1 434.6,95.3 432.9,96.2 432.1,95.8 431.3,94.3 429.7,93.5 429.1,93.7 429.5,95.8 428.7,96.5 428.1,96.3 427.1,94.8 426.1,94.6 420.9,94.7 419.9,94.2 418.3,95.8 418.9,99.1 420.2,101.5 418.3,103.6 418.2,106.7 417.7,108.3 417.8,108.8 419.3,109.9 419.3,110.4 419.2,111.9 418.3,113.5 419.2,115.1 419.4,117.1 419.2,119.2 418.2,120.8 418.7,122.3 418.7,126.5 419.7,130.1 420.9,130.8 422.5,131.0ZM439.6,95.0 439.2,94.8 439.1,94.3 440.1,92.9 440.6,92.8 440.8,94.3ZM489.8,63.8 489.2,63.1 489.8,62.2 490.8,63.1 490.6,63.6Z"/>
<path fill="#0ea5ef" fill-rule="evenodd" d="M423.6,132.2 424.7,132.2 425.9,130.1 426.6,129.6 427.7,129.3 429.2,130.2 430.8,130.3 431.9,129.6 432.9,128.3 434.4,127.7 435.3,126.5 437.6,126.5 440.6,122.8 441.3,122.9 441.0,123.9 441.7,124.3 442.8,123.9 444.2,122.7 446.3,122.8 447.9,121.5 452.0,121.9 452.7,121.3 453.0,119.3 453.9,119.7 454.4,120.8 457.2,120.6 459.8,119.2 462.4,117.2 463.7,117.7 464.4,118.7 466.0,117.7 468.1,117.1 469.1,115.0 470.1,114.9 471.7,115.9 472.4,114.5 473.2,114.0 474.3,113.8 475.3,114.5 475.4,114.0 476.9,113.1 477.9,113.2 479.5,112.8 481.0,113.2 481.6,111.9 481.0,110.7 483.6,111.6 485.7,110.6 487.9,110.9 489.0,109.3 489.0,108.8 488.3,108.4 487.7,109.1 487.2,109.1 486.5,108.3 487.8,107.8 488.1,104.7 487.4,100.5 488.3,98.1 487.0,96.9 487.9,94.3 490.3,94.3 490.9,93.8 489.8,91.7 490.3,90.8 492.4,90.4 493.4,91.1 493.8,92.2 495.0,92.7 498.1,89.9 501.7,90.4 503.3,91.2 507.9,91.6 510.1,90.6 512.1,88.9 514.2,89.6 514.8,89.6 515.7,88.7 517.8,89.1 518.3,88.8 519.9,87.0 519.9,85.3 519.3,84.7 517.3,84.8 516.5,83.9 516.7,83.5 518.8,83.8 519.9,82.9 520.2,81.3 519.4,79.2 520.2,76.6 519.4,75.0 519.2,73.5 517.8,72.0 517.5,70.3 519.9,67.7 520.8,65.1 518.8,61.2 517.8,60.3 517.4,60.5 517.3,61.5 516.7,61.8 514.2,60.4 513.1,60.4 509.0,62.9 507.4,61.1 505.4,62.1 503.8,61.1 501.2,62.0 497.6,61.2 494.5,62.4 494.0,62.3 492.8,61.0 491.4,60.9 489.9,61.5 491.0,63.1 490.9,63.6 489.8,63.9 489.0,63.1 489.6,61.5 484.6,60.9 483.6,60.2 483.5,61.0 484.7,62.5 484.6,63.4 484.1,63.9 480.5,62.2 478.9,63.2 474.8,64.1 474.1,63.6 474.3,61.3 473.2,60.4 470.7,59.7 469.9,61.0 470.4,62.5 469.6,63.4 468.6,63.1 467.9,62.0 465.0,63.1 462.4,61.7 459.8,63.9 457.7,64.1 456.2,65.2 454.6,65.6 453.7,65.1 453.5,64.6 454.6,63.1 454.1,62.3 453.0,62.1 451.7,62.5 451.7,63.6 449.9,64.4 448.9,65.4 447.4,64.9 444.2,66.0 442.3,66.2 441.7,67.2 442.5,69.3 441.1,70.8 440.2,74.0 441.7,76.6 440.6,78.5 439.5,79.2 440.1,81.8 438.9,83.9 439.1,84.9 441.0,87.0 441.0,88.0 439.6,91.0 438.5,91.5 437.5,91.1 438.3,92.7 438.2,93.7 436.0,95.2 432.9,96.3 431.9,95.8 431.2,94.3 429.7,93.6 429.2,93.7 429.8,95.8 428.7,96.7 427.8,96.3 426.8,94.8 425.6,94.6 420.3,94.8 418.9,95.3 418.4,96.1 419.2,99.5 420.3,101.5 418.8,103.6 417.8,108.3 419.4,109.9 419.2,112.5 418.5,113.5 419.3,115.1 419.7,117.1 419.3,119.2 418.3,120.8 418.8,122.3 418.8,126.5 419.8,130.1 420.9,130.7 422.5,130.8ZM439.1,95.1 438.8,94.3 439.1,93.8 439.9,92.7 440.6,92.5 441.1,93.2 440.7,94.8 440.1,95.2ZM420.9,96.9 420.7,96.3 420.9,95.9ZM519.3,71.4 520.0,70.9 519.9,70.4 519.3,70.9Z"/>
<path fill="#0dc2e8" fill-rule="evenodd" d="M423.8,132.2 424.6,132.2 425.8,130.1 426.6,129.5 427.7,129.3 429.2,130.2 430.8,130.2 431.8,129.6 432.0,128.6 433.9,127.9 435.2,126.5 437.5,126.5 440.6,122.7 441.7,122.9 442.2,123.9 444.2,122.5 446.3,122.5 447.9,121.4 451.7,121.8 452.4,121.3 452.4,119.7 453.0,119.0 454.1,119.4 454.9,120.8 457.2,120.5 459.6,119.2 462.4,117.0 465.0,118.1 467.8,117.1 468.6,115.1 469.1,114.7 470.1,114.7 471.7,115.3 472.7,114.0 473.8,113.6 475.3,113.8 477.9,112.5 481.0,112.5 480.6,110.9 481.0,110.1 483.1,111.4 484.0,111.4 485.7,110.4 487.7,110.8 488.3,110.4 488.3,109.4 487.2,109.4 486.2,108.3 487.7,107.4 487.8,106.7 487.9,104.7 486.8,102.6 487.4,101.5 487.4,100.0 488.2,98.4 486.8,96.9 487.7,93.8 488.3,93.5 489.8,94.0 490.6,93.7 489.3,91.1 491.4,90.0 491.9,89.9 493.2,90.6 494.2,92.2 495.0,92.4 496.8,90.6 497.6,89.2 501.7,90.2 503.7,91.1 507.4,91.4 510.0,90.5 512.1,88.6 514.2,89.5 516.2,87.7 517.3,88.7 518.3,88.6 519.9,86.7 519.9,85.8 519.3,85.2 518.3,85.4 516.8,84.9 516.2,83.9 516.7,83.1 518.8,83.4 519.9,82.2 519.9,81.3 519.0,79.2 519.6,77.6 519.2,74.0 518.8,73.1 517.8,72.6 517.3,70.9 517.9,69.3 519.9,67.5 520.6,65.1 520.4,64.3 519.3,63.1 518.8,61.4 517.8,60.7 517.7,61.5 516.7,62.1 514.3,60.5 513.1,60.4 512.0,61.5 510.5,62.0 509.5,63.2 508.5,62.8 507.4,61.5 505.4,62.4 503.3,61.3 501.2,62.2 497.6,61.4 495.5,62.4 494.0,62.7 492.5,61.0 491.4,60.9 490.5,61.5 491.1,63.6 489.8,64.1 488.9,63.6 488.8,62.0 486.2,61.1 484.9,61.5 484.9,63.1 484.1,64.1 483.1,63.9 482.0,62.8 480.5,62.4 478.9,63.3 474.8,64.2 474.1,64.1 473.8,63.6 474.3,61.4 473.2,60.5 470.7,59.9 470.1,61.0 470.5,63.1 469.6,63.7 468.6,63.5 467.5,62.4 464.4,63.2 463.2,62.0 462.4,61.8 460.3,63.8 457.7,64.4 454.6,66.6 453.0,65.0 451.0,64.2 450.1,64.6 449.4,65.9 448.9,66.0 447.4,65.1 444.8,66.3 442.6,66.2 442.0,67.2 442.7,69.3 441.4,70.9 440.5,74.0 442.0,76.6 439.9,79.7 440.6,81.8 439.6,82.6 438.9,83.9 439.6,85.4 441.0,86.5 441.1,88.0 439.6,91.2 438.3,92.2 438.5,93.7 440.1,92.3 441.1,92.6 441.0,94.8 440.1,95.4 439.1,95.4 438.0,94.1 436.5,95.1 432.3,96.5 431.8,96.2 431.3,94.5 429.7,93.7 429.3,93.7 429.4,94.3 430.0,95.8 428.7,96.9 427.7,96.5 426.6,94.9 425.6,94.7 423.9,94.8 420.9,97.6 420.2,97.4 419.9,95.9 419.4,95.4 418.9,95.6 418.4,96.3 419.1,97.4 419.4,99.5 420.4,101.5 419.2,103.6 418.2,107.8 418.2,108.3 419.6,109.9 419.5,112.5 418.8,113.5 420.1,117.1 419.2,119.7 418.5,120.8 419.0,122.3 419.3,124.9 419.0,126.5 419.9,130.1 420.9,130.6 422.5,130.6ZM430.8,128.3 430.8,127.7 431.5,128.1ZM506.9,88.7 506.9,88.3 507.4,88.5ZM452.4,63.6 453.6,64.0 454.3,63.1 454.1,62.5 452.5,62.5 452.0,63.1Z"/>
<path fill="#27dade" fill-rule="evenodd" d="M423.9,132.2 424.6,132.2 425.7,130.1 426.6,129.4 428.2,129.3 430.3,130.3 431.6,129.6 431.8,129.1 430.3,128.1 430.8,127.4 432.9,128.0 433.9,127.7 435.4,126.3 437.5,126.4 438.5,125.5 439.6,123.4 441.0,122.3 442.7,123.4 443.7,122.6 446.3,122.3 447.9,121.3 451.5,121.7 452.1,121.3 452.4,119.2 453.0,118.7 454.6,119.2 455.1,120.4 457.2,120.4 459.4,119.2 462.4,116.8 465.0,117.6 467.3,117.1 468.6,114.7 471.2,114.6 471.7,113.8 475.3,113.4 477.4,112.2 480.0,112.1 480.3,111.9 480.3,110.4 481.0,109.8 483.6,111.3 485.7,110.2 487.2,110.6 487.9,110.4 487.9,109.9 486.7,109.4 485.8,108.3 486.2,107.6 487.4,107.3 487.8,105.2 487.7,104.7 486.7,104.1 485.7,102.1 486.2,101.4 487.2,101.3 487.3,100.0 488.0,98.4 486.6,96.9 487.1,94.3 488.3,93.0 490.3,93.5 489.8,92.4 488.8,91.7 489.2,90.6 491.9,89.6 493.7,90.6 494.5,91.8 495.0,91.9 496.5,90.6 496.9,88.5 497.7,87.5 498.6,87.1 498.9,87.5 498.6,88.5 499.6,89.6 501.7,90.0 503.8,91.0 505.4,90.8 507.4,91.3 510.4,90.1 512.1,88.3 513.7,89.1 514.5,89.1 515.2,87.3 516.2,86.7 518.1,86.5 518.0,85.9 515.9,84.4 516.0,83.3 516.7,82.8 518.3,83.2 519.3,82.9 519.7,81.8 519.5,80.7 518.3,79.5 517.3,79.2 516.2,79.7 515.7,79.2 516.7,77.0 517.7,77.1 518.3,78.1 518.8,78.4 519.2,77.6 518.8,76.6 518.8,73.5 517.6,72.9 517.1,70.3 518.0,68.8 519.9,67.3 520.5,65.1 518.3,61.5 516.7,62.4 514.2,60.5 513.4,60.5 512.1,61.8 510.5,62.4 509.5,63.5 508.3,63.1 507.4,61.9 505.4,62.9 504.3,61.8 503.3,61.5 501.2,62.4 497.1,61.7 495.5,62.7 494.0,63.1 492.9,61.5 491.9,61.0 490.9,61.5 491.3,63.6 490.3,64.3 488.8,64.0 488.3,62.5 486.2,61.4 485.2,62.0 485.0,63.6 484.1,64.4 483.1,64.2 482.0,63.0 481.0,62.7 478.9,63.5 474.3,64.4 473.6,64.1 473.5,63.6 474.2,61.5 473.2,60.7 470.7,60.4 470.4,61.0 470.9,62.5 470.1,64.1 468.6,63.9 467.0,62.9 464.4,63.8 463.0,62.0 462.4,62.0 460.3,64.2 457.7,64.8 454.6,67.3 453.6,67.1 452.5,65.1 451.0,64.5 450.5,64.6 449.4,66.5 446.8,65.2 444.8,66.9 442.7,66.6 442.4,67.2 443.0,68.8 442.9,69.8 441.7,71.0 440.8,74.0 440.8,74.5 442.1,76.1 442.2,77.1 440.3,79.7 440.4,80.7 441.1,81.8 439.6,82.8 439.0,83.9 439.6,85.2 441.3,86.5 441.3,88.0 439.6,91.7 441.1,92.2 441.4,92.7 441.3,94.8 440.6,95.4 439.1,95.7 438.3,95.3 438.0,94.7 437.5,94.6 432.3,96.8 431.5,96.3 431.3,94.7 430.8,94.3 429.7,94.1 430.3,95.8 428.7,97.1 427.7,96.8 426.6,95.3 425.0,94.8 424.1,95.3 423.5,96.8 422.5,96.9 421.5,98.0 419.9,97.9 419.5,98.4 419.7,99.5 420.7,101.0 419.6,103.1 418.6,107.8 419.8,109.9 419.8,112.5 419.2,114.0 420.5,117.1 418.8,120.8 419.6,124.9 419.3,128.6 420.0,130.1 420.9,130.5 422.5,130.4ZM431.3,100.5 430.6,100.0 431.6,100.0ZM432.3,99.0 432.2,98.4 432.9,97.9 433.5,98.4 433.4,98.9 432.9,99.3ZM470.1,65.2 470.7,64.8 471.9,65.1ZM487.7,90.7 487.4,90.1 488.3,90.0ZM506.9,89.1 506.5,88.5 506.7,88.0 507.4,87.9 507.5,89.1ZM517.8,65.6 517.4,65.1 518.4,65.1ZM419.3,96.9 419.6,96.3 419.4,95.9 418.7,96.3ZM519.1,87.0 519.6,86.5 519.3,85.8 518.6,86.5ZM453.0,63.6 453.6,63.6 453.9,63.1 453.6,62.7 452.6,63.1Z"/>
<path fill="#40ecd4" fill-rule="evenodd" d="M423.6,131.7 424.0,132.2 424.6,132.0 425.5,130.1 427.2,129.2 430.6,130.1 431.3,129.6 431.4,129.1 430.3,128.4 430.3,127.5 430.8,127.3 432.3,127.9 433.4,127.8 435.4,126.3 437.5,126.3 438.7,124.9 439.4,123.4 440.6,122.3 441.7,122.3 442.7,123.0 444.2,122.2 446.3,122.0 447.9,121.2 451.5,121.5 452.2,119.2 453.0,118.5 455.6,119.0 456.0,120.3 457.2,120.3 459.8,118.8 461.9,116.8 462.9,116.6 465.0,117.2 467.0,117.0 467.5,116.6 468.0,114.5 467.5,114.3 465.5,114.8 464.8,114.0 467.0,113.1 469.1,110.9 469.3,111.4 468.2,114.0 470.1,114.2 471.7,113.2 475.3,113.2 477.4,111.8 479.6,111.9 480.3,109.9 481.0,109.2 483.6,111.1 485.2,110.0 486.4,109.9 485.4,108.3 485.5,107.8 487.2,106.9 487.5,105.2 486.2,104.8 485.3,101.5 485.7,101.0 486.7,100.9 487.7,98.9 487.7,98.3 486.4,96.9 486.9,94.3 488.3,92.2 488.2,91.7 486.8,91.1 486.9,89.6 487.7,89.1 489.8,90.1 491.9,89.3 495.0,91.3 495.5,91.2 496.2,90.1 496.5,86.9 498.6,86.5 499.3,87.0 499.2,88.5 499.7,89.2 502.2,89.8 503.8,90.8 505.4,90.4 506.9,91.1 507.9,90.4 510.0,90.1 511.4,88.0 513.6,86.4 516.4,85.9 515.5,84.4 515.8,82.8 516.7,82.3 517.8,82.9 519.0,82.8 519.4,82.3 519.3,80.9 518.8,80.1 517.3,79.7 515.2,81.6 514.7,81.5 514.3,80.2 515.2,79.2 516.2,76.8 518.3,76.3 518.4,74.5 517.3,73.2 516.9,70.3 517.8,68.5 519.7,67.2 520.3,65.7 520.0,64.6 518.3,62.5 516.7,62.9 514.7,61.0 513.6,60.5 512.1,62.4 510.9,62.5 511.0,63.2 512.9,63.6 512.7,64.6 512.1,64.8 511.0,64.7 510.0,63.9 508.5,63.5 506.9,62.3 506.4,62.5 505.9,63.9 504.9,64.1 504.6,62.5 503.3,61.7 502.0,62.5 502.5,63.6 502.2,63.9 501.5,63.6 501.0,62.5 499.7,62.2 498.1,62.9 497.8,62.0 497.0,62.0 496.4,62.5 496.5,63.0 497.6,63.6 497.1,65.0 496.5,64.9 495.5,63.3 493.4,63.6 492.9,62.0 491.9,61.3 491.2,61.5 491.5,63.6 490.3,64.5 488.3,64.6 487.7,63.1 486.2,61.9 485.6,62.0 485.0,64.1 484.1,64.8 482.6,64.4 481.7,63.1 481.0,62.9 478.9,63.7 474.1,64.6 472.2,66.3 468.6,66.0 467.5,67.4 466.6,67.2 466.3,66.7 467.0,66.0 467.5,64.6 467.0,63.8 466.5,63.6 465.3,65.1 465.7,66.2 465.5,66.7 463.9,66.5 463.1,65.1 461.9,63.8 461.3,63.7 460.3,65.5 457.7,65.1 455.1,67.6 453.0,68.3 452.0,67.7 452.3,65.7 451.0,64.8 450.4,65.1 450.5,67.7 448.9,69.7 447.9,68.8 446.8,68.8 446.3,68.3 446.3,67.7 446.8,67.5 447.9,68.0 448.6,67.7 448.9,67.2 447.4,65.6 446.3,65.7 445.8,66.9 444.8,67.6 443.2,67.5 443.4,69.8 441.7,71.9 441.1,74.4 442.6,76.6 442.4,77.6 441.1,78.9 440.5,80.2 441.6,81.8 441.2,82.3 439.6,83.0 439.1,83.9 439.6,84.9 441.8,85.9 441.5,88.0 440.2,91.1 440.4,91.7 441.5,92.2 441.8,94.8 441.1,95.5 439.6,96.0 438.5,96.1 437.5,95.1 434.1,96.3 432.9,97.4 433.6,97.9 433.9,98.9 431.3,101.0 429.7,100.6 429.8,100.0 431.6,98.9 432.3,97.4 430.8,96.5 428.7,97.4 424.6,96.5 423.4,97.9 423.2,98.9 422.0,100.9 420.9,101.6 419.9,103.1 419.3,107.8 420.0,109.9 419.9,110.9 420.3,112.5 419.5,113.5 419.5,114.0 420.6,115.6 420.9,117.1 419.9,118.7 419.2,120.8 419.9,124.9 419.5,128.6 420.1,130.1 422.5,130.2ZM458.7,68.9 458.6,68.3 459.3,67.1 460.3,67.2 460.7,67.7 460.5,68.3 459.3,69.1ZM502.2,88.3 501.8,87.0 502.2,86.5 503.0,87.0 502.8,88.0ZM507.4,89.6 506.4,89.1 506.2,88.5 506.9,87.6 507.4,87.6 507.9,88.5ZM516.7,68.0 516.7,64.9 517.3,64.3 518.8,64.6 519.1,65.1 518.7,65.7 516.8,66.7 517.3,67.7ZM419.8,98.9 420.4,99.4 421.1,98.9 420.4,98.3 419.9,98.4ZM471.6,64.1 472.7,64.4 473.0,64.1 473.9,62.0 473.9,61.5 473.2,61.0 470.9,61.0 471.0,63.6Z"/>
<path fill="#58f8c9" fill-rule="evenodd" d="M423.8,131.7 424.6,131.9 425.4,130.1 426.6,129.3 428.2,129.2 430.2,130.1 430.8,129.8 431.1,129.6 430.9,129.1 430.0,128.1 430.8,127.1 433.4,127.6 435.4,126.2 437.5,126.1 438.5,124.9 439.1,123.4 440.6,122.2 441.7,122.2 442.7,122.6 445.8,122.0 447.9,121.0 451.2,121.3 452.3,118.7 453.0,118.3 456.2,118.7 456.2,119.7 457.2,120.2 460.8,117.7 462.3,116.1 462.0,115.1 462.9,114.3 463.4,114.5 463.0,116.1 464.4,116.3 464.8,115.6 464.0,114.0 464.2,113.5 467.0,112.5 468.1,110.9 469.1,110.2 470.1,110.2 471.2,110.9 472.2,110.0 473.0,110.4 472.8,111.4 472.2,111.9 471.2,111.0 469.6,112.0 468.9,113.5 469.6,113.9 471.7,112.6 472.7,113.0 475.3,112.9 477.4,111.1 478.9,111.7 479.5,111.4 481.0,107.6 481.9,109.3 483.1,110.7 483.6,110.8 484.3,110.4 484.6,109.9 484.2,108.8 485.3,107.3 486.3,106.7 485.5,105.2 485.6,103.6 484.7,101.5 485.7,100.2 486.7,100.1 487.5,98.4 486.3,97.4 486.3,94.8 486.7,93.7 485.5,92.2 486.3,89.1 486.2,87.7 486.6,87.0 487.8,87.0 487.5,88.0 489.5,89.6 491.9,88.8 495.0,90.7 495.8,90.1 495.7,86.5 496.0,86.1 499.1,86.1 499.8,87.0 500.0,89.1 501.2,89.4 501.7,89.1 501.4,86.5 502.8,86.1 503.6,87.0 502.8,89.6 503.8,90.5 505.9,89.6 506.0,88.0 506.9,87.3 507.4,87.3 507.9,87.8 508.5,89.7 510.0,89.6 510.8,87.5 512.1,87.0 513.9,85.4 513.9,84.9 511.8,83.9 511.8,82.8 513.4,81.8 513.8,79.7 515.2,78.4 515.7,76.6 517.8,76.1 518.1,75.5 517.8,74.5 516.7,73.5 516.4,70.3 516.9,69.3 515.8,67.7 516.4,64.1 515.7,62.5 514.4,61.0 513.4,61.0 513.3,62.0 513.9,63.6 513.4,65.1 512.7,65.7 510.5,65.5 509.2,64.1 507.5,64.1 507.6,65.1 508.5,65.8 510.0,66.2 510.3,66.7 509.0,67.2 508.5,67.2 507.1,66.2 506.7,65.1 505.9,64.7 501.2,64.4 497.1,65.7 496.5,65.6 495.0,63.7 492.9,64.5 492.5,64.1 492.6,62.0 491.9,61.5 491.6,62.0 491.7,64.1 490.9,65.0 489.3,65.2 487.7,66.2 487.4,63.6 486.2,62.6 485.7,62.9 485.2,65.1 484.6,65.5 482.5,65.1 481.7,63.6 481.0,63.3 480.0,64.1 477.4,64.1 474.8,64.7 474.0,65.1 473.2,66.8 472.2,67.1 470.7,66.6 470.1,66.8 469.8,67.2 470.6,68.8 470.1,68.9 468.6,68.0 467.0,68.0 463.4,66.8 461.9,65.1 461.4,68.3 459.8,69.6 458.2,69.5 456.7,67.3 454.4,68.8 453.6,70.3 453.0,70.0 452.6,68.8 451.0,68.4 449.9,69.8 450.5,70.4 451.5,70.4 451.8,70.9 451.5,71.4 448.4,71.3 447.4,70.3 446.8,70.2 445.8,71.2 443.7,70.6 442.3,72.4 442.4,74.0 441.9,74.5 443.0,76.1 443.0,77.6 441.1,79.4 440.9,80.2 442.2,82.3 440.1,82.9 439.3,83.9 439.6,84.6 440.1,84.9 443.1,85.4 440.5,91.1 442.0,92.2 442.2,93.7 444.0,93.7 443.7,94.8 441.7,96.1 439.8,96.3 438.8,96.9 438.6,98.4 438.0,99.2 433.9,100.0 431.8,101.3 429.7,101.7 428.7,101.5 427.8,100.5 430.9,98.4 431.2,97.9 430.8,97.4 428.7,97.8 425.1,97.3 424.5,97.9 425.7,99.5 424.7,104.7 424.0,105.4 423.5,105.2 422.2,104.1 421.5,102.5 420.9,102.2 420.2,103.1 420.3,105.7 420.9,106.4 422.0,106.5 423.5,105.7 424.0,105.8 424.2,108.8 423.0,111.1 422.2,110.4 421.8,109.3 420.4,108.9 420.2,110.9 421.2,112.5 422.1,113.0 423.2,115.6 421.5,116.6 421.2,118.2 420.1,119.2 419.5,120.8 419.9,122.4 420.4,122.8 421.5,122.3 422.1,123.4 422.0,124.1 420.4,124.4 419.8,126.0 420.4,127.5 419.7,129.1 420.4,130.2 422.0,129.9 423.0,130.3ZM431.8,103.6 431.4,103.1 431.8,102.6 432.4,102.6 432.7,103.1 432.3,103.6ZM484.6,99.7 484.2,98.9 484.6,98.5 485.3,98.9 485.2,99.5ZM509.0,86.1 508.5,84.9 509.0,84.2 510.0,84.6 510.3,85.4 510.0,86.3ZM512.6,74.7 512.1,74.3 512.0,73.5 513.1,73.0 513.5,74.0ZM513.6,76.9 513.2,76.6 513.2,76.1 514.2,75.5 514.2,76.6ZM514.7,70.4 514.7,69.8 515.3,69.8 515.7,70.3 515.2,70.7ZM443.2,83.7 442.7,82.7 443.3,82.8ZM466.4,116.6 467.0,116.6 467.5,115.4 467.0,115.2 465.8,115.6 465.7,116.1ZM420.3,114.0 420.8,114.0 420.4,113.3ZM422.7,101.0 423.0,101.4 423.5,101.2 423.9,100.5 423.0,100.4ZM434.9,97.9 436.0,98.4 436.5,98.2 437.3,96.9 436.5,96.2 435.5,96.3 434.5,97.4ZM514.1,83.9 514.7,84.1 514.7,83.3 514.2,83.3ZM517.7,82.3 518.3,82.6 519.1,82.3 519.2,81.3 518.3,80.2 517.3,80.2 516.7,80.7 516.7,81.3ZM518.2,67.7 519.4,67.2 519.6,66.2 519.3,66.0 517.8,66.7ZM472.0,63.6 472.7,63.5 473.4,62.0 473.2,61.6 471.7,61.7 471.6,63.1ZM499.3,63.6 500.2,63.9 500.8,63.1 499.7,62.5 499.2,63.1ZM503.3,63.6 503.8,63.8 504.3,62.5 503.3,61.9 502.5,62.5ZM517.7,63.6 518.3,63.8 518.5,63.6 518.3,63.3Z"/>
<path fill="#72febb" fill-rule="evenodd" d="M424.0,131.7 424.6,131.7 425.2,130.1 426.6,129.2 428.2,129.1 430.3,129.9 430.8,129.7 429.8,128.1 430.7,127.0 433.4,127.5 435.4,126.1 437.5,126.0 439.0,123.4 440.6,122.1 442.7,122.4 445.8,121.8 447.9,120.8 451.0,121.0 452.5,118.2 456.7,118.1 458.2,116.3 459.3,117.6 460.3,117.7 460.9,117.1 461.2,116.1 460.8,115.5 459.1,115.1 459.3,114.0 460.3,113.6 461.3,114.2 461.9,114.0 463.9,112.0 464.7,112.5 466.0,112.5 466.9,111.9 467.8,110.4 469.1,109.6 472.7,109.2 473.7,110.4 473.1,112.5 475.7,112.5 475.9,111.9 475.2,111.4 475.1,110.9 476.3,109.9 476.5,108.8 477.8,107.8 477.4,106.7 477.9,106.2 478.4,106.6 478.1,107.3 478.9,110.8 480.5,106.7 482.6,105.1 484.1,106.5 484.9,105.2 484.6,103.1 483.7,101.5 483.9,100.5 483.5,98.9 484.1,98.0 485.7,97.5 485.7,96.9 484.8,95.3 485.1,93.2 483.6,91.8 482.8,90.1 483.1,88.8 485.1,88.5 486.1,86.5 487.2,86.2 489.1,86.5 489.9,87.5 489.8,88.6 490.3,89.0 491.2,88.5 490.7,87.5 490.9,87.0 492.4,86.1 493.2,87.0 493.4,89.1 495.0,89.8 495.5,88.0 495.1,85.9 496.0,85.4 498.1,85.0 500.2,86.1 502.2,85.6 503.9,85.9 504.1,87.0 503.2,89.6 503.8,90.2 505.1,89.6 505.5,88.0 507.4,86.5 507.9,86.5 508.9,89.1 509.5,89.0 509.8,88.0 509.1,87.0 505.5,85.4 505.7,84.9 508.5,82.7 510.6,83.9 510.4,82.3 510.9,81.3 512.6,80.7 514.7,78.1 513.6,77.9 512.6,77.0 512.3,75.5 511.3,74.0 511.4,72.4 511.6,71.7 513.3,70.3 513.6,69.1 515.3,68.8 515.2,67.3 514.7,66.9 513.6,67.2 512.6,66.5 512.1,66.6 512.6,67.7 512.4,68.3 508.5,69.2 507.9,69.0 507.4,67.2 505.9,65.5 502.2,64.9 497.1,66.3 496.5,66.2 495.0,64.2 494.5,64.1 491.9,65.5 491.4,66.5 489.3,66.4 487.7,67.3 487.2,67.2 486.2,65.4 483.6,67.1 483.1,66.2 481.0,64.9 481.0,66.2 480.5,66.8 478.9,66.5 477.4,67.0 474.8,68.5 473.2,68.6 471.7,69.7 469.6,69.7 468.1,68.7 462.4,67.2 462.4,69.3 461.3,69.3 459.3,70.4 457.5,70.3 456.7,68.4 456.2,68.3 454.1,71.2 452.5,71.1 451.5,72.1 449.4,71.9 447.4,73.0 444.1,71.4 443.4,73.5 443.5,74.5 445.8,74.3 446.0,75.0 444.2,75.5 443.9,76.6 445.3,77.1 445.8,77.6 445.7,78.1 444.8,78.8 443.2,78.7 441.7,79.6 441.4,80.2 444.0,82.3 444.8,84.9 443.6,87.5 442.2,88.6 441.0,90.6 441.1,91.0 443.0,89.6 444.2,87.8 444.8,87.6 445.1,88.0 444.6,89.1 444.2,92.2 444.8,92.9 444.9,94.3 442.7,96.3 442.2,97.4 440.1,97.6 438.0,100.7 436.5,100.1 435.2,100.5 434.6,102.1 432.3,104.5 430.3,103.8 427.0,101.5 426.1,101.7 426.1,102.6 427.3,103.1 428.9,107.3 428.2,108.2 426.1,107.6 425.1,106.8 424.8,108.8 423.9,110.4 424.1,111.9 423.3,112.5 423.3,113.0 424.0,115.4 424.6,115.6 425.6,115.1 425.9,116.1 425.6,116.8 424.6,117.2 422.5,116.8 421.8,117.1 422.0,118.7 423.3,120.8 422.5,122.5 422.4,124.4 422.0,124.9 420.4,125.3 420.1,126.0 421.2,127.5 419.9,129.1 420.4,130.0 422.0,129.7 423.1,130.1 423.8,130.7ZM436.0,102.8 435.4,102.1 435.7,101.5 437.5,101.3 437.5,102.1ZM449.4,120.3 449.1,119.7 449.4,119.4 449.8,119.7ZM425.6,114.9 425.6,113.5 425.9,114.0ZM420.3,121.8 420.9,121.7 421.6,120.8 421.9,119.7 421.5,119.4 420.4,119.5 420.0,120.3 419.8,121.3ZM456.8,119.7 457.2,119.8 457.7,119.2 457.7,118.7 457.2,118.2ZM469.8,113.0 470.7,112.5 470.1,112.4ZM421.9,111.9 422.5,111.9 421.5,111.1ZM483.5,110.4 483.5,107.8 482.6,107.6 482.0,108.0 482.0,108.7ZM420.8,105.2 422.0,105.6 422.3,105.2 420.9,103.8ZM426.5,98.9 427.2,99.3 428.3,98.9 428.0,98.4 427.2,98.1 426.5,98.4ZM486.1,98.9 486.7,99.4 486.8,98.4ZM435.6,97.4 436.0,97.8 436.5,97.4 436.5,96.9 436.0,96.8ZM510.7,86.5 511.6,86.8 513.0,85.4 511.6,84.5 511.0,84.9ZM439.8,84.4 440.9,84.4 441.6,83.9 441.4,83.3 440.1,83.3 439.6,83.9ZM518.2,81.8 518.9,81.8 518.8,81.2 518.3,80.8ZM515.3,75.5 515.7,76.0 517.3,75.8 517.7,75.5 517.7,75.0 516.2,73.9 516.1,71.9 515.2,71.7 514.6,71.9 514.2,72.9 515.5,74.5ZM450.9,69.3 451.5,69.6 452.0,69.3 451.5,69.0ZM474.6,66.2 475.3,66.7 476.4,66.4 476.9,65.8 476.8,65.1 475.8,64.7 474.8,65.0 474.3,65.7ZM508.8,65.1 509.2,65.1 509.1,64.6 508.3,64.6ZM515.1,65.1 515.8,64.6 515.2,63.7 514.6,64.1ZM486.1,64.1 486.7,64.2 486.6,63.6 486.2,63.5ZM503.5,63.1 503.9,62.5 503.3,62.2 503.0,62.5Z"/>
<path fill="#8cfead" fill-rule="evenodd" d="M423.7,130.1 424.6,130.6 426.1,129.3 427.7,128.9 430.5,129.6 429.7,128.6 429.8,127.5 430.3,127.1 431.3,126.8 433.4,127.4 434.9,126.2 437.5,125.8 438.8,123.4 440.6,122.0 445.8,121.6 448.4,120.4 449.4,119.0 450.0,119.2 450.5,120.4 451.0,120.5 451.7,118.7 452.5,117.9 454.1,117.7 456.2,116.3 457.7,114.9 458.7,113.2 460.4,112.5 461.3,111.4 463.4,110.6 465.5,110.4 466.5,109.5 468.1,109.3 473.8,106.7 480.5,104.7 482.8,100.5 483.0,96.9 484.0,93.7 481.6,90.1 482.6,87.3 484.1,87.1 486.2,85.6 491.4,85.5 494.5,84.1 496.0,84.4 497.6,83.8 500.2,85.1 503.3,85.0 506.4,83.6 508.1,81.3 510.9,79.7 511.6,78.8 512.6,79.2 513.0,78.7 511.7,77.1 511.5,75.5 510.7,74.5 510.5,70.8 507.4,70.0 506.4,68.8 504.8,67.9 504.3,66.2 503.3,65.5 502.4,65.7 502.8,66.7 502.2,67.4 500.7,67.1 499.1,67.6 497.6,67.0 495.5,67.6 494.5,67.4 493.8,66.7 494.0,66.2 495.0,66.2 495.4,65.7 495.0,64.7 494.5,64.6 491.4,67.5 487.2,68.1 485.7,67.2 485.7,66.6 485.6,67.2 484.1,67.9 482.0,68.1 480.0,68.9 476.9,69.0 472.2,70.3 468.6,70.3 466.0,69.5 463.9,71.3 460.8,70.9 459.3,71.3 457.2,71.3 454.1,72.9 452.0,73.2 449.4,74.6 448.8,75.5 447.9,79.7 446.3,79.4 446.1,79.7 446.8,80.7 446.7,81.3 445.3,81.9 444.8,82.6 446.5,85.9 446.4,88.0 445.7,89.6 446.2,91.7 446.1,94.8 444.3,96.3 442.7,99.2 440.1,99.7 440.5,101.0 440.3,101.5 439.1,101.8 438.0,103.1 430.3,106.7 430.1,107.8 428.0,110.9 428.6,114.5 427.2,115.9 426.1,119.2 424.9,120.3 424.6,122.1 424.0,122.3 424.6,122.4 424.8,123.4 422.5,126.2 421.5,126.5 421.3,126.0 420.7,126.0 421.5,126.5 421.9,127.5 421.5,128.7 420.4,129.2 420.9,129.6 422.0,129.4ZM423.0,118.2 423.1,117.7 422.5,117.5 422.5,117.9ZM459.7,117.1 460.3,117.1 460.3,116.2 459.5,116.6ZM465.7,111.4 466.2,111.4 466.0,110.8ZM424.5,110.9 425.1,111.2 426.1,110.9 426.2,110.4 425.6,109.5 424.6,109.9ZM483.1,103.6 483.6,103.1 483.1,102.6 482.7,103.1ZM503.7,89.6 504.3,89.7 504.8,89.2 504.8,88.2 504.0,88.5ZM494.0,88.5 494.5,88.7 495.0,88.1 494.5,87.3 494.0,87.9ZM511.4,85.9 512.2,85.4 511.6,85.4ZM443.1,80.7 443.9,80.7 443.7,80.0 443.2,80.2ZM444.2,73.5 445.2,73.5 445.2,72.9 444.8,72.8Z"/>
<path fill="#a6f89d" fill-rule="evenodd" d="M423.5,129.6 424.6,130.0 427.2,128.8 429.2,128.8 429.6,127.5 430.8,126.7 433.4,127.2 434.9,126.1 437.5,125.6 439.1,122.9 440.6,121.8 442.2,121.6 443.2,120.5 443.6,121.3 445.3,121.4 447.9,120.3 449.4,118.7 451.0,119.1 453.0,116.6 456.7,113.8 458.3,111.9 459.9,110.9 464.4,109.4 466.5,108.0 469.1,107.6 472.3,106.2 475.3,105.6 478.9,103.9 481.3,100.5 481.3,94.3 480.3,90.1 481.5,86.3 482.6,85.6 486.2,84.7 487.7,84.7 489.8,83.1 491.4,83.3 494.0,82.7 496.0,83.1 497.6,82.8 500.2,83.9 501.7,82.9 503.4,82.8 505.9,82.1 506.9,80.2 508.5,79.9 509.1,79.2 508.6,72.4 505.9,70.1 503.8,69.8 501.2,68.4 500.2,68.7 499.3,69.8 498.6,70.0 495.0,69.1 493.4,68.3 490.9,68.9 484.6,68.6 472.7,71.1 470.7,70.9 468.6,72.1 467.0,72.4 465.5,72.0 463.4,72.9 460.3,73.3 457.7,73.0 455.1,74.3 450.5,75.7 449.9,76.6 449.8,78.7 449.2,80.7 447.7,83.9 447.9,84.7 448.9,85.5 449.4,86.5 448.0,88.0 447.6,89.1 447.7,93.7 446.9,95.8 445.3,97.4 444.2,100.5 442.7,102.5 439.6,104.8 437.5,104.9 434.8,106.2 429.9,112.5 429.8,114.5 427.9,116.6 426.2,122.9 424.1,125.5 422.5,128.5 422.6,129.1ZM481.1,92.7 481.5,93.0 481.7,92.7 481.5,92.3Z"/>
<path fill="#c0eb8d" fill-rule="evenodd" d="M424.1,129.1 425.1,129.4 426.6,128.8 428.7,128.7 430.3,126.7 431.8,126.5 433.4,127.1 434.9,126.0 437.5,125.5 438.7,122.9 440.6,121.6 442.1,121.3 443.2,119.8 443.7,120.1 444.2,121.1 446.2,120.8 448.9,118.5 451.0,117.5 457.8,110.9 465.6,107.3 475.2,104.7 478.0,103.1 480.0,100.7 480.5,97.4 478.6,90.6 477.6,89.1 477.9,87.6 479.5,87.2 481.5,85.0 487.7,83.1 489.8,81.9 491.9,81.9 494.0,81.3 496.5,81.8 498.6,81.7 500.2,80.9 502.2,81.1 504.8,80.0 507.0,77.1 507.3,75.5 506.9,73.9 505.9,72.8 503.8,71.9 502.8,70.6 501.7,70.1 499.7,71.4 497.1,70.4 495.0,70.5 493.4,69.8 491.4,70.2 489.3,69.7 487.2,69.8 484.6,69.2 477.4,71.2 475.3,71.3 471.7,72.2 469.1,74.3 466.5,74.2 462.9,75.0 457.2,77.2 453.4,79.2 452.8,79.7 452.5,82.1 452.0,82.5 450.5,82.3 449.9,82.8 450.6,85.4 451.7,87.5 450.1,89.1 450.4,90.6 449.0,92.7 448.0,96.9 446.3,98.1 445.6,100.5 443.2,103.2 436.3,108.3 429.4,116.6 428.1,119.2 427.2,123.4 426.2,124.9 424.8,126.0 424.0,128.6Z"/>
<path fill="#d9da7d" fill-rule="evenodd" d="M425.9,128.6 428.7,128.2 429.4,127.0 430.8,126.3 431.8,126.1 433.4,126.8 435.4,125.6 437.0,125.5 438.0,124.3 438.3,122.9 441.7,121.1 443.2,119.4 444.8,120.7 445.8,120.3 448.8,117.7 450.8,116.6 451.9,115.1 456.7,110.3 461.9,107.5 463.4,106.1 465.5,106.1 469.6,104.7 473.2,104.5 477.7,102.1 479.5,97.9 479.5,96.6 476.6,91.7 473.6,90.1 472.0,88.5 471.8,87.0 472.7,85.8 484.1,83.1 486.6,81.8 488.3,81.6 490.3,80.7 495.5,80.0 497.1,79.1 498.6,79.4 500.2,78.5 501.7,78.3 503.3,77.1 503.7,75.5 503.4,74.5 501.7,73.9 500.6,72.9 498.1,72.2 491.4,71.7 484.6,70.0 473.8,73.3 470.1,75.4 462.6,78.7 459.1,80.7 457.2,82.3 455.5,84.4 453.5,89.6 450.2,94.3 448.9,97.6 447.7,98.9 446.8,101.0 445.0,102.1 443.7,103.8 440.0,106.7 432.4,115.6 431.3,117.7 430.9,119.2 429.5,120.8 428.7,122.8 428.4,124.9 426.6,126.9Z"/>
<path fill="#f2c26b" fill-rule="evenodd" d="M433.3,126.5 434.9,125.5 437.0,124.9 437.5,124.4 438.0,122.5 441.7,120.5 443.2,118.8 445.3,119.3 448.0,117.1 449.9,116.3 451.0,114.3 453.0,113.3 456.0,109.9 462.2,105.7 469.6,103.4 472.8,103.6 476.4,101.9 478.1,98.9 478.1,96.9 477.4,95.4 475.3,93.1 468.8,90.6 463.4,87.3 461.9,87.2 459.8,88.2 450.5,96.3 447.3,101.5 445.3,103.0 444.4,104.7 441.7,106.7 436.5,113.5 435.4,115.8 433.4,117.0 433.0,118.2 433.4,119.2 432.3,120.8 431.3,124.9ZM473.5,81.8 477.9,82.2 483.6,81.7 487.2,80.4 492.9,79.0 496.3,76.1 492.4,73.0 489.3,72.8 485.2,71.2 481.5,71.9 475.8,74.5 472.1,77.6 470.9,80.2Z"/>
<path fill="#ffa558" fill-rule="evenodd" d="M437.7,120.3 439.1,120.6 442.7,117.9 445.3,117.9 448.9,115.8 450.5,113.5 453.0,112.5 455.2,109.9 458.7,106.8 464.4,103.2 472.7,102.1 475.5,101.0 476.7,98.9 476.6,96.3 474.8,94.8 462.4,91.3 460.3,91.9 452.0,96.6 451.1,97.4 447.7,102.1 446.1,103.6 445.3,105.3 443.2,106.9 440.8,109.9 439.8,111.4 439.3,113.0 437.8,114.0 437.7,116.1 436.5,116.8 436.0,117.7ZM479.1,79.7 483.1,80.2 485.2,79.8 489.9,77.6 490.6,76.6 490.6,75.5 487.2,73.5 484.6,73.0 482.0,73.2 479.1,75.0 477.2,77.1 477.3,78.7Z"/>
<path fill="#ff8444" fill-rule="evenodd" d="M438.8,118.2 439.1,118.6 442.7,116.2 445.8,116.0 450.5,112.4 452.3,111.9 453.3,110.4 457.7,106.3 461.4,103.6 463.9,101.2 473.7,99.5 474.4,98.4 474.3,97.4 467.7,95.3 462.4,94.2 457.7,95.5 452.5,97.8 449.4,101.0 441.7,110.9 440.9,113.0 439.4,115.1ZM482.8,77.6 484.1,77.7 484.9,77.1 485.0,76.1 484.1,75.0 483.1,75.0 482.4,75.5 482.1,76.6Z"/>
<path fill="#ff5f30" fill-rule="evenodd" d="M444.5,115.1 445.8,114.6 446.1,113.5 446.8,113.0 448.9,112.5 449.6,111.4 451.0,110.6 452.5,109.0 454.6,108.2 460.8,101.5 461.6,100.0 461.3,98.4 459.8,97.6 457.7,97.6 453.6,98.8 452.0,99.7 443.7,110.9 444.9,113.0 442.7,113.9 442.5,114.5Z"/>
<path fill="#ff3b1e" fill-rule="evenodd" d="M446.6,110.4 446.8,110.8 448.4,109.7 450.5,109.4 453.6,107.0 457.3,102.6 457.7,101.5 457.2,100.5 454.6,100.1 453.0,100.7 448.4,107.3Z"/>
</g>
<line x1="396.6" y1="162.9" x2="541.6" y2="17.3" stroke="#f33535" stroke-width="1.2" stroke-dasharray="5.6 4.5"/>
<rect x="396.6" y="17.3" width="145.0" height="145.6" fill="none" stroke="#333" stroke-width="1.3"/>
<path stroke="#444" stroke-width="0.8" fill="none" d="M417.3 162.9v-3M417.3 17.3v3M396.6 142.1h3M541.6 142.1h-3M438.0 162.9v-3M438.0 17.3v3M396.6 121.3h3M541.6 121.3h-3M458.7 162.9v-3M458.7 17.3v3M396.6 100.5h3M541.6 100.5h-3M479.5 162.9v-3M479.5 17.3v3M396.6 79.7h3M541.6 79.7h-3M500.2 162.9v-3M500.2 17.3v3M396.6 58.9h3M541.6 58.9h-3M520.9 162.9v-3M520.9 17.3v3M396.6 38.1h3M541.6 38.1h-3"/>
<g font-family="Liberation Sans, sans-serif" font-size="5.6" fill="#333"><text x="393.6" y="164.4" text-anchor="end">0</text><text x="396.6" y="170.4" text-anchor="middle">0</text><text x="393.6" y="143.6" text-anchor="end">10</text><text x="417.3" y="170.4" text-anchor="middle">10</text><text x="393.6" y="122.8" text-anchor="end">20</text><text x="438.0" y="170.4" text-anchor="middle">20</text><text x="393.6" y="102.0" text-anchor="end">30</text><text x="458.7" y="170.4" text-anchor="middle">30</text><text x="393.6" y="81.2" text-anchor="end">40</text><text x="479.5" y="170.4" text-anchor="middle">40</text><text x="393.6" y="60.4" text-anchor="end">50</text><text x="500.2" y="170.4" text-anchor="middle">50</text><text x="393.6" y="39.6" text-anchor="end">60</text><text x="520.9" y="170.4" text-anchor="middle">60</text><text x="393.6" y="18.8" text-anchor="end">70</text><text x="541.6" y="170.4" text-anchor="middle">70</text></g>
<g font-family="Liberation Serif, serif" font-size="9.5" fill="#1a1a1a" stroke="#1a1a1a" stroke-width="0.12"><text x="401.8" y="27.9">N = 398326</text><text x="401.8" y="39.2">R<tspan font-size="5.4" dy="-3.8">2</tspan><tspan dy="3.8"> = 0.71</tspan></text><text x="401.8" y="50.5">RMSD = 6.13</text><text x="401.8" y="61.8">rRMSD = 19.92%</text></g>
<text x="469.1" y="10.7" text-anchor="middle" font-family="Liberation Serif, serif" font-weight="bold" font-size="9.6" fill="#111" stroke="#111" stroke-width="0.15">p024r029</text>
<g filter="url(#bl)">
<path fill="#5a58f2" d="M145.2 273.3h1.4v1.4h-1.4zM152.4 270.2h1.4v1.4h-1.4zM101.3 312.9h1.4v1.4h-1.4zM113.3 305.2h1.4v1.4h-1.4zM91.9 315.7h1.4v1.4h-1.4zM151.5 269.0h1.4v1.4h-1.4zM135.9 276.5h1.4v1.4h-1.4zM97.1 314.6h1.4v1.4h-1.4zM166.2 263.4h1.4v1.4h-1.4zM109.0 307.9h1.4v1.4h-1.4zM129.2 281.2h1.4v1.4h-1.4zM98.8 314.1h1.4v1.4h-1.4zM99.9 313.7h1.4v1.4h-1.4zM164.8 264.1h1.4v1.4h-1.4zM125.1 284.6h1.4v1.4h-1.4zM109.7 307.3h1.4v1.4h-1.4zM94.7 315.2h1.4v1.4h-1.4zM115.3 300.6h1.4v1.4h-1.4zM131.9 280.2h1.4v1.4h-1.4zM137.6 275.3h1.4v1.4h-1.4zM149.7 270.0h1.4v1.4h-1.4zM105.1 310.2h1.4v1.4h-1.4zM149.4 270.2h1.4v1.4h-1.4zM123.2 288.9h1.4v1.4h-1.4zM128.9 281.0h1.4v1.4h-1.4zM90.2 316.5h1.4v1.4h-1.4zM120.3 291.8h1.4v1.4h-1.4zM123.4 286.7h1.4v1.4h-1.4zM164.0 263.7h1.4v1.4h-1.4zM119.3 293.5h1.4v1.4h-1.4zM141.7 273.5h1.4v1.4h-1.4zM138.1 275.0h1.4v1.4h-1.4zM113.8 305.5h1.4v1.4h-1.4zM152.9 270.0h1.4v1.4h-1.4zM118.6 295.6h1.4v1.4h-1.4zM105.0 310.1h1.4v1.4h-1.4zM166.2 260.9h1.4v1.4h-1.4zM107.2 310.4h1.4v1.4h-1.4zM128.7 282.6h1.4v1.4h-1.4zM145.4 271.7h1.4v1.4h-1.4zM102.1 312.7h1.4v1.4h-1.4zM104.3 311.4h1.4v1.4h-1.4zM167.4 257.9h1.4v1.4h-1.4zM114.8 304.9h1.4v1.4h-1.4zM165.1 264.2h1.4v1.4h-1.4zM149.3 270.0h1.4v1.4h-1.4zM91.8 316.8h1.4v1.4h-1.4zM165.7 263.4h1.4v1.4h-1.4zM99.5 312.7h1.4v1.4h-1.4zM89.2 318.0h1.4v1.4h-1.4zM115.3 303.5h1.4v1.4h-1.4zM99.1 313.6h1.4v1.4h-1.4zM114.8 303.3h1.4v1.4h-1.4zM133.0 277.9h1.4v1.4h-1.4zM102.5 312.7h1.4v1.4h-1.4zM122.0 289.0h1.4v1.4h-1.4zM147.1 271.6h1.4v1.4h-1.4zM152.2 269.2h1.4v1.4h-1.4zM128.2 282.4h1.4v1.4h-1.4zM120.6 293.6h1.4v1.4h-1.4zM129.9 280.4h1.4v1.4h-1.4zM151.4 270.4h1.4v1.4h-1.4zM127.6 282.1h1.4v1.4h-1.4zM126.4 284.0h1.4v1.4h-1.4zM121.8 290.8h1.4v1.4h-1.4zM103.4 312.2h1.4v1.4h-1.4zM157.4 266.6h1.4v1.4h-1.4zM166.7 257.2h1.4v1.4h-1.4zM108.7 309.7h1.4v1.4h-1.4zM154.3 268.9h1.4v1.4h-1.4zM146.2 271.9h1.4v1.4h-1.4zM149.9 269.7h1.4v1.4h-1.4zM151.3 270.6h1.4v1.4h-1.4zM142.8 232.3h1.4v1.4h-1.4zM143.6 232.9h1.4v1.4h-1.4zM167.1 260.4h1.4v1.4h-1.4zM68.9 264.4h1.4v1.4h-1.4zM155.4 267.6h1.4v1.4h-1.4zM69.6 263.0h1.4v1.4h-1.4zM121.0 236.3h1.4v1.4h-1.4zM59.6 268.5h1.4v1.4h-1.4zM155.3 267.4h1.4v1.4h-1.4zM78.6 252.0h1.4v1.4h-1.4zM55.2 272.6h1.4v1.4h-1.4zM106.3 239.1h1.4v1.4h-1.4zM80.9 251.5h1.4v1.4h-1.4zM163.5 236.9h1.4v1.4h-1.4zM164.7 237.8h1.4v1.4h-1.4zM132.8 233.7h1.4v1.4h-1.4zM155.3 233.8h1.4v1.4h-1.4zM167.0 259.6h1.4v1.4h-1.4zM151.9 233.8h1.4v1.4h-1.4zM147.2 233.8h1.4v1.4h-1.4zM156.6 268.4h1.4v1.4h-1.4zM146.2 233.7h1.4v1.4h-1.4zM85.0 249.7h1.4v1.4h-1.4zM107.3 239.3h1.4v1.4h-1.4zM130.2 234.1h1.4v1.4h-1.4zM148.9 233.5h1.4v1.4h-1.4zM137.7 233.9h1.4v1.4h-1.4zM124.9 235.7h1.4v1.4h-1.4zM102.1 240.2h1.4v1.4h-1.4zM143.2 272.8h1.4v1.4h-1.4zM131.5 234.5h1.4v1.4h-1.4zM154.7 233.0h1.4v1.4h-1.4zM158.1 233.9h1.4v1.4h-1.4zM83.3 248.9h1.4v1.4h-1.4zM73.6 259.1h1.4v1.4h-1.4zM148.9 233.3h1.4v1.4h-1.4zM163.6 236.9h1.4v1.4h-1.4zM88.5 248.1h1.4v1.4h-1.4zM161.9 235.8h1.4v1.4h-1.4zM165.2 264.0h1.4v1.4h-1.4zM167.1 243.2h1.4v1.4h-1.4zM97.6 242.5h1.4v1.4h-1.4zM62.9 267.5h1.4v1.4h-1.4zM125.5 235.1h1.4v1.4h-1.4zM75.5 256.6h1.4v1.4h-1.4zM131.2 234.2h1.4v1.4h-1.4zM87.2 248.1h1.4v1.4h-1.4zM147.6 270.5h1.4v1.4h-1.4zM125.7 234.7h1.4v1.4h-1.4zM107.2 239.2h1.4v1.4h-1.4zM166.3 239.3h1.4v1.4h-1.4zM146.9 232.5h1.4v1.4h-1.4zM140.5 274.2h1.4v1.4h-1.4zM161.5 235.3h1.4v1.4h-1.4zM151.3 233.7h1.4v1.4h-1.4zM103.9 240.6h1.4v1.4h-1.4zM128.3 235.7h1.4v1.4h-1.4zM70.1 262.2h1.4v1.4h-1.4zM150.9 233.1h1.4v1.4h-1.4zM148.1 233.0h1.4v1.4h-1.4zM97.7 242.9h1.4v1.4h-1.4zM115.8 238.1h1.4v1.4h-1.4zM91.4 246.3h1.4v1.4h-1.4zM142.1 273.7h1.4v1.4h-1.4zM146.2 233.1h1.4v1.4h-1.4zM75.4 257.5h1.4v1.4h-1.4zM167.2 254.8h1.4v1.4h-1.4zM57.8 269.1h1.4v1.4h-1.4zM165.4 238.3h1.4v1.4h-1.4zM101.5 240.9h1.4v1.4h-1.4zM143.7 272.3h1.4v1.4h-1.4zM100.3 240.6h1.4v1.4h-1.4zM140.1 274.1h1.4v1.4h-1.4zM151.1 270.0h1.4v1.4h-1.4zM168.4 242.3h1.4v1.4h-1.4zM155.8 268.8h1.4v1.4h-1.4zM168.1 241.7h1.4v1.4h-1.4zM167.5 250.5h1.4v1.4h-1.4zM167.9 242.3h1.4v1.4h-1.4zM147.5 233.3h1.4v1.4h-1.4zM167.8 249.9h1.4v1.4h-1.4zM98.0 243.1h1.4v1.4h-1.4zM74.5 256.6h1.4v1.4h-1.4zM132.6 234.5h1.4v1.4h-1.4zM149.4 271.2h1.4v1.4h-1.4zM99.5 241.4h1.4v1.4h-1.4zM148.3 271.8h1.4v1.4h-1.4zM129.7 235.4h1.4v1.4h-1.4zM61.5 268.6h1.4v1.4h-1.4zM167.3 255.5h1.4v1.4h-1.4zM153.4 233.0h1.4v1.4h-1.4zM157.4 266.9h1.4v1.4h-1.4zM89.1 247.8h1.4v1.4h-1.4zM140.5 275.5h1.4v1.4h-1.4zM147.6 270.8h1.4v1.4h-1.4zM91.6 245.9h1.4v1.4h-1.4zM121.2 236.2h1.4v1.4h-1.4zM161.6 233.7h1.4v1.4h-1.4zM59.8 268.1h1.4v1.4h-1.4z"/>
<path fill="#7e3cf4" d="M133.4 281.5h1.4v1.4h-1.4zM121.3 297.8h1.4v1.4h-1.4zM145.7 276.7h1.4v1.4h-1.4zM149.6 288.9h1.4v1.4h-1.4zM162.3 267.9h1.4v1.4h-1.4zM151.0 274.1h1.4v1.4h-1.4zM154.2 286.8h1.4v1.4h-1.4zM151.1 272.1h1.4v1.4h-1.4zM121.5 308.6h1.4v1.4h-1.4zM133.0 280.9h1.4v1.4h-1.4zM131.1 308.6h1.4v1.4h-1.4zM117.7 300.0h1.4v1.4h-1.4zM137.8 282.6h1.4v1.4h-1.4zM164.7 269.7h1.4v1.4h-1.4zM105.4 313.2h1.4v1.4h-1.4zM134.1 290.1h1.4v1.4h-1.4zM140.8 283.9h1.4v1.4h-1.4zM147.5 283.3h1.4v1.4h-1.4zM158.9 274.9h1.4v1.4h-1.4zM153.8 291.6h1.4v1.4h-1.4zM104.1 313.1h1.4v1.4h-1.4zM159.0 268.8h1.4v1.4h-1.4zM147.4 279.1h1.4v1.4h-1.4zM144.3 275.0h1.4v1.4h-1.4zM156.9 272.0h1.4v1.4h-1.4zM151.6 283.1h1.4v1.4h-1.4zM148.0 285.7h1.4v1.4h-1.4zM135.5 281.9h1.4v1.4h-1.4zM114.0 310.4h1.4v1.4h-1.4zM97.8 316.3h1.4v1.4h-1.4zM145.8 298.9h1.4v1.4h-1.4zM155.2 278.0h1.4v1.4h-1.4zM140.0 292.8h1.4v1.4h-1.4zM128.4 290.2h1.4v1.4h-1.4zM167.0 262.8h1.4v1.4h-1.4zM136.4 285.9h1.4v1.4h-1.4zM121.3 297.2h1.4v1.4h-1.4zM127.4 287.3h1.4v1.4h-1.4zM116.5 304.4h1.4v1.4h-1.4zM147.3 276.9h1.4v1.4h-1.4zM126.0 297.0h1.4v1.4h-1.4zM153.4 270.5h1.4v1.4h-1.4zM111.6 308.9h1.4v1.4h-1.4zM154.2 274.3h1.4v1.4h-1.4zM155.0 283.1h1.4v1.4h-1.4zM122.7 295.4h1.4v1.4h-1.4zM146.1 285.2h1.4v1.4h-1.4zM156.7 273.4h1.4v1.4h-1.4zM111.9 308.1h1.4v1.4h-1.4zM158.1 277.8h1.4v1.4h-1.4zM122.7 292.0h1.4v1.4h-1.4zM115.3 308.4h1.4v1.4h-1.4zM156.5 270.2h1.4v1.4h-1.4zM125.1 291.4h1.4v1.4h-1.4zM157.1 279.5h1.4v1.4h-1.4zM112.1 311.2h1.4v1.4h-1.4zM138.0 287.2h1.4v1.4h-1.4zM132.4 282.8h1.4v1.4h-1.4zM119.4 297.1h1.4v1.4h-1.4zM162.6 266.1h1.4v1.4h-1.4zM155.3 276.0h1.4v1.4h-1.4zM130.6 285.6h1.4v1.4h-1.4zM143.0 286.7h1.4v1.4h-1.4zM166.9 262.6h1.4v1.4h-1.4zM136.1 280.3h1.4v1.4h-1.4zM90.7 317.9h1.4v1.4h-1.4zM155.1 288.9h1.4v1.4h-1.4zM160.5 268.7h1.4v1.4h-1.4zM124.6 292.1h1.4v1.4h-1.4zM143.5 293.9h1.4v1.4h-1.4zM121.7 302.9h1.4v1.4h-1.4zM157.1 269.3h1.4v1.4h-1.4zM142.5 284.2h1.4v1.4h-1.4zM90.1 318.7h1.4v1.4h-1.4zM118.1 305.4h1.4v1.4h-1.4zM167.3 264.5h1.4v1.4h-1.4zM90.6 318.5h1.4v1.4h-1.4zM160.7 269.5h1.4v1.4h-1.4zM136.3 290.5h1.4v1.4h-1.4zM156.1 291.0h1.4v1.4h-1.4zM167.9 262.6h1.4v1.4h-1.4zM130.4 308.6h1.4v1.4h-1.4zM142.9 299.4h1.4v1.4h-1.4zM125.3 301.0h1.4v1.4h-1.4zM145.6 273.3h1.4v1.4h-1.4zM152.4 279.2h1.4v1.4h-1.4zM119.7 298.5h1.4v1.4h-1.4zM133.6 293.3h1.4v1.4h-1.4zM124.0 295.4h1.4v1.4h-1.4zM133.1 305.5h1.4v1.4h-1.4zM107.3 311.9h1.4v1.4h-1.4zM149.2 274.5h1.4v1.4h-1.4zM147.0 295.3h1.4v1.4h-1.4zM95.0 316.0h1.4v1.4h-1.4zM140.7 285.5h1.4v1.4h-1.4zM138.5 280.7h1.4v1.4h-1.4zM130.9 283.7h1.4v1.4h-1.4zM161.4 267.7h1.4v1.4h-1.4zM142.6 293.5h1.4v1.4h-1.4zM146.3 273.7h1.4v1.4h-1.4zM121.4 303.4h1.4v1.4h-1.4zM146.0 283.6h1.4v1.4h-1.4zM168.3 259.5h1.4v1.4h-1.4zM122.8 302.1h1.4v1.4h-1.4zM151.6 281.3h1.4v1.4h-1.4zM156.4 269.6h1.4v1.4h-1.4zM130.1 289.8h1.4v1.4h-1.4zM117.1 301.8h1.4v1.4h-1.4zM101.2 314.4h1.4v1.4h-1.4zM148.1 288.2h1.4v1.4h-1.4zM135.8 280.2h1.4v1.4h-1.4zM130.5 301.6h1.4v1.4h-1.4zM118.2 309.4h1.4v1.4h-1.4zM142.1 296.0h1.4v1.4h-1.4zM145.5 296.4h1.4v1.4h-1.4zM123.8 289.2h1.4v1.4h-1.4zM161.5 269.9h1.4v1.4h-1.4zM154.9 272.9h1.4v1.4h-1.4zM134.6 285.4h1.4v1.4h-1.4zM112.1 311.0h1.4v1.4h-1.4zM133.1 301.8h1.4v1.4h-1.4zM125.9 287.0h1.4v1.4h-1.4zM138.1 277.8h1.4v1.4h-1.4zM114.9 309.4h1.4v1.4h-1.4zM145.9 274.6h1.4v1.4h-1.4zM115.4 306.3h1.4v1.4h-1.4zM132.4 290.8h1.4v1.4h-1.4zM126.7 289.2h1.4v1.4h-1.4zM108.8 311.1h1.4v1.4h-1.4zM153.5 280.0h1.4v1.4h-1.4zM157.9 281.1h1.4v1.4h-1.4zM167.0 263.6h1.4v1.4h-1.4zM136.1 285.6h1.4v1.4h-1.4zM132.6 288.5h1.4v1.4h-1.4zM143.8 275.9h1.4v1.4h-1.4zM138.5 279.2h1.4v1.4h-1.4zM139.0 289.5h1.4v1.4h-1.4zM165.8 266.5h1.4v1.4h-1.4zM145.1 278.6h1.4v1.4h-1.4zM121.4 292.6h1.4v1.4h-1.4zM122.9 301.1h1.4v1.4h-1.4zM131.3 283.1h1.4v1.4h-1.4zM127.7 287.6h1.4v1.4h-1.4zM127.5 303.0h1.4v1.4h-1.4zM138.4 285.5h1.4v1.4h-1.4zM137.0 288.8h1.4v1.4h-1.4zM126.3 300.6h1.4v1.4h-1.4zM117.0 300.9h1.4v1.4h-1.4zM140.8 284.2h1.4v1.4h-1.4zM139.3 281.3h1.4v1.4h-1.4zM127.8 295.3h1.4v1.4h-1.4zM116.9 309.6h1.4v1.4h-1.4zM134.6 281.4h1.4v1.4h-1.4zM96.8 316.4h1.4v1.4h-1.4zM144.5 275.6h1.4v1.4h-1.4zM113.5 308.2h1.4v1.4h-1.4zM152.9 275.7h1.4v1.4h-1.4zM143.0 275.4h1.4v1.4h-1.4zM107.8 310.7h1.4v1.4h-1.4zM140.6 275.9h1.4v1.4h-1.4zM157.4 271.9h1.4v1.4h-1.4zM147.1 273.0h1.4v1.4h-1.4zM152.2 287.4h1.4v1.4h-1.4zM105.1 312.9h1.4v1.4h-1.4zM122.1 298.9h1.4v1.4h-1.4zM149.1 271.8h1.4v1.4h-1.4zM158.0 275.6h1.4v1.4h-1.4zM164.7 269.8h1.4v1.4h-1.4zM102.5 314.0h1.4v1.4h-1.4zM132.5 291.4h1.4v1.4h-1.4zM126.5 290.3h1.4v1.4h-1.4zM133.9 280.8h1.4v1.4h-1.4zM122.3 306.9h1.4v1.4h-1.4zM165.5 264.5h1.4v1.4h-1.4zM157.3 279.0h1.4v1.4h-1.4zM113.2 309.0h1.4v1.4h-1.4zM129.9 297.8h1.4v1.4h-1.4zM134.2 289.3h1.4v1.4h-1.4zM156.9 275.9h1.4v1.4h-1.4zM147.6 286.9h1.4v1.4h-1.4zM135.5 287.7h1.4v1.4h-1.4zM134.0 285.8h1.4v1.4h-1.4zM144.2 291.6h1.4v1.4h-1.4zM148.2 276.3h1.4v1.4h-1.4zM157.9 284.3h1.4v1.4h-1.4zM125.6 298.6h1.4v1.4h-1.4zM134.8 288.2h1.4v1.4h-1.4zM135.4 278.5h1.4v1.4h-1.4zM99.8 314.9h1.4v1.4h-1.4zM150.5 283.0h1.4v1.4h-1.4zM158.4 275.7h1.4v1.4h-1.4zM139.0 294.0h1.4v1.4h-1.4zM122.1 294.6h1.4v1.4h-1.4zM166.1 268.6h1.4v1.4h-1.4zM157.9 278.6h1.4v1.4h-1.4zM115.8 305.6h1.4v1.4h-1.4zM150.5 274.7h1.4v1.4h-1.4zM93.3 317.3h1.4v1.4h-1.4zM142.4 279.4h1.4v1.4h-1.4zM165.0 264.8h1.4v1.4h-1.4zM118.3 310.5h1.4v1.4h-1.4zM121.7 302.4h1.4v1.4h-1.4zM141.4 295.8h1.4v1.4h-1.4zM139.0 286.9h1.4v1.4h-1.4zM138.3 281.8h1.4v1.4h-1.4zM128.8 286.7h1.4v1.4h-1.4zM143.4 277.7h1.4v1.4h-1.4zM92.2 318.1h1.4v1.4h-1.4zM144.7 275.4h1.4v1.4h-1.4zM118.2 304.0h1.4v1.4h-1.4zM148.7 277.2h1.4v1.4h-1.4zM127.6 300.9h1.4v1.4h-1.4zM123.3 291.8h1.4v1.4h-1.4zM125.0 291.1h1.4v1.4h-1.4zM148.2 275.7h1.4v1.4h-1.4zM121.1 306.1h1.4v1.4h-1.4zM131.9 300.2h1.4v1.4h-1.4zM169.0 257.8h1.4v1.4h-1.4zM150.2 273.4h1.4v1.4h-1.4zM153.0 272.4h1.4v1.4h-1.4zM125.8 303.2h1.4v1.4h-1.4zM160.8 272.2h1.4v1.4h-1.4zM155.1 282.6h1.4v1.4h-1.4zM122.1 291.7h1.4v1.4h-1.4zM138.1 281.3h1.4v1.4h-1.4zM132.7 283.9h1.4v1.4h-1.4zM122.6 293.9h1.4v1.4h-1.4zM145.8 284.1h1.4v1.4h-1.4zM156.3 270.7h1.4v1.4h-1.4zM151.8 271.5h1.4v1.4h-1.4zM154.0 289.3h1.4v1.4h-1.4zM141.8 299.8h1.4v1.4h-1.4zM147.0 273.1h1.4v1.4h-1.4zM116.5 305.5h1.4v1.4h-1.4zM109.4 310.6h1.4v1.4h-1.4zM121.9 301.5h1.4v1.4h-1.4zM104.8 313.0h1.4v1.4h-1.4zM165.8 269.0h1.4v1.4h-1.4zM129.6 295.1h1.4v1.4h-1.4zM101.8 239.8h1.4v1.4h-1.4zM117.9 235.7h1.4v1.4h-1.4zM164.1 265.4h1.4v1.4h-1.4zM92.7 243.7h1.4v1.4h-1.4zM167.0 269.8h1.4v1.4h-1.4zM70.2 259.6h1.4v1.4h-1.4zM165.9 264.2h1.4v1.4h-1.4zM70.7 257.8h1.4v1.4h-1.4zM138.7 230.2h1.4v1.4h-1.4zM146.7 231.1h1.4v1.4h-1.4zM149.1 230.6h1.4v1.4h-1.4zM134.2 230.9h1.4v1.4h-1.4zM104.2 237.3h1.4v1.4h-1.4zM56.9 266.6h1.4v1.4h-1.4zM168.6 253.0h1.4v1.4h-1.4zM84.5 246.2h1.4v1.4h-1.4zM153.2 270.8h1.4v1.4h-1.4zM169.4 241.6h1.4v1.4h-1.4zM79.0 249.7h1.4v1.4h-1.4zM49.8 273.0h1.4v1.4h-1.4zM169.6 247.6h1.4v1.4h-1.4zM112.8 236.5h1.4v1.4h-1.4zM81.7 249.5h1.4v1.4h-1.4zM137.7 231.7h1.4v1.4h-1.4zM54.7 268.2h1.4v1.4h-1.4zM90.3 243.0h1.4v1.4h-1.4zM145.3 274.2h1.4v1.4h-1.4zM110.5 237.1h1.4v1.4h-1.4zM75.8 253.8h1.4v1.4h-1.4zM159.9 231.5h1.4v1.4h-1.4zM90.1 244.0h1.4v1.4h-1.4zM72.6 257.8h1.4v1.4h-1.4zM107.1 236.9h1.4v1.4h-1.4zM164.2 234.7h1.4v1.4h-1.4zM119.0 232.1h1.4v1.4h-1.4zM94.2 243.0h1.4v1.4h-1.4zM89.8 245.3h1.4v1.4h-1.4zM111.8 236.8h1.4v1.4h-1.4zM64.0 262.0h1.4v1.4h-1.4zM189.2 249.4h1.4v1.4h-1.4zM173.7 261.3h1.4v1.4h-1.4z"/>
<path fill="#5e35fe" fill-rule="evenodd" d="M52.5,328.5 58.4,326.8 60.4,324.4 62.5,324.8 62.7,323.8 63.5,323.0 67.2,324.5 67.4,323.3 69.2,321.7 70.3,321.9 76.5,320.7 77.5,322.0 78.0,321.7 78.1,320.7 78.6,320.1 79.6,319.9 81.7,320.5 82.6,317.6 83.2,316.8 86.8,316.9 89.9,317.5 91.5,318.2 91.7,317.6 90.4,315.5 91.0,314.6 93.6,314.0 95.1,312.6 96.2,312.7 98.2,314.1 100.8,313.6 101.5,312.9 102.5,310.3 103.9,309.2 106.0,310.1 109.1,310.5 110.7,307.7 110.0,306.7 110.1,305.4 110.7,305.1 111.7,305.9 112.7,304.1 114.3,303.4 115.3,301.3 116.4,300.9 117.9,301.0 118.7,300.4 118.8,294.7 120.0,293.1 121.5,292.8 123.5,291.1 121.9,289.5 122.1,288.7 123.1,288.2 124.1,288.5 124.7,288.0 124.6,287.1 123.6,287.1 123.0,285.9 124.1,284.8 125.2,286.2 125.9,285.4 125.7,283.8 124.6,282.2 125.2,281.3 127.2,282.0 128.3,281.1 129.3,280.9 130.0,280.2 130.2,278.1 130.9,277.1 133.4,275.5 136.6,276.1 136.8,274.4 137.6,273.7 138.6,273.8 139.7,274.6 140.7,273.6 141.7,273.2 145.9,274.2 146.3,273.9 145.9,272.9 146.4,271.8 147.4,271.2 148.5,272.5 151.1,272.1 152.1,273.0 152.6,273.0 152.3,271.3 154.7,269.4 155.7,267.9 159.9,266.0 162.2,266.1 162.5,265.1 164.6,263.0 164.9,261.4 166.1,259.8 167.5,255.7 167.5,254.7 166.7,253.1 165.0,253.2 164.5,252.6 165.0,251.1 166.5,250.0 166.4,249.0 167.3,247.9 167.4,246.9 167.1,245.2 165.6,245.5 165.2,244.8 165.8,242.7 165.6,240.1 164.0,238.5 161.9,239.0 160.4,236.9 158.8,236.4 157.3,236.7 155.9,234.9 154.2,233.8 152.6,234.7 150.0,235.1 148.5,236.1 145.9,235.2 145.2,236.0 144.3,236.3 143.3,235.9 142.3,234.4 141.7,234.1 139.7,234.9 137.6,234.0 136.6,235.6 134.0,235.9 132.4,235.1 131.5,235.4 130.3,236.6 127.8,236.9 125.7,238.9 124.6,238.9 123.6,238.4 121.5,239.4 120.0,238.6 118.4,238.7 115.3,239.5 113.2,240.7 109.6,241.1 106.0,242.8 103.4,242.4 101.7,243.2 101.4,244.8 100.8,245.3 98.8,245.0 97.2,244.2 97.2,245.3 96.7,245.8 94.6,246.5 93.6,246.2 92.0,248.0 90.5,248.8 90.6,250.5 89.9,251.2 88.4,251.1 87.4,250.4 84.8,251.5 83.2,253.4 80.6,254.1 78.6,256.3 78.4,257.3 78.9,258.3 78.6,259.0 76.0,258.8 74.9,259.7 73.4,260.1 73.3,260.9 74.5,262.0 74.9,263.5 72.3,263.7 71.3,264.4 71.3,264.9 72.5,265.6 72.5,266.6 71.8,267.4 70.7,267.7 68.2,270.7 65.6,271.6 64.9,271.3 64.1,269.8 63.0,269.6 62.0,270.1 59.9,270.3 58.9,271.2 56.6,271.8 56.1,272.4 56.5,273.9 55.3,276.0 55.6,277.0 57.0,278.6 57.2,280.2 55.2,283.8 55.8,284.7 56.3,284.8 56.6,287.4 53.6,289.5 56.3,289.7 57.6,291.1 57.8,292.6 56.8,294.4 56.3,294.6 55.2,294.0 54.7,294.2 55.0,294.7 54.9,298.9 56.2,299.9 56.5,303.6 54.7,305.0 52.8,305.6 53.0,306.7 53.7,307.7 53.9,310.3 53.5,311.9 54.0,313.4 51.4,317.6 53.1,319.2 51.4,321.2 52.0,322.8 51.1,327.0ZM99.8,312.5 99.3,311.9 99.8,311.3 100.5,311.9ZM107.0,308.8 106.5,308.2 107.0,307.4 107.6,307.4 108.1,308.2 107.6,308.8ZM114.3,298.6 113.7,297.8 114.3,297.1 114.9,297.8ZM139.4,278.1 139.7,278.4 140.0,277.6 139.7,277.4ZM167.4,250.0 167.6,250.4 168.1,250.3 169.2,249.5 168.7,249.3ZM144.1,233.4 144.8,232.8 144.3,232.2 143.7,232.8Z"/>
<path fill="#4062fa" fill-rule="evenodd" d="M52.1,328.0 53.2,328.5 58.4,326.6 60.4,324.2 62.0,323.8 63.5,322.8 66.6,324.4 67.7,322.6 69.2,321.4 70.3,321.6 72.9,320.5 76.5,320.5 77.5,321.8 78.6,319.8 80.1,319.7 81.7,320.3 82.4,317.6 83.2,316.5 86.3,316.6 91.5,317.7 90.6,316.6 90.2,315.0 91.5,314.0 93.2,314.0 95.5,311.9 95.6,311.2 95.9,312.4 98.2,313.9 100.8,313.5 102.1,310.3 103.9,308.9 105.5,309.8 109.1,310.4 110.4,307.7 109.7,306.2 110.1,305.1 111.7,304.6 111.8,304.1 113.8,303.6 114.3,302.0 115.8,300.7 117.9,300.8 118.5,300.4 118.5,294.7 120.0,292.8 121.5,292.7 122.3,291.6 123.3,291.1 121.6,289.5 122.1,288.2 124.1,288.1 124.6,287.6 123.1,287.2 122.7,285.9 124.1,284.5 125.2,285.9 125.7,285.4 125.7,284.1 124.4,282.2 124.6,279.8 125.7,279.9 127.2,281.3 129.3,280.7 129.8,280.2 130.0,278.1 132.3,275.5 134.0,275.1 136.2,276.0 136.6,275.7 136.6,274.4 137.6,273.6 138.6,273.6 139.7,274.4 140.7,273.4 141.7,273.1 145.9,274.0 146.1,271.8 146.9,271.0 148.3,271.3 148.5,272.0 149.0,272.1 150.9,271.8 151.6,271.0 154.7,269.3 155.1,268.2 156.2,267.4 159.9,265.8 161.9,266.0 162.2,265.1 164.0,263.5 164.5,262.9 164.7,261.4 166.1,259.5 167.3,255.7 167.2,254.2 166.6,253.3 164.5,254.0 163.9,253.6 164.2,251.0 166.0,249.5 167.2,246.9 167.1,245.6 166.6,245.5 165.6,246.8 164.7,245.8 164.8,244.3 165.6,242.8 165.6,242.1 164.3,241.7 164.0,241.2 165.1,240.1 163.5,238.9 161.9,239.9 161.4,239.8 159.5,237.0 158.3,236.7 156.8,236.9 156.2,236.5 155.7,234.9 154.2,234.2 152.6,234.9 150.0,235.3 148.5,236.3 146.4,235.6 145.9,235.6 145.4,236.3 144.3,236.5 142.5,236.0 141.7,234.3 139.7,235.2 137.6,234.2 136.6,235.9 134.0,236.0 132.4,235.3 131.2,236.0 130.9,236.9 127.8,237.0 126.2,238.9 125.2,239.4 123.6,238.8 121.5,239.7 120.0,238.9 118.4,239.0 117.4,239.5 115.4,239.6 113.2,240.9 109.6,241.4 106.0,243.1 102.9,242.7 102.0,243.2 102.1,245.3 100.8,246.8 99.8,246.7 98.9,245.3 98.2,245.2 97.8,246.4 95.6,247.6 93.6,246.5 92.0,248.3 90.7,249.0 90.8,250.5 89.9,251.4 88.4,251.3 87.4,250.5 85.1,251.6 82.9,254.2 81.1,254.2 79.5,256.8 79.6,258.3 79.1,259.1 77.5,260.0 77.0,260.1 76.0,259.6 73.9,260.5 73.7,260.9 74.9,262.6 76.0,263.2 76.0,264.0 74.9,264.7 73.4,263.9 71.8,264.0 71.3,264.6 72.7,265.6 72.5,267.2 70.8,268.1 68.5,270.8 65.6,271.9 64.6,271.3 64.3,270.3 63.5,269.7 62.2,270.3 60.4,272.0 58.4,272.2 56.8,271.8 56.2,272.4 56.3,272.9 56.8,273.2 57.8,272.5 58.4,272.7 58.6,273.9 57.8,275.0 56.8,274.1 56.3,274.4 55.6,275.5 55.6,276.5 56.8,277.7 58.2,280.2 57.3,280.6 56.7,281.7 57.4,284.8 57.0,287.4 56.3,288.3 54.2,289.0 54.1,289.5 55.8,289.2 58.5,291.1 58.8,292.1 57.5,294.2 57.3,295.4 55.2,294.9 55.2,298.4 57.2,299.4 56.5,301.5 56.8,305.1 53.0,305.6 53.1,306.7 53.8,307.7 54.2,311.6 54.6,311.9 54.1,314.0 51.5,317.6 53.2,319.2 51.5,321.8 52.1,322.8 51.2,327.0ZM58.9,282.2 58.9,281.0 59.4,281.1 60.0,282.2ZM65.1,274.6 64.8,273.4 65.6,273.1 66.1,274.1 65.6,274.7ZM99.8,312.8 99.0,311.9 99.3,311.2 99.8,311.0 100.9,311.9 100.8,312.4ZM107.0,309.1 106.4,308.2 107.0,307.1 107.6,307.1 108.2,308.2 107.6,309.1ZM114.3,299.0 113.8,298.7 113.4,297.8 113.7,296.8 114.3,296.5 114.9,296.8 115.2,297.8ZM118.9,289.9 118.6,289.0 118.9,288.8ZM121.0,285.9 120.6,285.4 120.8,284.8 121.5,284.8 121.7,285.4ZM129.3,239.1 129.8,238.0 130.9,237.1 131.4,237.0 131.7,237.5 130.9,238.6 130.3,239.1ZM136.0,237.1 136.0,236.5 136.6,236.4 136.8,237.0ZM149.0,271.2 148.6,270.8 149.0,270.1 149.4,270.8ZM151.1,237.2 151.0,236.5 151.6,236.3 151.7,237.0ZM151.9,272.4 152.1,272.8 152.1,272.0ZM143.8,232.8 144.3,233.2 144.5,232.8 144.3,232.4Z"/>
<path fill="#2884f6" fill-rule="evenodd" d="M52.1,328.0 53.2,328.4 58.4,326.6 60.4,324.2 63.5,322.7 66.6,324.1 67.3,322.8 68.7,321.4 70.8,321.1 72.3,320.1 74.4,319.9 74.9,319.1 75.6,319.2 76.1,320.2 77.0,320.7 77.5,321.6 77.8,320.2 78.6,319.5 79.6,319.3 81.7,320.2 82.4,317.1 83.2,316.2 85.8,316.3 88.9,317.2 90.3,317.1 90.4,316.6 89.9,315.7 88.8,315.0 88.9,314.5 90.5,314.5 92.0,313.6 93.1,313.7 94.7,312.4 95.6,310.6 96.2,310.5 96.5,310.8 96.2,312.4 98.2,313.8 100.6,313.4 99.3,312.7 98.9,311.9 99.3,311.0 101.3,311.4 101.9,310.2 103.9,308.8 105.9,309.8 109.1,310.2 110.3,307.7 109.7,306.7 109.7,305.6 111.2,303.8 113.8,303.2 113.7,302.0 115.8,300.6 118.5,300.4 118.2,294.7 119.5,293.0 121.5,292.5 122.1,291.6 123.2,291.1 122.1,290.5 121.5,289.5 121.6,288.5 122.5,286.4 122.1,286.0 120.5,286.1 120.4,284.8 121.5,284.4 122.6,285.8 124.1,283.9 125.2,285.6 125.7,285.1 125.6,284.3 124.4,283.3 124.5,279.6 125.2,279.4 127.2,280.5 128.9,280.7 129.8,279.7 130.2,277.6 131.9,275.5 132.9,274.9 134.5,274.7 136.0,275.3 136.8,273.9 137.6,273.5 138.6,273.5 139.7,274.2 140.7,273.3 141.7,273.0 145.9,273.9 145.7,272.9 146.0,271.8 146.9,270.9 147.9,270.8 148.5,269.4 149.0,269.2 150.5,270.8 152.6,270.3 154.7,268.8 154.7,268.5 153.1,269.0 152.7,268.7 153.0,268.2 154.7,268.0 159.9,265.7 161.9,265.7 162.1,265.1 164.2,263.0 164.9,260.9 166.1,259.3 166.3,257.8 167.1,256.2 167.2,254.7 166.6,253.6 165.0,254.2 164.0,255.8 163.5,254.8 164.0,250.5 165.6,249.5 166.0,248.4 165.7,247.4 164.5,245.8 164.5,244.3 165.2,242.7 163.5,241.7 163.3,241.2 164.0,240.1 163.8,239.6 163.0,239.5 162.0,241.2 161.4,241.3 159.3,237.2 158.3,236.9 155.8,237.0 155.1,236.5 155.8,235.4 154.2,234.4 152.5,235.4 152.1,236.0 152.1,237.0 151.1,237.7 150.5,237.0 151.3,235.4 151.1,235.3 150.0,235.4 148.5,236.3 146.4,235.9 145.4,236.6 142.8,236.9 141.7,236.4 141.7,234.8 141.2,234.6 138.6,235.5 137.6,234.3 137.1,236.0 137.2,237.0 136.6,237.5 135.5,237.4 135.4,236.0 134.0,236.0 132.4,235.4 131.4,235.9 132.0,237.0 132.0,238.0 131.0,239.1 129.8,239.6 128.7,239.1 129.2,237.5 128.3,237.0 125.5,239.6 123.6,239.2 122.1,240.2 120.0,239.3 118.4,239.3 117.9,239.6 118.5,240.6 117.9,241.2 116.9,240.6 116.4,239.6 115.8,239.6 114.8,240.5 110.7,241.7 109.1,241.7 106.0,243.2 103.2,242.7 102.3,243.2 102.4,245.3 101.3,247.0 100.3,247.3 98.2,246.6 95.6,248.0 93.6,246.7 91.0,249.2 90.9,250.5 90.5,251.2 89.4,251.5 88.4,251.4 87.4,250.8 86.3,251.0 85.4,251.6 84.2,253.6 83.2,254.5 81.1,254.9 79.6,258.8 77.2,260.9 77.0,262.3 75.9,264.6 74.4,264.8 72.9,264.0 71.7,264.6 72.3,264.8 72.8,265.6 72.7,267.2 70.8,268.5 68.7,271.2 67.6,271.3 65.8,272.4 66.4,273.9 66.1,274.6 65.1,274.8 64.4,273.9 64.4,273.4 65.4,272.4 63.5,269.8 61.8,271.3 61.5,272.5 59.1,272.9 58.4,275.3 57.8,275.5 56.8,274.6 56.3,274.6 55.7,275.5 55.8,276.7 56.8,276.6 57.3,277.0 57.4,278.6 59.0,279.6 60.5,282.2 60.4,282.8 59.4,282.9 58.1,282.2 58.1,281.2 57.3,281.1 57.7,285.4 57.2,288.0 56.8,288.5 54.6,289.0 56.3,289.2 57.3,290.2 58.9,290.6 59.2,292.1 57.8,294.2 58.4,295.8 58.4,296.8 57.8,297.0 56.8,296.1 55.8,295.9 55.4,296.3 55.4,297.8 55.8,298.3 57.3,298.5 57.9,299.4 56.6,302.0 57.1,305.1 56.3,305.8 53.1,305.6 53.2,306.7 53.9,307.7 54.2,310.5 55.3,311.4 55.3,311.9 51.6,317.6 52.7,318.3 53.2,319.2 51.5,321.8 52.1,322.8 51.3,327.0ZM106.5,308.9 106.2,308.2 106.5,307.3 107.0,306.6 107.6,306.8 108.4,308.2 107.6,309.2ZM113.8,299.1 113.4,298.4 113.4,296.8 114.3,296.0 115.3,296.0 115.6,296.8 115.0,298.9 114.3,299.3ZM119.5,290.8 118.3,289.5 118.4,288.5 118.9,288.0 119.7,290.0ZM145.4,269.8 145.4,269.0 145.8,269.2ZM163.5,257.5 163.0,257.3 163.5,256.4 163.9,256.8ZM114.8,294.7 115.3,294.4 115.3,295.0ZM56.5,272.4 56.8,272.7 57.2,272.4ZM74.9,262.0 75.4,262.2 76.2,261.4 76.4,260.9 76.0,260.2 74.9,260.3 74.1,260.9Z"/>
<path fill="#0ea5ef" fill-rule="evenodd" d="M52.1,328.0 53.2,328.4 57.3,326.6 58.4,326.5 60.4,324.1 63.0,322.7 63.5,322.5 66.6,323.7 67.4,322.3 68.7,321.1 70.3,321.0 73.9,319.5 74.9,318.6 76.0,319.0 77.0,320.2 78.0,319.3 79.6,319.0 81.1,319.9 81.7,319.7 82.7,315.8 86.3,316.1 88.4,317.1 89.3,317.1 89.8,316.6 88.4,315.0 88.5,314.5 89.4,314.1 90.5,314.3 92.0,313.3 93.6,313.1 94.6,312.2 95.6,310.2 96.8,310.3 96.5,312.4 97.0,312.9 98.2,313.6 99.1,313.4 98.8,310.7 100.9,310.8 101.8,309.8 103.5,308.8 103.9,307.4 104.4,307.1 104.7,307.7 104.4,308.8 105.5,309.4 106.4,309.3 106.2,307.7 106.5,306.4 107.0,306.1 108.4,307.7 108.3,308.8 107.5,309.8 108.6,310.3 109.1,310.0 110.1,307.7 109.5,305.6 111.2,303.3 112.8,303.0 113.0,302.0 115.3,300.6 118.3,300.4 118.4,298.4 117.6,294.7 119.8,292.1 118.3,290.0 118.2,288.5 118.9,287.6 119.4,288.0 120.3,290.6 120.1,292.1 121.5,292.2 122.0,291.1 121.2,289.5 121.6,286.9 120.2,286.4 120.2,284.8 121.0,284.1 122.6,284.6 123.9,283.3 124.0,280.2 124.6,279.2 127.2,280.1 129.2,280.2 129.4,278.6 131.5,275.5 132.4,274.8 134.0,274.4 135.0,273.4 136.0,274.1 138.1,273.3 139.7,274.0 141.2,272.9 145.7,273.4 146.1,271.3 147.4,270.3 146.9,269.8 145.9,270.3 144.8,269.9 144.4,268.2 144.8,268.0 146.9,269.2 148.5,267.9 149.0,268.0 150.5,269.9 151.6,269.8 151.0,268.7 151.6,267.9 156.6,267.2 158.3,266.1 161.9,265.2 163.0,264.0 164.2,262.5 164.6,260.9 166.1,259.0 166.3,257.3 167.1,255.7 167.1,254.4 166.6,253.8 166.1,254.0 165.0,254.7 165.0,255.7 164.0,257.5 163.5,257.9 162.6,257.3 163.3,255.7 163.5,250.5 165.0,249.5 165.6,248.4 164.3,245.8 164.5,242.7 163.0,241.8 161.1,241.7 158.8,237.2 155.7,237.4 153.1,235.7 152.6,236.0 152.2,237.5 151.6,238.0 150.5,237.9 150.0,235.8 149.0,236.4 146.9,236.3 143.8,237.0 142.8,237.8 140.8,236.5 141.2,235.1 140.7,234.9 139.7,236.0 138.1,236.2 137.1,237.6 134.0,238.8 133.3,238.6 133.2,238.0 134.5,237.3 135.0,236.5 132.4,235.6 131.9,236.0 132.7,238.0 130.9,239.6 129.3,239.9 128.5,239.6 128.0,238.6 128.5,238.0 128.3,237.4 127.8,237.8 127.3,239.1 125.2,239.9 123.6,239.7 122.6,240.9 120.0,240.3 118.4,241.6 117.9,241.6 116.6,241.2 115.8,240.2 115.3,242.1 114.3,241.1 112.6,241.2 111.5,241.7 111.2,243.2 110.5,242.2 109.6,241.9 107.0,242.8 106.0,243.6 103.4,242.9 102.6,243.8 102.7,245.8 101.3,247.5 100.3,247.7 98.2,246.9 96.2,248.4 95.1,248.1 93.6,246.9 92.3,248.4 92.3,249.5 90.5,251.4 89.4,251.7 86.8,251.0 85.9,251.6 85.4,252.6 85.8,253.0 86.8,253.0 86.8,254.0 84.2,254.3 82.7,255.4 81.7,255.1 81.1,255.5 79.8,258.8 77.7,260.9 78.0,263.0 75.4,265.1 72.8,264.6 73.2,265.6 72.9,268.0 71.3,268.4 70.8,269.0 69.7,270.8 70.2,271.3 69.8,272.5 67.5,271.8 66.5,272.9 66.5,274.4 66.1,275.0 65.1,275.1 63.9,273.4 64.6,272.4 64.1,271.3 64.1,270.3 63.5,270.2 62.1,271.8 63.1,273.4 62.5,273.8 59.9,273.3 58.9,275.3 57.8,276.4 57.8,278.6 58.4,278.9 59.4,278.7 59.9,279.1 60.0,280.7 60.9,282.2 60.4,283.5 58.4,282.9 57.8,283.3 58.2,285.9 57.6,289.0 57.8,289.5 59.4,290.2 59.7,291.1 59.4,292.6 58.1,294.2 59.1,296.3 58.4,299.4 56.8,302.0 57.4,305.1 56.3,306.1 53.9,305.6 53.2,305.9 54.0,307.7 54.5,310.3 55.7,311.4 54.6,314.0 51.7,317.6 53.3,319.2 53.2,319.8 51.6,321.8 52.1,322.8 51.3,327.0ZM70.8,271.4 70.4,271.3 70.9,270.8 71.5,270.8 71.5,271.3ZM98.8,308.4 98.8,307.7 99.3,307.7 99.8,308.2 99.3,308.7ZM105.5,305.1 104.9,304.6 105.5,304.1 106.1,304.6ZM113.8,299.4 113.2,298.4 113.1,296.8 114.2,295.2 114.3,294.0 114.8,293.4 115.3,293.5 116.2,294.7 116.1,296.8 115.3,299.1 114.3,299.7ZM145.4,265.8 145.2,265.1 145.9,264.9 145.9,265.6ZM150.5,265.9 150.2,265.1 150.5,264.6 151.1,264.6 151.4,265.6ZM56.2,297.8 56.8,297.6 56.8,296.9 56.2,296.8 55.9,297.3ZM55.7,276.0 55.8,276.4 56.7,276.0 57.0,275.5 56.7,275.0 56.3,274.8Z"/>
<path fill="#0dc2e8" fill-rule="evenodd" d="M52.1,328.0 53.2,328.3 57.3,326.5 58.4,326.5 60.4,324.0 63.0,322.5 66.3,323.3 68.7,320.8 70.8,320.5 73.7,319.2 74.4,318.4 75.4,318.3 77.0,319.4 79.6,318.6 81.1,319.2 82.2,315.1 82.7,314.9 83.7,315.5 86.3,315.4 87.5,316.6 88.9,316.9 89.2,316.6 89.1,316.0 87.6,315.0 88.0,314.5 88.9,313.9 90.5,314.0 92.0,312.9 93.6,312.8 94.6,311.9 95.1,310.3 95.6,310.0 97.2,310.0 98.2,309.6 99.1,310.3 100.3,310.6 103.0,308.8 103.6,307.2 104.4,306.6 105.2,307.2 104.9,308.8 105.5,309.1 106.0,308.8 106.0,306.2 104.7,305.1 105.0,303.9 106.2,304.1 108.3,306.7 108.6,307.7 108.2,309.3 108.4,309.8 109.1,309.7 109.8,308.2 109.3,305.6 111.0,303.0 111.2,301.6 112.7,301.6 114.2,300.4 113.1,298.9 112.8,296.8 113.7,295.2 113.7,294.2 114.8,292.8 115.3,292.8 116.9,294.3 118.8,293.2 119.1,292.1 117.9,289.6 118.0,288.5 118.4,287.6 119.5,287.1 120.5,289.4 121.2,287.4 119.8,286.9 120.0,284.8 120.5,284.1 122.6,284.1 123.5,283.3 124.1,279.4 125.2,278.9 126.7,279.7 128.5,279.6 131.4,274.8 133.4,274.2 134.5,272.9 136.0,273.7 138.1,273.1 139.7,273.5 140.7,272.8 142.8,272.8 143.8,272.3 145.4,272.9 145.7,271.3 145.5,270.8 143.8,269.1 142.8,270.1 142.5,269.2 143.2,268.2 144.3,267.5 144.8,267.4 146.9,268.7 148.5,267.4 150.0,268.5 151.6,267.1 152.6,267.5 156.2,267.1 157.8,265.8 161.9,264.7 162.4,263.3 164.0,262.2 164.1,260.9 165.6,259.6 165.9,258.8 166.1,257.3 165.6,256.4 165.0,256.5 163.5,258.4 162.2,257.3 162.8,255.7 163.4,252.1 163.1,250.5 163.5,249.9 165.0,249.1 165.3,248.4 164.0,245.8 164.2,243.2 163.9,242.7 163.0,242.1 161.4,242.2 160.9,241.9 160.4,240.5 159.3,239.6 158.8,237.5 158.3,237.3 155.7,238.0 153.1,236.2 152.1,238.0 151.1,238.4 150.0,238.1 149.5,236.6 144.3,237.1 143.2,238.0 142.2,238.3 141.2,237.5 138.6,236.6 137.1,237.9 133.1,239.6 133.1,240.6 132.4,241.2 131.4,240.0 129.3,240.2 127.2,239.7 124.1,240.2 123.1,241.7 120.5,241.0 118.9,242.0 116.4,241.6 114.8,243.7 114.1,241.7 113.2,241.2 112.1,241.7 111.9,242.2 112.3,243.2 111.7,243.6 110.7,243.3 109.6,242.3 109.1,242.4 107.0,243.6 107.0,244.4 106.5,244.9 105.0,244.8 104.1,243.2 103.4,243.2 102.9,244.3 103.3,245.8 102.1,247.4 101.3,247.8 99.8,248.1 98.6,247.4 97.7,247.4 96.7,248.9 94.6,248.2 93.6,247.3 93.1,247.5 92.8,248.4 93.3,249.5 93.1,250.0 91.5,250.7 89.9,251.9 88.1,252.1 86.8,254.4 84.8,254.5 83.7,255.2 83.4,256.2 83.5,256.8 84.8,257.4 84.8,258.5 84.2,258.7 83.6,258.3 83.1,256.8 81.7,255.6 80.1,258.8 78.1,260.9 78.1,262.0 78.8,263.0 78.6,263.9 78.0,264.4 77.0,264.3 75.4,265.4 73.9,265.5 73.2,267.2 73.7,268.7 73.4,269.0 71.8,268.7 71.1,269.2 71.1,269.8 72.0,270.3 71.9,271.8 70.8,272.2 69.8,273.3 67.7,272.6 67.2,272.9 66.4,275.0 65.6,275.4 63.5,274.1 60.9,273.9 60.4,273.9 59.4,275.5 59.4,276.5 60.7,278.1 60.2,280.2 61.3,282.2 60.4,284.3 59.9,284.3 58.9,283.4 58.4,283.4 58.1,283.8 58.4,285.1 59.0,285.9 57.9,288.0 58.9,289.1 60.9,287.4 61.9,287.4 62.3,288.0 60.7,290.0 60.1,292.1 58.6,294.2 59.7,296.3 58.8,299.4 57.1,302.0 57.5,305.6 55.8,306.8 54.2,306.1 53.5,306.2 54.7,310.2 56.2,311.4 54.8,314.0 53.2,315.6 51.9,317.6 53.4,319.2 53.2,320.1 51.6,321.8 52.1,322.8 51.4,327.0ZM98.2,250.1 98.2,249.0 99.1,249.0 98.9,250.0ZM98.8,309.2 98.4,307.7 98.8,307.3 99.3,307.4 100.2,308.2 100.1,308.8ZM109.6,301.0 108.6,300.5 108.6,299.9 109.1,299.7 109.6,300.0 109.9,300.4ZM139.7,271.0 139.1,270.3 139.3,269.8 140.6,269.8 140.8,270.3 140.2,271.1ZM141.2,239.7 141.2,239.4 141.6,239.6ZM142.2,240.7 141.6,240.1 141.7,239.7 142.4,240.1ZM145.4,266.1 144.8,265.7 144.9,265.1 145.9,264.6 146.4,265.6ZM150.5,266.3 149.8,265.6 149.9,265.1 150.5,264.3 151.1,264.3 151.7,265.1 151.7,266.1 151.6,266.5ZM161.4,261.7 160.9,260.9 161.2,260.4 162.9,260.4ZM98.2,313.4 98.9,312.9 98.4,311.4 97.7,310.9 97.0,311.4 96.7,312.4ZM117.1,300.4 118.0,300.4 118.1,299.9 117.4,296.2 116.9,296.2 116.1,297.8 115.8,299.9ZM58.3,278.1 58.9,277.6 59.1,276.5 58.4,277.3ZM62.8,272.4 63.5,272.8 64.0,272.4 63.5,271.6 63.0,271.6 62.7,271.8ZM165.7,254.7 166.1,255.2 166.8,254.7 166.6,254.2ZM132.8,237.0 133.4,237.4 134.5,236.5 132.6,236.0Z"/>
<path fill="#27dade" fill-rule="evenodd" d="M52.2,328.0 53.2,328.3 55.2,327.6 57.3,326.4 58.4,326.4 60.4,323.9 63.0,322.4 66.1,323.1 68.5,320.7 70.8,320.3 73.0,319.2 73.9,318.1 75.6,318.1 77.0,319.0 81.0,318.1 81.5,317.1 81.6,315.0 82.7,314.3 83.7,314.8 84.2,313.7 87.4,314.3 88.9,313.6 90.5,313.7 91.5,312.6 93.6,312.6 94.3,311.9 95.1,309.9 97.9,309.3 98.2,307.2 98.8,307.0 100.6,308.2 100.3,309.2 99.3,309.8 100.3,310.3 101.0,309.3 102.4,308.8 102.8,308.2 104.2,306.2 104.5,304.1 105.0,303.5 106.5,303.9 108.6,306.5 110.7,302.5 110.1,301.6 108.6,301.2 108.3,299.9 108.6,299.4 109.1,299.3 111.7,301.2 113.3,300.9 113.6,300.4 112.5,296.8 113.3,295.2 113.3,294.2 115.8,290.9 117.7,291.6 118.4,292.7 117.7,289.5 118.0,288.0 119.5,286.4 120.0,284.3 121.0,283.7 122.6,283.7 123.6,282.8 123.5,280.2 124.1,279.1 125.2,278.6 126.7,279.4 127.8,279.4 129.8,277.4 131.3,273.9 133.3,273.9 134.5,272.5 136.6,273.4 138.6,272.8 139.4,271.8 138.8,269.8 139.7,269.2 141.7,269.1 142.8,267.9 144.8,266.7 146.4,268.3 147.2,268.2 148.5,267.0 150.0,267.8 150.5,267.2 149.5,265.6 149.9,264.6 150.5,264.1 151.6,264.3 152.3,266.6 153.1,267.1 156.2,266.8 156.8,266.5 157.1,265.6 156.2,265.1 155.7,264.0 157.8,261.9 158.3,262.2 158.4,263.0 157.7,264.0 157.7,265.1 159.9,265.1 161.2,264.6 161.2,263.5 160.1,262.5 160.1,260.9 159.9,260.7 158.3,261.4 158.1,260.4 158.8,259.6 161.4,259.8 162.7,259.4 162.8,258.8 161.8,257.3 163.2,252.1 162.7,250.5 163.0,249.9 165.0,248.4 163.7,245.8 163.9,243.8 163.5,242.8 160.7,242.2 160.0,240.6 158.8,239.6 158.7,238.0 158.3,237.7 156.8,238.0 155.7,239.1 154.7,237.5 153.1,237.1 152.6,238.3 150.0,239.0 149.3,237.0 147.9,237.0 146.9,237.7 144.3,237.3 142.4,239.1 143.3,240.6 142.2,241.2 140.4,239.6 140.4,238.0 138.6,237.3 135.8,238.6 135.0,239.6 134.0,239.9 133.3,241.2 132.4,241.8 131.9,241.7 130.9,240.4 128.3,240.5 126.7,240.1 124.3,240.6 123.7,242.2 123.1,242.4 121.0,241.6 120.0,241.6 118.9,243.2 118.0,242.2 116.9,242.0 114.3,245.0 113.8,244.8 113.3,243.8 113.7,242.2 113.5,241.7 112.8,241.7 112.6,242.2 113.2,243.2 112.7,243.8 111.2,243.9 109.6,242.8 109.1,242.9 107.0,245.3 105.5,245.3 104.9,245.8 104.4,248.1 103.9,248.4 103.4,247.6 102.9,247.5 100.2,248.4 98.8,250.6 98.2,250.7 97.2,249.6 96.2,249.4 93.6,247.8 93.4,248.4 94.2,250.0 93.7,250.5 91.5,251.0 89.9,252.2 88.4,252.5 87.6,254.2 86.8,254.7 85.3,254.7 84.1,255.2 84.0,256.2 85.3,257.3 84.8,259.3 83.7,259.1 82.8,258.3 82.3,256.8 81.7,256.2 80.3,258.8 78.3,260.9 78.5,262.0 79.1,262.6 80.5,263.0 79.2,264.0 78.6,265.5 77.0,265.0 73.9,266.1 73.6,267.2 74.5,268.7 72.9,269.9 72.3,272.1 69.8,273.8 67.7,273.1 66.6,275.2 65.6,275.7 65.1,275.7 63.5,274.5 61.5,274.5 60.3,275.5 60.4,276.5 61.2,278.1 60.7,280.7 61.6,282.2 60.3,286.4 58.9,287.0 58.4,288.0 58.9,288.3 59.4,288.1 60.4,286.6 60.9,286.5 62.5,287.0 63.7,288.5 61.7,289.5 61.0,292.1 59.6,293.7 60.4,295.5 62.1,296.3 60.9,296.5 59.9,297.1 59.5,298.9 57.9,301.0 57.3,302.5 58.0,305.1 57.0,306.7 56.8,308.0 56.3,308.4 54.7,307.1 54.2,307.0 54.9,309.8 56.3,310.9 57.5,311.4 55.8,312.5 55.0,314.0 53.7,315.1 52.2,317.1 52.1,317.6 53.4,319.2 53.2,320.4 52.1,321.0 51.7,321.8 52.2,322.8 51.5,327.0ZM91.0,255.8 90.7,255.2 91.6,255.2ZM144.8,266.6 144.6,265.1 145.9,264.3 146.9,265.6ZM154.2,261.1 153.6,260.5 153.7,259.9 155.2,258.9 156.1,257.3 156.8,257.0 157.1,257.3 156.8,258.9ZM157.8,256.4 157.8,256.1 158.2,256.2ZM88.1,316.6 88.6,316.6 88.5,316.0 87.9,315.9ZM97.7,312.9 98.2,313.1 98.6,312.4 98.2,311.6 97.7,311.3 97.1,311.9 97.1,312.4ZM108.9,308.8 109.1,309.1 109.5,308.2 109.1,307.6ZM116.6,298.9 116.9,299.3 117.4,298.9 117.4,298.0 116.9,297.6ZM140.9,272.4 142.2,272.3 142.3,271.3 141.7,270.7 140.8,271.3 140.6,271.8ZM164.5,259.9 165.7,258.8 165.6,257.1 165.0,257.1 163.8,258.8 163.8,259.4ZM103.4,244.3 103.9,244.5 103.9,243.9ZM133.0,236.5 133.4,236.9 133.9,236.5Z"/>
<path fill="#40ecd4" fill-rule="evenodd" d="M52.2,328.0 53.7,328.1 55.2,327.6 57.3,326.3 58.4,326.3 60.4,323.9 63.0,322.2 66.1,322.9 68.2,320.6 71.3,319.9 72.4,319.2 73.4,317.9 76.0,318.0 77.0,318.7 80.6,317.4 81.1,316.6 80.8,315.0 83.7,313.3 87.4,313.9 88.9,313.3 90.5,313.3 91.0,312.2 93.6,312.3 94.3,311.4 94.3,309.8 97.3,309.3 97.8,308.8 98.2,306.6 99.3,306.8 101.9,308.3 103.7,306.2 104.3,303.6 105.0,302.9 105.5,302.7 106.5,303.2 108.1,305.1 108.6,305.2 110.3,302.5 109.6,301.8 107.8,302.0 108.1,299.2 109.1,299.0 111.7,300.9 112.7,300.8 113.1,300.4 112.3,296.8 113.2,293.7 115.3,290.9 115.8,290.6 117.4,290.8 117.7,288.0 119.1,286.4 119.7,284.3 120.5,283.6 122.6,283.5 123.1,283.0 123.4,282.2 123.3,279.6 125.2,277.9 126.7,279.1 129.3,277.7 130.0,276.5 130.9,273.6 132.9,273.2 133.4,272.4 135.0,272.2 136.6,273.1 138.6,272.4 138.9,271.3 138.1,270.3 136.6,270.2 135.9,269.8 137.1,269.3 138.1,269.7 139.1,269.0 141.7,268.4 144.2,266.6 144.4,265.1 145.4,264.1 145.9,263.9 146.4,264.2 147.9,266.3 148.5,266.5 149.0,266.4 150.0,264.1 151.1,263.7 151.9,264.0 153.1,266.7 156.2,266.5 156.6,266.1 154.8,264.0 154.8,263.5 156.7,262.5 157.7,259.9 158.3,259.4 160.4,259.0 161.4,259.4 162.1,258.8 161.2,257.8 162.3,255.2 162.9,252.1 162.4,250.0 163.0,249.2 164.6,248.4 163.3,245.8 163.4,243.2 162.9,242.7 160.5,242.7 159.9,241.4 158.5,240.6 158.3,238.6 157.8,238.1 156.8,238.6 156.5,239.1 156.6,240.6 154.7,242.0 154.0,241.7 154.8,239.6 154.6,238.0 153.7,238.0 153.1,239.1 151.6,239.1 151.2,239.6 151.5,240.1 152.7,241.2 153.3,242.2 153.1,243.8 152.2,242.2 149.5,239.9 149.0,237.5 148.5,237.4 147.4,238.4 145.6,237.5 144.3,237.6 143.2,239.1 144.1,240.6 142.2,241.6 141.2,241.2 139.7,239.5 138.2,238.6 136.6,238.5 135.7,239.1 135.0,240.6 134.0,241.0 131.9,242.7 131.0,242.2 130.9,240.9 129.3,240.8 128.3,241.3 126.7,240.4 124.6,241.1 124.4,242.2 123.1,242.9 122.6,243.0 121.0,242.1 120.1,242.2 119.5,244.3 118.6,243.8 117.9,242.5 116.9,242.3 114.3,246.1 112.7,244.5 109.6,243.4 109.1,243.5 107.6,245.6 105.5,245.8 105.5,248.3 103.9,249.4 102.9,249.4 102.4,248.3 101.3,248.4 100.3,248.8 99.3,250.5 98.2,251.3 96.7,250.6 96.2,251.0 96.9,252.1 96.7,253.9 95.6,254.1 95.2,253.6 96.1,250.5 95.1,249.8 93.6,251.5 91.5,251.4 89.9,252.6 88.9,252.7 87.4,254.9 84.6,255.2 84.3,255.7 84.5,256.2 86.0,257.3 85.2,259.4 83.7,260.1 81.7,257.9 81.1,258.1 79.0,260.4 78.6,261.4 79.6,262.3 81.7,261.9 81.5,263.0 79.6,264.4 78.6,266.5 77.0,265.8 74.4,266.2 74.0,267.2 75.9,268.7 73.2,270.3 72.8,272.4 71.3,272.9 69.2,275.0 68.7,273.9 67.7,273.6 66.9,275.5 66.1,276.0 65.1,276.2 63.5,274.9 62.0,275.0 61.0,276.0 61.6,278.1 61.2,280.7 62.0,281.7 61.4,283.8 61.4,285.4 64.1,287.8 64.3,289.0 64.1,289.5 62.5,289.4 62.0,289.9 61.7,292.1 60.2,293.7 60.9,295.1 62.5,296.0 62.6,296.8 60.4,297.4 59.7,299.4 58.1,301.0 57.7,302.5 58.3,305.1 57.1,308.2 56.3,309.0 55.8,309.0 54.7,307.9 54.7,308.8 55.5,309.8 57.9,311.4 56.1,312.4 55.2,314.0 53.7,315.2 52.4,317.1 52.3,317.6 53.2,318.4 53.5,319.7 53.2,320.6 52.1,321.1 51.8,321.8 52.2,322.8 51.5,327.0ZM69.2,278.6 70.3,277.3 70.8,277.6 70.8,278.7 70.3,278.9ZM87.4,257.0 87.1,256.8 87.9,256.4 87.9,256.9ZM90.5,256.4 89.6,255.7 89.7,255.2 90.5,254.6 91.5,254.4 92.7,255.2 92.5,255.8ZM105.0,251.1 104.4,251.0 104.4,250.3 105.3,250.5ZM110.7,247.5 110.5,246.9 111.2,246.6 112.1,246.9 111.7,247.6ZM116.4,283.4 117.2,283.3 116.9,283.6ZM125.7,276.2 125.7,275.0 126.7,274.4 127.7,274.4ZM146.9,241.6 146.8,240.6 147.4,240.5 147.7,241.2ZM154.2,261.6 153.2,260.4 153.5,259.4 154.7,258.8 155.6,257.3 157.8,255.4 158.8,255.7 158.9,256.2 157.6,257.3 157.0,259.4 155.5,260.4 154.7,261.6ZM159.3,250.1 159.9,249.3 160.4,249.4 159.9,250.2ZM158.8,243.8 158.8,243.0 159.3,242.8 160.2,243.2 159.3,244.1ZM97.6,312.4 98.3,312.4 97.7,311.8ZM146.1,267.7 147.1,267.7 146.9,266.7 145.9,266.8ZM159.2,264.0 159.9,264.5 160.5,264.0ZM164.5,258.8 165.0,259.1 165.6,258.3 165.3,257.8Z"/>
<path fill="#58f8c9" fill-rule="evenodd" d="M52.3,328.0 53.2,328.2 55.2,327.6 57.3,326.2 58.4,326.1 60.4,323.7 63.0,322.1 66.1,322.7 68.2,320.4 71.3,319.7 73.2,317.6 77.5,318.1 78.2,317.6 78.6,316.6 80.2,316.6 80.4,316.0 79.5,315.0 79.6,314.2 81.1,314.3 84.2,312.8 87.9,313.4 88.7,312.9 88.7,312.4 88.0,311.9 88.8,310.8 88.6,309.8 88.9,309.2 89.9,309.0 90.6,309.3 89.7,310.8 89.9,311.1 93.1,312.0 93.9,311.4 93.0,309.3 97.2,308.9 97.7,306.3 98.8,306.3 100.8,307.4 101.9,307.6 102.9,306.7 103.8,305.1 103.6,303.0 105.0,301.7 107.0,301.8 107.7,300.4 107.3,298.9 108.1,298.4 109.1,298.5 111.4,300.4 112.6,300.4 112.8,299.9 112.2,299.1 110.9,298.9 111.0,298.4 111.8,297.8 111.8,296.3 112.6,295.2 112.6,293.7 115.3,290.5 117.2,290.0 117.5,288.0 118.9,285.9 119.7,283.8 120.5,283.3 122.2,283.3 122.9,282.8 123.1,281.7 122.7,279.6 124.4,278.1 124.8,276.0 125.7,274.4 127.2,273.7 128.3,273.9 128.4,275.0 126.7,275.9 126.5,276.5 127.2,277.4 128.8,277.6 129.4,277.0 130.1,273.9 131.3,272.4 131.4,271.3 131.9,270.9 133.4,271.7 135.0,271.8 136.6,272.8 138.1,272.4 138.5,271.8 138.1,270.9 135.5,270.7 135.0,269.2 136.6,268.7 138.1,269.0 140.6,268.2 141.1,267.7 140.2,266.1 141.7,267.3 143.3,266.9 144.0,266.1 144.4,264.6 145.9,262.9 148.5,265.8 150.0,263.6 151.3,263.0 151.1,262.0 151.5,261.4 153.0,262.0 153.6,262.9 154.2,262.6 152.9,260.9 152.8,259.4 154.5,258.3 155.2,257.2 157.8,254.8 158.8,255.0 159.3,255.7 159.3,256.2 157.8,257.8 157.8,258.9 159.3,258.7 160.9,257.1 162.0,255.2 162.6,252.1 161.9,249.0 162.3,247.9 161.5,246.9 162.2,245.8 162.4,244.4 163.0,244.2 163.0,243.3 162.4,243.1 160.9,243.8 159.3,245.2 157.3,245.3 153.2,244.8 151.6,242.6 149.5,241.0 149.0,240.8 148.5,241.1 147.4,242.4 146.6,242.2 146.1,240.6 146.9,239.1 146.1,238.0 144.8,237.7 143.7,239.1 144.7,240.6 144.6,241.2 142.2,242.0 141.2,241.7 139.7,240.3 136.6,238.9 136.0,239.3 135.5,241.0 134.0,241.7 132.8,243.2 129.8,243.2 128.8,244.0 128.1,243.8 127.2,242.4 125.7,243.7 123.6,243.8 124.0,244.8 123.6,245.4 122.1,245.1 121.5,244.3 120.2,245.3 119.5,245.3 118.2,244.3 117.6,242.7 116.9,242.7 116.6,244.3 115.3,245.2 115.1,246.4 114.1,247.4 113.8,249.5 113.3,249.5 112.2,248.2 110.1,248.3 109.1,247.2 107.4,246.4 106.0,246.3 106.3,247.9 105.8,249.5 107.7,251.0 107.9,251.6 107.6,252.0 104.4,251.7 103.4,250.3 102.4,249.9 101.9,248.8 100.8,248.8 98.9,251.6 97.7,252.6 97.7,254.4 95.1,254.7 94.1,252.8 92.5,253.1 93.4,255.7 93.1,256.3 91.8,256.8 91.5,258.3 90.5,258.8 89.9,258.6 90.0,257.3 89.4,256.5 88.9,256.6 88.4,257.4 86.3,257.9 84.8,261.2 82.7,261.0 82.2,263.5 80.0,264.6 79.5,265.6 79.7,267.2 79.4,267.7 78.6,268.1 77.5,266.8 76.4,266.6 75.8,267.2 76.2,267.7 77.0,268.4 78.1,268.2 78.3,268.7 74.0,270.3 73.4,271.3 73.7,272.9 71.3,273.3 70.6,273.9 70.4,275.5 72.1,277.0 71.3,279.1 70.8,279.5 68.2,279.3 67.4,278.6 69.3,277.0 68.3,276.0 68.2,274.2 67.7,274.4 67.3,276.0 65.5,277.0 66.2,278.1 65.6,278.4 62.8,277.6 63.3,276.0 62.0,275.8 61.7,276.5 62.4,277.6 61.9,280.2 62.5,281.7 61.9,283.8 63.7,284.3 63.2,285.9 64.6,287.1 64.7,290.0 64.1,290.7 63.0,290.2 62.5,290.5 62.0,292.9 60.8,293.7 60.9,294.4 62.9,295.8 63.1,296.8 62.5,297.4 60.7,297.8 60.2,299.4 58.9,300.5 58.3,301.5 58.1,303.0 58.6,305.1 57.4,308.2 56.4,309.8 58.2,311.4 57.8,311.9 56.3,312.5 52.5,317.1 52.5,317.6 53.4,318.6 53.6,319.7 53.3,320.7 52.1,321.2 51.9,321.8 52.3,322.8 51.6,327.0ZM74.9,274.0 74.2,273.4 76.5,271.5 76.8,271.8 76.6,272.9ZM115.8,283.9 115.7,283.3 116.9,282.6 117.8,283.3 117.4,283.9ZM147.9,262.7 147.5,262.0 147.9,261.0 148.5,260.7 149.0,261.3 149.1,262.5ZM157.3,254.3 156.7,253.6 157.3,253.3 157.7,253.6ZM158.8,251.1 158.6,250.0 159.3,248.9 160.4,248.6 161.2,249.0 160.4,250.6 159.3,251.3ZM107.8,304.1 108.6,304.1 108.9,303.0 107.9,303.0 107.5,303.6ZM153.2,265.6 153.6,266.1 155.1,265.6 153.1,263.8ZM155.3,262.0 155.7,262.5 156.2,262.2 156.5,260.9 155.7,261.0ZM79.0,261.4 79.6,261.9 80.5,261.4 81.1,260.5 82.2,259.9 82.0,258.8 81.1,258.7 79.1,260.8ZM85.3,256.2 86.3,256.3 87.0,255.7 86.4,255.2 85.3,255.2 84.8,255.7ZM88.7,254.7 90.3,254.2 92.0,252.8 92.0,252.1 91.5,251.9 90.5,253.0 88.9,253.3ZM112.4,246.4 113.2,246.8 113.4,246.4 112.7,245.4 110.1,244.0 109.6,243.9 109.2,244.3 109.3,245.3 110.1,246.3 111.7,246.0ZM120.8,243.8 121.0,244.0 121.4,243.8 121.4,243.2 120.5,242.9 120.3,243.2ZM155.0,243.2 156.2,243.5 156.8,242.7 156.8,241.9 156.2,241.7 155.7,242.0 154.9,242.7ZM126.5,242.2 126.7,242.4 127.1,241.7 126.7,241.0 125.2,241.2 125.2,241.8Z"/>
<path fill="#72febb" fill-rule="evenodd" d="M52.4,328.0 55.2,327.5 57.3,326.0 58.4,326.0 60.4,323.6 63.0,322.0 66.1,322.4 68.2,320.2 70.3,319.9 71.8,319.2 72.9,317.5 77.5,317.1 77.8,316.0 79.6,313.6 81.1,313.8 83.7,312.5 86.3,312.6 86.8,310.8 87.8,310.3 87.4,308.8 87.9,308.3 89.9,308.3 93.1,307.0 94.1,307.2 95.6,308.4 96.7,308.7 97.0,308.2 97.1,305.6 97.7,305.4 100.8,306.9 102.3,306.7 103.5,304.6 102.7,303.0 103.8,301.5 103.5,299.9 105.0,298.7 107.0,298.1 108.6,296.2 109.6,296.3 110.7,297.0 111.2,295.6 112.0,294.7 111.7,293.2 110.9,292.6 112.7,292.4 115.3,290.1 116.9,289.6 117.2,288.0 118.7,284.3 120.4,282.8 120.5,281.7 121.0,282.0 121.1,282.8 122.4,282.8 122.7,282.2 121.9,278.6 122.1,278.2 123.1,278.5 123.6,278.3 123.8,276.5 125.7,274.0 127.8,273.0 129.3,273.6 131.1,270.8 131.9,270.3 132.9,270.4 134.0,271.1 134.5,270.8 133.9,269.2 134.5,268.1 136.0,267.8 137.6,268.4 139.3,267.7 139.2,265.6 139.7,264.8 140.7,264.8 142.2,266.4 143.3,266.3 143.9,264.6 145.1,263.0 144.8,261.4 146.9,261.5 147.9,260.2 149.0,260.1 149.8,260.4 150.0,262.1 150.2,260.4 151.6,260.3 153.1,257.5 154.2,257.7 154.8,256.8 156.3,255.7 156.6,255.2 156.1,253.1 156.8,252.4 158.3,252.6 158.8,254.2 159.9,254.9 159.9,256.2 160.4,256.7 160.9,256.5 161.9,254.2 161.9,251.8 161.4,251.0 158.8,252.4 158.0,250.0 159.1,248.4 160.4,247.9 160.8,247.4 161.1,244.8 160.6,244.8 160.1,245.8 159.3,246.1 154.2,245.6 149.5,243.1 147.9,244.1 145.9,243.5 144.8,245.3 144.3,245.6 143.7,245.3 142.8,243.4 142.2,243.8 141.2,243.7 140.8,242.2 139.7,240.8 137.6,240.6 136.6,239.9 136.6,241.7 137.1,241.8 138.5,243.2 137.6,244.4 134.0,244.5 130.3,243.8 128.8,244.8 126.7,243.8 125.5,244.3 124.1,246.1 122.1,246.4 119.5,246.3 117.9,245.4 117.3,245.8 116.9,247.8 114.8,248.4 115.3,250.2 113.2,250.6 111.7,252.1 109.6,252.7 106.5,253.0 103.9,252.2 102.9,250.8 101.9,250.3 101.3,249.2 100.8,249.2 99.5,252.1 98.5,253.1 100.0,254.7 99.4,255.7 98.8,256.0 96.7,255.2 94.6,257.8 93.6,258.4 92.5,257.4 92.3,258.3 88.4,261.4 87.8,262.5 86.6,263.0 86.1,264.6 84.2,267.2 83.7,267.6 83.2,267.4 82.7,266.3 82.2,266.4 80.6,267.4 78.0,270.0 76.8,270.3 77.3,270.8 77.4,272.4 76.9,273.4 75.5,275.0 75.3,276.0 74.0,276.0 73.6,274.4 72.8,273.9 71.8,273.6 71.1,273.9 70.7,275.0 71.1,275.5 73.5,276.5 73.4,277.6 72.3,278.4 71.6,280.2 68.2,279.9 64.6,278.9 63.6,279.1 65.2,281.7 63.0,282.2 63.0,283.0 65.6,284.2 67.2,284.2 67.5,284.8 65.9,286.4 65.2,290.6 62.9,292.1 62.7,294.7 63.5,295.8 63.5,296.8 63.0,297.5 61.0,298.4 60.8,299.4 59.0,301.0 58.6,303.6 59.1,305.1 58.1,306.7 57.0,309.8 58.2,310.8 58.4,311.6 56.3,312.7 52.6,317.1 53.5,318.6 53.7,320.2 53.6,320.7 52.0,321.8 52.4,322.8 51.6,327.0ZM101.3,253.3 100.2,252.1 101.3,251.8 102.2,252.1 102.4,253.0ZM116.4,284.5 115.3,284.0 115.3,283.3 116.4,282.4 117.9,282.5 118.6,283.8 117.4,284.5ZM155.2,249.7 155.0,249.5 155.7,249.0 156.3,249.5 155.7,249.9ZM92.1,311.4 93.2,311.4 92.5,310.2 91.5,309.7 90.8,310.3 90.8,310.8ZM105.9,301.0 106.5,301.3 107.0,301.1 107.0,299.9 106.2,299.9ZM128.2,277.0 128.8,276.4 127.8,276.2 127.4,276.5ZM136.5,272.4 137.6,272.2 138.0,271.8 137.7,271.3 136.1,271.3 135.9,271.8ZM74.1,271.3 74.4,271.8 74.9,271.8 75.9,270.8 74.9,270.4ZM148.3,265.1 149.0,264.8 149.3,263.5 147.4,263.2 147.1,263.5 147.1,264.0ZM86.1,260.9 86.8,261.0 88.4,260.1 89.0,259.4 88.9,258.6 87.4,258.3 86.3,258.6 85.8,260.4ZM158.5,257.8 158.8,258.1 159.0,257.8ZM108.6,251.0 109.6,251.4 110.2,250.0 109.1,248.6 108.1,248.2 107.1,249.0ZM110.0,245.3 110.7,245.8 111.2,245.3 110.1,244.6ZM135.3,242.7 135.5,243.0 136.0,242.7 136.5,241.7 135.1,242.2ZM144.6,239.6 145.4,239.9 145.9,239.4 146.0,238.6 145.5,238.0 144.8,238.0 144.3,238.6 144.1,239.1Z"/>
<path fill="#8cfead" fill-rule="evenodd" d="M52.5,328.0 55.2,327.5 56.8,326.1 58.4,325.9 60.4,323.5 63.0,321.8 66.0,322.3 68.2,319.9 71.4,319.2 72.3,317.5 76.5,316.7 79.1,313.4 81.7,312.8 83.2,310.8 83.7,310.8 84.3,311.9 85.3,311.9 84.7,310.3 87.5,307.7 91.0,307.2 94.6,305.8 96.2,307.3 96.2,305.6 96.7,304.7 99.3,304.2 101.9,300.7 102.4,299.3 105.0,297.4 106.5,297.3 107.0,295.5 109.1,294.7 110.3,292.1 111.2,291.4 112.3,291.1 112.6,289.0 114.3,287.1 116.4,287.1 116.9,286.8 117.0,285.4 114.2,284.3 115.1,282.8 116.9,281.2 117.9,281.0 118.9,281.4 118.6,280.2 118.9,279.1 120.6,278.1 120.2,276.5 120.5,275.8 121.5,275.3 123.1,275.9 125.2,273.6 127.1,272.4 128.3,270.7 129.8,270.5 132.9,269.2 133.9,267.7 136.6,266.9 138.1,267.2 138.5,266.6 138.5,264.6 139.7,263.6 140.7,263.4 142.1,265.1 142.8,265.3 143.8,263.0 143.8,261.4 144.8,260.5 150.0,258.7 151.5,258.8 152.6,255.3 154.3,254.7 153.7,253.1 155.2,252.3 156.0,251.0 153.6,250.0 152.7,248.4 153.6,247.8 156.8,248.0 157.8,248.5 158.4,247.4 157.3,247.6 156.2,246.8 154.2,246.6 153.3,245.8 152.1,245.4 151.1,245.9 150.0,245.9 149.0,244.7 148.0,245.3 147.9,246.6 146.4,245.5 144.3,246.5 142.2,245.1 139.7,244.5 135.0,246.8 134.5,246.7 132.4,244.8 130.9,244.8 129.3,245.9 126.7,244.5 126.2,244.6 125.0,246.4 123.6,246.9 122.6,247.9 121.0,247.4 120.5,247.8 120.9,249.5 120.0,250.5 118.9,250.3 117.9,249.2 116.9,249.2 115.8,251.0 113.2,251.7 112.2,253.6 110.7,253.3 106.5,254.6 103.9,253.7 103.9,254.7 104.6,256.2 101.7,257.3 100.9,259.4 100.3,259.7 99.6,259.4 99.3,257.8 97.7,257.8 96.7,256.6 95.5,257.8 95.7,260.9 95.1,261.6 93.6,261.9 93.1,261.6 92.5,259.7 91.1,259.9 90.8,260.9 92.4,262.0 92.5,263.0 90.5,264.1 89.7,267.2 87.9,267.6 87.1,266.1 86.3,266.0 85.6,267.2 84.9,269.2 84.2,269.9 82.4,269.2 81.7,268.0 80.6,268.2 80.5,268.7 81.0,269.8 80.8,270.8 81.3,272.4 81.1,273.4 80.6,273.5 79.2,272.4 80.0,270.8 79.1,270.5 78.4,271.3 78.2,273.9 76.9,275.5 76.8,277.6 76.0,278.0 74.9,277.8 71.8,281.3 70.8,281.5 69.2,281.2 67.5,282.8 68.5,284.8 67.7,286.8 67.2,286.9 67.3,287.4 66.3,288.5 66.1,290.6 63.9,293.2 64.3,296.3 63.5,297.6 62.0,298.7 59.9,301.3 59.5,303.6 59.7,305.1 58.6,306.7 57.5,309.3 57.5,309.8 58.5,310.8 58.5,311.9 56.3,313.0 52.8,317.1 53.5,318.1 53.8,320.2 53.7,320.9 52.1,321.8 52.5,322.8 51.7,327.0ZM113.5,290.6 114.3,290.6 115.3,289.0 114.3,289.0ZM66.2,281.2 67.2,281.4 67.4,280.7 66.1,279.9 65.8,280.2ZM71.2,275.0 72.3,275.4 72.8,275.0 71.8,274.1 71.1,274.4ZM148.3,264.6 148.8,264.0 148.5,263.7 147.8,264.0ZM159.9,253.6 160.9,254.1 161.4,253.6 160.9,252.6 159.8,253.1ZM156.6,250.5 157.3,250.8 157.3,250.2ZM138.6,241.7 139.1,242.1 139.6,241.7 139.1,241.4Z"/>
<path fill="#a6f89d" fill-rule="evenodd" d="M52.6,328.0 55.0,327.5 56.8,326.0 58.4,325.7 60.4,323.4 63.0,321.7 65.6,322.2 68.2,319.7 70.9,319.2 72.3,317.1 75.0,316.6 75.8,316.0 78.6,313.1 80.1,312.2 83.7,308.7 89.1,306.2 92.4,303.6 93.6,302.0 96.7,301.3 99.8,299.7 101.3,298.1 102.9,297.4 105.0,295.0 108.1,293.6 109.1,291.6 110.7,289.5 109.9,288.0 112.2,286.5 113.2,283.6 115.5,280.7 117.8,279.1 117.8,277.0 121.5,273.8 123.1,273.8 128.3,269.7 129.8,269.3 132.9,267.2 134.7,266.6 135.5,265.0 137.3,263.0 141.7,261.3 145.5,257.8 147.1,255.2 147.5,253.6 147.3,251.6 146.4,249.8 144.3,248.4 142.2,248.5 140.2,247.7 134.0,248.1 131.9,246.6 129.8,247.4 126.2,247.6 123.5,250.0 119.9,251.6 118.9,252.6 116.9,253.3 109.1,259.9 98.2,267.7 85.4,276.5 75.4,282.8 66.8,292.1 66.5,294.2 63.2,299.9 61.2,302.5 60.4,305.1 58.4,308.2 58.0,309.8 58.7,310.8 58.7,311.9 56.3,313.3 53.3,316.6 53.1,317.1 53.6,318.1 54.0,320.7 53.7,321.2 52.4,321.8 52.5,323.3 51.8,327.0Z"/>
<path fill="#c0eb8d" fill-rule="evenodd" d="M52.1,327.5 52.7,327.9 54.7,327.5 56.8,325.8 58.4,325.5 60.3,323.3 63.0,321.5 65.6,321.9 68.2,319.4 70.6,318.6 71.8,316.8 74.2,316.0 77.5,312.8 79.6,311.6 80.6,310.2 82.2,309.4 83.7,307.7 85.8,306.2 88.4,305.2 92.5,300.8 96.7,298.7 106.5,291.1 108.1,289.5 109.1,287.0 110.7,286.3 111.7,285.3 114.0,280.7 116.3,278.6 116.3,277.0 116.9,276.3 119.1,275.0 121.5,272.6 126.7,269.9 130.9,266.0 133.4,265.6 136.6,261.0 139.0,260.4 139.7,258.8 140.7,254.7 140.8,253.6 140.2,252.4 135.8,249.5 131.9,248.6 128.3,249.1 125.2,250.3 121.0,252.9 111.2,262.4 100.7,270.3 87.4,279.0 77.5,284.8 69.8,292.6 68.7,294.5 66.6,296.2 64.4,299.9 62.0,303.1 60.9,305.6 59.0,308.2 58.6,309.8 58.9,311.9 56.6,313.4 53.7,316.5 54.1,320.7 53.7,321.4 52.6,321.8 51.9,327.0Z"/>
<path fill="#d9da7d" fill-rule="evenodd" d="M52.3,327.5 53.2,327.8 55.2,327.1 56.8,325.6 58.4,325.3 60.1,323.3 63.0,321.3 65.6,321.3 71.3,316.4 75.4,313.8 77.0,312.0 79.1,310.9 80.1,309.6 81.7,308.8 84.8,305.7 87.2,304.1 90.5,300.7 98.3,295.2 103.3,291.1 111.2,282.9 112.2,280.6 114.4,278.6 117.1,273.4 122.0,270.8 124.6,268.9 126.7,268.1 129.1,266.1 133.4,263.4 136.8,259.4 137.4,257.8 137.4,255.2 136.0,252.7 134.0,251.3 131.9,250.7 128.8,250.7 125.2,251.6 119.2,257.3 112.3,265.1 101.9,272.8 95.1,276.3 78.0,286.8 66.1,299.0 62.5,304.1 61.4,306.7 59.6,308.8 59.3,311.9 54.7,316.0 55.3,317.1 54.2,318.1 54.3,321.2 52.7,322.2 52.0,327.0Z"/>
<path fill="#f2c26b" fill-rule="evenodd" d="M52.4,327.5 53.2,327.6 55.2,327.0 56.8,325.5 58.4,325.0 59.9,323.3 62.5,321.3 64.7,320.7 72.4,314.5 74.9,313.0 76.0,311.8 78.5,310.3 79.7,308.8 83.2,306.2 89.4,299.7 99.7,292.1 106.6,284.8 113.2,275.5 116.9,268.8 119.5,268.9 123.1,267.7 128.3,265.0 132.9,261.8 134.2,259.9 135.0,257.8 134.9,255.7 134.0,254.2 132.4,253.1 129.8,252.2 127.8,252.3 125.7,253.1 121.6,257.3 118.0,262.0 116.4,265.1 115.8,268.0 110.7,270.2 103.6,275.0 99.8,276.2 95.6,278.2 79.1,287.7 66.6,300.1 63.6,304.6 62.8,307.2 60.6,309.3 59.7,311.9 56.1,316.0 55.6,317.6 54.4,318.6 54.5,321.2 52.9,322.3 52.1,327.0Z"/>
<path fill="#ffa558" fill-rule="evenodd" d="M52.6,327.5 54.9,327.0 56.3,325.5 57.9,324.9 59.9,322.9 68.7,316.5 71.8,313.7 77.8,309.8 79.4,307.7 82.3,305.6 88.6,298.9 97.7,292.1 101.6,288.0 104.2,284.3 105.4,281.2 104.8,279.1 103.4,278.4 101.9,278.3 97.2,279.4 82.7,286.8 79.6,288.8 67.4,301.0 64.2,305.1 63.1,308.2 54.8,319.2 54.9,321.2 53.2,322.5 52.7,324.3 52.3,327.0ZM121.7,264.0 123.1,264.5 125.2,264.1 131.6,260.9 132.9,258.3 132.8,256.8 132.0,255.2 130.9,254.2 129.3,253.7 127.8,253.9 126.1,254.7 122.0,260.4 121.3,262.5Z"/>
<path fill="#ff8444" fill-rule="evenodd" d="M52.6,327.0 53.2,327.1 54.6,326.4 58.4,322.5 60.4,321.6 64.1,318.4 68.7,315.5 71.3,313.0 77.0,309.1 81.7,304.7 87.9,298.0 96.7,291.2 100.7,285.9 101.4,283.8 101.0,282.2 100.3,281.7 98.8,281.5 95.1,282.3 83.7,287.5 80.4,289.5 68.2,301.7 64.8,305.6 63.8,308.2 56.6,318.6 55.2,321.8 53.6,322.8ZM127.0,259.9 128.8,260.1 130.3,259.3 130.9,257.8 130.1,256.2 128.8,255.8 127.2,256.4 126.5,258.3 126.5,259.4Z"/>
<path fill="#ff5f30" fill-rule="evenodd" d="M57.8,320.2 59.4,320.4 60.9,319.8 63.0,317.9 69.2,314.0 78.3,306.7 87.4,297.0 95.7,290.0 97.3,286.9 97.2,285.2 95.6,284.6 92.5,285.1 84.2,288.6 81.1,290.3 65.6,306.0 60.8,314.5 57.8,318.9Z"/>
<path fill="#ff3b1e" fill-rule="evenodd" d="M61.8,316.0 63.0,316.5 64.6,316.0 73.9,309.3 86.3,296.3 91.3,291.6 92.9,289.5 93.1,288.1 92.0,287.8 89.4,288.2 85.3,289.5 82.1,291.1 66.1,307.0 64.1,310.3Z"/>
<path fill="#ff1309" fill-rule="evenodd" d="M66.5,312.4 67.7,311.4 69.8,311.2 71.7,309.8 85.9,294.2 87.0,292.6 86.8,291.8 85.3,291.6 83.2,292.3 67.5,307.7 65.3,310.8 65.4,311.9Z"/>
</g>
<line x1="48.0" y1="330.6" x2="193.0" y2="185.0" stroke="#f33535" stroke-width="1.2" stroke-dasharray="5.6 4.5"/>
<rect x="48.0" y="185.0" width="145.0" height="145.6" fill="none" stroke="#333" stroke-width="1.3"/>
<path stroke="#444" stroke-width="0.8" fill="none" d="M68.7 330.6v-3M68.7 185.0v3M48.0 309.8h3M193.0 309.8h-3M89.4 330.6v-3M89.4 185.0v3M48.0 289.0h3M193.0 289.0h-3M110.1 330.6v-3M110.1 185.0v3M48.0 268.2h3M193.0 268.2h-3M130.9 330.6v-3M130.9 185.0v3M48.0 247.4h3M193.0 247.4h-3M151.6 330.6v-3M151.6 185.0v3M48.0 226.6h3M193.0 226.6h-3M172.3 330.6v-3M172.3 185.0v3M48.0 205.8h3M193.0 205.8h-3"/>
<g font-family="Liberation Sans, sans-serif" font-size="5.6" fill="#333"><text x="45.0" y="332.1" text-anchor="end">0</text><text x="48.0" y="338.1" text-anchor="middle">0</text><text x="45.0" y="311.3" text-anchor="end">10</text><text x="68.7" y="338.1" text-anchor="middle">10</text><text x="45.0" y="290.5" text-anchor="end">20</text><text x="89.4" y="338.1" text-anchor="middle">20</text><text x="45.0" y="269.7" text-anchor="end">30</text><text x="110.1" y="338.1" text-anchor="middle">30</text><text x="45.0" y="248.9" text-anchor="end">40</text><text x="130.9" y="338.1" text-anchor="middle">40</text><text x="45.0" y="228.1" text-anchor="end">50</text><text x="151.6" y="338.1" text-anchor="middle">50</text><text x="45.0" y="207.3" text-anchor="end">60</text><text x="172.3" y="338.1" text-anchor="middle">60</text><text x="45.0" y="186.5" text-anchor="end">70</text><text x="193.0" y="338.1" text-anchor="middle">70</text></g>
<g font-family="Liberation Serif, serif" font-size="9.5" fill="#1a1a1a" stroke="#1a1a1a" stroke-width="0.12"><text x="53.2" y="195.6">N = 634279</text><text x="53.2" y="206.9">R<tspan font-size="5.4" dy="-3.8">2</tspan><tspan dy="3.8"> = 0.83</tspan></text><text x="53.2" y="218.2">RMSD = 4.22</text><text x="53.2" y="229.5">rRMSD = 22.30%</text></g>
<g filter="url(#bl)">
<path fill="#5a58f2" d="M290.6 295.9h1.4v1.4h-1.4zM309.3 283.9h1.4v1.4h-1.4zM304.4 286.9h1.4v1.4h-1.4zM247.1 320.2h1.4v1.4h-1.4zM297.7 290.2h1.4v1.4h-1.4zM333.2 267.8h1.4v1.4h-1.4zM315.7 280.6h1.4v1.4h-1.4zM262.3 313.7h1.4v1.4h-1.4zM308.7 283.8h1.4v1.4h-1.4zM259.4 315.3h1.4v1.4h-1.4zM279.4 302.2h1.4v1.4h-1.4zM274.2 306.0h1.4v1.4h-1.4zM283.5 300.7h1.4v1.4h-1.4zM263.1 313.5h1.4v1.4h-1.4zM271.0 308.7h1.4v1.4h-1.4zM317.1 258.0h1.4v1.4h-1.4zM265.4 312.8h1.4v1.4h-1.4zM316.1 280.3h1.4v1.4h-1.4zM242.6 321.5h1.4v1.4h-1.4zM291.8 294.4h1.4v1.4h-1.4zM308.3 283.8h1.4v1.4h-1.4zM252.7 318.6h1.4v1.4h-1.4zM327.8 262.2h1.4v1.4h-1.4zM283.5 300.1h1.4v1.4h-1.4zM267.7 309.9h1.4v1.4h-1.4zM259.6 316.4h1.4v1.4h-1.4zM270.2 308.5h1.4v1.4h-1.4zM263.6 314.0h1.4v1.4h-1.4zM308.9 283.8h1.4v1.4h-1.4zM295.0 293.4h1.4v1.4h-1.4zM313.0 281.4h1.4v1.4h-1.4zM330.1 263.8h1.4v1.4h-1.4zM281.1 302.4h1.4v1.4h-1.4zM291.3 295.7h1.4v1.4h-1.4zM264.3 312.1h1.4v1.4h-1.4zM297.2 290.9h1.4v1.4h-1.4zM296.0 291.9h1.4v1.4h-1.4zM294.9 292.9h1.4v1.4h-1.4zM284.9 298.7h1.4v1.4h-1.4zM313.1 281.9h1.4v1.4h-1.4zM319.5 278.4h1.4v1.4h-1.4zM327.3 275.0h1.4v1.4h-1.4zM316.9 257.8h1.4v1.4h-1.4zM250.4 320.5h1.4v1.4h-1.4zM280.1 302.2h1.4v1.4h-1.4zM332.2 267.8h1.4v1.4h-1.4zM273.9 305.9h1.4v1.4h-1.4zM258.3 317.5h1.4v1.4h-1.4zM332.2 269.2h1.4v1.4h-1.4zM313.4 282.2h1.4v1.4h-1.4zM279.0 302.6h1.4v1.4h-1.4zM260.9 315.3h1.4v1.4h-1.4zM264.9 312.3h1.4v1.4h-1.4zM319.6 257.9h1.4v1.4h-1.4zM258.6 316.0h1.4v1.4h-1.4zM322.1 259.4h1.4v1.4h-1.4zM247.3 321.4h1.4v1.4h-1.4zM290.5 295.4h1.4v1.4h-1.4zM303.3 288.0h1.4v1.4h-1.4zM271.4 308.4h1.4v1.4h-1.4zM255.9 318.0h1.4v1.4h-1.4zM316.2 257.0h1.4v1.4h-1.4zM307.6 284.4h1.4v1.4h-1.4zM280.2 301.8h1.4v1.4h-1.4zM327.6 275.8h1.4v1.4h-1.4zM318.8 279.2h1.4v1.4h-1.4zM251.9 319.9h1.4v1.4h-1.4zM330.8 264.5h1.4v1.4h-1.4zM250.6 319.5h1.4v1.4h-1.4zM327.6 263.9h1.4v1.4h-1.4zM278.9 303.6h1.4v1.4h-1.4zM315.4 280.3h1.4v1.4h-1.4zM309.5 284.0h1.4v1.4h-1.4zM248.3 320.2h1.4v1.4h-1.4zM331.3 273.6h1.4v1.4h-1.4zM254.4 317.8h1.4v1.4h-1.4zM328.8 275.3h1.4v1.4h-1.4zM299.6 288.9h1.4v1.4h-1.4zM315.5 279.5h1.4v1.4h-1.4zM268.4 310.9h1.4v1.4h-1.4zM293.0 293.4h1.4v1.4h-1.4zM271.3 308.9h1.4v1.4h-1.4zM279.3 303.5h1.4v1.4h-1.4zM325.0 276.7h1.4v1.4h-1.4zM303.6 287.9h1.4v1.4h-1.4zM313.7 281.7h1.4v1.4h-1.4zM289.1 296.6h1.4v1.4h-1.4zM312.9 282.3h1.4v1.4h-1.4zM311.2 282.4h1.4v1.4h-1.4zM331.9 273.2h1.4v1.4h-1.4zM333.7 270.7h1.4v1.4h-1.4zM320.9 259.1h1.4v1.4h-1.4zM271.0 309.4h1.4v1.4h-1.4zM257.5 317.0h1.4v1.4h-1.4zM299.2 289.2h1.4v1.4h-1.4zM303.0 287.6h1.4v1.4h-1.4zM247.0 321.1h1.4v1.4h-1.4zM332.8 272.8h1.4v1.4h-1.4zM329.6 274.9h1.4v1.4h-1.4zM271.6 308.1h1.4v1.4h-1.4zM250.4 319.3h1.4v1.4h-1.4zM286.2 299.6h1.4v1.4h-1.4zM300.4 288.9h1.4v1.4h-1.4zM297.4 291.8h1.4v1.4h-1.4zM323.7 261.4h1.4v1.4h-1.4zM256.0 317.4h1.4v1.4h-1.4zM323.3 260.2h1.4v1.4h-1.4zM292.7 294.1h1.4v1.4h-1.4zM294.3 292.5h1.4v1.4h-1.4zM268.7 310.5h1.4v1.4h-1.4zM296.9 292.3h1.4v1.4h-1.4zM327.4 263.2h1.4v1.4h-1.4zM279.2 302.8h1.4v1.4h-1.4zM320.5 258.8h1.4v1.4h-1.4zM314.8 281.0h1.4v1.4h-1.4zM328.8 263.3h1.4v1.4h-1.4zM324.5 260.3h1.4v1.4h-1.4zM332.0 265.1h1.4v1.4h-1.4zM327.8 275.0h1.4v1.4h-1.4zM309.2 283.2h1.4v1.4h-1.4zM286.7 297.6h1.4v1.4h-1.4zM258.2 315.9h1.4v1.4h-1.4zM322.1 277.3h1.4v1.4h-1.4zM307.2 285.0h1.4v1.4h-1.4zM317.5 258.2h1.4v1.4h-1.4zM325.0 260.4h1.4v1.4h-1.4zM254.2 319.3h1.4v1.4h-1.4zM319.9 257.8h1.4v1.4h-1.4zM271.1 309.0h1.4v1.4h-1.4zM329.6 275.1h1.4v1.4h-1.4zM259.7 316.5h1.4v1.4h-1.4zM259.4 315.2h1.4v1.4h-1.4zM230.4 307.1h1.4v1.4h-1.4zM261.2 264.9h1.4v1.4h-1.4zM301.4 252.8h1.4v1.4h-1.4zM276.3 255.3h1.4v1.4h-1.4zM275.0 256.0h1.4v1.4h-1.4zM246.6 280.4h1.4v1.4h-1.4zM245.5 282.9h1.4v1.4h-1.4zM263.5 264.3h1.4v1.4h-1.4zM303.9 252.6h1.4v1.4h-1.4zM255.5 270.0h1.4v1.4h-1.4zM230.4 307.7h1.4v1.4h-1.4zM245.4 282.0h1.4v1.4h-1.4zM239.6 291.1h1.4v1.4h-1.4zM267.6 260.6h1.4v1.4h-1.4zM269.1 259.8h1.4v1.4h-1.4zM280.0 255.0h1.4v1.4h-1.4zM295.2 252.7h1.4v1.4h-1.4zM262.1 265.2h1.4v1.4h-1.4zM276.8 256.1h1.4v1.4h-1.4zM303.7 252.4h1.4v1.4h-1.4zM262.3 265.5h1.4v1.4h-1.4zM297.7 252.3h1.4v1.4h-1.4zM309.5 255.0h1.4v1.4h-1.4zM310.0 254.8h1.4v1.4h-1.4zM305.8 253.5h1.4v1.4h-1.4zM300.8 251.8h1.4v1.4h-1.4zM304.4 253.2h1.4v1.4h-1.4zM305.0 253.4h1.4v1.4h-1.4zM295.7 252.6h1.4v1.4h-1.4zM291.2 253.6h1.4v1.4h-1.4zM308.7 254.3h1.4v1.4h-1.4zM307.0 253.3h1.4v1.4h-1.4zM286.1 253.7h1.4v1.4h-1.4zM332.0 269.2h1.4v1.4h-1.4zM326.3 276.9h1.4v1.4h-1.4zM333.1 266.9h1.4v1.4h-1.4zM331.9 273.6h1.4v1.4h-1.4zM318.6 258.4h1.4v1.4h-1.4zM325.0 276.6h1.4v1.4h-1.4zM331.8 272.7h1.4v1.4h-1.4zM315.6 256.3h1.4v1.4h-1.4zM308.2 283.9h1.4v1.4h-1.4zM329.8 275.1h1.4v1.4h-1.4zM313.1 256.0h1.4v1.4h-1.4zM309.8 253.7h1.4v1.4h-1.4zM326.4 275.9h1.4v1.4h-1.4zM321.9 258.9h1.4v1.4h-1.4zM329.9 265.0h1.4v1.4h-1.4zM315.7 255.9h1.4v1.4h-1.4zM324.4 261.8h1.4v1.4h-1.4zM306.2 253.6h1.4v1.4h-1.4zM315.7 280.1h1.4v1.4h-1.4zM308.8 253.0h1.4v1.4h-1.4zM327.6 262.0h1.4v1.4h-1.4zM331.9 268.3h1.4v1.4h-1.4zM325.3 261.4h1.4v1.4h-1.4zM314.9 280.6h1.4v1.4h-1.4zM332.8 270.0h1.4v1.4h-1.4zM305.0 253.8h1.4v1.4h-1.4zM319.0 279.1h1.4v1.4h-1.4zM315.4 280.1h1.4v1.4h-1.4zM305.1 252.8h1.4v1.4h-1.4zM313.5 256.7h1.4v1.4h-1.4zM324.2 277.9h1.4v1.4h-1.4zM326.4 276.4h1.4v1.4h-1.4zM319.6 259.4h1.4v1.4h-1.4zM320.4 278.1h1.4v1.4h-1.4zM324.2 276.6h1.4v1.4h-1.4zM319.1 257.7h1.4v1.4h-1.4zM315.3 280.7h1.4v1.4h-1.4zM312.5 255.8h1.4v1.4h-1.4zM316.7 279.0h1.4v1.4h-1.4zM321.4 259.9h1.4v1.4h-1.4zM327.9 274.4h1.4v1.4h-1.4zM313.3 281.4h1.4v1.4h-1.4zM314.8 256.9h1.4v1.4h-1.4zM312.2 255.2h1.4v1.4h-1.4zM316.1 279.5h1.4v1.4h-1.4zM330.9 264.3h1.4v1.4h-1.4zM324.0 260.5h1.4v1.4h-1.4zM319.5 258.9h1.4v1.4h-1.4z"/>
<path fill="#7e3cf4" d="M270.9 314.1h1.4v1.4h-1.4zM321.1 258.2h1.4v1.4h-1.4zM315.6 284.7h1.4v1.4h-1.4zM306.7 292.4h1.4v1.4h-1.4zM290.2 303.0h1.4v1.4h-1.4zM317.9 283.2h1.4v1.4h-1.4zM286.0 303.3h1.4v1.4h-1.4zM283.8 301.8h1.4v1.4h-1.4zM339.5 263.9h1.4v1.4h-1.4zM278.6 310.7h1.4v1.4h-1.4zM296.3 307.5h1.4v1.4h-1.4zM328.3 287.3h1.4v1.4h-1.4zM318.7 282.3h1.4v1.4h-1.4zM318.1 256.0h1.4v1.4h-1.4zM282.5 305.4h1.4v1.4h-1.4zM265.3 314.2h1.4v1.4h-1.4zM337.1 264.4h1.4v1.4h-1.4zM325.9 260.8h1.4v1.4h-1.4zM280.5 307.0h1.4v1.4h-1.4zM297.5 294.7h1.4v1.4h-1.4zM278.4 305.2h1.4v1.4h-1.4zM259.8 317.7h1.4v1.4h-1.4zM272.9 315.7h1.4v1.4h-1.4zM264.3 314.9h1.4v1.4h-1.4zM294.1 299.0h1.4v1.4h-1.4zM306.9 287.3h1.4v1.4h-1.4zM259.5 317.2h1.4v1.4h-1.4zM317.5 255.4h1.4v1.4h-1.4zM300.9 290.3h1.4v1.4h-1.4zM289.1 299.6h1.4v1.4h-1.4zM278.9 304.8h1.4v1.4h-1.4zM329.8 277.7h1.4v1.4h-1.4zM296.9 300.0h1.4v1.4h-1.4zM262.0 317.2h1.4v1.4h-1.4zM277.5 309.3h1.4v1.4h-1.4zM264.8 313.9h1.4v1.4h-1.4zM323.2 279.2h1.4v1.4h-1.4zM249.1 322.2h1.4v1.4h-1.4zM311.1 289.7h1.4v1.4h-1.4zM337.7 254.2h1.4v1.4h-1.4zM290.0 299.5h1.4v1.4h-1.4zM290.9 298.3h1.4v1.4h-1.4zM278.6 308.0h1.4v1.4h-1.4zM270.2 313.3h1.4v1.4h-1.4zM318.2 280.6h1.4v1.4h-1.4zM290.7 300.4h1.4v1.4h-1.4zM299.8 301.0h1.4v1.4h-1.4zM265.0 316.2h1.4v1.4h-1.4zM308.9 289.1h1.4v1.4h-1.4zM296.9 295.5h1.4v1.4h-1.4zM335.4 273.1h1.4v1.4h-1.4zM314.7 282.3h1.4v1.4h-1.4zM333.2 266.2h1.4v1.4h-1.4zM304.7 287.9h1.4v1.4h-1.4zM289.8 304.2h1.4v1.4h-1.4zM335.2 274.5h1.4v1.4h-1.4zM253.5 319.7h1.4v1.4h-1.4zM306.7 291.7h1.4v1.4h-1.4zM285.8 300.3h1.4v1.4h-1.4zM320.9 280.6h1.4v1.4h-1.4zM336.1 266.3h1.4v1.4h-1.4zM317.8 256.5h1.4v1.4h-1.4zM300.1 290.7h1.4v1.4h-1.4zM263.2 316.0h1.4v1.4h-1.4zM264.3 314.4h1.4v1.4h-1.4zM324.4 282.6h1.4v1.4h-1.4zM312.7 283.2h1.4v1.4h-1.4zM315.1 281.6h1.4v1.4h-1.4zM259.7 317.5h1.4v1.4h-1.4zM298.3 292.2h1.4v1.4h-1.4zM265.6 314.4h1.4v1.4h-1.4zM285.7 312.3h1.4v1.4h-1.4zM337.6 274.7h1.4v1.4h-1.4zM334.0 258.3h1.4v1.4h-1.4zM338.9 258.7h1.4v1.4h-1.4zM299.3 295.9h1.4v1.4h-1.4zM286.4 302.7h1.4v1.4h-1.4zM304.7 289.6h1.4v1.4h-1.4zM261.6 316.9h1.4v1.4h-1.4zM296.9 294.0h1.4v1.4h-1.4zM317.0 282.4h1.4v1.4h-1.4zM288.9 298.2h1.4v1.4h-1.4zM298.6 292.0h1.4v1.4h-1.4zM327.8 282.1h1.4v1.4h-1.4zM335.3 272.9h1.4v1.4h-1.4zM282.2 302.4h1.4v1.4h-1.4zM326.6 279.0h1.4v1.4h-1.4zM306.3 287.2h1.4v1.4h-1.4zM325.6 256.3h1.4v1.4h-1.4zM328.2 260.5h1.4v1.4h-1.4zM262.7 317.4h1.4v1.4h-1.4zM275.3 312.7h1.4v1.4h-1.4zM333.0 274.7h1.4v1.4h-1.4zM277.4 315.4h1.4v1.4h-1.4zM252.8 320.0h1.4v1.4h-1.4zM277.8 306.0h1.4v1.4h-1.4zM272.5 312.2h1.4v1.4h-1.4zM320.9 280.6h1.4v1.4h-1.4zM274.4 308.6h1.4v1.4h-1.4zM310.7 287.9h1.4v1.4h-1.4zM272.6 312.5h1.4v1.4h-1.4zM316.5 284.8h1.4v1.4h-1.4zM264.2 318.5h1.4v1.4h-1.4zM321.7 255.1h1.4v1.4h-1.4zM301.4 291.5h1.4v1.4h-1.4zM333.7 262.5h1.4v1.4h-1.4zM261.5 318.4h1.4v1.4h-1.4zM337.2 270.2h1.4v1.4h-1.4zM286.8 309.3h1.4v1.4h-1.4zM327.6 278.6h1.4v1.4h-1.4zM317.4 286.3h1.4v1.4h-1.4zM318.7 285.9h1.4v1.4h-1.4zM310.2 295.3h1.4v1.4h-1.4zM334.7 261.4h1.4v1.4h-1.4zM279.4 306.9h1.4v1.4h-1.4zM326.7 290.8h1.4v1.4h-1.4zM290.3 297.1h1.4v1.4h-1.4zM321.6 258.4h1.4v1.4h-1.4zM307.1 291.8h1.4v1.4h-1.4zM287.6 310.1h1.4v1.4h-1.4zM275.7 313.9h1.4v1.4h-1.4zM337.9 268.3h1.4v1.4h-1.4zM302.4 295.2h1.4v1.4h-1.4zM332.1 263.2h1.4v1.4h-1.4zM273.6 312.0h1.4v1.4h-1.4zM309.7 284.5h1.4v1.4h-1.4zM336.7 268.2h1.4v1.4h-1.4zM286.7 302.7h1.4v1.4h-1.4zM332.6 279.8h1.4v1.4h-1.4zM305.8 296.0h1.4v1.4h-1.4zM303.0 289.0h1.4v1.4h-1.4zM335.3 273.8h1.4v1.4h-1.4zM308.5 296.7h1.4v1.4h-1.4zM295.4 307.0h1.4v1.4h-1.4zM261.3 316.7h1.4v1.4h-1.4zM319.8 279.9h1.4v1.4h-1.4zM291.6 296.8h1.4v1.4h-1.4zM334.1 274.3h1.4v1.4h-1.4zM272.4 314.0h1.4v1.4h-1.4zM327.0 256.8h1.4v1.4h-1.4zM324.2 292.7h1.4v1.4h-1.4zM334.7 281.8h1.4v1.4h-1.4zM301.7 300.8h1.4v1.4h-1.4zM306.6 287.0h1.4v1.4h-1.4zM292.3 305.8h1.4v1.4h-1.4zM298.5 294.3h1.4v1.4h-1.4zM301.4 297.0h1.4v1.4h-1.4zM329.5 283.5h1.4v1.4h-1.4zM324.5 290.8h1.4v1.4h-1.4zM333.4 265.7h1.4v1.4h-1.4zM333.3 275.8h1.4v1.4h-1.4zM275.0 308.8h1.4v1.4h-1.4zM285.1 302.2h1.4v1.4h-1.4zM327.6 254.1h1.4v1.4h-1.4zM274.9 315.6h1.4v1.4h-1.4zM312.0 286.3h1.4v1.4h-1.4zM291.3 300.8h1.4v1.4h-1.4zM330.9 279.3h1.4v1.4h-1.4zM296.5 299.6h1.4v1.4h-1.4zM300.2 290.7h1.4v1.4h-1.4zM323.5 257.7h1.4v1.4h-1.4zM300.1 290.7h1.4v1.4h-1.4zM271.9 312.2h1.4v1.4h-1.4zM299.0 293.2h1.4v1.4h-1.4zM287.6 302.6h1.4v1.4h-1.4zM248.5 322.6h1.4v1.4h-1.4zM289.2 298.4h1.4v1.4h-1.4zM273.6 314.9h1.4v1.4h-1.4zM334.3 255.2h1.4v1.4h-1.4zM284.4 302.3h1.4v1.4h-1.4zM288.1 309.7h1.4v1.4h-1.4zM300.9 291.7h1.4v1.4h-1.4zM338.1 257.0h1.4v1.4h-1.4zM309.3 291.2h1.4v1.4h-1.4zM293.4 305.9h1.4v1.4h-1.4zM331.0 276.3h1.4v1.4h-1.4zM288.3 310.5h1.4v1.4h-1.4zM330.7 282.8h1.4v1.4h-1.4zM273.8 308.8h1.4v1.4h-1.4zM283.3 313.7h1.4v1.4h-1.4zM338.2 275.8h1.4v1.4h-1.4zM304.9 295.2h1.4v1.4h-1.4zM330.0 261.6h1.4v1.4h-1.4zM295.1 294.9h1.4v1.4h-1.4zM329.4 259.8h1.4v1.4h-1.4zM273.6 309.9h1.4v1.4h-1.4zM285.0 304.8h1.4v1.4h-1.4zM292.6 297.2h1.4v1.4h-1.4zM287.8 298.8h1.4v1.4h-1.4zM304.7 288.4h1.4v1.4h-1.4zM318.1 281.5h1.4v1.4h-1.4zM308.8 298.4h1.4v1.4h-1.4zM266.3 314.4h1.4v1.4h-1.4zM324.3 277.9h1.4v1.4h-1.4zM271.8 317.6h1.4v1.4h-1.4zM297.6 298.0h1.4v1.4h-1.4zM267.5 315.6h1.4v1.4h-1.4zM325.6 255.4h1.4v1.4h-1.4zM275.7 254.2h1.4v1.4h-1.4zM240.7 286.6h1.4v1.4h-1.4zM292.3 251.2h1.4v1.4h-1.4zM228.1 309.8h1.4v1.4h-1.4zM277.4 253.6h1.4v1.4h-1.4zM249.0 277.1h1.4v1.4h-1.4zM297.7 251.2h1.4v1.4h-1.4zM241.2 283.5h1.4v1.4h-1.4zM273.0 253.6h1.4v1.4h-1.4zM295.5 251.4h1.4v1.4h-1.4zM266.8 258.2h1.4v1.4h-1.4zM264.5 261.1h1.4v1.4h-1.4zM241.4 285.8h1.4v1.4h-1.4zM327.8 250.0h1.4v1.4h-1.4zM318.8 251.9h1.4v1.4h-1.4zM285.8 251.2h1.4v1.4h-1.4zM299.9 235.2h1.4v1.4h-1.4zM308.0 247.8h1.4v1.4h-1.4zM297.4 248.4h1.4v1.4h-1.4zM300.6 234.5h1.4v1.4h-1.4zM284.1 250.4h1.4v1.4h-1.4zM300.8 250.8h1.4v1.4h-1.4zM302.0 245.9h1.4v1.4h-1.4zM299.0 240.7h1.4v1.4h-1.4zM311.6 238.1h1.4v1.4h-1.4zM313.6 252.1h1.4v1.4h-1.4zM290.9 248.8h1.4v1.4h-1.4zM299.2 250.8h1.4v1.4h-1.4zM283.0 252.7h1.4v1.4h-1.4zM320.0 246.9h1.4v1.4h-1.4zM301.0 249.4h1.4v1.4h-1.4zM293.3 245.5h1.4v1.4h-1.4zM299.2 250.7h1.4v1.4h-1.4zM293.3 236.9h1.4v1.4h-1.4zM290.7 244.3h1.4v1.4h-1.4zM297.3 248.1h1.4v1.4h-1.4zM300.5 247.8h1.4v1.4h-1.4zM314.5 248.5h1.4v1.4h-1.4zM304.0 247.6h1.4v1.4h-1.4zM324.2 247.0h1.4v1.4h-1.4zM294.6 247.8h1.4v1.4h-1.4zM316.4 240.9h1.4v1.4h-1.4zM286.9 251.1h1.4v1.4h-1.4zM290.0 248.7h1.4v1.4h-1.4zM300.1 241.1h1.4v1.4h-1.4zM315.9 236.9h1.4v1.4h-1.4zM318.2 251.9h1.4v1.4h-1.4zM298.4 245.8h1.4v1.4h-1.4zM304.4 240.3h1.4v1.4h-1.4zM316.6 245.7h1.4v1.4h-1.4zM314.8 251.9h1.4v1.4h-1.4zM314.4 237.3h1.4v1.4h-1.4zM319.2 255.2h1.4v1.4h-1.4zM337.7 276.2h1.4v1.4h-1.4zM333.7 267.1h1.4v1.4h-1.4zM335.4 270.7h1.4v1.4h-1.4zM313.6 254.4h1.4v1.4h-1.4zM332.4 274.9h1.4v1.4h-1.4zM337.2 261.7h1.4v1.4h-1.4zM334.7 269.9h1.4v1.4h-1.4zM310.9 247.0h1.4v1.4h-1.4zM323.9 258.1h1.4v1.4h-1.4zM336.5 260.9h1.4v1.4h-1.4zM327.9 255.3h1.4v1.4h-1.4zM315.6 247.1h1.4v1.4h-1.4zM306.9 250.8h1.4v1.4h-1.4zM330.6 280.0h1.4v1.4h-1.4zM332.9 273.3h1.4v1.4h-1.4zM307.3 252.6h1.4v1.4h-1.4zM308.8 251.6h1.4v1.4h-1.4zM312.2 253.8h1.4v1.4h-1.4zM317.5 283.5h1.4v1.4h-1.4zM310.1 247.9h1.4v1.4h-1.4zM343.5 261.5h1.4v1.4h-1.4zM332.8 276.0h1.4v1.4h-1.4zM320.7 279.9h1.4v1.4h-1.4zM327.7 253.5h1.4v1.4h-1.4zM333.3 267.1h1.4v1.4h-1.4zM326.4 260.2h1.4v1.4h-1.4zM330.2 275.0h1.4v1.4h-1.4zM322.5 255.1h1.4v1.4h-1.4zM312.3 284.7h1.4v1.4h-1.4zM332.5 275.9h1.4v1.4h-1.4zM333.3 274.7h1.4v1.4h-1.4zM333.8 264.4h1.4v1.4h-1.4zM331.5 274.3h1.4v1.4h-1.4zM330.9 275.3h1.4v1.4h-1.4zM307.8 252.6h1.4v1.4h-1.4zM336.4 250.9h1.4v1.4h-1.4zM329.4 262.7h1.4v1.4h-1.4zM320.1 280.6h1.4v1.4h-1.4zM316.3 252.7h1.4v1.4h-1.4zM319.9 257.3h1.4v1.4h-1.4zM337.3 263.3h1.4v1.4h-1.4zM334.6 275.6h1.4v1.4h-1.4zM312.2 254.0h1.4v1.4h-1.4zM313.0 283.6h1.4v1.4h-1.4zM339.4 260.7h1.4v1.4h-1.4zM335.9 273.1h1.4v1.4h-1.4zM323.8 279.2h1.4v1.4h-1.4zM330.9 248.7h1.4v1.4h-1.4zM327.9 260.3h1.4v1.4h-1.4zM325.3 279.5h1.4v1.4h-1.4zM334.3 260.5h1.4v1.4h-1.4zM313.7 283.9h1.4v1.4h-1.4zM323.7 259.5h1.4v1.4h-1.4zM331.8 260.5h1.4v1.4h-1.4zM327.3 278.1h1.4v1.4h-1.4zM341.7 273.0h1.4v1.4h-1.4zM334.1 261.7h1.4v1.4h-1.4zM336.8 274.2h1.4v1.4h-1.4zM313.1 247.7h1.4v1.4h-1.4zM322.3 246.6h1.4v1.4h-1.4zM329.7 281.6h1.4v1.4h-1.4zM320.1 256.1h1.4v1.4h-1.4zM324.3 278.4h1.4v1.4h-1.4zM331.8 262.5h1.4v1.4h-1.4zM335.3 259.5h1.4v1.4h-1.4zM339.4 264.7h1.4v1.4h-1.4zM313.8 283.8h1.4v1.4h-1.4zM317.3 251.5h1.4v1.4h-1.4zM334.7 264.8h1.4v1.4h-1.4zM318.4 254.9h1.4v1.4h-1.4zM326.5 279.3h1.4v1.4h-1.4zM340.3 269.5h1.4v1.4h-1.4zM322.5 278.9h1.4v1.4h-1.4zM335.7 253.7h1.4v1.4h-1.4zM316.2 254.9h1.4v1.4h-1.4zM330.0 279.8h1.4v1.4h-1.4zM336.3 279.3h1.4v1.4h-1.4zM333.1 280.0h1.4v1.4h-1.4zM327.5 255.1h1.4v1.4h-1.4zM317.3 255.7h1.4v1.4h-1.4zM306.9 251.1h1.4v1.4h-1.4zM314.4 252.4h1.4v1.4h-1.4zM330.1 252.1h1.4v1.4h-1.4zM340.2 272.3h1.4v1.4h-1.4zM309.7 252.4h1.4v1.4h-1.4zM311.9 245.8h1.4v1.4h-1.4zM315.7 251.9h1.4v1.4h-1.4zM336.2 277.4h1.4v1.4h-1.4zM319.1 256.2h1.4v1.4h-1.4zM342.3 262.9h1.4v1.4h-1.4zM337.0 268.3h1.4v1.4h-1.4zM309.0 250.9h1.4v1.4h-1.4zM310.6 247.3h1.4v1.4h-1.4zM329.3 280.3h1.4v1.4h-1.4zM352.0 266.9h1.4v1.4h-1.4zM361.6 267.9h1.4v1.4h-1.4zM337.8 279.8h1.4v1.4h-1.4zM337.6 245.2h1.4v1.4h-1.4zM328.1 235.1h1.4v1.4h-1.4zM358.1 241.9h1.4v1.4h-1.4zM314.5 248.7h1.4v1.4h-1.4zM329.3 243.0h1.4v1.4h-1.4zM338.7 279.8h1.4v1.4h-1.4zM346.1 230.9h1.4v1.4h-1.4zM351.4 249.4h1.4v1.4h-1.4zM328.3 222.5h1.4v1.4h-1.4zM343.7 255.6h1.4v1.4h-1.4zM357.6 268.6h1.4v1.4h-1.4zM338.9 265.7h1.4v1.4h-1.4zM354.7 278.8h1.4v1.4h-1.4zM330.5 261.7h1.4v1.4h-1.4zM318.8 233.7h1.4v1.4h-1.4zM348.7 278.5h1.4v1.4h-1.4zM332.8 247.0h1.4v1.4h-1.4zM346.1 240.2h1.4v1.4h-1.4zM341.3 271.1h1.4v1.4h-1.4zM331.8 261.7h1.4v1.4h-1.4zM325.0 244.4h1.4v1.4h-1.4zM334.4 224.4h1.4v1.4h-1.4zM336.9 241.2h1.4v1.4h-1.4zM346.9 235.7h1.4v1.4h-1.4zM306.7 230.0h1.4v1.4h-1.4zM351.8 265.4h1.4v1.4h-1.4zM346.4 258.6h1.4v1.4h-1.4zM356.0 279.1h1.4v1.4h-1.4zM314.6 231.9h1.4v1.4h-1.4zM321.7 224.8h1.4v1.4h-1.4zM317.5 248.2h1.4v1.4h-1.4zM340.1 268.0h1.4v1.4h-1.4zM319.9 244.6h1.4v1.4h-1.4zM321.1 238.4h1.4v1.4h-1.4zM341.9 241.2h1.4v1.4h-1.4zM331.1 238.3h1.4v1.4h-1.4zM326.5 249.4h1.4v1.4h-1.4zM323.4 251.8h1.4v1.4h-1.4zM336.8 242.0h1.4v1.4h-1.4zM345.9 267.5h1.4v1.4h-1.4zM350.0 259.2h1.4v1.4h-1.4zM356.2 261.3h1.4v1.4h-1.4zM362.5 263.3h1.4v1.4h-1.4zM358.3 255.0h1.4v1.4h-1.4zM341.7 259.2h1.4v1.4h-1.4zM352.1 252.9h1.4v1.4h-1.4zM343.8 275.8h1.4v1.4h-1.4z"/>
<path fill="#5e35fe" fill-rule="evenodd" d="M227.4,325.4 228.5,325.2 229.0,323.9 230.1,324.1 232.2,323.3 233.7,321.8 235.2,321.8 236.3,322.4 237.3,322.1 239.9,322.8 240.9,321.8 244.1,321.3 245.1,321.5 246.1,319.4 249.7,317.5 251.8,317.8 258.6,316.7 259.6,314.9 260.1,314.4 261.1,314.5 261.7,314.2 264.0,310.8 266.8,309.1 268.9,311.5 272.2,307.2 273.0,306.7 272.7,304.6 273.6,303.8 275.4,303.6 275.5,302.0 276.2,301.1 277.7,300.4 280.3,302.3 281.1,299.9 282.9,298.9 284.4,297.4 286.5,297.1 287.6,298.0 287.7,296.8 287.1,295.8 287.6,295.1 288.6,295.0 290.7,296.0 292.2,295.6 293.8,294.4 295.3,294.1 296.1,293.2 296.3,291.6 297.4,289.1 298.4,288.6 300.0,289.2 301.0,290.7 302.3,289.0 302.8,286.4 303.6,285.5 304.6,285.1 305.7,285.4 306.7,284.6 308.3,284.9 313.4,280.5 314.5,280.5 315.2,281.2 314.2,282.8 314.5,283.2 315.5,282.8 317.1,281.4 321.5,279.6 322.6,278.1 322.3,276.5 322.5,276.0 323.8,275.1 324.6,275.5 325.4,276.8 330.0,277.8 330.3,277.6 330.0,276.8 326.4,273.4 325.7,271.8 325.7,270.8 326.4,270.0 327.4,269.7 328.5,270.1 329.5,271.4 331.1,271.7 332.3,273.4 332.6,275.1 333.6,272.4 331.9,269.8 331.7,268.2 332.6,267.7 334.2,269.4 335.0,268.2 333.1,266.9 331.6,264.7 330.8,265.1 330.3,266.1 331.2,268.2 330.0,268.9 329.0,269.0 328.2,268.2 327.9,265.8 326.4,265.5 325.6,264.6 326.6,263.0 326.4,262.7 324.3,262.8 320.7,261.6 319.8,260.9 319.1,259.4 315.0,257.6 311.4,257.4 308.3,256.2 306.2,256.0 304.1,255.0 302.6,254.9 301.5,256.0 300.5,255.9 299.5,255.2 299.5,253.6 298.9,253.3 296.9,253.9 294.3,253.4 293.9,253.6 293.8,255.3 292.7,256.1 290.7,254.6 288.1,255.1 284.4,254.7 284.0,255.2 283.9,257.0 281.3,257.8 280.3,257.6 279.6,258.8 278.7,259.5 277.2,260.1 276.2,259.7 274.1,259.7 273.1,260.6 272.5,260.5 269.9,261.3 267.6,264.0 263.2,268.1 261.1,268.5 260.1,269.7 258.6,270.1 257.8,270.8 257.0,272.8 255.1,273.4 253.1,277.6 252.3,278.0 251.3,277.7 250.5,278.1 250.0,280.7 247.7,282.7 247.1,284.3 245.6,285.9 246.6,288.0 246.0,289.0 245.1,289.7 242.5,289.9 241.5,291.4 239.2,292.6 239.4,294.7 236.5,297.3 235.4,301.5 233.9,303.0 233.5,306.2 231.9,307.2 232.1,308.8 231.1,310.3 231.6,313.4 230.1,314.9 229.5,318.6 227.5,320.6 225.9,320.9 225.4,321.7 225.6,322.3 227.0,323.1 227.4,323.8ZM260.6,271.6 260.6,270.7 261.5,271.3 261.1,271.7ZM291.7,290.1 291.1,289.5 291.3,289.0 292.2,288.1 292.7,288.1 293.5,289.0 292.7,289.9ZM324.3,264.8 323.7,264.0 324.3,263.4 325.1,264.0ZM227.0,322.7 226.5,322.3 227.0,321.9 227.4,322.3ZM308.8,254.7 310.0,254.2 309.9,253.6 308.8,252.9 308.3,253.6Z"/>
<path fill="#4062fa" fill-rule="evenodd" d="M227.3,324.9 228.0,325.3 228.6,324.9 229.0,323.8 230.1,324.0 232.1,323.3 234.2,321.7 236.3,322.2 237.3,321.9 239.4,322.7 242.5,321.3 245.1,321.3 246.1,319.2 249.7,317.3 251.8,317.7 258.6,316.6 259.6,314.6 260.1,314.2 261.7,314.0 263.7,310.6 265.6,309.8 266.3,308.8 266.9,308.8 267.9,310.2 268.9,311.0 271.5,308.2 271.7,307.2 270.5,306.8 270.3,305.6 272.0,305.2 273.1,303.6 275.1,303.5 275.3,302.0 276.2,300.7 277.7,300.1 278.2,300.3 280.3,302.1 280.8,299.9 283.3,298.4 284.4,297.0 286.9,296.8 286.5,295.8 287.5,294.7 288.6,294.7 290.7,295.9 292.2,295.4 294.3,294.0 295.3,294.0 296.0,293.2 296.5,289.5 297.8,288.5 298.4,286.4 299.5,287.1 301.0,289.6 301.5,289.5 302.1,289.0 302.5,286.4 303.1,285.6 305.7,284.4 308.3,284.8 312.9,280.4 314.5,280.3 315.2,280.7 315.4,281.7 314.5,283.0 315.2,282.8 316.6,281.3 321.2,279.7 322.3,278.6 322.4,276.0 323.8,274.9 324.8,275.5 325.4,276.6 330.0,277.6 330.0,277.0 326.6,273.9 325.7,272.4 325.7,270.3 326.9,269.5 328.5,269.9 329.9,271.3 331.1,271.4 332.0,272.4 332.6,273.9 333.1,273.8 333.4,272.9 333.2,271.8 331.3,269.2 328.5,269.0 327.4,267.2 326.9,267.6 323.8,267.5 323.4,264.0 324.5,263.0 319.9,261.4 319.1,259.6 317.6,258.8 316.6,258.7 315.0,257.7 311.4,257.6 305.7,256.1 304.1,255.2 302.6,255.1 301.5,256.2 299.5,256.4 298.9,256.1 298.6,255.2 299.1,254.2 298.9,253.5 296.4,254.1 294.2,253.6 293.4,256.8 292.7,257.3 291.9,256.8 291.4,255.2 290.7,254.8 289.2,255.2 289.0,256.8 288.6,256.9 287.2,255.2 284.4,254.9 284.4,256.8 283.9,257.3 281.3,257.9 280.3,257.8 279.8,258.8 277.7,260.4 274.6,259.9 273.6,261.2 272.5,260.8 270.1,261.4 263.7,268.1 261.1,268.7 260.6,269.8 262.2,271.3 262.0,271.8 260.6,272.1 259.8,271.3 259.7,270.3 258.6,270.3 258.0,270.8 257.0,273.2 255.3,273.4 253.2,277.6 252.3,278.1 250.7,278.1 250.6,280.2 248.8,281.7 247.7,283.3 247.5,284.3 246.3,285.4 246.1,285.9 246.7,288.0 245.7,289.5 245.1,289.9 242.5,290.0 241.5,291.5 239.3,292.6 239.6,294.7 239.4,295.2 236.4,297.8 236.3,298.4 236.8,298.9 237.5,298.9 237.5,299.4 236.3,299.5 235.6,301.5 234.0,303.0 233.8,306.2 232.0,307.2 232.1,308.8 231.3,310.3 231.6,313.4 230.2,315.0 229.5,318.6 227.5,320.7 225.7,321.2 225.5,321.8 225.9,322.5 226.4,322.6 227.0,321.8 227.4,322.3 226.9,322.8 227.4,323.8ZM271.0,264.2 270.4,263.5 271.0,262.9 271.5,263.0 272.0,264.0 271.5,264.4ZM283.4,295.5 283.2,294.7 284.2,294.2 284.3,295.2 283.9,295.7ZM291.7,290.3 290.9,289.5 291.4,288.5 292.2,287.8 293.2,288.0 293.6,288.5 293.4,289.5ZM305.7,281.4 306.2,280.4 308.0,280.2 307.7,281.2 306.2,281.7ZM310.3,261.5 310.3,260.1 311.4,260.2 311.7,260.9 311.4,261.8ZM316.6,260.6 316.0,259.9 316.6,259.5 316.8,259.9ZM317.1,277.3 317.0,276.5 317.6,275.6 318.6,275.2 318.9,276.0ZM319.1,263.6 318.6,261.7 319.1,261.7 319.8,263.0 319.7,263.9ZM321.7,270.7 321.5,270.3 322.2,269.8 322.5,270.3ZM334.1,269.2 334.7,268.7 334.7,268.0 333.1,267.1 331.9,265.1 331.1,265.0 330.5,266.6 331.6,267.6 332.6,267.4ZM327.3,266.6 327.4,267.0 327.9,266.9 327.9,266.1 327.1,266.1ZM323.9,266.1 324.8,266.5 326.0,265.6 325.4,264.9 323.8,265.6ZM325.7,263.5 326.4,262.9 325.1,263.0ZM308.6,254.2 308.8,254.4 309.8,254.2 308.8,253.1Z"/>
<path fill="#2884f6" fill-rule="evenodd" d="M227.3,324.9 228.0,325.2 228.6,324.9 228.9,323.8 230.1,324.0 232.1,323.2 234.2,321.6 236.3,322.1 237.3,321.8 239.4,322.7 243.0,321.0 245.1,321.3 246.1,319.0 249.7,317.2 251.8,317.5 258.6,316.4 259.6,314.5 261.7,313.7 262.1,312.4 263.2,311.4 263.4,310.3 265.3,309.9 266.0,308.8 266.8,308.3 268.4,310.5 271.3,308.2 271.5,307.5 270.5,307.4 269.9,306.8 269.9,305.4 271.7,304.6 273.6,303.0 274.8,303.0 275.3,301.5 276.7,300.0 278.7,300.3 280.3,301.8 280.5,299.9 283.1,298.4 284.4,296.4 286.0,296.8 286.4,295.2 287.0,294.7 288.6,294.4 290.7,295.8 292.2,295.3 294.3,293.9 295.6,293.7 296.3,290.6 296.0,289.0 297.4,288.3 297.7,287.4 297.4,286.3 296.0,285.4 296.3,284.8 298.9,286.0 301.5,289.2 302.2,288.5 302.5,285.9 304.5,284.8 305.2,283.9 305.7,283.8 308.3,284.7 312.9,280.3 314.5,280.2 317.1,280.8 321.1,279.6 322.2,278.4 322.0,276.5 323.8,274.3 324.8,275.2 325.4,276.6 329.6,277.6 329.7,277.0 328.2,276.0 325.6,272.4 325.4,270.8 325.9,269.9 327.9,269.4 329.5,270.9 331.6,271.6 332.6,273.6 333.2,273.4 333.2,271.8 330.5,269.3 329.0,269.4 327.4,268.1 326.4,267.9 323.8,268.1 323.2,267.2 323.0,264.6 323.9,263.0 323.2,262.5 320.2,262.0 320.3,264.0 319.7,264.4 317.6,261.5 315.8,262.0 316.0,260.9 315.6,259.4 316.3,258.8 315.1,257.8 314.0,258.0 311.4,257.8 310.3,257.2 307.7,257.1 303.3,255.2 302.6,255.6 302.5,256.2 302.1,256.6 300.5,256.4 299.5,256.9 298.9,256.8 298.2,255.2 298.4,253.9 296.4,255.1 295.8,254.2 294.3,253.7 293.8,256.8 292.7,257.5 292.0,257.3 291.6,256.8 291.5,255.7 290.7,255.0 289.6,255.2 289.7,256.8 289.1,257.3 287.7,256.8 286.7,255.2 284.4,255.0 284.3,255.7 285.0,256.8 285.0,257.4 280.8,258.0 277.7,260.7 275.1,260.0 274.3,260.4 273.6,261.6 272.0,261.3 269.6,262.0 264.2,268.2 261.3,268.7 260.9,269.8 262.4,271.3 262.2,272.0 260.6,272.3 259.5,271.3 259.3,270.3 258.6,270.4 258.0,270.9 257.0,273.9 255.4,273.4 253.3,277.6 252.3,278.2 250.8,278.1 250.7,280.2 249.0,281.7 247.6,284.8 246.6,285.4 246.8,288.0 245.9,289.5 245.1,290.0 242.9,290.0 241.5,291.7 239.4,292.6 239.6,295.2 236.8,297.3 236.5,297.8 236.8,298.6 237.8,298.8 237.9,299.4 236.8,300.1 236.3,299.8 235.7,301.5 234.1,303.0 234.2,306.2 232.1,307.2 232.2,308.8 231.3,310.3 231.7,313.4 230.3,315.0 229.5,318.6 227.5,320.7 225.8,321.2 225.9,322.5 226.4,322.4 227.0,321.8 227.4,322.3 227.1,322.8 227.5,323.8ZM242.0,319.5 242.0,318.9 242.3,319.2ZM254.9,316.1 254.8,315.5 256.1,314.0 256.3,314.5 255.4,316.2ZM271.0,264.6 269.9,263.5 270.5,262.3 271.0,262.0 272.0,263.0 272.2,264.0 272.0,264.6ZM283.4,295.9 282.8,295.2 282.9,294.7 283.9,293.7 284.4,293.8 284.8,294.7 284.4,295.9 283.9,296.2ZM285.0,260.6 285.0,260.1 285.5,259.9 286.0,260.4 285.5,260.8ZM291.2,290.1 290.9,289.0 291.7,288.0 292.7,287.5 293.5,288.0 293.9,289.0 293.2,289.9 292.2,290.4ZM308.3,282.5 307.2,281.9 305.7,282.0 305.5,280.7 306.2,280.1 308.3,279.6 309.0,282.2ZM310.9,262.1 310.3,261.9 309.9,260.9 309.9,259.9 310.3,259.5 311.9,260.4 311.9,261.4ZM316.0,278.9 315.7,278.1 317.5,275.0 318.1,274.6 319.1,274.9 319.9,276.0 319.8,276.5 318.6,276.8 317.0,278.6ZM321.7,271.0 321.3,270.3 321.6,269.8 322.7,269.8 322.8,270.3 322.4,270.8ZM314.4,282.8 315.1,282.8 315.7,282.2 315.5,281.9ZM333.6,268.7 334.2,269.1 334.7,268.2 334.2,267.7 333.2,267.7ZM331.2,267.2 333.1,267.2 331.6,264.9 331.1,265.1 330.5,266.1ZM317.5,260.9 317.6,261.2 319.1,261.0 319.3,259.9 317.6,258.9 316.6,258.8ZM308.7,254.2 309.6,254.2 308.8,253.3Z"/>
<path fill="#0ea5ef" fill-rule="evenodd" d="M227.4,324.9 228.0,325.1 228.5,324.9 229.0,323.7 230.1,323.9 232.1,323.2 234.2,321.6 236.3,321.9 236.8,321.6 239.4,322.6 243.0,320.6 244.6,321.2 245.1,321.0 245.4,319.7 246.1,318.8 249.7,317.1 254.2,317.1 254.7,316.6 254.5,315.5 256.0,313.6 256.7,314.0 256.2,316.0 258.6,316.1 260.3,312.9 261.7,312.2 263.2,309.7 265.3,309.8 265.8,308.6 267.9,307.8 268.2,308.2 267.9,308.5 267.9,309.5 268.4,310.0 269.4,308.8 271.0,308.2 269.8,307.7 269.5,305.1 275.1,301.3 275.8,299.9 275.1,298.7 279.8,300.5 282.9,298.4 283.7,296.8 282.4,295.2 283.9,293.3 284.4,293.3 285.1,294.2 284.9,296.3 285.5,296.5 286.4,294.7 288.1,294.0 290.7,295.6 292.2,295.3 293.8,294.0 295.5,293.7 295.9,292.6 296.0,290.6 295.6,288.5 296.9,288.1 297.3,287.4 295.5,285.4 295.8,284.7 296.9,284.5 299.4,285.9 301.5,288.9 302.1,288.5 301.9,286.4 302.8,285.4 304.1,284.8 305.2,283.2 305.7,282.8 306.5,283.8 308.3,284.5 309.5,283.3 309.3,282.9 307.2,282.5 305.7,282.7 305.1,281.2 305.7,280.2 308.3,279.3 309.4,281.7 309.5,282.8 309.8,282.9 311.5,281.7 312.4,280.5 316.0,279.8 315.5,279.1 315.3,278.1 317.6,274.3 319.1,274.5 320.4,276.5 318.6,277.2 317.7,278.1 317.6,279.1 318.4,280.2 320.8,279.6 321.8,278.6 321.8,276.5 323.1,275.0 323.3,273.0 325.0,275.0 325.4,276.5 327.0,276.5 327.4,275.0 326.3,273.9 325.5,272.4 325.2,270.3 327.2,268.7 325.9,268.0 324.3,268.6 323.5,268.2 322.6,265.1 323.5,263.0 322.9,262.5 320.8,262.5 320.2,264.8 319.1,264.4 317.6,262.2 315.5,262.8 315.0,262.6 315.6,260.9 315.1,259.4 315.6,258.3 315.0,257.9 314.0,258.2 312.4,257.8 311.4,258.1 310.1,257.3 308.3,257.6 304.1,256.1 303.6,256.1 302.6,257.3 300.5,256.7 298.9,257.3 297.9,255.2 297.4,254.9 295.8,255.6 295.4,254.2 294.3,253.9 294.1,256.8 293.2,257.6 291.6,257.3 290.8,256.2 291.0,255.7 290.7,255.3 290.0,255.7 290.3,256.8 289.1,257.6 287.6,257.0 286.3,255.2 284.4,255.1 284.4,256.0 285.5,256.8 285.5,257.5 280.8,258.2 277.7,261.0 275.6,260.3 274.7,260.4 274.1,261.8 272.2,262.0 272.5,264.0 272.0,264.9 270.0,264.6 268.9,263.4 266.3,265.7 264.8,268.3 261.5,268.7 261.2,269.8 262.8,271.3 262.2,272.3 260.6,272.5 259.7,271.8 259.1,270.7 258.6,270.6 257.9,271.3 257.5,274.2 257.0,274.4 256.0,273.7 255.4,273.9 253.6,277.6 252.3,278.4 251.0,278.1 250.8,278.6 251.1,280.2 249.2,281.7 249.2,282.8 248.4,283.8 246.1,289.5 245.1,290.1 243.0,290.2 241.5,292.0 239.6,292.6 239.8,295.2 236.8,297.3 236.6,297.8 236.8,298.4 237.8,298.5 238.0,299.4 236.8,301.1 234.2,303.0 234.4,306.2 232.2,307.2 232.3,308.8 231.4,310.3 231.8,313.4 230.3,315.0 229.5,318.6 227.5,320.8 225.8,321.2 225.9,322.4 227.0,321.8 227.5,322.3ZM242.0,319.9 241.7,319.2 242.0,318.6 242.6,319.2 242.5,320.0ZM253.4,282.3 253.0,282.2 253.4,281.9ZM285.0,261.0 284.6,260.4 284.8,259.9 285.5,259.5 286.0,259.8 286.3,260.4 286.0,260.9ZM291.2,290.3 290.8,289.0 291.7,287.7 292.7,287.2 293.9,288.0 294.1,289.0 293.3,290.0 292.2,290.5ZM301.0,283.0 300.6,282.2 301.0,281.9 302.0,282.2 302.1,282.8ZM302.6,259.4 302.0,258.8 302.1,258.0 302.6,257.9 303.0,258.8ZM305.7,277.7 305.6,277.0 306.2,276.4 306.6,277.0ZM310.3,262.2 309.6,259.9 309.8,259.1 310.3,259.0 311.9,259.8 312.2,260.4 311.8,262.0 311.4,262.3ZM315.5,273.9 315.5,273.0 316.0,272.7 316.6,272.9 316.8,273.9ZM321.2,271.0 321.0,270.3 321.7,269.4 323.0,269.8 323.1,270.3 322.2,271.1ZM332.7,273.4 333.1,273.4 333.3,272.4 332.1,271.1 331.6,271.3ZM329.4,270.3 330.0,270.7 330.5,270.3 330.5,269.8 329.1,269.8ZM333.9,268.7 334.3,268.7 334.5,268.2 333.6,267.6ZM330.7,266.6 331.6,267.1 332.5,266.6 331.6,265.0 331.1,265.3ZM317.8,260.4 319.1,260.6 319.2,259.9 317.6,259.2ZM308.8,254.2 309.3,254.2 308.8,253.6Z"/>
<path fill="#0dc2e8" fill-rule="evenodd" d="M227.4,324.9 228.4,324.9 229.0,323.6 230.1,323.9 232.1,323.1 233.7,321.7 236.3,321.8 237.3,320.6 237.5,321.8 239.9,322.5 242.2,320.7 241.5,319.2 242.0,318.4 242.5,318.6 243.0,320.2 244.6,320.9 246.1,318.7 249.7,316.9 253.9,316.9 254.2,316.6 254.2,315.5 255.4,313.6 256.0,313.3 257.2,314.0 256.6,315.5 258.1,316.0 259.5,314.0 259.8,312.4 261.3,311.9 262.2,310.2 263.2,309.2 263.7,309.0 264.8,309.6 267.4,307.2 269.1,307.2 269.2,306.7 268.7,305.1 272.5,303.0 274.1,300.9 275.1,300.4 274.2,298.9 274.6,298.2 275.6,298.1 277.6,299.4 279.8,299.6 282.9,298.1 283.2,296.8 281.9,295.8 281.9,295.2 283.4,293.2 283.9,291.8 286.0,294.3 288.6,293.6 289.9,295.2 291.9,295.2 293.8,293.8 295.3,293.7 295.8,292.6 295.6,290.0 294.8,289.0 293.2,290.3 291.2,290.5 290.7,290.0 290.7,289.0 292.2,286.9 293.2,287.0 294.8,288.2 296.6,287.4 295.0,285.4 295.3,284.6 296.4,284.2 297.3,284.3 299.5,285.5 300.5,286.9 301.0,287.0 302.6,285.3 304.3,284.3 304.8,282.8 304.9,280.7 306.2,279.6 308.5,279.1 310.3,282.2 311.0,281.7 311.0,280.7 311.4,280.1 312.4,280.2 314.5,279.4 316.5,275.0 315.0,273.9 314.9,273.4 316.0,272.1 317.6,273.6 319.6,274.4 321.2,276.7 322.8,275.0 322.7,272.9 323.3,272.4 324.1,272.9 325.4,275.0 325.4,276.0 326.1,276.5 326.7,275.0 325.5,272.9 324.8,269.8 326.6,268.7 325.4,268.3 324.3,269.2 323.3,268.7 322.1,265.1 322.8,262.9 321.2,262.9 320.9,264.6 320.2,265.2 318.8,264.6 317.6,262.7 315.5,263.4 314.5,263.2 314.3,263.0 315.1,261.4 314.5,259.4 315.0,258.2 312.1,258.3 311.8,258.8 312.5,259.9 312.2,261.4 311.9,262.2 310.9,262.7 309.7,262.0 309.2,259.4 309.4,258.8 310.3,258.3 310.3,257.8 308.3,258.0 304.1,256.7 303.3,257.3 303.4,258.8 302.6,259.7 302.0,259.4 301.6,257.8 301.0,257.1 298.9,257.6 297.9,255.7 297.4,255.4 295.8,256.3 295.4,256.2 295.3,254.7 294.8,254.1 294.4,254.2 294.3,254.7 294.7,256.8 293.8,257.8 292.2,257.9 290.7,257.2 289.6,257.8 288.6,257.9 287.2,257.3 285.8,255.2 284.5,255.2 284.6,255.7 286.3,256.8 286.3,257.3 285.5,258.1 282.9,257.8 281.1,258.3 278.2,261.4 275.1,260.7 274.5,262.0 272.9,262.5 272.5,264.5 272.0,265.2 269.9,265.2 268.9,264.0 268.4,264.1 266.2,266.1 264.8,268.8 261.7,268.9 261.5,269.8 263.1,271.3 262.4,272.4 261.7,272.8 260.6,272.8 258.6,270.9 258.0,271.3 257.7,274.4 254.9,275.3 254.3,276.0 253.9,277.6 252.3,278.5 251.6,278.6 251.5,280.2 250.8,281.2 249.7,281.7 249.9,283.3 248.5,284.3 246.1,289.8 245.1,290.3 242.7,290.6 242.6,292.1 242.0,292.5 240.4,292.3 239.8,292.6 240.2,294.2 239.9,295.6 238.4,296.3 236.7,297.8 238.0,298.4 238.2,299.4 236.8,301.3 234.2,303.1 234.2,304.3 234.8,305.1 234.6,306.2 234.2,306.7 232.4,307.2 232.3,308.8 231.4,310.3 231.8,313.4 230.6,314.6 229.6,318.6 227.5,320.8 225.9,321.2 225.9,322.3 227.0,321.6 227.5,322.3ZM246.1,317.2 246.1,316.5 247.1,316.6ZM252.9,283.1 252.5,282.2 253.4,281.1 253.9,281.1 253.8,282.2ZM285.0,261.2 284.5,260.9 284.4,259.9 285.0,259.2 286.0,259.3 286.7,260.4 286.0,261.1ZM293.8,263.1 293.7,262.5 294.3,262.4 294.3,263.0ZM298.9,283.4 298.2,282.8 298.3,282.2 298.9,281.8 300.0,282.2 301.5,281.5 302.3,282.2 302.1,283.1 300.8,283.3 300.0,282.9ZM305.7,278.1 304.9,277.6 305.1,277.0 307.2,273.9 307.7,273.9 307.9,274.4 309.3,275.3 309.4,276.0 308.8,276.5 307.2,275.4 307.2,277.0ZM316.0,271.3 316.0,270.1 316.3,270.3ZM319.7,271.6 319.3,271.3 319.5,270.8 320.2,270.7 321.6,269.2 323.2,269.2 323.3,270.3 322.8,271.1 321.7,271.4 320.2,271.1ZM305.2,268.4 304.7,268.2 304.7,267.7 306.2,267.7ZM319.7,268.5 319.2,267.7 319.7,267.4 320.1,268.2ZM308.0,284.3 308.8,283.9 308.8,283.5 307.2,283.0 306.9,283.3ZM318.6,279.6 319.7,279.6 320.7,279.1 320.7,277.4 319.1,277.5 318.2,278.1 318.1,279.1ZM332.6,272.9 333.2,272.9 333.1,272.2 332.6,271.8ZM330.9,266.6 331.6,266.9 332.2,266.6 332.1,265.7 331.6,265.2 331.0,265.6ZM318.6,260.4 319.1,259.9 318.1,259.7 317.9,259.9Z"/>
<path fill="#27dade" fill-rule="evenodd" d="M227.5,324.9 228.3,324.9 228.5,323.8 229.0,323.6 230.1,323.8 232.1,323.0 233.7,321.6 236.3,321.6 236.8,320.5 237.3,320.2 237.7,321.8 238.9,322.4 239.9,322.4 241.7,321.2 242.0,320.7 241.4,319.2 242.0,318.3 242.7,318.6 243.5,320.2 244.6,320.5 246.1,318.4 248.3,317.6 249.7,316.6 252.9,316.8 253.9,316.6 253.9,315.5 255.4,313.2 256.5,313.2 258.6,314.2 259.1,313.8 259.2,312.4 258.7,311.4 259.1,311.0 261.1,311.4 262.8,308.8 260.9,308.2 260.7,307.7 261.0,307.2 261.7,307.0 263.1,308.2 264.8,308.7 266.8,307.2 266.8,306.4 265.3,305.7 264.5,304.6 264.3,304.1 264.8,303.5 265.8,303.7 266.8,304.8 269.9,304.1 270.9,303.0 270.3,301.5 270.4,301.0 271.0,300.8 271.6,302.5 272.5,302.6 273.7,300.4 273.5,298.9 275.1,296.5 276.4,296.8 276.9,298.4 277.7,298.9 279.3,298.0 280.0,298.9 280.8,299.0 282.7,297.8 282.9,297.3 281.3,296.9 281.0,296.3 281.3,294.4 282.4,293.8 283.1,292.6 282.8,291.6 281.6,291.1 281.5,290.6 281.9,290.1 283.9,290.9 285.5,293.3 286.5,293.6 288.3,292.6 287.8,290.6 289.6,290.6 290.1,291.1 289.5,292.6 289.5,294.2 290.5,295.2 291.7,295.1 293.8,293.5 295.3,293.3 295.2,290.6 294.8,289.8 292.7,290.7 290.2,290.6 290.3,289.0 291.7,286.2 293.8,286.2 294.2,285.9 294.7,283.8 297.4,283.7 297.6,282.2 298.4,281.4 302.1,280.9 303.1,279.3 304.1,280.6 304.6,280.6 306.2,279.3 308.3,278.8 308.9,279.1 309.8,280.9 310.3,280.8 311.4,279.3 312.4,279.9 313.4,279.6 314.5,278.7 315.8,275.5 315.7,275.0 314.8,274.4 314.5,273.4 315.5,271.8 315.4,270.3 316.0,269.3 316.9,269.8 316.7,271.8 317.1,272.2 320.1,274.4 321.2,276.1 321.7,276.0 322.7,274.4 322.2,272.9 322.7,271.8 320.7,271.5 319.1,272.4 318.6,271.8 319.1,269.9 320.2,269.8 322.8,268.2 322.2,266.0 321.2,265.1 320.2,265.5 319.1,265.2 318.3,264.6 317.6,263.3 317.1,263.2 316.6,264.0 317.1,265.1 316.4,266.6 315.5,266.9 313.7,265.6 314.0,265.0 315.0,265.4 315.2,265.1 315.2,264.6 314.0,263.7 313.6,263.0 314.7,261.4 314.0,260.4 312.9,260.5 311.9,262.7 310.3,263.0 309.1,262.0 308.8,259.0 308.3,258.6 306.7,258.2 305.2,258.9 304.1,258.6 302.6,260.0 301.7,259.4 301.0,257.6 298.9,258.0 297.4,255.8 296.6,256.2 295.8,257.8 295.3,258.1 290.7,257.8 287.6,258.3 286.7,260.9 285.5,261.4 284.1,260.9 284.5,258.8 284.2,258.3 283.4,258.0 281.8,258.3 280.8,258.8 278.2,262.2 276.7,261.1 275.6,261.1 275.0,262.0 273.2,263.0 272.7,264.6 272.0,265.4 269.9,266.1 269.3,265.6 268.9,264.5 267.9,264.7 266.3,266.1 265.3,268.9 264.8,269.2 262.7,268.9 261.7,269.2 261.7,269.8 263.5,270.8 263.7,271.3 262.7,272.6 261.7,273.1 260.6,273.1 258.6,271.3 258.0,271.8 258.0,274.5 254.5,276.0 254.8,278.1 252.9,278.6 254.4,281.2 253.4,283.1 252.9,283.5 252.3,283.4 252.1,282.8 253.2,280.7 253.1,280.2 252.3,279.9 251.8,280.2 250.4,282.2 250.3,283.6 248.7,284.6 248.1,286.9 247.2,287.7 246.7,289.5 246.1,290.2 245.6,290.6 243.4,290.6 243.0,291.1 243.0,292.1 242.0,293.0 241.0,293.2 240.4,292.6 239.9,293.0 240.4,293.6 240.9,293.3 241.0,293.7 240.1,295.8 237.3,297.3 237.1,297.8 238.2,298.4 238.4,299.4 237.3,301.1 234.2,303.4 235.0,305.1 234.7,306.3 234.2,306.8 232.5,307.2 232.4,308.8 231.5,310.3 231.9,313.4 230.6,314.8 229.6,318.6 227.5,320.9 225.9,321.3 225.9,322.2 227.0,321.4 227.5,322.3ZM246.1,317.6 245.6,317.6 245.9,316.6 247.6,316.0 247.2,317.2ZM280.3,261.6 279.8,260.9 280.3,260.6 281.3,260.5 281.7,260.9 281.3,261.6ZM293.8,263.9 292.8,262.5 293.2,262.0 294.3,261.7 295.1,262.5 295.0,263.0ZM296.9,275.2 296.7,275.0 297.2,274.4 297.7,274.4 297.6,275.0ZM300.5,262.2 300.5,261.7 301.0,262.0ZM301.5,278.1 301.7,277.0 302.3,276.5 302.9,278.1 302.1,278.6ZM304.6,278.2 304.2,277.6 306.6,273.4 307.7,272.8 309.8,275.0 309.9,276.5 307.7,277.1 306.2,278.3ZM313.4,275.8 312.6,275.0 312.9,274.2 313.9,274.4ZM319.1,269.0 318.1,268.2 318.1,267.7 319.7,266.8 320.4,267.7 320.4,268.7 319.7,269.2ZM289.6,283.8 290.1,283.3 290.8,283.8 290.1,284.1ZM296.9,269.4 296.1,268.7 296.4,267.4 296.9,267.2 297.4,268.7ZM305.2,268.8 304.1,268.3 304.1,267.6 307.1,266.1 308.3,264.8 308.8,264.8 309.2,266.1 307.7,266.7 306.2,268.6ZM312.9,272.5 312.4,271.8 312.9,271.1 313.6,271.8 313.4,272.5ZM257.4,315.5 258.1,315.5 258.0,314.8ZM268.0,306.7 268.7,306.7 268.4,306.0 267.6,306.2ZM300.7,286.4 303.9,284.3 304.5,282.2 304.1,280.7 302.6,281.7 302.8,282.8 302.5,283.3 300.0,283.8 299.3,284.3ZM318.8,279.1 319.7,279.1 320.1,278.1 319.0,278.1 318.5,278.6ZM324.2,272.4 324.8,272.9 324.8,271.5 324.3,270.5 323.8,270.5 322.9,271.8ZM331.5,266.6 332.1,266.1 331.6,265.5 331.0,266.1ZM321.5,264.0 321.7,264.4 321.7,263.5Z"/>
<path fill="#40ecd4" fill-rule="evenodd" d="M227.8,324.9 228.1,324.9 228.5,323.7 230.1,323.8 231.4,323.3 233.7,321.6 236.3,321.4 236.9,320.2 237.5,320.2 237.8,321.8 238.9,322.4 239.9,322.4 241.8,320.7 241.3,319.2 241.5,318.4 242.5,318.3 243.5,320.0 244.6,320.0 245.7,318.1 245.1,317.6 245.3,317.1 246.6,315.9 248.2,315.5 248.6,316.0 247.7,317.1 248.2,317.3 249.7,316.3 253.4,316.5 253.5,315.5 255.4,312.8 257.4,312.9 258.2,312.4 257.1,310.8 257.5,310.5 259.1,310.2 260.6,310.8 261.1,310.6 262.1,309.3 260.2,308.2 260.6,306.8 261.7,306.4 263.7,307.6 265.3,307.9 266.3,307.2 265.8,306.8 264.8,307.3 264.2,305.6 262.4,305.1 262.4,304.6 263.9,303.0 264.1,301.5 265.3,300.9 266.3,299.2 267.4,299.1 268.4,299.9 267.2,301.5 266.7,303.0 267.4,304.0 270.0,303.6 270.3,302.5 269.5,301.0 270.5,300.2 271.8,300.4 272.0,302.0 272.5,302.1 272.9,301.0 272.7,299.4 273.5,296.8 274.6,295.4 276.4,295.2 275.5,293.2 276.7,292.6 278.5,293.7 278.4,294.7 276.8,295.8 277.7,297.1 278.2,297.2 278.8,295.8 280.0,294.7 279.9,293.7 280.3,292.8 281.9,293.0 282.4,292.6 282.3,292.1 281.3,291.7 280.3,291.8 279.7,291.1 281.3,289.5 282.4,289.3 284.4,290.1 285.5,292.6 287.0,292.8 287.3,292.1 287.0,291.5 284.4,289.9 283.9,289.0 282.9,288.7 282.0,286.4 283.4,286.6 283.9,288.2 284.4,288.3 286.5,287.5 288.0,289.5 289.1,289.8 289.6,289.7 289.6,289.2 288.4,288.5 288.1,287.1 286.5,287.2 286.0,286.5 285.9,285.9 286.3,285.4 288.6,285.0 289.2,283.3 290.7,282.7 291.5,283.3 291.9,284.8 293.2,285.4 293.5,283.8 294.3,282.8 295.8,282.5 298.4,280.8 301.0,280.6 301.8,280.2 301.9,279.6 301.0,278.1 302.0,275.0 301.5,272.4 302.4,270.8 301.8,268.7 303.3,268.2 304.1,266.7 305.8,266.1 305.8,265.1 307.2,263.5 306.7,262.0 305.3,261.4 305.5,259.9 304.6,259.5 303.6,259.9 302.9,261.4 301.0,263.3 300.5,263.2 298.6,261.4 298.9,260.8 302.0,260.4 300.5,258.3 298.4,258.5 298.4,260.2 296.4,259.9 296.6,258.8 296.4,258.3 294.8,259.0 292.2,258.3 289.1,258.7 288.6,258.8 287.0,261.0 284.4,261.8 283.7,261.4 283.9,258.8 283.5,258.3 282.7,258.3 281.9,258.8 282.4,259.9 282.5,262.0 283.0,262.5 283.0,263.5 281.5,265.6 280.8,265.1 281.5,262.5 279.8,262.0 277.7,262.9 276.7,261.4 276.2,261.4 273.6,263.2 272.5,265.2 271.0,266.4 269.4,266.6 268.4,264.9 267.4,265.4 266.7,266.1 265.5,269.2 264.8,269.9 263.1,269.2 262.1,269.2 262.1,269.8 262.7,270.2 264.2,270.3 265.0,270.8 262.7,273.3 260.6,273.6 258.6,271.9 258.6,273.9 258.1,275.0 254.9,276.2 254.9,276.7 256.0,278.1 254.0,279.1 254.8,281.2 253.4,283.5 252.3,284.3 251.7,283.8 251.3,282.3 251.0,283.8 248.9,284.8 248.6,286.9 247.2,288.2 246.9,290.0 246.1,291.0 243.5,291.1 243.0,292.6 240.8,294.7 240.3,296.3 238.9,296.6 237.8,297.3 238.5,298.4 238.6,299.4 237.3,301.4 234.3,303.6 235.2,305.1 235.1,305.6 234.6,306.7 232.7,307.2 232.4,307.7 232.4,308.8 231.6,310.3 231.9,313.4 230.6,315.0 230.6,316.0 229.7,318.6 227.0,321.2 227.6,322.3ZM267.9,267.8 267.0,267.2 267.4,266.9 268.3,267.2ZM280.3,286.6 280.3,286.1 281.2,286.4ZM287.6,281.5 286.9,280.7 287.6,280.4 287.9,280.7ZM288.6,269.8 288.1,269.2 289.1,267.5 290.2,269.2ZM291.2,275.8 291.2,274.5 291.7,274.4 292.5,275.0 292.4,275.5ZM293.8,265.7 292.6,265.1 292.2,263.6 290.7,263.2 290.5,262.5 294.8,261.0 296.9,263.0 294.8,264.0 295.0,265.6ZM294.8,278.4 294.1,277.6 294.3,277.0 294.8,276.9 295.4,277.6 295.5,278.1ZM296.9,276.0 295.8,275.6 295.8,275.0 297.4,273.7 298.3,273.9 298.6,274.4 298.3,275.0ZM302.1,266.1 302.6,264.2 303.6,264.5 303.6,266.1 302.6,266.5ZM290.7,269.8 291.2,269.3 291.8,269.2 291.7,269.9ZM296.4,269.8 295.8,269.2 295.7,268.2 296.2,266.6 296.9,266.5 297.6,267.7 297.7,269.2 297.4,269.8ZM280.3,298.4 281.3,298.4 281.7,297.8 280.3,297.2ZM290.1,294.7 291.2,295.0 292.2,294.2 291.3,292.6 292.8,291.6 292.5,291.1 291.5,291.1 290.7,291.6 289.9,294.2ZM294.2,292.6 294.8,293.1 294.9,292.6 294.3,291.6ZM290.2,285.9 290.9,285.9 291.2,285.4 291.0,284.8 290.1,284.8 289.8,285.4ZM300.7,285.9 301.5,285.8 303.3,284.3 304.1,281.6 303.1,281.9 303.3,283.3 300.5,284.3 300.3,284.8ZM251.7,281.7 252.5,281.2 252.3,280.4 251.8,280.9ZM309.7,280.2 310.3,279.9 310.7,278.6 309.8,277.2 308.3,277.3 306.5,278.6 308.8,278.7ZM304.2,279.6 304.6,280.1 305.9,279.1 304.6,278.7 304.0,279.1ZM312.2,279.1 312.9,279.4 314.0,278.7 314.6,277.6 314.5,276.7 312.6,278.1ZM303.3,276.5 303.6,276.9 304.6,276.5 305.7,273.4 307.7,271.8 307.7,271.3 306.2,271.2 306.2,270.3 306.7,269.9 307.7,270.3 308.3,269.8 309.5,268.2 309.3,267.2 308.8,266.9 307.7,267.3 306.2,269.2 304.1,268.9 303.6,269.2 303.3,270.8 304.8,272.9 304.1,273.4 303.3,272.4 302.9,272.4 302.8,272.9 303.6,273.9 303.1,275.5ZM310.7,276.5 311.9,277.0 312.5,276.0 311.9,275.4 310.9,275.1ZM321.2,275.5 321.7,275.5 322.3,274.4 321.6,273.4 321.8,272.4 321.2,271.8 319.6,272.9 319.5,273.4 320.5,273.9ZM309.2,273.9 310.9,274.3 311.4,273.3 311.9,273.3 312.1,272.9 311.4,271.3 312.4,270.5 313.8,270.8 314.5,272.2 315.4,269.2 316.6,268.0 314.0,267.0 312.4,265.3 311.9,265.6 311.0,266.6 310.8,268.7 311.2,271.8 310.3,272.5 308.8,272.5 308.8,273.4ZM317.4,271.3 317.6,271.6 317.8,271.3 317.6,270.7ZM321.4,268.2 322.2,268.2 322.2,266.6 321.2,265.9 320.2,266.1ZM317.3,266.6 318.1,266.9 319.1,266.1 318.1,265.3 317.5,265.6ZM312.6,262.5 312.9,262.8 314.0,262.2 314.3,261.4 314.0,261.0 312.9,261.0ZM306.6,261.4 306.7,261.8 307.2,261.8 308.7,260.9 308.3,259.3 306.5,259.4 306.2,259.9ZM297.4,258.3 298.3,258.3 297.9,256.7 297.4,256.2 296.7,256.8 296.7,257.3Z"/>
<path fill="#58f8c9" fill-rule="evenodd" d="M227.9,324.4 228.0,324.8 228.1,323.8 228.5,323.5 230.1,323.7 232.1,322.9 233.7,321.5 236.3,321.3 236.7,320.2 237.3,320.0 238.0,321.8 238.9,322.3 239.9,322.3 241.6,320.7 241.2,319.2 241.5,318.3 242.5,318.2 243.5,319.7 244.1,319.9 245.2,318.6 245.1,317.1 246.1,316.0 248.2,315.2 249.2,315.9 251.3,315.9 252.0,315.5 252.3,314.4 253.9,314.7 254.4,314.3 254.9,311.6 256.5,310.1 258.0,309.5 259.4,308.2 260.3,305.1 263.2,303.0 263.4,301.5 264.8,300.4 265.0,298.9 266.0,297.3 266.8,297.1 267.4,298.4 269.4,299.9 272.0,299.3 272.4,298.4 272.0,296.8 273.4,295.8 273.7,294.7 273.6,294.4 272.0,294.4 271.5,293.2 270.6,292.6 270.7,292.1 272.5,290.9 273.1,291.1 274.1,292.1 275.0,291.6 274.7,290.6 275.1,289.0 277.2,288.8 278.7,289.1 279.3,288.7 279.9,287.4 278.9,285.9 279.0,285.4 280.8,285.0 281.9,282.1 282.4,282.8 282.6,285.4 283.4,285.8 286.0,284.2 288.1,284.2 288.9,282.8 290.1,282.0 293.2,282.6 295.3,281.1 296.9,281.2 297.9,280.3 301.0,279.7 299.5,278.6 300.5,278.0 301.2,274.4 300.5,272.6 299.5,272.8 299.2,272.4 300.3,270.8 299.8,268.2 300.0,267.6 300.5,267.4 301.0,267.7 301.1,265.1 298.9,264.8 297.9,265.4 297.6,266.1 297.9,270.2 296.9,270.5 295.8,270.1 295.0,269.2 295.5,267.7 295.3,266.6 292.2,265.7 291.2,264.8 289.6,265.1 289.4,264.6 289.5,262.5 290.1,261.7 292.7,261.3 294.2,260.4 294.1,259.4 292.2,258.7 289.6,259.1 287.3,261.4 285.2,262.0 283.9,262.9 281.3,267.7 280.7,267.7 280.6,266.6 279.8,266.0 278.7,266.5 276.1,265.6 277.0,263.5 276.7,262.2 276.2,262.1 273.8,263.5 272.0,266.5 269.9,267.9 268.9,268.2 266.3,268.0 266.2,269.8 267.0,270.3 267.0,270.8 264.8,271.9 262.7,274.2 260.6,274.4 260.3,275.0 260.8,276.0 260.6,276.6 259.6,276.6 259.1,275.3 256.4,276.5 257.7,279.6 257.6,280.2 256.5,280.5 255.4,279.3 254.7,279.6 255.3,281.2 253.2,284.3 252.3,284.8 251.3,284.5 249.6,284.8 248.9,287.4 247.5,288.5 247.6,290.0 246.6,291.3 246.1,291.7 244.6,291.2 244.1,291.4 243.0,293.0 241.1,294.7 240.7,295.8 240.9,298.0 240.4,298.0 239.4,296.8 238.4,297.3 238.7,299.4 237.5,301.5 236.3,302.0 234.6,303.6 235.3,305.1 234.8,306.7 232.7,307.3 232.5,307.7 232.5,308.8 231.6,310.3 232.0,313.4 230.7,315.0 230.7,316.0 229.7,318.6 227.1,321.2 227.7,322.3ZM269.9,297.9 269.5,297.3 269.9,296.9 271.2,297.3ZM284.4,273.3 283.9,272.4 284.4,271.9 285.1,272.9 285.0,273.3ZM285.5,265.9 284.4,265.1 285.0,264.3 285.6,264.6ZM286.0,266.9 285.7,266.1 286.0,266.0 286.6,266.6ZM287.6,282.6 286.4,280.7 286.6,280.2 287.6,279.8 288.4,280.2 288.7,281.2 288.4,282.2ZM292.2,280.0 291.2,279.1 290.1,278.8 289.5,277.6 290.3,276.5 290.7,274.4 291.9,273.4 292.1,270.8 289.6,270.4 287.6,270.9 286.4,269.8 287.8,268.2 288.4,266.6 289.1,266.3 290.7,268.7 292.2,268.3 293.8,269.7 293.8,272.7 292.8,273.4 294.3,275.7 295.1,274.4 296.4,273.7 296.9,272.6 297.3,272.4 298.9,273.3 299.2,273.9 299.1,275.0 298.1,276.5 299.0,278.1 298.4,278.4 297.5,278.1 297.7,277.0 297.4,276.7 296.4,276.6 295.9,277.0 296.2,278.1 295.9,278.6 294.8,278.9 292.7,276.5 292.2,276.2 291.3,276.5 291.5,277.6 292.9,279.1 292.7,280.0ZM283.9,268.9 283.4,268.7 283.9,267.2 284.3,268.2ZM260.1,309.8 260.6,310.1 261.1,309.9 261.3,309.3 260.3,309.3ZM267.5,303.0 267.9,303.4 269.4,303.2 269.7,302.5 268.2,301.5ZM290.3,294.2 290.7,294.7 291.6,294.2 291.2,293.6ZM277.6,292.1 278.7,292.4 279.0,292.1 277.2,290.9 276.8,291.6ZM280.9,288.5 281.3,288.7 281.9,288.5 281.9,287.8 281.3,287.4 280.6,288.0ZM300.9,285.4 301.5,285.4 302.4,284.3 301.1,284.3ZM309.4,278.6 309.8,278.9 309.8,277.9 309.3,277.7 308.6,278.1ZM300.6,270.8 301.5,271.0 301.7,270.3 301.0,270.0ZM304.0,270.8 305.2,271.3 305.8,269.8 305.2,269.4 304.1,269.4ZM307.1,269.2 307.7,269.4 308.5,268.7 308.9,268.2 308.8,267.6 307.7,267.9ZM312.4,269.2 314.0,269.7 314.8,268.7 314.7,268.2 312.4,266.3 311.9,266.6 311.8,268.2ZM267.4,266.1 267.9,266.4 268.5,266.1 267.9,265.6ZM279.1,265.1 279.8,265.2 280.2,264.6 280.3,262.9 278.4,263.5 278.2,264.0ZM304.8,264.0 305.2,264.3 306.2,263.7 306.4,263.0 305.7,262.7 305.0,263.0ZM302.9,263.0 303.8,263.0 303.6,262.2ZM313.0,262.0 313.6,262.0 313.6,261.4 313.2,261.4ZM296.8,261.4 297.2,261.4 297.4,260.9 296.8,260.9Z"/>
<path fill="#72febb" fill-rule="evenodd" d="M228.0,323.3 230.1,323.6 231.1,323.4 233.7,321.5 236.1,321.2 236.6,320.2 237.3,319.9 237.8,320.2 238.1,321.8 239.9,322.3 241.5,320.7 241.1,319.2 241.5,318.1 242.7,318.1 244.1,319.6 244.8,318.6 244.9,317.1 246.1,315.8 248.2,315.0 249.7,315.6 250.9,315.5 252.3,313.7 253.9,314.3 254.4,313.9 254.1,311.9 254.4,311.2 259.0,307.7 259.5,304.6 261.1,303.9 262.2,302.9 262.7,301.0 264.9,297.3 266.8,296.3 268.4,297.1 269.3,296.3 271.0,296.2 271.8,295.8 270.7,294.7 270.4,293.7 269.8,293.2 269.8,292.1 270.5,291.2 272.5,289.8 273.8,289.5 274.6,287.6 276.7,288.0 278.5,287.4 277.7,286.4 277.7,285.4 280.3,283.6 281.9,280.8 282.4,280.9 283.4,282.6 285.0,283.5 286.4,282.8 286.7,282.2 285.8,280.2 287.0,279.4 289.1,278.9 289.2,278.6 288.6,277.9 287.6,277.7 285.5,278.5 284.4,279.8 282.9,280.0 282.5,279.6 282.8,278.1 285.0,277.6 285.7,276.0 284.8,274.4 283.0,272.9 284.0,270.8 283.9,270.3 282.8,269.8 282.4,268.4 281.2,268.7 280.3,270.4 279.8,270.5 278.8,269.8 278.7,268.2 276.7,266.7 276.0,267.2 275.6,269.2 275.1,269.6 272.5,269.5 271.8,267.7 271.0,267.7 269.4,269.1 267.6,269.2 268.0,270.3 267.7,271.3 265.0,272.4 263.5,275.5 263.2,275.8 262.2,275.2 261.7,275.4 261.5,276.5 260.6,277.6 259.1,277.7 258.6,276.4 257.8,276.5 257.8,278.6 258.4,279.6 258.0,280.4 255.4,281.9 252.9,285.2 251.3,285.0 250.5,285.4 250.3,286.3 248.3,289.0 247.8,290.6 247.0,291.6 246.1,292.2 244.6,291.8 244.1,292.2 241.3,295.2 241.4,297.3 240.9,298.3 240.3,298.4 239.4,297.5 238.9,297.8 239.0,299.4 237.7,301.5 234.9,303.6 235.5,305.1 235.2,306.2 234.7,306.9 232.7,307.5 232.5,308.8 231.7,310.3 232.0,313.4 230.9,315.0 230.9,316.0 229.8,318.6 227.3,321.2ZM268.8,298.9 269.8,298.9 268.4,297.7 268.3,298.4ZM270.1,298.9 271.5,298.9 271.5,298.4ZM290.6,281.2 291.7,281.7 293.2,281.6 293.8,281.2 290.7,279.8 290.3,280.7ZM295.8,280.2 296.4,280.4 296.8,280.2 296.7,279.6 295.8,279.5ZM299.7,277.6 300.0,277.6 300.2,277.0 299.5,276.5 299.2,277.0ZM288.9,276.5 290.0,276.0 290.6,272.9 288.6,271.7 286.0,271.0 285.6,271.3 285.6,271.8 286.3,273.4 287.0,273.9 288.1,274.0 288.2,274.4 287.6,276.0ZM295.2,273.4 295.8,273.4 296.1,272.9 295.8,271.9 295.1,272.4ZM298.4,271.8 298.4,271.1 297.4,271.3ZM304.3,270.3 304.6,270.7 305.2,270.5 305.2,269.8 304.5,269.8ZM298.9,269.8 300.0,266.1 298.9,265.5 298.4,265.7 298.0,266.6 298.4,269.2ZM293.0,267.7 294.8,267.9 294.9,267.2 292.9,266.6ZM272.9,267.2 274.1,267.1 275.0,266.1 274.9,265.6 273.6,265.2 273.1,265.5 272.7,266.6ZM290.4,266.6 290.7,267.1 291.2,266.8 291.2,265.6 290.3,266.1ZM287.2,266.1 287.6,266.3 288.6,265.6 288.1,263.5 287.0,262.6 286.0,262.3 285.8,263.5ZM275.1,264.6 275.6,264.5 276.0,263.5 274.6,263.5 274.5,264.0ZM288.5,261.4 289.1,261.6 291.2,260.5 292.7,260.9 293.6,260.4 293.7,259.9 292.7,259.2 291.2,259.8 290.1,259.6Z"/>
<path fill="#8cfead" fill-rule="evenodd" d="M229.0,323.3 230.1,323.6 231.1,323.3 233.7,321.4 235.9,321.2 236.5,320.2 237.3,319.8 238.0,320.2 238.2,321.8 239.3,322.3 239.9,322.1 241.3,320.7 241.0,319.2 241.5,318.0 242.5,317.9 244.1,319.0 244.4,317.6 246.1,315.7 248.2,314.7 250.1,315.0 251.8,312.7 252.3,312.6 253.4,313.3 253.9,310.5 255.4,308.7 257.3,307.7 256.7,306.7 257.0,305.8 260.8,302.0 261.4,300.4 264.3,296.8 266.6,295.2 267.4,293.7 268.6,293.2 269.9,290.6 273.4,287.4 275.6,284.8 276.7,284.4 277.7,282.2 279.1,281.7 279.7,279.6 281.3,278.9 281.8,276.0 283.1,275.0 281.2,274.4 279.3,271.5 277.2,271.4 274.6,270.6 272.0,271.0 271.0,269.6 270.3,269.8 270.2,270.3 270.7,271.3 269.9,271.8 268.4,272.7 266.3,272.4 266.1,273.9 264.1,276.5 259.6,279.3 258.7,280.7 257.0,282.3 255.3,282.8 253.4,285.6 251.6,285.9 250.2,288.5 249.0,289.5 247.2,292.1 246.1,292.8 244.6,292.8 243.3,295.8 242.0,296.5 241.4,298.4 239.6,298.9 237.9,301.5 236.3,302.4 235.2,303.6 235.6,305.1 235.0,306.7 232.6,307.7 232.6,308.8 231.8,310.3 232.1,313.4 231.1,315.0 229.8,318.6 227.4,321.2 228.0,323.0ZM284.5,282.2 285.5,282.6 286.1,282.2 286.0,281.7 285.0,280.8 283.9,280.9 283.4,281.3ZM288.7,275.5 289.1,275.9 289.8,275.5 290.0,273.9 289.6,273.2 288.9,273.9ZM286.8,272.9 287.6,273.1 288.0,272.4 287.0,271.9 286.6,272.4ZM298.7,268.2 298.9,268.5 299.0,268.2 298.9,266.4 298.4,267.2Z"/>
<path fill="#a6f89d" fill-rule="evenodd" d="M229.2,323.3 230.9,323.3 233.7,321.4 235.8,321.2 236.4,320.2 237.3,319.7 238.1,320.2 238.4,321.8 239.4,322.2 239.9,322.0 241.1,320.7 240.9,318.6 241.5,317.9 243.5,318.1 245.6,315.9 249.5,314.0 255.4,306.7 260.0,300.4 274.6,283.3 277.9,277.6 277.9,275.5 277.1,273.9 275.1,272.9 272.5,273.2 267.4,275.6 262.2,279.0 242.5,297.2 241.5,298.8 239.9,299.6 237.8,301.9 236.0,303.0 235.6,303.6 235.8,305.1 235.2,306.7 232.8,307.7 231.9,310.3 232.2,313.4 231.2,315.0 229.9,318.6 227.5,321.2 228.1,322.8Z"/>
<path fill="#c0eb8d" fill-rule="evenodd" d="M229.4,323.3 230.7,323.3 233.7,321.3 235.8,321.1 236.3,320.2 237.3,319.6 238.2,320.2 238.6,321.8 239.9,321.9 241.0,320.7 240.8,318.6 241.5,317.7 243.5,317.7 245.6,315.7 248.7,313.4 254.6,306.2 259.0,299.9 271.5,284.8 273.8,280.2 273.9,278.1 273.3,277.0 271.5,276.4 268.4,277.0 262.7,280.2 248.7,292.5 242.0,299.2 236.3,303.3 235.4,306.7 234.7,307.3 233.0,307.7 232.0,310.3 232.3,313.4 229.9,318.6 227.6,321.2 228.2,322.8Z"/>
<path fill="#d9da7d" fill-rule="evenodd" d="M229.7,323.3 231.6,322.8 233.7,321.3 235.8,320.9 236.3,320.0 237.3,319.5 238.4,320.2 238.8,321.8 239.8,321.8 240.7,320.7 240.9,318.1 242.0,317.4 243.5,317.4 247.7,313.4 268.5,286.4 270.5,282.2 270.5,280.7 269.9,279.9 268.4,279.5 265.3,280.4 260.6,283.2 242.5,299.9 236.8,304.0 235.1,307.2 233.2,307.8 232.1,310.3 232.4,313.4 229.7,319.2 227.7,321.2 228.3,322.8Z"/>
<path fill="#f2c26b" fill-rule="evenodd" d="M230.0,323.3 231.4,322.8 233.2,321.5 235.8,320.8 236.8,319.5 238.1,319.7 238.9,321.5 239.4,321.6 239.9,321.2 240.4,320.6 240.7,318.1 241.5,317.4 243.5,316.8 247.7,312.2 265.8,287.9 267.1,284.8 266.8,283.1 265.3,282.6 262.1,283.8 255.4,289.2 242.5,301.0 236.8,305.2 235.2,307.4 233.2,308.2 232.3,310.3 232.5,313.4 229.8,319.2 227.8,321.2 228.5,322.8Z"/>
<path fill="#ffa558" fill-rule="evenodd" d="M228.6,322.8 230.6,323.1 233.7,321.1 235.6,320.7 236.8,319.4 237.8,319.3 239.4,320.7 240.9,317.6 243.0,316.2 249.2,308.8 261.8,290.6 263.3,288.0 263.7,286.3 263.2,285.9 261.7,286.5 256.5,290.2 242.5,302.1 235.2,307.7 233.6,308.2 232.6,309.8 232.6,313.4 231.3,316.6 229.9,319.2 227.9,321.2Z"/>
<path fill="#ff8444" fill-rule="evenodd" d="M228.9,322.8 230.1,323.1 231.1,322.8 233.7,321.0 235.4,320.7 236.8,319.2 238.9,319.6 239.4,319.3 246.0,311.4 250.8,304.7 255.8,295.8 256.0,294.3 254.9,294.1 253.9,294.5 238.9,306.0 236.3,307.8 233.7,309.0 232.9,310.3 232.8,312.9 231.4,316.6 230.0,319.2 228.0,321.2Z"/>
<path fill="#ff5f30" fill-rule="evenodd" d="M229.2,322.8 230.8,322.8 233.7,320.9 235.2,320.5 236.3,319.3 238.4,318.8 239.2,318.1 245.1,310.9 248.3,306.2 250.5,301.5 250.7,300.4 250.3,299.9 248.2,300.7 245.1,303.3 233.9,310.3 233.2,311.4 232.9,313.4 231.3,317.1 230.0,319.2 228.2,321.2 228.5,322.3Z"/>
<path fill="#ff3b1e" fill-rule="evenodd" d="M229.6,322.8 230.6,322.8 231.6,321.8 235.2,320.2 236.3,319.0 238.4,317.6 244.3,309.8 245.6,306.2 245.5,305.6 244.6,305.6 242.0,306.8 233.7,311.9 230.2,319.2 228.5,320.7 228.5,322.0Z"/>
<path fill="#ff1309" fill-rule="evenodd" d="M229.0,322.3 230.6,322.4 231.6,321.4 234.1,320.2 237.8,316.5 239.6,312.9 239.8,311.9 239.4,311.2 238.4,310.9 236.3,311.9 234.2,314.5 232.7,315.4 230.5,319.2 228.6,321.2Z"/>
</g>
<line x1="222.3" y1="330.6" x2="367.3" y2="185.0" stroke="#f33535" stroke-width="1.2" stroke-dasharray="5.6 4.5"/>
<rect x="222.3" y="185.0" width="145.0" height="145.6" fill="none" stroke="#333" stroke-width="1.3"/>
<path stroke="#444" stroke-width="0.8" fill="none" d="M243.0 330.6v-3M243.0 185.0v3M222.3 309.8h3M367.3 309.8h-3M263.7 330.6v-3M263.7 185.0v3M222.3 289.0h3M367.3 289.0h-3M284.4 330.6v-3M284.4 185.0v3M222.3 268.2h3M367.3 268.2h-3M305.2 330.6v-3M305.2 185.0v3M222.3 247.4h3M367.3 247.4h-3M325.9 330.6v-3M325.9 185.0v3M222.3 226.6h3M367.3 226.6h-3M346.6 330.6v-3M346.6 185.0v3M222.3 205.8h3M367.3 205.8h-3"/>
<g font-family="Liberation Sans, sans-serif" font-size="5.6" fill="#333"><text x="219.3" y="332.1" text-anchor="end">0</text><text x="222.3" y="338.1" text-anchor="middle">0</text><text x="219.3" y="311.3" text-anchor="end">10</text><text x="243.0" y="338.1" text-anchor="middle">10</text><text x="219.3" y="290.5" text-anchor="end">20</text><text x="263.7" y="338.1" text-anchor="middle">20</text><text x="219.3" y="269.7" text-anchor="end">30</text><text x="284.4" y="338.1" text-anchor="middle">30</text><text x="219.3" y="248.9" text-anchor="end">40</text><text x="305.2" y="338.1" text-anchor="middle">40</text><text x="219.3" y="228.1" text-anchor="end">50</text><text x="325.9" y="338.1" text-anchor="middle">50</text><text x="219.3" y="207.3" text-anchor="end">60</text><text x="346.6" y="338.1" text-anchor="middle">60</text><text x="219.3" y="186.5" text-anchor="end">70</text><text x="367.3" y="338.1" text-anchor="middle">70</text></g>
<g font-family="Liberation Serif, serif" font-size="9.5" fill="#1a1a1a" stroke="#1a1a1a" stroke-width="0.12"><text x="227.5" y="195.6">N = 765955</text><text x="227.5" y="206.9">R<tspan font-size="5.4" dy="-3.8">2</tspan><tspan dy="3.8"> = 0.94</tspan></text><text x="227.5" y="218.2">RMSD = 1.48</text><text x="227.5" y="229.5">rRMSD = 16.36%</text></g>
<g filter="url(#bl)">
<path fill="#5a58f2" d="M519.1 257.4h1.4v1.4h-1.4zM458.0 293.2h1.4v1.4h-1.4zM435.0 253.7h1.4v1.4h-1.4zM489.1 265.4h1.4v1.4h-1.4zM427.9 257.4h1.4v1.4h-1.4zM519.9 238.2h1.4v1.4h-1.4zM509.8 260.4h1.4v1.4h-1.4zM416.2 282.6h1.4v1.4h-1.4zM451.1 294.6h1.4v1.4h-1.4zM415.6 270.5h1.4v1.4h-1.4zM458.0 226.0h1.4v1.4h-1.4zM509.9 218.7h1.4v1.4h-1.4zM435.6 247.8h1.4v1.4h-1.4zM474.3 287.7h1.4v1.4h-1.4zM428.9 303.7h1.4v1.4h-1.4zM473.7 288.1h1.4v1.4h-1.4zM519.8 250.6h1.4v1.4h-1.4zM416.1 298.8h1.4v1.4h-1.4zM437.9 301.0h1.4v1.4h-1.4zM472.9 222.8h1.4v1.4h-1.4zM520.3 226.4h1.4v1.4h-1.4zM489.5 277.2h1.4v1.4h-1.4zM520.6 238.9h1.4v1.4h-1.4zM439.0 300.5h1.4v1.4h-1.4zM420.7 308.6h1.4v1.4h-1.4zM432.5 301.5h1.4v1.4h-1.4zM415.9 278.0h1.4v1.4h-1.4zM463.0 291.5h1.4v1.4h-1.4zM460.7 291.1h1.4v1.4h-1.4zM520.6 227.1h1.4v1.4h-1.4zM439.4 234.4h1.4v1.4h-1.4zM435.3 246.4h1.4v1.4h-1.4zM415.7 276.8h1.4v1.4h-1.4zM489.5 279.8h1.4v1.4h-1.4zM419.3 308.2h1.4v1.4h-1.4zM475.7 286.6h1.4v1.4h-1.4zM415.8 298.0h1.4v1.4h-1.4zM473.5 223.4h1.4v1.4h-1.4zM467.5 224.5h1.4v1.4h-1.4zM439.5 299.7h1.4v1.4h-1.4zM491.8 260.7h1.4v1.4h-1.4zM462.2 290.7h1.4v1.4h-1.4zM435.5 245.0h1.4v1.4h-1.4zM449.4 295.5h1.4v1.4h-1.4zM432.4 256.0h1.4v1.4h-1.4zM466.6 289.8h1.4v1.4h-1.4zM465.4 223.7h1.4v1.4h-1.4zM487.4 282.7h1.4v1.4h-1.4zM505.7 217.3h1.4v1.4h-1.4zM416.0 289.7h1.4v1.4h-1.4zM430.0 302.3h1.4v1.4h-1.4zM433.9 301.7h1.4v1.4h-1.4zM441.1 299.3h1.4v1.4h-1.4zM482.6 284.5h1.4v1.4h-1.4zM503.6 218.7h1.4v1.4h-1.4zM463.4 224.2h1.4v1.4h-1.4zM435.4 239.4h1.4v1.4h-1.4zM478.0 222.2h1.4v1.4h-1.4zM494.7 259.8h1.4v1.4h-1.4zM491.1 222.2h1.4v1.4h-1.4zM489.4 266.6h1.4v1.4h-1.4zM418.8 262.0h1.4v1.4h-1.4zM419.3 306.6h1.4v1.4h-1.4zM497.0 260.6h1.4v1.4h-1.4zM415.3 274.2h1.4v1.4h-1.4zM494.5 260.1h1.4v1.4h-1.4zM415.4 288.9h1.4v1.4h-1.4zM490.0 266.1h1.4v1.4h-1.4zM476.3 286.5h1.4v1.4h-1.4zM415.2 272.0h1.4v1.4h-1.4zM459.0 226.4h1.4v1.4h-1.4zM495.1 260.0h1.4v1.4h-1.4zM476.7 222.8h1.4v1.4h-1.4zM493.2 222.5h1.4v1.4h-1.4zM497.2 220.7h1.4v1.4h-1.4zM471.0 223.8h1.4v1.4h-1.4zM492.6 260.0h1.4v1.4h-1.4zM440.9 298.0h1.4v1.4h-1.4zM489.9 272.0h1.4v1.4h-1.4zM468.4 289.8h1.4v1.4h-1.4zM433.3 255.8h1.4v1.4h-1.4zM415.9 279.4h1.4v1.4h-1.4zM416.0 283.5h1.4v1.4h-1.4zM438.5 299.2h1.4v1.4h-1.4zM495.6 221.7h1.4v1.4h-1.4zM503.6 260.6h1.4v1.4h-1.4zM508.4 259.5h1.4v1.4h-1.4zM487.4 283.7h1.4v1.4h-1.4zM489.2 279.8h1.4v1.4h-1.4zM494.3 260.6h1.4v1.4h-1.4zM489.3 281.7h1.4v1.4h-1.4zM496.8 260.5h1.4v1.4h-1.4zM499.2 260.4h1.4v1.4h-1.4zM502.9 260.8h1.4v1.4h-1.4zM510.6 259.1h1.4v1.4h-1.4zM488.1 282.5h1.4v1.4h-1.4zM489.0 270.2h1.4v1.4h-1.4zM489.6 266.2h1.4v1.4h-1.4zM507.0 260.6h1.4v1.4h-1.4zM515.5 258.8h1.4v1.4h-1.4zM520.2 239.1h1.4v1.4h-1.4z"/>
<path fill="#7e3cf4" d="M449.7 226.5h1.4v1.4h-1.4zM482.0 286.5h1.4v1.4h-1.4zM431.7 303.5h1.4v1.4h-1.4zM516.8 261.8h1.4v1.4h-1.4zM479.4 220.9h1.4v1.4h-1.4zM446.5 227.7h1.4v1.4h-1.4zM490.2 282.8h1.4v1.4h-1.4zM435.0 238.4h1.4v1.4h-1.4zM515.9 209.8h1.4v1.4h-1.4zM421.2 310.9h1.4v1.4h-1.4zM494.3 263.6h1.4v1.4h-1.4zM513.8 261.1h1.4v1.4h-1.4zM414.5 316.7h1.4v1.4h-1.4zM414.6 275.3h1.4v1.4h-1.4zM442.4 300.4h1.4v1.4h-1.4zM471.4 220.6h1.4v1.4h-1.4zM470.3 290.8h1.4v1.4h-1.4zM517.0 260.4h1.4v1.4h-1.4zM475.3 221.9h1.4v1.4h-1.4zM447.5 297.5h1.4v1.4h-1.4zM523.7 256.3h1.4v1.4h-1.4zM428.3 254.7h1.4v1.4h-1.4zM446.4 221.5h1.4v1.4h-1.4zM445.3 298.3h1.4v1.4h-1.4zM468.5 292.2h1.4v1.4h-1.4zM492.2 268.0h1.4v1.4h-1.4zM499.1 266.8h1.4v1.4h-1.4zM434.4 248.8h1.4v1.4h-1.4zM468.5 220.4h1.4v1.4h-1.4zM414.0 295.8h1.4v1.4h-1.4zM487.5 219.8h1.4v1.4h-1.4zM414.2 269.5h1.4v1.4h-1.4zM459.6 298.3h1.4v1.4h-1.4zM507.1 263.9h1.4v1.4h-1.4zM413.1 299.6h1.4v1.4h-1.4zM442.4 300.2h1.4v1.4h-1.4zM437.0 301.7h1.4v1.4h-1.4zM522.4 225.4h1.4v1.4h-1.4zM521.2 226.3h1.4v1.4h-1.4zM490.6 279.0h1.4v1.4h-1.4zM494.5 284.4h1.4v1.4h-1.4zM414.6 280.0h1.4v1.4h-1.4zM469.1 222.5h1.4v1.4h-1.4zM520.2 217.8h1.4v1.4h-1.4zM477.0 288.3h1.4v1.4h-1.4zM498.0 215.1h1.4v1.4h-1.4zM495.7 262.5h1.4v1.4h-1.4zM474.0 220.5h1.4v1.4h-1.4zM524.3 236.0h1.4v1.4h-1.4zM443.5 225.3h1.4v1.4h-1.4zM414.9 300.8h1.4v1.4h-1.4zM520.9 226.4h1.4v1.4h-1.4zM491.7 283.5h1.4v1.4h-1.4zM511.7 213.0h1.4v1.4h-1.4zM519.1 217.6h1.4v1.4h-1.4zM491.8 221.3h1.4v1.4h-1.4zM524.5 232.3h1.4v1.4h-1.4zM481.9 220.6h1.4v1.4h-1.4zM492.4 276.0h1.4v1.4h-1.4zM525.4 234.5h1.4v1.4h-1.4zM414.7 291.7h1.4v1.4h-1.4zM469.3 291.9h1.4v1.4h-1.4zM433.7 305.3h1.4v1.4h-1.4zM441.1 299.9h1.4v1.4h-1.4zM507.7 216.1h1.4v1.4h-1.4zM429.2 304.9h1.4v1.4h-1.4zM412.3 265.0h1.4v1.4h-1.4zM414.0 282.7h1.4v1.4h-1.4zM430.1 255.0h1.4v1.4h-1.4zM503.2 207.5h1.4v1.4h-1.4zM438.9 232.1h1.4v1.4h-1.4zM408.1 285.8h1.4v1.4h-1.4zM466.3 294.0h1.4v1.4h-1.4zM521.9 238.4h1.4v1.4h-1.4zM491.4 267.3h1.4v1.4h-1.4zM516.0 260.5h1.4v1.4h-1.4zM500.0 277.9h1.4v1.4h-1.4zM492.7 266.1h1.4v1.4h-1.4zM490.5 277.5h1.4v1.4h-1.4zM511.9 261.7h1.4v1.4h-1.4zM491.2 263.9h1.4v1.4h-1.4zM494.4 274.9h1.4v1.4h-1.4zM517.7 265.1h1.4v1.4h-1.4zM502.5 264.9h1.4v1.4h-1.4zM503.0 275.7h1.4v1.4h-1.4zM515.7 264.7h1.4v1.4h-1.4zM516.2 271.1h1.4v1.4h-1.4zM507.6 263.6h1.4v1.4h-1.4zM495.1 283.3h1.4v1.4h-1.4zM499.6 266.0h1.4v1.4h-1.4zM493.7 275.2h1.4v1.4h-1.4zM509.6 272.7h1.4v1.4h-1.4zM506.0 266.4h1.4v1.4h-1.4zM509.8 262.9h1.4v1.4h-1.4zM488.3 285.9h1.4v1.4h-1.4zM519.4 257.7h1.4v1.4h-1.4zM493.2 263.3h1.4v1.4h-1.4zM516.5 267.3h1.4v1.4h-1.4zM514.4 265.6h1.4v1.4h-1.4zM500.4 266.0h1.4v1.4h-1.4zM495.0 266.1h1.4v1.4h-1.4zM505.5 261.8h1.4v1.4h-1.4zM506.9 262.4h1.4v1.4h-1.4zM502.4 281.9h1.4v1.4h-1.4zM512.9 270.7h1.4v1.4h-1.4zM513.4 276.6h1.4v1.4h-1.4zM490.9 277.4h1.4v1.4h-1.4zM493.9 271.3h1.4v1.4h-1.4zM505.3 267.9h1.4v1.4h-1.4zM510.4 263.8h1.4v1.4h-1.4zM493.0 278.5h1.4v1.4h-1.4zM513.3 261.4h1.4v1.4h-1.4zM502.4 276.8h1.4v1.4h-1.4zM505.0 269.9h1.4v1.4h-1.4zM491.8 284.3h1.4v1.4h-1.4zM491.1 276.1h1.4v1.4h-1.4zM500.4 281.9h1.4v1.4h-1.4zM519.0 262.4h1.4v1.4h-1.4zM501.6 264.0h1.4v1.4h-1.4zM501.6 273.4h1.4v1.4h-1.4zM518.5 260.2h1.4v1.4h-1.4zM495.5 276.1h1.4v1.4h-1.4zM501.9 262.1h1.4v1.4h-1.4zM503.9 269.6h1.4v1.4h-1.4zM491.7 266.0h1.4v1.4h-1.4zM510.3 261.6h1.4v1.4h-1.4zM505.3 268.9h1.4v1.4h-1.4zM501.7 269.1h1.4v1.4h-1.4zM492.3 265.1h1.4v1.4h-1.4zM491.1 268.0h1.4v1.4h-1.4zM529.2 232.3h1.4v1.4h-1.4zM530.8 243.5h1.4v1.4h-1.4zM522.7 256.2h1.4v1.4h-1.4zM539.8 252.4h1.4v1.4h-1.4zM521.2 256.6h1.4v1.4h-1.4zM522.5 233.5h1.4v1.4h-1.4zM525.9 238.0h1.4v1.4h-1.4zM523.2 223.0h1.4v1.4h-1.4zM529.9 229.6h1.4v1.4h-1.4zM528.6 226.0h1.4v1.4h-1.4zM534.6 231.3h1.4v1.4h-1.4zM527.6 248.9h1.4v1.4h-1.4zM525.4 245.8h1.4v1.4h-1.4zM525.8 228.3h1.4v1.4h-1.4zM528.0 252.7h1.4v1.4h-1.4zM532.6 251.4h1.4v1.4h-1.4zM522.1 238.7h1.4v1.4h-1.4zM523.7 248.7h1.4v1.4h-1.4zM533.1 224.0h1.4v1.4h-1.4zM527.9 225.7h1.4v1.4h-1.4zM523.9 248.2h1.4v1.4h-1.4zM524.9 235.6h1.4v1.4h-1.4zM530.0 250.5h1.4v1.4h-1.4zM532.3 251.8h1.4v1.4h-1.4zM524.7 239.4h1.4v1.4h-1.4zM523.0 244.9h1.4v1.4h-1.4zM525.5 247.0h1.4v1.4h-1.4zM528.9 232.5h1.4v1.4h-1.4zM539.8 226.3h1.4v1.4h-1.4zM428.8 304.9h1.4v1.4h-1.4zM432.3 308.5h1.4v1.4h-1.4zM426.5 318.4h1.4v1.4h-1.4zM427.7 307.5h1.4v1.4h-1.4zM420.9 309.5h1.4v1.4h-1.4zM443.4 299.7h1.4v1.4h-1.4zM422.0 310.0h1.4v1.4h-1.4zM416.4 317.1h1.4v1.4h-1.4zM435.1 304.0h1.4v1.4h-1.4zM428.9 307.6h1.4v1.4h-1.4zM443.8 307.8h1.4v1.4h-1.4zM455.9 295.6h1.4v1.4h-1.4zM440.1 300.3h1.4v1.4h-1.4zM421.7 309.2h1.4v1.4h-1.4zM427.1 305.7h1.4v1.4h-1.4zM442.0 300.6h1.4v1.4h-1.4zM443.6 300.5h1.4v1.4h-1.4zM440.5 307.9h1.4v1.4h-1.4zM448.0 301.3h1.4v1.4h-1.4zM450.5 299.4h1.4v1.4h-1.4zM428.0 305.0h1.4v1.4h-1.4zM443.0 299.5h1.4v1.4h-1.4zM437.9 303.0h1.4v1.4h-1.4zM446.6 309.0h1.4v1.4h-1.4zM455.7 300.7h1.4v1.4h-1.4zM439.5 307.0h1.4v1.4h-1.4zM447.5 299.5h1.4v1.4h-1.4zM463.2 293.2h1.4v1.4h-1.4zM451.5 302.0h1.4v1.4h-1.4zM422.9 308.2h1.4v1.4h-1.4zM449.0 308.0h1.4v1.4h-1.4zM421.7 319.8h1.4v1.4h-1.4zM447.0 305.3h1.4v1.4h-1.4zM462.2 294.2h1.4v1.4h-1.4zM461.6 295.2h1.4v1.4h-1.4zM444.6 299.0h1.4v1.4h-1.4zM432.4 312.7h1.4v1.4h-1.4zM447.3 302.5h1.4v1.4h-1.4zM439.4 308.3h1.4v1.4h-1.4zM425.4 307.6h1.4v1.4h-1.4z"/>
<path fill="#5e35fe" fill-rule="evenodd" d="M420.4,307.7 420.9,308.1 423.5,306.5 425.6,304.1 427.7,305.9 428.2,305.9 428.2,302.0 429.7,300.0 431.8,302.3 433.4,302.9 436.0,300.1 438.0,299.6 439.6,298.0 441.1,297.9 442.2,296.7 445.3,296.8 446.3,297.3 448.4,297.2 450.5,295.8 453.0,292.6 454.6,293.0 456.2,292.8 459.8,290.9 462.4,290.3 463.9,288.8 465.0,289.0 466.0,290.2 467.5,290.4 468.3,290.0 468.3,288.0 468.8,287.4 469.6,287.3 471.2,288.0 473.2,286.6 474.3,285.4 475.8,286.4 478.4,285.8 480.5,286.0 482.2,284.8 482.3,284.3 481.5,283.3 482.0,282.5 482.9,282.8 483.6,284.0 484.6,283.7 486.2,284.4 487.2,283.7 489.3,283.5 489.8,282.8 489.7,280.7 488.6,278.1 488.0,275.0 489.1,273.4 489.3,270.3 490.3,268.7 489.8,264.0 490.0,262.5 489.6,260.9 490.3,259.7 491.9,259.7 493.4,259.2 495.0,259.7 499.1,259.7 500.7,260.3 504.8,260.2 506.0,258.3 507.9,257.7 509.0,258.0 510.0,259.1 512.1,259.1 514.2,259.8 515.7,259.0 517.3,260.0 517.8,259.9 517.5,258.8 518.1,257.3 520.0,255.2 519.1,253.6 519.6,252.1 519.7,249.0 520.8,246.4 519.1,241.7 519.1,237.5 520.2,235.4 518.8,234.6 518.7,232.3 517.7,230.2 517.7,227.1 518.9,226.1 518.4,224.5 519.1,222.4 518.8,221.4 516.2,220.7 514.7,222.1 513.7,221.4 513.6,220.1 511.0,219.3 509.5,220.9 506.4,221.4 502.8,221.1 500.7,220.4 500.2,220.6 499.7,221.5 499.3,224.0 498.1,225.3 497.1,225.1 496.5,224.5 494.5,224.7 492.9,223.3 491.4,224.3 489.3,224.8 488.3,226.3 486.7,226.5 486.2,226.5 485.5,225.6 485.9,224.0 485.7,223.8 483.6,223.6 481.5,224.5 480.0,224.1 478.4,224.7 475.8,224.8 474.3,224.6 471.7,223.6 470.4,226.6 469.6,227.2 468.6,227.3 467.0,226.3 465.5,227.3 463.4,226.9 461.9,227.4 460.8,228.2 459.3,228.0 457.2,228.7 455.1,230.1 454.1,229.8 453.0,228.9 452.2,230.2 450.5,231.3 446.8,232.3 446.3,232.1 445.6,233.9 444.8,234.5 441.7,233.7 438.0,238.5 436.9,243.2 437.5,244.5 439.0,245.3 437.5,246.9 436.6,249.5 437.1,251.6 436.1,252.6 436.1,254.2 435.4,254.8 434.4,254.7 434.4,256.2 433.9,257.5 433.4,258.0 431.8,257.5 430.3,257.9 427.7,259.6 424.2,260.4 422.8,262.0 422.5,263.2 420.9,263.9 420.6,265.1 419.9,265.7 418.4,264.8 417.8,264.7 417.7,265.1 419.2,267.7 417.8,271.3 419.4,272.5 419.8,273.4 418.0,276.5 419.2,278.1 418.9,279.1 420.0,280.2 419.4,281.2 417.6,281.7 417.2,282.2 418.0,283.8 418.0,289.5 418.3,291.1 417.8,292.6 418.5,294.7 417.4,297.3 418.6,303.0 420.9,304.6Z"/>
<path fill="#4062fa" fill-rule="evenodd" d="M420.6,307.7 421.5,307.7 423.5,306.3 424.7,304.6 425.6,304.0 427.7,305.7 428.2,305.7 427.8,304.1 427.9,302.5 429.0,300.4 429.7,299.9 430.6,300.4 431.8,302.2 433.4,302.8 436.0,299.9 438.0,299.5 439.6,297.9 441.1,297.5 442.2,296.5 443.7,296.4 446.3,297.1 448.9,296.9 453.0,292.4 454.6,292.9 456.0,292.6 459.8,290.6 462.4,290.2 463.9,288.6 465.4,289.0 466.0,290.1 468.1,290.1 468.1,288.0 468.6,287.2 469.6,287.1 471.2,287.7 473.2,286.4 474.3,285.1 475.8,286.2 477.9,285.6 480.5,285.9 482.1,284.8 481.3,283.3 482.0,282.3 483.4,282.8 483.6,283.6 485.2,283.5 486.2,284.1 487.2,283.6 489.3,283.4 489.7,282.8 489.5,280.7 488.4,278.1 487.9,275.0 487.9,274.4 488.9,273.4 489.1,270.8 490.1,268.7 489.6,264.0 489.8,262.5 489.4,260.9 489.8,259.9 490.3,259.5 492.4,259.4 493.4,259.0 495.0,259.5 499.7,259.6 501.2,260.2 504.8,260.0 505.4,258.3 507.9,257.5 509.0,257.8 510.0,258.9 512.1,258.9 514.2,259.7 515.2,258.9 516.2,258.9 517.3,259.8 517.8,257.3 517.8,256.7 516.9,256.2 517.8,255.6 518.8,255.9 519.9,255.2 518.8,254.2 518.9,253.6 519.5,252.1 519.6,249.0 520.6,246.4 519.0,242.2 518.8,238.6 519.4,236.0 518.5,234.4 518.4,231.8 517.4,230.2 517.7,229.2 517.5,227.1 518.4,226.1 518.4,225.6 517.3,225.1 517.0,224.5 518.8,223.0 518.8,221.9 516.2,221.0 514.7,222.3 513.3,221.4 513.5,220.4 511.0,219.6 509.5,221.1 507.4,221.2 506.4,221.7 500.7,220.6 500.2,220.8 499.8,221.9 500.4,223.0 499.7,223.3 499.2,224.5 498.1,225.4 494.5,224.9 492.9,223.4 491.9,224.2 489.3,225.0 488.8,226.2 486.2,226.9 485.3,225.6 485.7,223.9 483.6,223.7 481.5,224.6 480.0,224.2 478.9,224.8 477.4,224.9 474.3,224.8 471.7,223.7 471.0,226.1 469.6,227.4 467.5,227.3 467.0,226.6 466.5,226.6 465.5,227.5 462.9,227.1 460.8,228.5 459.3,228.2 457.9,228.7 455.1,231.0 453.0,229.1 452.5,230.2 450.5,231.5 448.9,232.1 446.3,232.3 445.9,233.9 444.8,234.7 441.7,233.9 438.2,238.6 437.1,243.2 437.5,244.3 439.2,245.3 439.1,245.8 438.0,246.4 436.9,249.0 437.3,251.6 436.3,252.6 436.3,254.2 435.4,255.1 434.4,255.1 434.7,256.2 433.9,257.8 433.4,258.3 431.8,257.7 429.5,258.3 428.7,259.4 429.4,260.4 429.2,260.9 428.3,259.9 427.7,259.8 424.5,260.4 422.9,262.0 422.5,263.5 421.2,264.0 419.9,266.0 419.4,266.0 418.8,265.1 417.8,265.1 419.4,267.2 418.1,271.3 419.6,272.4 420.0,273.4 418.2,276.5 419.3,277.6 420.2,280.2 419.4,281.4 417.6,282.2 418.2,283.8 418.4,286.4 418.1,289.5 418.5,291.1 418.0,292.6 418.6,294.7 417.6,297.3 418.6,301.0 418.7,303.0 421.0,304.6Z"/>
<path fill="#2884f6" fill-rule="evenodd" d="M420.7,307.7 421.3,307.7 423.5,306.3 424.7,304.6 425.6,304.0 426.9,304.6 427.7,305.7 428.2,305.7 427.7,304.1 427.9,302.5 429.0,300.4 429.7,299.8 430.7,300.4 431.8,302.2 433.4,302.7 436.0,299.8 438.0,299.4 439.4,297.8 441.1,297.3 442.2,296.4 444.8,296.4 446.3,297.1 448.9,296.8 453.0,292.3 454.6,292.8 455.7,292.6 457.7,291.4 458.9,291.1 459.3,290.0 460.3,290.5 461.9,290.3 462.4,290.0 463.4,288.6 464.4,288.4 466.0,288.5 465.9,289.5 466.3,290.0 467.9,290.0 467.8,288.0 468.6,287.0 471.2,287.5 474.3,284.9 475.8,286.0 478.4,285.5 480.0,285.9 481.3,285.4 481.8,284.8 481.2,283.3 482.0,282.1 484.1,282.4 484.4,283.3 486.2,283.9 487.2,283.5 489.3,283.3 489.6,282.2 489.5,280.7 488.3,278.1 487.8,275.0 488.0,273.9 488.8,273.4 489.0,270.8 490.0,268.7 489.5,264.0 489.8,263.0 489.3,260.9 489.8,259.6 492.4,259.4 493.4,258.9 495.0,259.4 499.7,259.5 501.2,260.1 504.8,259.9 504.6,258.3 507.9,257.4 509.0,257.7 510.0,258.7 512.6,258.9 514.2,259.6 515.2,258.8 516.7,258.9 517.3,258.4 517.5,257.3 516.0,256.2 518.1,254.7 519.3,252.3 519.5,249.0 520.5,246.4 520.4,245.4 519.4,244.3 518.9,242.2 518.6,239.1 519.2,236.0 518.6,234.9 518.3,231.8 517.3,230.2 517.6,226.1 516.7,224.5 516.8,224.0 518.3,223.2 518.8,222.4 516.7,221.3 514.7,222.5 512.1,221.1 512.4,220.4 511.6,219.8 511.0,219.8 509.5,221.2 507.4,221.3 506.4,221.8 500.7,220.7 500.2,221.0 500.1,221.9 500.9,222.4 500.9,223.0 498.1,225.5 497.1,225.7 494.0,224.9 492.9,223.5 491.9,224.4 489.5,225.0 488.8,226.4 486.2,227.1 485.2,226.1 485.4,224.0 483.6,223.8 481.5,224.8 480.0,224.3 477.9,225.0 474.3,224.8 471.7,223.8 471.0,226.6 469.6,227.6 462.9,227.4 460.8,228.6 459.3,228.4 458.2,228.8 456.1,230.2 455.1,231.5 454.5,231.3 453.0,229.4 452.8,230.2 450.5,231.6 448.9,232.2 446.3,232.5 446.6,233.9 446.3,234.2 444.2,234.7 441.7,234.0 438.3,238.6 437.3,243.2 437.5,244.1 438.9,244.8 439.4,245.8 438.0,246.4 437.0,249.0 437.4,251.6 436.4,252.6 436.5,254.2 433.4,258.4 432.3,258.4 431.8,257.8 429.7,258.3 429.0,258.8 429.9,260.4 429.7,261.2 429.2,261.3 427.7,259.9 425.1,260.3 423.9,260.9 423.0,262.0 422.6,263.5 421.4,264.0 419.6,266.6 419.0,269.8 418.4,270.8 418.4,271.5 420.2,272.9 420.1,273.9 418.3,276.0 418.3,276.5 419.8,278.1 420.3,280.2 419.9,281.1 418.6,282.2 418.3,284.8 418.6,286.4 418.2,289.5 418.6,291.1 418.1,292.6 418.7,294.7 417.6,297.3 418.7,301.0 418.8,303.0 421.1,304.6ZM436.5,256.8 436.0,256.2 437.0,255.7 437.0,256.8ZM418.8,266.1 418.9,265.6 418.1,265.1 418.4,265.9ZM518.7,255.2 519.3,255.5 519.6,255.2Z"/>
<path fill="#0ea5ef" fill-rule="evenodd" d="M420.8,307.7 423.5,306.2 424.6,304.6 425.6,303.9 427.5,304.6 427.7,305.4 428.0,305.1 427.5,304.1 428.0,302.0 429.7,299.7 430.8,300.4 431.8,302.1 433.4,302.7 436.0,299.6 437.9,299.4 439.2,297.8 441.1,297.2 442.2,296.3 444.8,296.2 446.3,297.0 448.6,296.8 451.8,293.7 452.5,292.3 453.0,292.2 454.6,292.7 455.6,292.5 458.7,290.7 459.3,289.5 460.3,290.2 461.9,290.2 462.4,290.0 463.4,288.2 467.0,288.2 469.1,286.5 471.2,287.2 473.8,284.9 475.3,284.2 475.9,284.3 476.3,285.4 476.9,285.6 481.0,285.4 481.6,284.8 481.1,283.3 482.0,281.8 485.1,281.7 485.2,283.3 486.2,283.7 489.3,283.3 489.6,282.2 489.3,280.4 488.3,279.1 487.2,279.6 486.7,279.3 486.3,278.1 486.7,277.5 487.7,277.7 488.0,277.0 487.6,274.4 488.8,273.0 488.7,271.3 490.0,268.7 489.2,260.9 489.8,259.4 492.4,258.8 491.9,258.6 491.9,258.2 492.9,257.6 493.9,257.8 494.4,258.8 495.0,259.1 499.7,259.4 501.2,260.0 503.3,259.9 503.8,259.4 503.9,258.3 505.4,257.5 508.5,257.3 510.0,258.5 512.1,258.7 514.2,259.5 515.2,258.5 516.7,258.4 517.1,257.8 515.5,256.2 515.7,255.7 517.3,255.2 519.2,252.1 519.1,250.0 520.4,246.4 520.4,245.7 519.4,244.8 518.7,242.2 518.5,239.1 519.0,236.5 518.4,234.9 518.4,232.3 516.9,230.2 517.3,229.2 517.2,226.6 516.5,224.0 518.0,223.0 518.2,222.4 516.7,221.7 514.7,222.7 511.9,221.4 511.0,220.3 509.5,221.3 507.4,221.3 505.9,222.0 504.6,221.4 502.2,221.4 500.7,220.8 500.2,221.4 501.2,222.3 501.2,223.0 498.1,225.7 497.1,225.9 494.5,225.2 492.9,225.6 492.5,225.0 493.2,224.5 492.9,223.7 491.9,224.5 489.8,225.0 488.8,226.5 486.2,227.5 485.0,226.1 485.2,224.3 484.4,224.0 483.1,223.9 481.5,225.0 480.0,224.4 477.9,225.2 474.3,224.9 471.7,223.9 471.4,226.6 470.1,227.6 465.0,228.1 462.9,227.6 460.8,228.7 458.7,228.8 456.5,230.2 455.1,231.9 453.0,230.4 449.4,232.2 447.9,232.3 446.6,232.8 447.4,234.4 447.0,234.9 445.8,234.6 444.2,234.8 441.7,234.2 438.5,238.2 437.5,242.7 437.5,243.8 439.0,244.8 439.9,246.4 438.0,246.6 437.0,249.2 437.5,251.6 436.5,253.1 437.3,254.2 437.4,256.8 437.0,257.1 434.9,256.7 433.9,258.2 432.9,258.8 431.8,258.8 431.2,258.3 429.7,258.5 429.2,258.8 430.1,260.4 429.7,261.6 429.2,261.7 427.7,260.1 425.1,260.4 424.0,260.9 423.2,262.0 422.8,263.5 421.5,264.3 419.9,266.6 419.3,270.3 418.5,271.3 419.9,272.0 420.4,272.9 420.3,273.9 418.5,276.0 418.5,276.5 420.1,278.1 420.4,279.6 420.3,280.7 418.9,282.2 419.0,283.8 418.4,284.8 418.9,288.0 418.4,289.1 418.8,291.1 418.2,292.6 418.7,295.2 417.7,297.3 418.8,301.0 418.8,303.0 420.4,303.8 421.1,304.6ZM499.7,257.4 499.4,256.8 500.2,256.2 500.4,256.8ZM466.5,289.5 467.5,289.9 467.8,289.5 467.0,288.8Z"/>
<path fill="#0dc2e8" fill-rule="evenodd" d="M420.9,307.7 423.5,306.2 425.1,304.0 427.2,304.0 428.2,301.5 429.7,299.7 430.9,300.4 431.8,302.0 433.4,302.6 436.0,299.3 437.7,299.4 439.0,297.8 442.2,296.2 444.8,296.0 446.3,296.9 448.2,296.8 449.5,295.2 451.6,293.7 452.5,292.0 454.6,292.6 458.2,290.7 459.3,289.2 460.8,290.2 461.9,290.1 462.6,289.5 463.1,288.0 467.0,287.7 468.3,286.4 468.6,284.8 469.2,284.8 469.5,286.4 470.7,287.0 475.3,283.6 477.9,285.2 480.5,285.2 481.1,284.8 480.8,283.8 481.1,282.8 482.0,281.6 485.2,281.2 486.1,281.7 486.2,283.1 488.8,283.4 489.3,283.1 489.3,280.7 488.8,280.3 486.9,280.2 485.9,278.6 486.2,277.4 487.7,276.9 487.5,273.9 488.5,272.9 488.4,271.3 489.9,268.7 489.0,260.9 489.4,259.4 490.9,258.8 492.4,257.3 494.0,257.5 495.0,258.7 496.7,259.4 499.7,258.9 500.6,259.9 501.2,260.0 502.9,259.9 503.4,259.4 503.8,257.6 505.4,257.1 508.5,257.1 510.0,258.3 512.1,258.5 514.2,259.4 515.2,258.2 516.4,257.8 515.2,256.4 515.2,255.7 517.3,254.9 517.8,253.4 518.8,252.3 519.0,249.5 520.4,246.4 519.9,245.3 518.8,245.3 518.6,244.8 518.9,243.8 518.3,239.1 518.8,236.5 518.2,234.9 518.3,232.3 516.5,230.2 517.2,228.2 516.1,224.0 517.4,223.0 517.5,222.4 516.2,222.1 515.2,223.0 514.7,223.0 510.5,221.0 509.5,221.4 507.6,221.4 506.4,222.6 505.9,222.6 504.3,221.5 502.2,221.6 501.2,221.2 500.7,221.4 501.3,221.9 501.6,223.0 498.1,225.9 497.1,226.1 494.5,225.4 492.9,226.0 491.9,224.9 490.3,225.0 489.3,226.5 487.2,227.1 486.2,228.1 484.7,226.1 484.8,224.5 483.9,224.0 483.1,224.0 481.5,225.3 480.7,224.5 480.0,224.5 477.9,225.5 474.8,225.2 471.7,224.1 471.5,225.0 471.8,226.6 470.1,228.0 468.1,227.9 465.5,229.1 462.9,228.1 460.8,229.0 458.7,229.0 456.7,230.3 455.6,232.0 455.1,232.2 453.0,231.0 452.0,231.1 450.4,231.8 448.9,233.0 448.4,232.6 447.5,232.8 447.9,234.4 447.4,235.4 445.8,234.8 441.7,234.3 438.5,238.6 437.8,242.7 437.9,243.8 440.3,246.4 440.1,248.5 439.6,248.5 439.6,247.4 439.1,246.9 438.0,246.8 437.1,249.5 437.7,251.6 436.8,253.1 437.8,254.2 437.5,257.1 437.0,257.4 434.9,257.1 433.9,258.5 432.9,259.2 431.3,259.2 430.3,258.5 429.7,258.7 430.4,259.9 430.2,261.4 429.7,262.0 429.2,262.0 427.2,260.3 424.2,260.9 423.3,262.0 422.6,264.0 421.5,264.6 420.2,266.6 419.7,270.8 420.4,271.8 420.7,273.4 420.4,274.2 418.7,276.0 420.3,278.1 420.7,279.6 420.4,280.7 419.1,282.2 419.4,283.8 418.7,284.8 419.4,288.0 418.4,289.5 418.9,291.1 418.3,292.6 418.8,295.2 417.8,297.3 418.9,301.0 418.9,303.0 420.4,303.7 421.2,304.6ZM442.7,238.4 442.7,237.5 443.8,237.0 444.2,237.5 444.0,238.0ZM499.1,257.9 499.1,256.8 499.7,255.9 500.2,255.8 500.7,256.8 499.7,258.0ZM508.5,224.1 508.5,223.6 509.0,224.0Z"/>
<path fill="#27dade" fill-rule="evenodd" d="M420.8,307.2 420.9,307.6 423.4,306.2 425.1,303.9 427.2,303.5 428.8,300.4 429.7,299.6 431.0,300.4 431.9,302.0 433.4,302.5 434.9,300.8 436.0,298.7 437.5,299.4 439.1,297.6 442.7,295.9 444.8,295.8 446.3,296.8 447.9,296.7 448.9,295.9 449.4,294.9 451.5,293.7 452.5,291.4 454.1,292.2 455.1,292.2 456.2,291.2 457.7,290.6 459.3,288.9 460.8,290.0 461.9,290.0 462.4,289.5 462.9,287.6 466.7,287.4 467.4,286.9 468.6,284.4 469.6,284.8 470.0,286.4 470.7,286.7 472.2,285.8 475.3,282.9 477.0,283.8 478.0,284.8 480.0,284.7 482.0,281.4 486.2,280.7 485.3,278.6 485.5,278.1 486.2,276.8 487.2,276.5 487.1,273.4 487.8,272.9 488.1,271.3 489.8,268.7 488.8,259.4 490.9,258.4 491.9,257.1 494.0,257.1 495.0,258.0 496.9,257.3 497.5,257.8 497.0,258.8 497.6,259.2 498.5,258.8 498.1,257.8 499.7,254.7 501.0,256.2 500.1,258.8 501.1,259.9 502.8,259.6 503.4,257.3 505.9,255.7 506.9,256.7 507.9,256.5 509.0,256.9 510.5,258.3 512.1,258.3 514.2,259.1 515.4,257.3 514.8,255.7 515.2,255.2 517.1,254.7 517.5,253.1 518.8,251.6 518.6,250.0 519.9,247.8 520.2,246.4 519.9,245.7 518.3,246.1 518.1,245.8 518.4,243.8 518.1,239.1 518.6,236.5 517.9,234.9 517.8,231.8 516.3,230.8 516.2,230.2 516.9,228.2 516.2,227.1 516.5,226.1 515.6,223.5 510.5,221.3 507.9,221.6 507.4,221.9 507.2,223.0 506.4,223.1 505.4,223.0 504.3,221.8 502.5,221.9 501.6,223.5 498.1,226.1 497.1,226.3 494.5,225.6 492.7,226.6 492.4,227.8 491.4,228.0 490.4,227.6 490.6,227.1 491.8,226.6 492.1,226.1 491.5,225.0 490.5,225.0 489.7,226.6 487.2,227.5 486.2,229.0 484.1,226.1 484.1,224.5 483.6,224.1 482.5,224.5 481.5,225.9 480.8,225.6 480.5,224.7 480.0,224.6 479.0,225.6 477.9,225.8 474.8,225.4 472.2,224.2 471.7,224.4 471.6,225.0 472.1,227.1 470.1,228.6 468.1,228.1 465.5,229.6 462.9,228.6 460.3,229.4 458.7,229.2 456.7,230.6 455.6,232.6 454.6,232.5 452.5,231.4 450.5,232.1 448.4,234.6 447.9,235.8 447.4,236.0 445.8,235.1 444.2,235.1 442.7,234.4 441.7,234.6 439.6,237.0 439.4,238.0 438.5,238.7 438.4,243.8 440.4,245.8 440.7,247.9 440.2,249.0 439.6,249.2 439.2,249.0 439.0,247.4 438.5,247.0 437.5,248.5 437.3,249.5 438.0,251.6 437.5,253.1 438.1,254.2 437.5,257.8 434.9,257.5 432.9,259.6 430.9,259.9 430.7,261.4 429.7,262.4 428.7,262.3 427.8,260.9 427.2,260.5 424.6,261.1 423.5,262.0 422.9,264.0 421.5,265.1 420.4,266.6 420.3,270.3 420.9,271.3 421.0,273.9 418.9,276.0 420.6,278.1 421.0,279.6 419.4,282.2 419.8,283.8 419.2,284.8 419.8,288.5 418.7,289.5 419.2,291.1 418.3,292.6 419.0,295.2 417.9,297.3 418.7,299.9 419.9,301.0 419.4,301.0 418.9,301.8 418.9,302.7 420.9,304.0 421.3,304.6ZM422.5,276.9 422.1,276.0 422.5,274.7 423.3,276.0ZM431.8,262.0 431.5,261.4 431.8,261.0 432.3,260.6 432.9,260.8 432.5,262.0ZM442.2,239.2 442.1,238.0 442.7,237.1 443.7,236.7 444.2,237.0 444.2,238.2ZM465.5,286.0 465.2,285.4 465.5,285.0 466.7,285.4 466.2,285.9ZM476.9,229.0 476.5,228.2 477.4,227.5 477.9,227.8 478.3,228.7ZM484.1,275.0 484.6,274.6 485.0,275.0ZM500.7,228.6 500.3,228.2 500.7,227.3 501.4,228.2 501.2,228.7ZM508.5,224.6 507.8,224.0 507.7,223.0 508.5,222.8 509.8,224.0 509.5,224.6ZM513.1,229.0 512.7,228.7 513.1,228.4 513.9,228.7ZM515.2,246.4 515.2,245.8 516.0,245.8 515.7,246.6ZM488.6,283.3 489.4,282.8 489.3,281.1 488.8,280.7 487.2,280.9 486.9,281.2 486.9,282.8ZM516.0,223.0 516.8,223.0 516.8,222.4Z"/>
<path fill="#40ecd4" fill-rule="evenodd" d="M420.9,307.2 421.5,307.3 423.3,306.2 425.1,303.8 427.2,303.2 429.2,299.7 430.3,299.7 432.0,302.0 433.4,302.4 435.1,300.4 436.0,298.3 437.0,299.2 437.5,299.2 439.1,297.5 442.7,295.8 444.8,295.6 446.3,296.6 448.1,296.3 449.0,294.7 451.2,293.7 452.5,290.7 454.6,292.0 455.6,290.6 457.7,290.1 459.3,288.6 459.8,288.6 460.8,289.8 461.9,289.9 462.3,289.0 462.4,287.4 466.6,286.9 466.5,286.6 465.0,286.5 464.8,284.8 465.5,284.4 467.5,285.1 468.6,284.0 469.1,284.0 470.1,284.8 470.7,286.1 471.7,285.8 474.0,283.8 474.5,282.8 473.8,281.9 472.2,282.9 471.7,282.2 471.7,281.1 475.8,281.2 477.4,282.4 478.4,282.6 478.9,283.6 480.0,283.9 481.5,281.3 483.1,280.9 484.5,279.6 484.9,278.1 486.3,276.0 486.2,274.9 484.1,275.9 483.5,275.5 483.7,274.4 485.2,273.7 486.5,271.8 487.2,271.8 488.8,270.5 489.4,269.2 489.7,266.6 488.2,258.8 490.3,258.5 491.5,256.8 494.0,256.8 495.0,257.4 496.5,256.6 498.1,256.5 498.8,255.7 498.8,254.2 500.2,253.6 501.4,255.7 500.5,258.8 501.2,259.6 502.6,259.4 503.3,256.7 505.4,254.9 506.9,255.1 509.0,256.3 510.5,258.1 512.6,258.0 513.8,258.8 515.0,257.3 514.4,255.7 515.1,254.2 513.1,252.1 512.2,250.5 512.6,250.0 514.2,250.2 515.2,249.2 516.2,250.5 515.7,251.2 514.2,250.9 514.2,251.6 516.7,252.6 517.3,252.4 518.3,251.6 518.4,249.5 519.9,247.6 520.0,246.9 519.9,246.1 517.8,246.9 517.3,246.4 517.8,243.8 516.9,242.7 518.0,241.7 517.8,239.6 518.4,236.5 517.4,233.9 516.2,233.4 515.7,231.9 515.0,231.3 516.6,228.7 516.5,228.2 515.4,228.2 513.6,229.7 512.6,229.5 512.1,228.7 512.6,228.0 514.1,227.6 514.3,227.1 513.7,225.6 514.2,225.1 515.7,226.0 515.9,225.6 515.2,224.0 513.7,223.0 510.5,221.6 509.4,221.9 509.1,222.4 510.9,224.0 510.7,224.5 509.0,225.2 507.9,224.8 506.9,223.5 504.4,223.5 504.4,222.4 503.8,221.9 502.8,222.4 502.8,223.6 500.4,224.5 500.3,225.0 500.7,225.5 502.2,225.5 502.6,226.1 502.0,228.7 501.2,229.4 498.8,228.2 499.8,227.1 499.7,226.0 497.1,226.6 494.5,225.9 493.4,226.6 493.2,227.6 491.9,228.9 489.6,228.7 488.8,228.2 489.1,227.6 488.3,227.5 487.7,227.6 487.1,229.2 485.7,229.9 484.6,226.9 483.1,226.5 482.3,227.1 482.4,228.7 482.0,229.1 480.0,228.9 479.5,229.4 476.9,229.6 476.0,228.7 476.1,227.6 477.4,227.1 478.9,228.3 480.0,228.4 480.5,226.6 479.5,226.0 476.4,225.9 475.3,226.2 472.2,224.4 471.8,225.0 472.6,227.1 471.6,228.2 472.2,229.7 471.7,230.7 470.1,231.5 469.1,230.4 469.0,228.7 468.6,228.4 467.4,228.7 465.5,230.1 462.4,229.0 460.3,230.1 458.7,229.6 456.9,230.8 456.3,232.8 455.6,233.4 455.1,233.5 453.6,232.6 453.1,232.8 452.0,235.2 451.3,234.9 451.0,232.3 450.5,232.6 448.7,235.4 448.8,236.5 448.4,237.9 447.6,237.5 446.7,236.0 445.8,235.3 444.2,235.3 442.7,234.5 441.7,234.8 439.9,237.0 439.6,238.6 439.1,238.7 438.5,239.6 438.8,241.2 439.9,242.2 438.8,243.8 440.7,245.8 441.6,248.4 439.6,249.6 438.0,248.3 437.5,249.0 437.5,249.9 438.2,251.0 437.9,252.6 438.4,254.2 438.1,258.3 437.5,258.8 436.0,258.0 434.9,258.1 433.5,259.9 434.2,260.9 432.9,262.8 432.3,263.0 430.8,262.4 428.2,263.8 426.6,262.6 425.1,262.3 424.0,262.5 423.0,264.4 421.9,265.1 420.8,266.6 420.8,268.2 421.5,269.5 423.0,269.5 424.1,270.8 423.0,272.9 425.7,276.5 425.1,277.8 424.0,276.6 422.5,277.6 422.0,277.2 421.5,275.3 420.9,274.9 419.9,275.1 419.1,276.0 420.9,278.1 422.5,278.7 423.2,279.6 422.5,281.3 421.5,280.2 419.6,282.2 420.9,284.4 422.0,284.1 422.5,282.5 423.0,282.4 423.4,283.3 421.5,285.5 420.9,285.7 420.4,285.0 419.9,285.1 419.7,286.9 420.1,288.0 419.9,290.6 418.6,292.6 419.2,295.8 418.2,297.3 418.7,298.4 418.9,299.8 420.4,301.0 419.4,301.5 418.9,302.5 421.1,304.1 421.3,305.1ZM434.9,260.9 434.7,260.9 434.9,260.4 436.0,260.0 436.5,259.9 436.9,260.4 436.5,261.3ZM440.6,255.5 440.6,254.8 441.2,255.2ZM442.2,239.8 441.4,239.1 441.8,237.5 443.2,236.5 444.2,236.7 444.7,237.5 444.5,238.6 443.2,239.5ZM442.7,242.2 443.2,241.7 443.4,242.2ZM461.3,233.5 458.7,232.2 458.4,231.8 458.7,231.3 460.3,230.9 461.9,231.8 462.5,232.8 461.9,233.7ZM463.9,233.0 463.6,232.3 463.9,231.6 465.0,230.9 465.5,231.0 465.8,231.8 465.5,232.7 465.0,233.1ZM487.2,266.2 486.5,265.6 487.2,264.7 487.8,265.6ZM494.0,255.3 493.4,254.5 494.6,254.7 494.5,255.4ZM495.5,228.7 495.0,228.2 495.5,227.3 495.8,228.2ZM498.1,229.2 497.6,228.7 498.6,228.4ZM506.4,227.2 505.7,226.6 505.9,225.8 506.9,226.6ZM509.5,227.6 509.5,226.8 510.0,226.8ZM512.1,255.3 512.1,254.6 513.3,254.7 513.1,255.2ZM512.6,238.6 511.9,238.0 512.1,236.7 514.1,237.5 514.1,238.0ZM516.2,247.4 515.2,247.1 514.4,245.8 516.2,244.5 517.2,246.4 517.2,246.9ZM425.1,265.1 424.6,265.1 424.5,264.6 425.2,264.6ZM419.9,298.1 419.9,297.7 420.4,297.6 420.4,298.1ZM487.5,282.8 488.8,283.1 489.3,282.8 489.3,281.5 488.8,281.0 487.6,281.2 487.3,281.7ZM421.5,273.4 422.9,272.9 422.0,272.1 421.5,272.2ZM515.9,254.7 516.8,254.7 516.7,253.9 516.1,254.2ZM490.2,226.1 490.9,226.5 491.5,226.1 491.4,225.6 490.9,225.3 490.3,225.5ZM482.7,225.0 483.1,225.5 483.6,224.5 482.8,224.5Z"/>
<path fill="#58f8c9" fill-rule="evenodd" d="M421.2,307.2 423.5,305.8 424.6,304.0 427.0,303.0 429.2,299.6 430.3,299.6 432.1,302.0 433.4,302.2 435.0,300.4 435.4,298.5 436.0,298.1 437.5,299.0 438.5,297.6 442.7,295.5 445.3,295.4 446.3,296.3 447.9,295.9 447.9,295.2 446.8,295.1 446.3,294.7 446.8,294.2 448.4,294.4 451.0,293.7 451.0,292.1 452.0,289.5 454.1,291.1 455.1,290.2 457.2,290.0 458.5,288.5 459.8,287.9 460.3,286.8 461.9,286.5 463.9,286.8 464.3,286.4 464.2,284.8 463.9,284.1 461.9,283.3 461.9,282.8 462.4,282.4 463.3,282.8 463.9,283.6 467.0,284.2 467.2,283.3 466.1,282.2 466.5,281.5 467.6,281.2 468.2,281.7 468.8,283.3 471.1,284.3 471.2,284.9 471.7,285.1 472.4,284.3 471.3,282.8 470.7,280.2 471.2,279.8 472.7,280.7 474.3,280.3 477.4,281.4 478.0,281.2 478.5,280.2 477.6,279.1 477.8,278.6 478.4,278.4 479.5,278.9 481.0,278.6 481.5,277.0 482.1,277.0 482.2,278.1 483.1,278.9 484.1,278.6 484.8,277.0 483.1,276.2 483.1,274.4 484.8,273.4 486.2,270.9 487.7,271.0 488.8,270.3 489.4,268.7 489.5,266.1 488.6,263.0 488.5,260.4 487.5,258.8 488.3,258.0 490.3,258.0 490.6,257.3 490.3,256.9 488.8,257.0 487.7,257.7 487.4,257.3 487.7,256.5 489.8,255.6 492.9,256.4 493.8,256.2 492.1,254.2 493.4,253.6 495.0,254.2 495.4,254.7 495.2,255.7 494.7,256.2 494.9,256.8 495.2,256.8 498.1,255.6 498.2,254.7 497.8,253.6 500.7,253.2 501.4,253.6 501.2,254.2 502.0,255.2 501.7,257.3 500.9,258.8 501.2,259.4 501.7,259.4 502.3,258.8 502.4,257.3 503.6,254.7 505.1,253.6 504.8,252.6 505.3,252.1 507.4,252.6 507.8,253.1 507.0,254.2 507.4,254.6 507.9,254.8 509.0,254.4 510.5,255.6 511.6,254.2 513.0,253.6 511.5,250.0 512.1,249.5 513.6,249.6 514.8,248.4 515.1,247.9 513.4,245.3 515.7,243.3 516.1,242.2 513.9,239.1 512.1,239.2 511.6,238.3 511.4,236.5 512.1,235.9 514.2,236.9 517.3,239.5 518.1,237.0 517.8,236.0 516.7,234.9 515.2,235.2 514.7,234.9 515.3,233.4 514.8,232.3 512.1,231.3 512.2,230.2 511.6,229.2 511.7,228.2 513.6,227.1 513.1,226.0 511.6,225.0 510.5,225.4 510.5,227.3 508.5,229.0 507.4,227.8 505.8,227.6 504.8,225.1 503.8,224.7 503.1,226.1 503.0,228.2 501.2,230.0 499.7,229.3 498.1,229.9 495.0,229.8 494.4,229.2 494.0,227.8 492.4,229.7 488.3,229.0 485.7,231.4 485.2,231.4 483.6,230.1 481.0,230.3 479.5,231.1 478.4,229.9 476.4,230.1 475.3,228.2 474.8,227.9 473.5,228.2 473.2,227.7 472.6,228.2 472.9,229.2 472.3,231.3 470.7,232.1 468.6,232.1 468.4,229.2 468.1,228.9 466.2,230.2 466.2,231.3 466.8,232.3 466.4,232.8 465.5,233.6 463.9,234.0 462.9,234.9 461.9,234.7 459.8,233.1 458.2,233.0 457.3,233.4 456.2,235.8 454.6,236.1 454.3,235.4 454.5,233.9 453.6,233.4 452.6,236.0 451.0,235.9 449.6,237.0 449.3,238.0 448.4,238.7 446.6,237.5 446.5,236.5 445.8,235.6 444.2,235.7 442.7,234.8 441.7,235.1 440.2,237.0 440.6,238.1 441.1,238.0 441.7,237.0 443.7,236.1 444.2,236.2 445.1,237.5 445.2,239.1 443.2,240.4 441.7,240.1 440.6,238.9 439.1,239.0 438.8,239.6 439.1,240.6 440.6,241.5 443.2,240.8 444.2,241.1 444.5,241.7 443.7,242.9 441.1,242.6 440.1,242.9 439.2,243.8 439.6,244.6 442.4,246.9 442.8,248.4 441.7,250.3 440.7,249.5 439.1,249.9 438.0,249.0 437.8,249.5 438.5,251.0 438.3,252.6 438.9,254.2 438.5,255.9 439.1,257.3 437.5,259.9 437.4,261.4 436.5,261.9 434.4,261.6 432.9,263.6 430.8,263.1 429.2,263.9 429.2,264.6 430.8,264.5 432.2,265.1 432.1,266.1 430.8,266.9 430.3,267.0 429.7,266.3 428.2,266.5 426.6,265.8 425.6,266.0 423.0,265.1 422.0,265.6 421.5,266.6 421.4,268.2 422.0,268.7 422.5,267.7 423.5,267.3 424.3,267.7 425.0,269.2 426.6,269.2 427.1,269.8 424.1,272.4 424.0,272.9 426.4,276.5 425.2,279.1 424.0,279.5 423.4,280.7 423.2,281.7 424.1,282.8 423.0,284.9 421.5,286.9 420.4,286.9 420.7,288.0 420.4,292.2 419.4,292.1 418.9,292.6 419.7,296.3 421.0,297.8 420.4,298.6 419.3,298.9 419.1,299.4 420.4,300.3 420.6,301.0 419.4,301.8 419.1,302.5 421.2,304.1ZM423.0,289.2 422.8,289.0 423.5,288.2 423.8,288.5ZM425.6,281.8 425.6,280.1 426.1,279.7 427.3,280.2 427.4,280.7 426.8,281.7ZM429.7,268.8 429.4,268.2 430.3,267.3 430.5,268.2ZM440.1,256.5 439.6,254.7 440.1,254.0 441.1,254.0 442.3,255.7ZM486.7,266.4 486.1,265.6 486.7,264.4 487.2,264.1 488.2,265.6 487.7,266.4ZM508.5,253.2 508.0,252.6 509.0,251.4 509.5,251.1 510.6,251.6 510.9,252.1 510.5,252.9 509.0,253.5ZM460.8,289.5 461.9,289.5 461.9,288.5 461.3,288.0 460.5,288.5ZM420.2,282.8 421.5,283.2 421.5,280.8 420.9,280.9 419.9,282.2ZM479.9,282.8 480.8,281.7 479.5,281.0 479.1,281.7ZM488.2,282.8 488.8,282.8 489.2,282.2 488.8,281.4 487.7,281.7ZM481.6,280.2 482.0,280.6 482.6,280.6 482.8,280.2 482.0,279.5ZM420.4,277.0 420.9,277.4 421.4,277.0 421.3,276.0 420.9,275.5 419.9,275.4 419.5,276.0ZM424.8,263.5 426.1,263.5 425.6,263.2ZM434.3,259.4 435.4,259.5 436.0,258.8 434.9,258.7ZM510.7,257.8 512.6,257.3 513.6,258.0 514.5,257.3 514.4,256.8 513.6,256.1 511.0,256.2 510.2,257.3ZM516.4,249.0 516.7,249.1 516.7,248.7ZM518.2,248.4 519.3,248.1 519.9,246.7 519.3,246.4 518.6,246.9ZM457.0,231.3 457.2,231.7 458.0,230.8ZM483.6,229.2 484.1,229.7 484.8,229.2 484.8,227.6 484.1,227.0 483.2,227.1 482.9,227.6ZM479.2,227.6 479.8,227.1 479.5,226.6 478.7,226.6 478.5,227.1ZM473.1,227.1 473.2,227.6 473.8,227.5 474.3,226.3 472.2,224.5 472.1,225.0ZM507.6,227.1 508.5,227.2 509.2,226.1 507.6,225.0 506.9,224.0 505.8,224.0 505.6,224.5 507.3,226.1ZM501.1,224.5 501.2,224.8 501.5,224.5ZM512.2,224.5 513.1,224.7 514.4,224.0 513.6,223.3 512.6,223.3 512.1,224.0ZM510.5,223.0 511.2,223.0 511.3,222.4 510.5,222.0 509.9,222.4Z"/>
<path fill="#72febb" fill-rule="evenodd" d="M421.3,306.7 421.5,306.9 423.0,306.2 424.6,303.8 426.7,303.0 429.2,299.5 430.8,299.8 432.3,302.0 433.4,302.0 434.8,300.4 435.4,298.1 436.0,297.8 437.5,298.7 438.5,297.3 441.1,296.3 442.2,295.4 445.3,294.9 445.8,293.8 448.1,292.6 448.4,291.9 449.9,291.9 451.5,288.8 452.5,288.8 453.6,289.6 454.1,289.3 454.6,288.5 454.6,286.9 455.1,286.2 455.6,286.3 456.2,287.4 455.4,289.0 456.2,289.6 457.2,289.3 458.0,286.9 458.7,286.9 459.8,285.9 462.0,285.4 462.1,284.8 461.3,284.1 461.2,283.3 461.9,281.9 463.4,281.6 464.4,282.4 466.5,280.9 468.1,280.5 468.6,280.7 469.5,282.8 470.1,283.1 470.7,282.2 470.0,279.6 470.7,278.8 472.7,280.3 475.8,279.6 475.0,278.1 475.8,277.4 480.0,278.0 481.9,275.5 482.3,272.4 483.6,270.6 484.6,270.2 485.2,268.7 486.3,268.7 487.2,270.6 488.3,270.4 488.8,269.8 488.8,269.1 487.9,268.2 488.3,267.4 488.8,267.6 489.1,267.2 489.3,265.6 488.8,264.7 488.2,266.6 486.1,266.6 485.2,265.6 485.9,264.6 486.0,263.5 484.5,262.0 485.3,259.9 486.5,258.8 486.6,256.2 487.2,255.5 490.3,254.6 491.4,253.1 494.0,253.0 496.0,253.5 501.7,252.5 503.8,251.5 505.4,250.1 505.9,250.3 506.1,251.6 507.4,251.9 508.5,251.0 510.0,248.2 511.0,249.1 513.8,249.0 514.2,247.9 513.1,246.6 512.1,246.2 511.0,246.6 510.5,246.4 511.0,244.5 512.7,242.7 511.2,238.6 510.6,234.4 511.0,233.7 512.2,234.4 513.0,236.0 514.4,236.0 514.0,234.9 514.4,233.4 514.2,232.8 512.6,232.5 511.0,232.8 510.0,230.7 508.5,231.1 507.4,230.8 507.6,229.2 506.4,228.4 505.5,228.7 505.4,229.2 504.8,228.2 504.8,226.2 504.3,225.5 503.8,225.6 503.4,226.6 504.0,228.2 502.9,229.7 503.0,231.3 501.2,231.4 500.2,232.8 499.2,232.3 498.6,230.6 495.5,230.6 493.4,229.9 491.9,231.1 490.3,230.0 488.8,229.5 488.0,229.7 486.7,231.3 485.7,231.9 483.6,230.9 481.0,231.1 479.5,231.9 478.9,231.8 478.4,230.6 477.9,230.3 475.8,230.6 474.8,228.8 474.1,229.2 473.2,230.4 472.7,232.1 469.6,233.0 469.2,233.4 469.0,234.4 468.1,234.8 466.0,234.1 463.9,235.4 461.9,235.8 461.0,235.4 460.0,233.9 459.3,233.8 457.8,236.0 458.2,236.6 459.1,237.0 459.2,237.5 458.7,237.7 457.2,237.7 455.6,236.7 453.0,237.3 451.5,236.3 450.9,236.5 450.0,237.5 449.8,238.6 448.4,239.6 446.8,241.6 445.8,241.2 443.7,244.2 443.2,244.7 443.0,244.3 442.3,244.3 441.8,244.8 441.6,245.3 442.7,245.9 443.8,248.4 442.4,250.5 441.1,251.4 440.1,250.3 439.1,250.6 438.6,252.6 439.1,253.4 441.1,252.9 441.7,253.1 443.4,256.2 442.7,256.7 441.1,256.8 440.6,257.6 439.6,257.8 438.6,258.8 438.1,259.9 438.4,260.9 437.8,262.5 438.2,264.0 437.0,264.9 436.4,264.6 436.4,263.0 436.1,262.5 434.4,262.1 433.8,263.0 433.6,264.6 433.9,265.3 435.4,265.8 435.4,266.9 434.4,267.3 433.4,266.3 431.9,267.7 431.3,269.0 428.2,269.7 427.2,270.8 426.1,271.2 425.2,272.4 425.0,272.9 425.6,274.2 427.2,276.0 426.1,278.7 427.7,279.8 427.9,280.7 427.2,282.0 424.6,283.2 423.5,284.8 423.5,285.7 424.0,286.1 426.1,286.0 426.7,286.4 425.6,287.4 425.1,288.9 423.5,290.0 423.0,290.2 421.5,289.3 421.0,290.0 422.2,295.2 422.0,295.7 421.1,295.8 421.4,294.7 420.9,294.2 420.4,294.5 421.3,297.8 420.9,298.7 419.7,299.4 420.8,300.4 420.8,301.0 419.3,302.5 421.3,304.1ZM458.2,285.4 457.6,284.8 457.6,284.3 458.2,283.8 459.3,283.8 459.9,284.3 459.8,285.6ZM483.1,256.8 483.0,256.2 483.6,255.8 484.9,256.2 484.1,256.9ZM505.9,230.7 505.4,230.0 505.4,229.2 506.6,230.2ZM449.4,293.7 450.5,293.7 450.6,293.2 449.4,292.8 448.9,293.2ZM423.9,281.2 424.6,281.3 424.6,280.8ZM426.5,268.2 427.6,268.2 427.2,267.1 426.6,267.2ZM422.3,266.6 424.6,266.6 423.0,265.7 422.3,266.1ZM487.3,262.0 487.7,262.3 488.2,261.4 487.7,260.1 487.2,260.2 486.9,260.9ZM496.3,255.2 497.1,255.2 497.2,254.7 496.5,254.4ZM518.8,247.4 519.3,247.8 519.5,246.9ZM440.4,244.8 440.9,244.8 440.9,244.3 440.6,243.6 440.1,243.4 439.6,243.8 439.6,244.3ZM516.6,238.0 517.3,238.5 517.7,237.0 517.2,236.0 516.2,235.4 514.7,236.5 516.2,237.2ZM445.2,237.0 446.0,236.5 445.3,235.8 444.8,236.0 444.7,236.5ZM441.6,236.5 443.0,236.0 443.3,235.4 442.2,235.1 441.4,236.0ZM466.8,231.3 467.5,231.5 468.1,230.9 468.1,230.1 467.6,229.7 466.8,230.2ZM484.0,228.7 484.6,228.2 484.1,227.4 483.5,227.6ZM510.4,228.7 510.5,229.2 510.8,228.7ZM511.3,226.6 511.6,227.0 512.4,226.6 511.6,226.1Z"/>
<path fill="#8cfead" fill-rule="evenodd" d="M421.4,306.2 422.0,306.5 423.0,306.0 424.6,303.6 426.6,302.9 428.7,299.9 429.7,299.2 431.2,299.9 432.3,301.8 433.4,301.8 434.4,300.9 435.4,297.9 436.5,297.7 437.5,298.2 438.1,297.3 440.5,296.3 442.2,294.6 443.7,294.6 447.0,291.1 449.4,289.9 451.0,288.2 452.9,287.4 454.6,285.3 456.7,283.6 458.2,283.2 460.3,283.3 460.8,281.7 463.4,279.9 465.0,280.9 465.5,280.8 467.0,279.3 468.6,279.5 470.7,278.0 471.7,278.3 472.7,279.6 473.2,279.5 473.8,279.1 474.3,277.2 477.4,275.6 478.9,275.7 479.3,276.0 478.9,277.0 479.5,277.1 479.7,276.0 480.5,275.6 480.7,275.0 480.8,272.4 482.6,271.0 483.6,268.7 482.9,261.4 483.1,260.6 483.7,260.4 482.6,259.8 482.3,258.8 485.7,258.6 486.1,257.8 485.7,257.2 485.2,257.1 483.6,257.9 482.0,257.6 481.4,256.8 481.5,256.0 483.6,254.7 486.2,254.8 486.6,253.6 487.2,253.1 489.3,253.5 490.9,252.5 493.4,251.8 496.0,251.7 497.1,252.3 499.5,252.6 501.2,251.5 502.8,249.4 508.5,248.7 511.5,242.2 510.5,238.6 510.0,237.9 509.4,238.0 509.8,237.0 509.0,232.5 505.9,231.8 504.8,231.1 504.4,231.3 503.8,232.3 501.7,232.3 500.7,233.6 499.7,233.8 497.1,232.4 495.0,233.0 494.3,232.8 494.0,232.3 494.4,231.3 494.0,230.7 493.4,230.9 492.7,232.3 491.9,233.0 490.3,232.8 489.3,231.7 488.3,231.3 486.2,232.5 485.2,233.9 484.6,234.1 484.0,233.9 483.7,233.4 484.6,232.3 483.6,231.6 481.8,232.3 482.0,233.4 480.5,234.5 478.4,233.6 477.4,234.5 475.3,235.2 472.7,235.2 471.7,234.7 471.2,235.5 468.6,235.5 466.0,236.1 465.0,236.8 462.6,236.5 461.3,237.9 456.7,238.7 454.1,240.1 454.1,241.2 453.6,241.4 452.5,241.5 449.4,240.2 447.9,243.7 446.3,244.3 447.4,246.4 447.4,247.4 445.0,250.5 443.8,254.2 444.5,255.7 444.1,258.3 442.7,259.6 441.1,260.3 439.6,258.5 438.8,259.4 438.9,260.4 440.5,261.4 440.8,264.0 440.1,266.1 438.0,267.7 436.5,267.4 434.9,268.4 433.3,268.2 432.2,270.8 432.7,272.4 432.3,272.9 430.3,273.4 429.3,277.0 426.8,278.1 426.8,278.6 428.2,279.4 428.6,280.2 427.7,282.3 426.0,283.8 427.3,285.9 427.3,286.9 426.2,289.0 424.2,290.6 423.1,292.6 423.1,295.2 421.9,296.8 421.6,298.4 420.8,299.4 421.1,301.0 419.6,302.5 421.4,304.1ZM424.0,284.8 424.6,285.2 425.3,284.8 425.2,284.3 424.6,284.1ZM426.6,273.4 427.3,273.4 427.4,272.9 426.6,271.9 426.3,272.9ZM486.0,267.7 486.7,268.1 487.4,267.7 486.7,267.3ZM439.4,252.6 439.8,252.6 440.0,252.1 439.6,251.8 439.2,252.1ZM512.0,248.4 513.3,248.4 512.1,247.2 511.5,247.9ZM444.6,247.4 445.6,247.4 444.8,246.9ZM451.3,239.1 452.0,238.8 452.2,238.0 451.5,236.8 450.6,237.5 450.8,238.6ZM471.4,233.9 471.7,234.3 471.9,233.4 471.4,233.4ZM476.3,232.3 477.4,232.5 477.6,231.3 476.4,231.6ZM504.0,226.6 504.3,226.9 504.3,226.4Z"/>
<path fill="#a6f89d" fill-rule="evenodd" d="M421.8,306.2 423.2,305.6 424.6,303.4 426.6,302.6 429.2,299.2 430.3,299.1 431.8,299.9 432.3,299.8 432.3,301.5 432.9,301.8 433.4,301.5 434.4,300.4 435.1,297.8 436.0,297.4 437.5,297.2 440.0,295.8 441.5,293.7 444.2,292.3 449.9,287.8 451.6,286.9 454.4,284.3 455.6,282.2 458.3,282.2 462.9,278.5 465.5,277.4 468.1,277.2 469.6,276.6 471.2,276.8 473.8,275.0 477.4,274.4 481.1,270.3 481.7,268.2 481.4,265.6 481.7,264.0 480.5,258.8 480.1,255.7 481.8,254.2 482.0,253.4 484.6,252.8 486.2,251.5 491.9,251.4 494.5,249.8 500.2,249.8 503.3,247.7 507.0,246.9 507.8,244.8 509.0,244.2 509.6,242.7 508.6,241.7 508.5,240.1 507.7,238.6 508.0,236.5 507.4,235.1 505.9,234.0 504.3,234.4 502.8,234.0 500.2,234.8 497.6,234.0 491.9,234.6 487.7,234.1 481.0,235.4 478.9,235.1 475.3,236.2 473.2,236.0 471.2,237.1 468.2,237.0 462.9,239.7 460.3,239.8 458.2,240.5 457.2,240.3 455.1,242.3 451.5,242.8 449.9,243.7 448.5,245.8 448.7,247.9 446.5,250.5 447.2,253.6 445.6,256.8 445.5,262.0 444.8,263.9 443.1,265.6 442.2,267.2 438.9,269.8 429.5,281.7 427.7,288.0 426.8,289.5 425.1,291.1 425.0,292.6 424.3,293.7 423.7,295.8 421.5,299.9 421.1,301.5 420.1,302.5 421.6,304.1Z"/>
<path fill="#c0eb8d" fill-rule="evenodd" d="M421.9,305.6 423.0,305.7 424.1,303.6 426.6,302.3 429.2,299.0 431.3,299.2 432.9,298.8 433.9,299.5 434.9,297.5 438.0,295.6 440.6,293.0 444.8,290.7 449.2,286.9 450.6,286.4 453.6,284.0 455.6,281.2 458.7,280.0 461.9,277.3 466.5,275.6 476.6,273.4 477.4,272.1 478.5,271.3 480.5,267.2 480.0,265.6 480.1,263.5 479.2,261.4 478.9,259.3 477.2,256.2 477.4,255.2 481.0,252.3 483.9,251.6 485.7,250.1 487.7,250.2 490.9,249.6 493.4,248.4 498.6,248.2 502.2,245.8 504.0,243.8 505.0,241.2 504.3,239.1 502.8,237.7 500.4,236.5 496.5,235.8 494.5,235.9 492.9,236.5 490.3,235.8 486.2,235.6 482.6,236.3 478.9,236.4 473.8,237.5 465.0,240.8 459.8,242.2 457.0,243.2 452.0,246.0 451.3,246.9 451.1,249.0 449.7,250.5 449.4,251.6 449.0,254.7 450.0,257.8 449.7,259.4 443.7,268.1 430.8,284.0 427.2,290.6 426.8,292.6 425.1,294.3 423.3,298.9 420.8,302.5 421.8,304.1Z"/>
<path fill="#d9da7d" fill-rule="evenodd" d="M422.3,305.1 422.5,305.4 422.9,305.1 423.2,304.1 424.6,302.7 426.4,302.0 429.2,298.6 431.3,298.5 432.7,297.8 435.4,296.1 440.1,291.9 444.8,289.6 446.3,288.0 449.9,285.5 451.0,284.3 453.0,283.3 455.1,280.6 460.2,276.5 465.5,274.2 474.8,272.6 475.8,272.1 477.9,270.1 478.9,268.2 478.7,263.5 477.7,261.4 475.8,259.3 470.5,256.8 469.7,255.7 469.7,254.7 471.0,253.6 473.2,252.7 482.9,250.5 485.7,249.0 487.2,249.1 489.8,248.6 497.6,245.3 498.8,244.3 499.5,242.7 499.4,241.2 498.6,239.9 497.1,238.9 487.7,237.5 477.9,238.0 472.1,240.1 462.9,244.3 458.2,247.1 456.5,249.0 455.8,250.5 455.2,256.2 454.5,258.3 452.4,260.9 448.9,264.1 429.8,288.0 428.4,291.1 428.6,293.2 425.6,295.2 425.6,298.9 423.0,300.9 422.2,303.0Z"/>
<path fill="#f2c26b" fill-rule="evenodd" d="M429.7,295.8 430.8,296.2 432.3,295.4 435.2,294.7 438.0,291.6 443.7,288.8 449.3,284.8 450.5,283.4 452.8,282.2 459.3,275.5 465.0,272.5 474.3,271.2 475.8,270.5 477.4,269.1 478.0,267.7 477.9,264.7 476.9,262.1 475.3,260.9 469.2,259.4 462.9,256.7 460.8,256.9 459.3,257.7 449.9,265.2 431.8,287.6 430.8,289.0 430.0,291.1 430.1,293.2 429.4,294.7ZM466.4,249.5 472.2,250.0 481.0,249.2 487.2,247.1 489.3,246.0 491.4,244.3 491.9,242.7 490.8,241.2 487.7,240.0 482.6,239.4 477.9,239.6 472.5,242.2 468.5,244.8 465.9,247.4 465.7,248.4Z"/>
<path fill="#ffa558" fill-rule="evenodd" d="M432.2,291.6 432.9,292.0 436.0,292.0 438.0,290.3 440.1,289.7 441.1,288.1 442.7,287.9 444.2,287.2 452.0,281.4 457.9,275.0 464.4,270.9 475.3,269.2 476.5,268.2 476.9,267.2 475.8,263.4 474.3,262.5 461.9,260.0 459.3,261.0 452.0,265.2 450.3,266.6 436.0,284.9 435.2,286.9 433.9,288.7 431.9,290.0 431.8,291.0ZM477.8,247.4 480.0,247.5 482.5,246.4 484.6,244.8 484.9,243.2 483.7,242.2 482.0,241.6 479.5,241.2 477.9,241.6 474.9,243.8 473.9,245.3 474.3,246.4 474.8,246.7Z"/>
<path fill="#ff8444" fill-rule="evenodd" d="M435.5,290.0 436.0,290.4 436.7,290.0 437.2,289.0 437.0,288.4 436.0,288.6ZM438.0,287.4 443.7,286.3 447.4,283.8 451.0,280.7 457.2,274.0 463.9,268.8 473.4,267.2 474.5,266.6 474.3,265.4 467.8,263.5 462.4,262.7 457.7,263.9 452.5,266.2 451.0,267.6 437.3,285.9 437.2,286.9Z"/>
<path fill="#ff5f30" fill-rule="evenodd" d="M442.9,282.8 443.7,283.3 446.3,282.6 448.9,280.5 459.6,270.3 460.9,268.2 460.7,266.6 459.8,266.1 457.7,266.0 454.6,266.7 452.5,267.7 444.7,278.6Z"/>
<path fill="#ff3b1e" fill-rule="evenodd" d="M450.9,274.4 452.0,274.4 455.6,271.6 456.5,270.3 456.5,269.2 455.1,268.6 453.6,268.9 451.5,272.4Z"/>
</g>
<line x1="396.6" y1="330.6" x2="541.6" y2="185.0" stroke="#f33535" stroke-width="1.2" stroke-dasharray="5.6 4.5"/>
<rect x="396.6" y="185.0" width="145.0" height="145.6" fill="none" stroke="#333" stroke-width="1.3"/>
<path stroke="#444" stroke-width="0.8" fill="none" d="M417.3 330.6v-3M417.3 185.0v3M396.6 309.8h3M541.6 309.8h-3M438.0 330.6v-3M438.0 185.0v3M396.6 289.0h3M541.6 289.0h-3M458.7 330.6v-3M458.7 185.0v3M396.6 268.2h3M541.6 268.2h-3M479.5 330.6v-3M479.5 185.0v3M396.6 247.4h3M541.6 247.4h-3M500.2 330.6v-3M500.2 185.0v3M396.6 226.6h3M541.6 226.6h-3M520.9 330.6v-3M520.9 185.0v3M396.6 205.8h3M541.6 205.8h-3"/>
<g font-family="Liberation Sans, sans-serif" font-size="5.6" fill="#333"><text x="393.6" y="332.1" text-anchor="end">0</text><text x="396.6" y="338.1" text-anchor="middle">0</text><text x="393.6" y="311.3" text-anchor="end">10</text><text x="417.3" y="338.1" text-anchor="middle">10</text><text x="393.6" y="290.5" text-anchor="end">20</text><text x="438.0" y="338.1" text-anchor="middle">20</text><text x="393.6" y="269.7" text-anchor="end">30</text><text x="458.7" y="338.1" text-anchor="middle">30</text><text x="393.6" y="248.9" text-anchor="end">40</text><text x="479.5" y="338.1" text-anchor="middle">40</text><text x="393.6" y="228.1" text-anchor="end">50</text><text x="500.2" y="338.1" text-anchor="middle">50</text><text x="393.6" y="207.3" text-anchor="end">60</text><text x="520.9" y="338.1" text-anchor="middle">60</text><text x="393.6" y="186.5" text-anchor="end">70</text><text x="541.6" y="338.1" text-anchor="middle">70</text></g>
<g font-family="Liberation Serif, serif" font-size="9.5" fill="#1a1a1a" stroke="#1a1a1a" stroke-width="0.12"><text x="401.8" y="195.6">N = 398326</text><text x="401.8" y="206.9">R<tspan font-size="5.4" dy="-3.8">2</tspan><tspan dy="3.8"> = 0.73</tspan></text><text x="401.8" y="218.2">RMSD = 5.88</text><text x="401.8" y="229.5">rRMSD = 19.13%</text></g>
<text transform="translate(16.0,173.7) rotate(-90) scale(1,1.07)" text-anchor="middle" font-family="Liberation Serif, serif" font-size="12.45" fill="#111">Landsat ET aggregated to 500m (mm/8d)</text>
<text transform="translate(32.7,89.2) rotate(-90)" text-anchor="middle" font-family="Liberation Serif, serif" font-size="10.6" fill="#111">Random forest</text>
<text transform="translate(35.8,240.2) rotate(-90)" text-anchor="middle" font-family="Liberation Serif, serif" font-size="10.2" fill="#111">DNN</text>
<text transform="translate(293,353.7) scale(1,1.08)" text-anchor="middle" font-family="Liberation Serif, serif" font-size="12.5" fill="#111">MOD16A2 ET (mm/8d)</text>
<rect x="406" y="343.3" width="107.7" height="4.5" fill="url(#cb)" stroke="#222" stroke-width="0.8"/>
<path stroke="#222" stroke-width="0.7" d="M419 343.3v4.5M433.3 343.3v4.5M456.5 343.3v4.5M487 343.3v4.5"/>
<text x="395.6" y="349.0" font-family="Liberation Sans, sans-serif" font-size="11.5" fill="#222" stroke="#222" stroke-width="0.35">n</text>
<g font-family="Liberation Sans, sans-serif" font-size="8.8" fill="#222" text-anchor="middle"><text x="406" y="355.3">1</text><text x="419.6" y="355.3">5</text><text x="435" y="355.3">12</text><text x="457.7" y="355.3">60</text><text x="488.2" y="355.3">1000</text></g>
</svg>
</body></html>
